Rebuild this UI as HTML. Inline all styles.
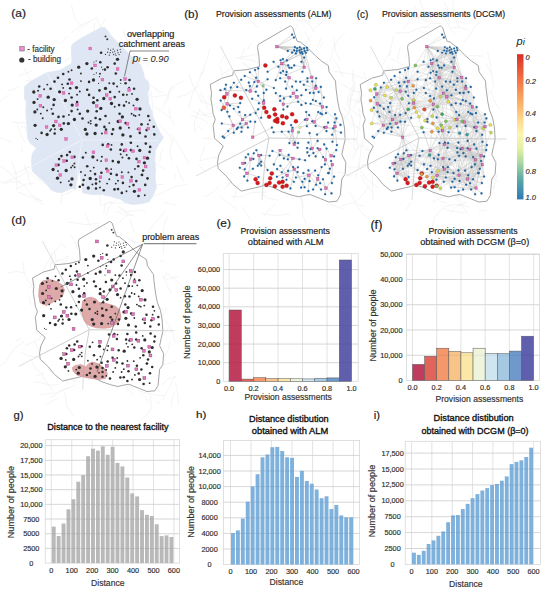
<!DOCTYPE html>
<html><head><meta charset="utf-8"><style>
html,body{margin:0;padding:0;background:#fff;}
svg{display:block;font-family:"Liberation Sans", sans-serif;}
</style></head><body>
<svg width="550" height="593" viewBox="0 0 550 593">
<rect width="550" height="593" fill="#fff"/>
<path d="M31.2,186.3 L27.3,173.5 L24.4,164.8" fill="none" stroke="#ededed" stroke-width="0.6" stroke-linejoin="round"/>
<path d="M160.2,94.8 L155.1,88.7" fill="none" stroke="#ededed" stroke-width="0.6" stroke-linejoin="round"/>
<path d="M25.7,80.3 L40.8,83.1 L48.2,83.5 L53.5,83.4" fill="none" stroke="#ededed" stroke-width="0.6" stroke-linejoin="round"/>
<path d="M47.6,60.6 L38.2,58.9 L25.6,50.5" fill="none" stroke="#ededed" stroke-width="0.6" stroke-linejoin="round"/>
<path d="M25.4,142.7 L20.9,135.3 L16.8,123.1" fill="none" stroke="#ededed" stroke-width="0.6" stroke-linejoin="round"/>
<path d="M167.5,101.2 L169.1,93.2 L175.6,85.0 L183.9,80.8" fill="none" stroke="#ededed" stroke-width="0.6" stroke-linejoin="round"/>
<path d="M153.4,112.8 L152.5,106.0 L151.6,93.3" fill="none" stroke="#ededed" stroke-width="0.6" stroke-linejoin="round"/>
<path d="M127.9,213.4 L122.8,208.9 L118.2,206.6" fill="none" stroke="#ededed" stroke-width="0.6" stroke-linejoin="round"/>
<path d="M42.3,200.8 L27.6,196.0 L18.3,192.1" fill="none" stroke="#ededed" stroke-width="0.6" stroke-linejoin="round"/>
<path d="M122.8,33.4 L130.4,36.3" fill="none" stroke="#ededed" stroke-width="0.6" stroke-linejoin="round"/>
<path d="M39.7,74.9 L43.0,80.9 L51.4,90.6" fill="none" stroke="#ededed" stroke-width="0.6" stroke-linejoin="round"/>
<path d="M88.9,21.5 L81.7,24.7 L71.4,32.7" fill="none" stroke="#ededed" stroke-width="0.6" stroke-linejoin="round"/>
<path d="M174.4,143.0 L167.4,133.1 L159.8,124.6" fill="none" stroke="#ededed" stroke-width="0.6" stroke-linejoin="round"/>
<path d="M18.3,76.5 L31.7,71.0" fill="none" stroke="#ededed" stroke-width="0.6" stroke-linejoin="round"/>
<path d="M61.1,204.7 L61.3,198.2 L62.5,183.9" fill="none" stroke="#ededed" stroke-width="0.6" stroke-linejoin="round"/>
<path d="M161.5,109.0 L164.6,104.5 L166.5,98.7 L172.1,85.0" fill="none" stroke="#ededed" stroke-width="0.6" stroke-linejoin="round"/>
<path d="M167.8,94.8 L153.4,97.0" fill="none" stroke="#ededed" stroke-width="0.6" stroke-linejoin="round"/>
<path d="M176.1,173.3 L174.2,179.1" fill="none" stroke="#ededed" stroke-width="0.6" stroke-linejoin="round"/>
<path d="M163.8,184.3 L150.8,185.0 L144.7,188.1 L137.4,188.5" fill="none" stroke="#ededed" stroke-width="0.6" stroke-linejoin="round"/>
<path d="M151.3,90.4 L146.8,105.1 L139.7,115.9" fill="none" stroke="#ededed" stroke-width="0.6" stroke-linejoin="round"/>
<path d="M108.2,202.0 L114.0,203.2 L128.8,202.8 L143.9,203.4" fill="none" stroke="#ededed" stroke-width="0.6" stroke-linejoin="round"/>
<path d="M79.9,39.9 L90.8,49.2" fill="none" stroke="#ededed" stroke-width="0.6" stroke-linejoin="round"/>
<path d="M13.0,174.2 L22.3,170.6 L27.1,167.6 L42.6,165.3" fill="none" stroke="#ededed" stroke-width="0.6" stroke-linejoin="round"/>
<path d="M174.9,125.4 L171.4,119.3 L166.1,114.5 L154.6,106.5" fill="none" stroke="#ededed" stroke-width="0.6" stroke-linejoin="round"/>
<path d="M23.6,167.5 L35.2,177.5 L42.1,182.2 L49.8,185.8" fill="none" stroke="#ededed" stroke-width="0.6" stroke-linejoin="round"/>
<path d="M20.6,127.0 L25.8,126.9" fill="none" stroke="#ededed" stroke-width="0.6" stroke-linejoin="round"/>
<path d="M25.5,172.3 L19.9,176.4 L5.1,181.9 L-3.4,182.2" fill="none" stroke="#ededed" stroke-width="0.6" stroke-linejoin="round"/>
<path d="M26.5,119.7 L31.2,114.1 L39.8,104.5" fill="none" stroke="#ededed" stroke-width="0.6" stroke-linejoin="round"/>
<path d="M102.4,205.5 L111.3,201.7" fill="none" stroke="#ededed" stroke-width="0.6" stroke-linejoin="round"/>
<path d="M65.9,68.4 L79.0,77.1 L91.6,78.4 L102.9,80.5" fill="none" stroke="#ededed" stroke-width="0.6" stroke-linejoin="round"/>
<path d="M62.3,195.4 L69.3,192.8 L80.0,186.2 L92.8,185.1" fill="none" stroke="#ededed" stroke-width="0.6" stroke-linejoin="round"/>
<path d="M165.0,169.4 L153.7,162.2 L148.9,155.3" fill="none" stroke="#ededed" stroke-width="0.6" stroke-linejoin="round"/>
<path d="M153.9,196.1 L160.2,193.7 L174.0,187.0 L187.3,184.0" fill="none" stroke="#ededed" stroke-width="0.6" stroke-linejoin="round"/>
<path d="M23.7,67.8 L31.5,81.3 L42.0,89.9 L48.3,100.4" fill="none" stroke="#ededed" stroke-width="0.6" stroke-linejoin="round"/>
<path d="M165.5,211.0 L155.5,222.2 L148.2,231.5" fill="none" stroke="#ededed" stroke-width="0.6" stroke-linejoin="round"/>
<path d="M162.9,148.9 L160.9,153.5 L159.7,163.3" fill="none" stroke="#ededed" stroke-width="0.6" stroke-linejoin="round"/>
<path d="M11.9,142.3 L4.3,139.4 L-3.0,136.2" fill="none" stroke="#ededed" stroke-width="0.6" stroke-linejoin="round"/>
<path d="M145.8,211.5 L139.6,210.2 L125.0,211.5" fill="none" stroke="#ededed" stroke-width="0.6" stroke-linejoin="round"/>
<path d="M105.1,19.4 L96.9,32.8 L94.9,43.1 L92.7,51.3" fill="none" stroke="#ededed" stroke-width="0.6" stroke-linejoin="round"/>
<path d="M98.2,17.0 L88.6,22.3 L78.4,30.5" fill="none" stroke="#ededed" stroke-width="0.6" stroke-linejoin="round"/>
<path d="M164.4,93.3 L153.0,87.2 L143.3,78.5" fill="none" stroke="#ededed" stroke-width="0.6" stroke-linejoin="round"/>
<path d="M42.2,201.5 L30.9,194.7 L26.6,187.5 L17.5,179.9" fill="none" stroke="#ededed" stroke-width="0.6" stroke-linejoin="round"/>
<path d="M8.9,94.6 L-0.6,101.6 L-13.2,103.6" fill="none" stroke="#ededed" stroke-width="0.6" stroke-linejoin="round"/>
<path d="M11.9,161.1 L16.2,174.7 L16.8,188.7" fill="none" stroke="#ededed" stroke-width="0.6" stroke-linejoin="round"/>
<path d="M34.2,183.4 L26.3,184.1 L16.1,189.5" fill="none" stroke="#ededed" stroke-width="0.6" stroke-linejoin="round"/>
<path d="M129.1,49.1 L137.4,57.3 L143.9,60.6 L149.0,66.7" fill="none" stroke="#ededed" stroke-width="0.6" stroke-linejoin="round"/>
<path d="M21.1,182.9 L10.0,181.7 L2.2,184.4" fill="none" stroke="#ededed" stroke-width="0.6" stroke-linejoin="round"/>
<path d="M133.3,216.1 L126.6,212.7 L120.6,209.2" fill="none" stroke="#ededed" stroke-width="0.6" stroke-linejoin="round"/>
<path d="M64.4,61.3 L75.3,55.6 L89.7,53.7 L104.5,50.2" fill="none" stroke="#ededed" stroke-width="0.6" stroke-linejoin="round"/>
<path d="M169.1,108.7 L170.6,118.4" fill="none" stroke="#ededed" stroke-width="0.6" stroke-linejoin="round"/>
<path d="M124.2,30.4 L125.1,36.5 L127.6,41.5" fill="none" stroke="#ededed" stroke-width="0.6" stroke-linejoin="round"/>
<path d="M172.3,139.4 L169.8,151.8 L171.7,161.0" fill="none" stroke="#ededed" stroke-width="0.6" stroke-linejoin="round"/>
<path d="M37.0,63.1 L41.4,54.9 L44.7,47.8" fill="none" stroke="#ededed" stroke-width="0.6" stroke-linejoin="round"/>
<path d="M90.0,194.6 L98.1,189.8 L111.3,187.7" fill="none" stroke="#ededed" stroke-width="0.6" stroke-linejoin="round"/>
<path d="M34.2,199.5 L44.0,204.5" fill="none" stroke="#ededed" stroke-width="0.6" stroke-linejoin="round"/>
<path d="M21.9,147.2 L22.6,152.9" fill="none" stroke="#ededed" stroke-width="0.6" stroke-linejoin="round"/>
<path d="M54.9,40.3 L60.3,43.8" fill="none" stroke="#ededed" stroke-width="0.6" stroke-linejoin="round"/>
<path d="M64.4,70.4 L65.5,75.9 L62.8,87.1 L61.7,98.7" fill="none" stroke="#ededed" stroke-width="0.6" stroke-linejoin="round"/>
<path d="M18.7,87.4 L8.4,91.1" fill="none" stroke="#ededed" stroke-width="0.6" stroke-linejoin="round"/>
<path d="M81.1,25.8 L75.0,19.1 L73.6,13.8 L71.4,4.2" fill="none" stroke="#ededed" stroke-width="0.6" stroke-linejoin="round"/>
<path d="M12.5,121.7 L17.8,122.5 L30.9,123.0" fill="none" stroke="#ededed" stroke-width="0.6" stroke-linejoin="round"/>
<path d="M61.6,42.8 L66.5,36.1" fill="none" stroke="#ededed" stroke-width="0.6" stroke-linejoin="round"/>
<path d="M170.9,133.6 L177.0,142.5 L184.3,154.8 L189.1,164.4" fill="none" stroke="#ededed" stroke-width="0.6" stroke-linejoin="round"/>
<path d="M176.8,165.4 L178.6,171.2 L183.5,181.5" fill="none" stroke="#ededed" stroke-width="0.6" stroke-linejoin="round"/>
<path d="M15.8,179.8 L10.3,173.3 L-0.4,165.4" fill="none" stroke="#ededed" stroke-width="0.6" stroke-linejoin="round"/>
<path d="M96.8,18.5 L100.0,26.5 L103.1,31.3" fill="none" stroke="#ededed" stroke-width="0.6" stroke-linejoin="round"/>
<path d="M163.5,202.3 L177.0,205.5" fill="none" stroke="#ededed" stroke-width="0.6" stroke-linejoin="round"/>
<path d="M106.2,215.3 L108.7,206.9 L118.3,197.1 L123.4,190.4" fill="none" stroke="#ededed" stroke-width="0.6" stroke-linejoin="round"/>
<path d="M94.6,22.6 L93.7,37.6" fill="none" stroke="#ededed" stroke-width="0.6" stroke-linejoin="round"/>
<path d="M25.2,125.9 L26.3,131.6" fill="none" stroke="#ededed" stroke-width="0.6" stroke-linejoin="round"/>
<path d="M45.7,56.9 L33.4,58.3" fill="none" stroke="#ededed" stroke-width="0.6" stroke-linejoin="round"/>
<path d="M100.9,205.7 L99.1,191.6 L102.4,182.7 L100.9,172.0" fill="none" stroke="#ededed" stroke-width="0.6" stroke-linejoin="round"/>
<path d="M101.5,27.6 L104.7,27.6 L108.0,30.9 L109.5,34.0 L120.0,45.1 L130.0,55.0 L136.0,60.5 L140.4,64.4 L142.9,70.8 L144.5,78.0 L148.5,82.0 L149.3,88.5 L147.7,93.3 L148.5,102.9 L151.7,110.9 L153.3,117.3 L156.5,125.3 L160.4,133.3 L163.4,137.3 L159.4,143.4 L155.3,150.5 L154.8,160.6 L155.5,169.0 L155.0,178.2 L156.4,187.3 L152.7,196.4 L149.1,201.8 L141.8,203.6 L132.7,204.5 L125.5,202.7 L120.0,199.1 L110.9,196.4 L101.8,194.5 L90.9,194.5 L82.7,192.7 L79.4,168.0 L75.5,189.5 L72.4,188.1 L62.3,192.4 L56.6,192.4 L50.9,189.6 L45.1,182.4 L38.0,176.6 L32.2,170.9 L31.5,160.9 L32.2,153.7 L36.5,148.0 L30.8,143.7 L27.9,139.3 L26.5,121.1 L25.8,110.9 L26.5,102.0 L24.5,98.2 L24.5,86.7 L30.3,81.6 L46.8,72.7 L60.0,70.2 L71.5,63.6 L72.0,59.3 L71.5,52.7 L71.5,46.2 L73.1,43.5 L81.8,38.0 L92.7,32.0 Z" fill="#dfe7f4" stroke="#dfe7f4" stroke-width="0.8" stroke-linejoin="round"/>
<path d="M46.8,72.8 L62.3,101.8 L82.3,139.8" fill="none" stroke="#eef2fa" stroke-width="1.0" stroke-linejoin="round"/>
<path d="M82.3,139.8 L158.3,140.8" fill="none" stroke="#eef2fa" stroke-width="1.0" stroke-linejoin="round"/>
<path d="M82.3,139.8 L31.2,166.3" fill="none" stroke="#eef2fa" stroke-width="1.0" stroke-linejoin="round"/>
<path d="M82.3,139.8 L78.3,161.8 L76.3,186.8" fill="none" stroke="#eef2fa" stroke-width="1.0" stroke-linejoin="round"/>
<circle cx="78.7" cy="67.2" r="1.65" fill="#2d2d2d"/>
<circle cx="68.4" cy="71.8" r="0.95" fill="#2d2d2d"/>
<circle cx="71.6" cy="70.2" r="0.95" fill="#2d2d2d"/>
<circle cx="63.2" cy="74.0" r="1.3" fill="#2d2d2d"/>
<circle cx="80.9" cy="73.5" r="0.95" fill="#2d2d2d"/>
<circle cx="58.0" cy="77.8" r="1.3" fill="#2d2d2d"/>
<circle cx="69.5" cy="79.5" r="1.3" fill="#2d2d2d"/>
<circle cx="54.5" cy="81.6" r="1.3" fill="#2d2d2d"/>
<circle cx="47.3" cy="84.6" r="0.95" fill="#2d2d2d"/>
<circle cx="62.1" cy="84.4" r="0.95" fill="#2d2d2d"/>
<circle cx="67.8" cy="83.8" r="1.3" fill="#2d2d2d"/>
<circle cx="80.9" cy="81.1" r="0.95" fill="#2d2d2d"/>
<circle cx="39.2" cy="86.5" r="1.3" fill="#2d2d2d"/>
<circle cx="63.2" cy="87.9" r="0.95" fill="#2d2d2d"/>
<circle cx="70.2" cy="88.2" r="1.3" fill="#2d2d2d"/>
<circle cx="76.5" cy="87.6" r="1.65" fill="#2d2d2d"/>
<circle cx="50.6" cy="88.7" r="1.3" fill="#2d2d2d"/>
<circle cx="44.1" cy="89.3" r="0.95" fill="#2d2d2d"/>
<circle cx="38.1" cy="90.7" r="0.95" fill="#2d2d2d"/>
<circle cx="33.8" cy="92.0" r="1.65" fill="#2d2d2d"/>
<circle cx="59.6" cy="91.8" r="1.65" fill="#2d2d2d"/>
<circle cx="79.8" cy="91.5" r="0.95" fill="#2d2d2d"/>
<circle cx="48.2" cy="97.2" r="1.65" fill="#2d2d2d"/>
<circle cx="69.1" cy="93.6" r="0.95" fill="#2d2d2d"/>
<circle cx="71.6" cy="97.5" r="1.3" fill="#2d2d2d"/>
<circle cx="77.1" cy="94.7" r="0.95" fill="#2d2d2d"/>
<circle cx="54.2" cy="99.6" r="1.65" fill="#2d2d2d"/>
<circle cx="65.4" cy="100.5" r="1.65" fill="#2d2d2d"/>
<circle cx="37.6" cy="99.1" r="0.95" fill="#2d2d2d"/>
<circle cx="34.0" cy="102.4" r="1.65" fill="#2d2d2d"/>
<circle cx="77.1" cy="102.0" r="1.3" fill="#2d2d2d"/>
<circle cx="53.6" cy="104.9" r="1.3" fill="#2d2d2d"/>
<circle cx="72.2" cy="105.1" r="1.65" fill="#2d2d2d"/>
<circle cx="43.3" cy="107.3" r="0.95" fill="#2d2d2d"/>
<circle cx="51.5" cy="108.9" r="0.95" fill="#2d2d2d"/>
<circle cx="37.3" cy="109.5" r="0.95" fill="#2d2d2d"/>
<circle cx="34.9" cy="111.9" r="1.65" fill="#2d2d2d"/>
<circle cx="47.1" cy="110.5" r="0.95" fill="#2d2d2d"/>
<circle cx="71.6" cy="111.1" r="1.3" fill="#2d2d2d"/>
<circle cx="77.6" cy="109.5" r="0.95" fill="#2d2d2d"/>
<circle cx="52.8" cy="113.8" r="1.3" fill="#2d2d2d"/>
<circle cx="40.8" cy="113.6" r="0.95" fill="#2d2d2d"/>
<circle cx="68.9" cy="114.9" r="0.95" fill="#2d2d2d"/>
<circle cx="79.8" cy="113.8" r="1.3" fill="#2d2d2d"/>
<circle cx="105.5" cy="36.4" r="0.95" fill="#2d2d2d"/>
<circle cx="107.3" cy="39.3" r="0.95" fill="#2d2d2d"/>
<circle cx="101.1" cy="52.7" r="1.3" fill="#2d2d2d"/>
<circle cx="108.2" cy="48.9" r="0.6" fill="#2d2d2d"/>
<circle cx="110.6" cy="50.2" r="0.6" fill="#2d2d2d"/>
<circle cx="113.1" cy="49.1" r="0.6" fill="#2d2d2d"/>
<circle cx="114.7" cy="51.1" r="0.6" fill="#2d2d2d"/>
<circle cx="117.5" cy="50.2" r="0.6" fill="#2d2d2d"/>
<circle cx="120.2" cy="49.5" r="0.6" fill="#2d2d2d"/>
<circle cx="107.6" cy="52.2" r="0.6" fill="#2d2d2d"/>
<circle cx="110.1" cy="52.7" r="0.6" fill="#2d2d2d"/>
<circle cx="112.8" cy="52.2" r="0.6" fill="#2d2d2d"/>
<circle cx="115.3" cy="53.8" r="0.6" fill="#2d2d2d"/>
<circle cx="118.0" cy="52.7" r="0.6" fill="#2d2d2d"/>
<circle cx="105.5" cy="54.4" r="0.6" fill="#2d2d2d"/>
<circle cx="109.3" cy="55.2" r="0.6" fill="#2d2d2d"/>
<circle cx="113.6" cy="54.6" r="0.6" fill="#2d2d2d"/>
<circle cx="116.0" cy="55.5" r="0.6" fill="#2d2d2d"/>
<circle cx="119.1" cy="54.6" r="0.6" fill="#2d2d2d"/>
<circle cx="120.7" cy="52.0" r="0.6" fill="#2d2d2d"/>
<circle cx="117.5" cy="59.3" r="1.65" fill="#2d2d2d"/>
<circle cx="114.7" cy="63.6" r="1.3" fill="#2d2d2d"/>
<circle cx="86.9" cy="63.6" r="1.65" fill="#2d2d2d"/>
<circle cx="100.3" cy="62.2" r="1.3" fill="#2d2d2d"/>
<circle cx="94.0" cy="62.0" r="0.6" fill="#2d2d2d"/>
<circle cx="96.2" cy="60.9" r="0.6" fill="#2d2d2d"/>
<circle cx="107.6" cy="67.2" r="1.3" fill="#2d2d2d"/>
<circle cx="104.9" cy="69.6" r="1.3" fill="#2d2d2d"/>
<circle cx="101.6" cy="67.2" r="0.6" fill="#2d2d2d"/>
<circle cx="102.7" cy="69.6" r="0.6" fill="#2d2d2d"/>
<circle cx="91.8" cy="68.5" r="1.3" fill="#2d2d2d"/>
<circle cx="115.8" cy="73.5" r="1.3" fill="#2d2d2d"/>
<circle cx="96.4" cy="72.9" r="0.6" fill="#2d2d2d"/>
<circle cx="100.0" cy="73.8" r="0.95" fill="#2d2d2d"/>
<circle cx="94.0" cy="74.5" r="0.6" fill="#2d2d2d"/>
<circle cx="99.5" cy="76.7" r="0.6" fill="#2d2d2d"/>
<circle cx="93.5" cy="80.0" r="1.65" fill="#2d2d2d"/>
<circle cx="89.1" cy="81.9" r="1.3" fill="#2d2d2d"/>
<circle cx="98.6" cy="83.3" r="0.6" fill="#2d2d2d"/>
<circle cx="109.3" cy="83.3" r="0.95" fill="#2d2d2d"/>
<circle cx="113.6" cy="83.6" r="1.3" fill="#2d2d2d"/>
<circle cx="120.7" cy="80.0" r="0.95" fill="#2d2d2d"/>
<circle cx="120.7" cy="83.3" r="0.6" fill="#2d2d2d"/>
<circle cx="125.6" cy="83.3" r="1.3" fill="#2d2d2d"/>
<circle cx="129.5" cy="80.0" r="1.3" fill="#2d2d2d"/>
<circle cx="87.2" cy="89.8" r="1.3" fill="#2d2d2d"/>
<circle cx="99.5" cy="90.4" r="1.3" fill="#2d2d2d"/>
<circle cx="105.5" cy="88.4" r="1.65" fill="#2d2d2d"/>
<circle cx="117.1" cy="86.5" r="0.95" fill="#2d2d2d"/>
<circle cx="110.1" cy="92.0" r="1.3" fill="#2d2d2d"/>
<circle cx="119.3" cy="91.7" r="0.95" fill="#2d2d2d"/>
<circle cx="129.1" cy="87.6" r="0.95" fill="#2d2d2d"/>
<circle cx="134.1" cy="88.7" r="1.3" fill="#2d2d2d"/>
<circle cx="89.1" cy="94.9" r="1.3" fill="#2d2d2d"/>
<circle cx="123.2" cy="94.7" r="1.3" fill="#2d2d2d"/>
<circle cx="126.9" cy="94.7" r="0.95" fill="#2d2d2d"/>
<circle cx="132.0" cy="93.9" r="0.95" fill="#2d2d2d"/>
<circle cx="93.5" cy="97.8" r="1.3" fill="#2d2d2d"/>
<circle cx="103.8" cy="98.5" r="1.65" fill="#2d2d2d"/>
<circle cx="114.7" cy="97.1" r="1.3" fill="#2d2d2d"/>
<circle cx="137.1" cy="99.3" r="1.65" fill="#2d2d2d"/>
<circle cx="97.3" cy="100.2" r="1.3" fill="#2d2d2d"/>
<circle cx="93.5" cy="102.6" r="1.65" fill="#2d2d2d"/>
<circle cx="111.5" cy="103.5" r="1.65" fill="#2d2d2d"/>
<circle cx="126.2" cy="101.8" r="0.95" fill="#2d2d2d"/>
<circle cx="129.1" cy="102.9" r="0.95" fill="#2d2d2d"/>
<circle cx="119.1" cy="105.1" r="1.3" fill="#2d2d2d"/>
<circle cx="124.0" cy="105.6" r="1.3" fill="#2d2d2d"/>
<circle cx="133.5" cy="105.4" r="0.95" fill="#2d2d2d"/>
<circle cx="100.8" cy="108.4" r="1.65" fill="#2d2d2d"/>
<circle cx="114.7" cy="106.7" r="0.95" fill="#2d2d2d"/>
<circle cx="140.0" cy="108.9" r="1.65" fill="#2d2d2d"/>
<circle cx="87.7" cy="111.1" r="1.65" fill="#2d2d2d"/>
<circle cx="96.7" cy="111.3" r="1.3" fill="#2d2d2d"/>
<circle cx="119.6" cy="113.8" r="1.3" fill="#2d2d2d"/>
<circle cx="131.6" cy="113.8" r="0.95" fill="#2d2d2d"/>
<circle cx="133.8" cy="115.2" r="0.95" fill="#2d2d2d"/>
<circle cx="135.5" cy="116.0" r="0.95" fill="#2d2d2d"/>
<circle cx="139.3" cy="114.9" r="0.95" fill="#2d2d2d"/>
<circle cx="122.4" cy="116.9" r="1.65" fill="#2d2d2d"/>
<circle cx="105.5" cy="116.0" r="1.3" fill="#2d2d2d"/>
<circle cx="95.6" cy="118.0" r="1.3" fill="#2d2d2d"/>
<circle cx="100.0" cy="119.3" r="1.3" fill="#2d2d2d"/>
<circle cx="82.5" cy="118.5" r="1.3" fill="#2d2d2d"/>
<circle cx="118.2" cy="121.5" r="1.65" fill="#2d2d2d"/>
<circle cx="125.6" cy="123.1" r="1.3" fill="#2d2d2d"/>
<circle cx="109.3" cy="123.1" r="0.95" fill="#2d2d2d"/>
<circle cx="90.7" cy="120.9" r="0.95" fill="#2d2d2d"/>
<circle cx="88.5" cy="122.5" r="0.95" fill="#2d2d2d"/>
<circle cx="90.7" cy="123.6" r="0.95" fill="#2d2d2d"/>
<circle cx="141.5" cy="124.4" r="1.3" fill="#2d2d2d"/>
<circle cx="96.2" cy="125.1" r="1.65" fill="#2d2d2d"/>
<circle cx="120.2" cy="128.0" r="1.65" fill="#2d2d2d"/>
<circle cx="128.9" cy="127.7" r="0.95" fill="#2d2d2d"/>
<circle cx="104.4" cy="126.9" r="1.3" fill="#2d2d2d"/>
<circle cx="106.0" cy="129.6" r="1.3" fill="#2d2d2d"/>
<circle cx="113.1" cy="129.4" r="1.3" fill="#2d2d2d"/>
<circle cx="137.6" cy="129.1" r="0.95" fill="#2d2d2d"/>
<circle cx="85.3" cy="129.4" r="1.65" fill="#2d2d2d"/>
<circle cx="86.9" cy="134.0" r="1.65" fill="#2d2d2d"/>
<circle cx="95.1" cy="133.5" r="1.65" fill="#2d2d2d"/>
<circle cx="101.9" cy="133.5" r="0.95" fill="#2d2d2d"/>
<circle cx="112.0" cy="134.0" r="1.3" fill="#2d2d2d"/>
<circle cx="122.9" cy="134.9" r="1.65" fill="#2d2d2d"/>
<circle cx="139.8" cy="132.9" r="1.3" fill="#2d2d2d"/>
<circle cx="130.5" cy="136.4" r="1.3" fill="#2d2d2d"/>
<circle cx="102.7" cy="144.9" r="1.3" fill="#2d2d2d"/>
<circle cx="108.2" cy="144.4" r="1.3" fill="#2d2d2d"/>
<circle cx="111.5" cy="144.9" r="0.95" fill="#2d2d2d"/>
<circle cx="121.8" cy="144.4" r="1.3" fill="#2d2d2d"/>
<circle cx="130.9" cy="142.7" r="1.3" fill="#2d2d2d"/>
<circle cx="42.7" cy="118.2" r="0.95" fill="#2d2d2d"/>
<circle cx="58.5" cy="116.9" r="1.3" fill="#2d2d2d"/>
<circle cx="63.5" cy="116.5" r="1.3" fill="#2d2d2d"/>
<circle cx="74.4" cy="119.5" r="1.65" fill="#2d2d2d"/>
<circle cx="35.1" cy="125.3" r="1.65" fill="#2d2d2d"/>
<circle cx="53.6" cy="125.6" r="1.65" fill="#2d2d2d"/>
<circle cx="63.8" cy="123.4" r="1.3" fill="#2d2d2d"/>
<circle cx="68.4" cy="123.6" r="1.65" fill="#2d2d2d"/>
<circle cx="51.2" cy="129.3" r="0.95" fill="#2d2d2d"/>
<circle cx="50.1" cy="130.7" r="0.95" fill="#2d2d2d"/>
<circle cx="54.9" cy="129.3" r="0.95" fill="#2d2d2d"/>
<circle cx="61.3" cy="129.3" r="1.65" fill="#2d2d2d"/>
<circle cx="41.6" cy="132.9" r="1.3" fill="#2d2d2d"/>
<circle cx="47.1" cy="134.5" r="1.65" fill="#2d2d2d"/>
<circle cx="54.7" cy="133.5" r="1.3" fill="#2d2d2d"/>
<circle cx="36.0" cy="138.4" r="0.6" fill="#2d2d2d"/>
<circle cx="37.5" cy="139.5" r="0.6" fill="#2d2d2d"/>
<circle cx="69.8" cy="152.0" r="1.3" fill="#2d2d2d"/>
<circle cx="67.1" cy="155.1" r="1.3" fill="#2d2d2d"/>
<circle cx="61.5" cy="156.1" r="1.3" fill="#2d2d2d"/>
<circle cx="74.4" cy="156.9" r="1.3" fill="#2d2d2d"/>
<circle cx="59.1" cy="159.1" r="1.3" fill="#2d2d2d"/>
<circle cx="66.7" cy="160.7" r="1.3" fill="#2d2d2d"/>
<circle cx="58.5" cy="164.9" r="1.3" fill="#2d2d2d"/>
<circle cx="74.4" cy="163.5" r="0.95" fill="#2d2d2d"/>
<circle cx="72.7" cy="165.6" r="0.95" fill="#2d2d2d"/>
<circle cx="71.1" cy="167.5" r="0.95" fill="#2d2d2d"/>
<circle cx="74.6" cy="167.3" r="0.95" fill="#2d2d2d"/>
<circle cx="53.1" cy="169.5" r="1.65" fill="#2d2d2d"/>
<circle cx="66.2" cy="170.5" r="1.65" fill="#2d2d2d"/>
<circle cx="58.0" cy="171.1" r="0.95" fill="#2d2d2d"/>
<circle cx="80.9" cy="171.9" r="0.95" fill="#2d2d2d"/>
<circle cx="110.9" cy="149.5" r="1.3" fill="#2d2d2d"/>
<circle cx="120.4" cy="149.8" r="1.3" fill="#2d2d2d"/>
<circle cx="124.0" cy="150.9" r="1.3" fill="#2d2d2d"/>
<circle cx="130.9" cy="150.1" r="1.3" fill="#2d2d2d"/>
<circle cx="139.8" cy="150.4" r="1.65" fill="#2d2d2d"/>
<circle cx="137.6" cy="146.2" r="0.95" fill="#2d2d2d"/>
<circle cx="85.8" cy="152.8" r="0.95" fill="#2d2d2d"/>
<circle cx="120.7" cy="154.2" r="0.95" fill="#2d2d2d"/>
<circle cx="126.7" cy="154.9" r="0.95" fill="#2d2d2d"/>
<circle cx="82.9" cy="157.5" r="1.3" fill="#2d2d2d"/>
<circle cx="92.9" cy="156.9" r="1.65" fill="#2d2d2d"/>
<circle cx="101.9" cy="156.7" r="0.95" fill="#2d2d2d"/>
<circle cx="122.4" cy="157.5" r="0.95" fill="#2d2d2d"/>
<circle cx="128.9" cy="158.2" r="1.3" fill="#2d2d2d"/>
<circle cx="136.5" cy="158.9" r="1.3" fill="#2d2d2d"/>
<circle cx="97.3" cy="160.2" r="0.95" fill="#2d2d2d"/>
<circle cx="101.1" cy="161.1" r="0.95" fill="#2d2d2d"/>
<circle cx="112.8" cy="161.1" r="1.3" fill="#2d2d2d"/>
<circle cx="118.5" cy="162.1" r="1.65" fill="#2d2d2d"/>
<circle cx="87.2" cy="166.2" r="1.3" fill="#2d2d2d"/>
<circle cx="138.2" cy="166.2" r="1.3" fill="#2d2d2d"/>
<circle cx="93.8" cy="167.6" r="0.95" fill="#2d2d2d"/>
<circle cx="106.5" cy="168.9" r="1.3" fill="#2d2d2d"/>
<circle cx="111.2" cy="169.1" r="0.95" fill="#2d2d2d"/>
<circle cx="134.9" cy="168.9" r="0.95" fill="#2d2d2d"/>
<circle cx="90.5" cy="170.9" r="0.95" fill="#2d2d2d"/>
<circle cx="121.8" cy="172.2" r="0.95" fill="#2d2d2d"/>
<circle cx="128.4" cy="172.4" r="0.95" fill="#2d2d2d"/>
<circle cx="95.1" cy="174.1" r="1.3" fill="#2d2d2d"/>
<circle cx="101.4" cy="172.7" r="1.3" fill="#2d2d2d"/>
<circle cx="110.9" cy="173.8" r="1.3" fill="#2d2d2d"/>
<circle cx="116.7" cy="174.9" r="1.3" fill="#2d2d2d"/>
<circle cx="141.5" cy="174.9" r="0.95" fill="#2d2d2d"/>
<circle cx="85.1" cy="175.2" r="0.95" fill="#2d2d2d"/>
<circle cx="131.6" cy="177.1" r="1.3" fill="#2d2d2d"/>
<circle cx="90.2" cy="178.5" r="1.65" fill="#2d2d2d"/>
<circle cx="96.0" cy="179.3" r="1.3" fill="#2d2d2d"/>
<circle cx="109.3" cy="179.3" r="0.95" fill="#2d2d2d"/>
<circle cx="83.6" cy="180.0" r="1.3" fill="#2d2d2d"/>
<circle cx="118.0" cy="180.7" r="0.95" fill="#2d2d2d"/>
<circle cx="136.3" cy="181.1" r="1.3" fill="#2d2d2d"/>
<circle cx="99.7" cy="181.5" r="0.95" fill="#2d2d2d"/>
<circle cx="122.9" cy="182.9" r="1.3" fill="#2d2d2d"/>
<circle cx="96.0" cy="183.6" r="1.3" fill="#2d2d2d"/>
<circle cx="92.4" cy="184.4" r="0.95" fill="#2d2d2d"/>
<circle cx="107.1" cy="183.6" r="0.95" fill="#2d2d2d"/>
<circle cx="115.8" cy="183.6" r="0.95" fill="#2d2d2d"/>
<circle cx="82.9" cy="184.7" r="1.3" fill="#2d2d2d"/>
<circle cx="133.5" cy="185.1" r="1.3" fill="#2d2d2d"/>
<circle cx="129.5" cy="186.6" r="0.95" fill="#2d2d2d"/>
<circle cx="100.0" cy="187.5" r="0.95" fill="#2d2d2d"/>
<circle cx="88.3" cy="188.0" r="1.65" fill="#2d2d2d"/>
<circle cx="96.0" cy="188.5" r="1.3" fill="#2d2d2d"/>
<circle cx="114.5" cy="189.4" r="1.3" fill="#2d2d2d"/>
<circle cx="118.0" cy="189.1" r="1.3" fill="#2d2d2d"/>
<circle cx="103.8" cy="190.2" r="1.3" fill="#2d2d2d"/>
<circle cx="134.4" cy="191.3" r="1.65" fill="#2d2d2d"/>
<circle cx="126.5" cy="191.3" r="0.95" fill="#2d2d2d"/>
<circle cx="121.8" cy="192.9" r="1.3" fill="#2d2d2d"/>
<circle cx="138.5" cy="196.0" r="1.3" fill="#2d2d2d"/>
<circle cx="148.3" cy="116.1" r="1.3" fill="#2d2d2d"/>
<circle cx="149.7" cy="120.2" r="0.95" fill="#2d2d2d"/>
<circle cx="147.9" cy="124.3" r="0.95" fill="#2d2d2d"/>
<circle cx="153.8" cy="126.7" r="1.3" fill="#2d2d2d"/>
<circle cx="146.6" cy="130.1" r="1.3" fill="#2d2d2d"/>
<circle cx="154.3" cy="134.4" r="1.3" fill="#2d2d2d"/>
<circle cx="145.5" cy="136.5" r="1.3" fill="#2d2d2d"/>
<circle cx="145.8" cy="143.6" r="1.3" fill="#2d2d2d"/>
<circle cx="150.2" cy="146.9" r="1.3" fill="#2d2d2d"/>
<circle cx="149.6" cy="151.9" r="1.3" fill="#2d2d2d"/>
<circle cx="147.5" cy="158.2" r="1.65" fill="#2d2d2d"/>
<circle cx="144.4" cy="162.8" r="1.65" fill="#2d2d2d"/>
<circle cx="143.1" cy="170.6" r="1.3" fill="#2d2d2d"/>
<circle cx="142.1" cy="174.9" r="1.3" fill="#2d2d2d"/>
<circle cx="147.5" cy="178.4" r="1.3" fill="#2d2d2d"/>
<circle cx="145.2" cy="184.9" r="1.3" fill="#2d2d2d"/>
<circle cx="144.8" cy="195.2" r="0.95" fill="#2d2d2d"/>
<circle cx="57.5" cy="178.2" r="1.65" fill="#2d2d2d"/>
<circle cx="60.7" cy="182.4" r="0.95" fill="#2d2d2d"/>
<circle cx="72.0" cy="178.9" r="1.65" fill="#2d2d2d"/>
<circle cx="68.9" cy="181.1" r="0.95" fill="#2d2d2d"/>
<circle cx="70.9" cy="184.8" r="1.65" fill="#2d2d2d"/>
<circle cx="79.8" cy="186.7" r="1.3" fill="#2d2d2d"/>
<rect x="88.85" y="47.10" width="2.80" height="2.80" fill="#ec74c4" stroke="#c06098" stroke-width="0.4"/>
<rect x="93.75" y="64.00" width="2.80" height="2.80" fill="#ec74c4" stroke="#c06098" stroke-width="0.4"/>
<rect x="116.15" y="67.70" width="2.80" height="2.80" fill="#ec74c4" stroke="#c06098" stroke-width="0.4"/>
<rect x="101.05" y="78.20" width="2.80" height="2.80" fill="#ec74c4" stroke="#c06098" stroke-width="0.4"/>
<rect x="123.75" y="77.70" width="2.80" height="2.80" fill="#ec74c4" stroke="#c06098" stroke-width="0.4"/>
<rect x="127.75" y="88.60" width="2.80" height="2.80" fill="#ec74c4" stroke="#c06098" stroke-width="0.4"/>
<rect x="105.25" y="93.70" width="2.80" height="2.80" fill="#ec74c4" stroke="#c06098" stroke-width="0.4"/>
<rect x="108.85" y="97.30" width="2.80" height="2.80" fill="#ec74c4" stroke="#c06098" stroke-width="0.4"/>
<rect x="95.25" y="104.60" width="2.80" height="2.80" fill="#ec74c4" stroke="#c06098" stroke-width="0.4"/>
<rect x="134.35" y="107.30" width="2.80" height="2.80" fill="#ec74c4" stroke="#c06098" stroke-width="0.4"/>
<rect x="62.15" y="91.50" width="2.80" height="2.80" fill="#ec74c4" stroke="#c06098" stroke-width="0.4"/>
<rect x="70.15" y="81.80" width="2.80" height="2.80" fill="#ec74c4" stroke="#c06098" stroke-width="0.4"/>
<rect x="75.65" y="103.40" width="2.80" height="2.80" fill="#ec74c4" stroke="#c06098" stroke-width="0.4"/>
<rect x="38.85" y="94.40" width="2.80" height="2.80" fill="#ec74c4" stroke="#c06098" stroke-width="0.4"/>
<rect x="54.45" y="120.10" width="2.80" height="2.80" fill="#ec74c4" stroke="#c06098" stroke-width="0.4"/>
<rect x="58.25" y="123.90" width="2.80" height="2.80" fill="#ec74c4" stroke="#c06098" stroke-width="0.4"/>
<rect x="45.15" y="125.70" width="2.80" height="2.80" fill="#ec74c4" stroke="#c06098" stroke-width="0.4"/>
<rect x="64.65" y="137.60" width="2.80" height="2.80" fill="#ec74c4" stroke="#c06098" stroke-width="0.4"/>
<rect x="118.85" y="119.80" width="2.80" height="2.80" fill="#ec74c4" stroke="#c06098" stroke-width="0.4"/>
<rect x="137.95" y="127.70" width="2.80" height="2.80" fill="#ec74c4" stroke="#c06098" stroke-width="0.4"/>
<rect x="146.95" y="127.10" width="2.80" height="2.80" fill="#ec74c4" stroke="#c06098" stroke-width="0.4"/>
<rect x="39.05" y="104.30" width="2.80" height="2.80" fill="#ec74c4" stroke="#c06098" stroke-width="0.4"/>
<rect x="58.95" y="173.70" width="2.80" height="2.80" fill="#ec74c4" stroke="#c06098" stroke-width="0.4"/>
<rect x="99.05" y="175.80" width="2.80" height="2.80" fill="#ec74c4" stroke="#c06098" stroke-width="0.4"/>
<rect x="104.35" y="131.20" width="2.80" height="2.80" fill="#ec74c4" stroke="#c06098" stroke-width="0.4"/>
<rect x="92.05" y="150.90" width="2.80" height="2.80" fill="#ec74c4" stroke="#c06098" stroke-width="0.4"/>
<rect x="124.15" y="148.80" width="2.80" height="2.80" fill="#ec74c4" stroke="#c06098" stroke-width="0.4"/>
<rect x="131.75" y="149.80" width="2.80" height="2.80" fill="#ec74c4" stroke="#c06098" stroke-width="0.4"/>
<rect x="143.05" y="156.20" width="2.80" height="2.80" fill="#ec74c4" stroke="#c06098" stroke-width="0.4"/>
<rect x="104.95" y="158.80" width="2.80" height="2.80" fill="#ec74c4" stroke="#c06098" stroke-width="0.4"/>
<rect x="144.25" y="165.10" width="2.80" height="2.80" fill="#ec74c4" stroke="#c06098" stroke-width="0.4"/>
<rect x="106.25" y="169.60" width="2.80" height="2.80" fill="#ec74c4" stroke="#c06098" stroke-width="0.4"/>
<rect x="120.95" y="175.60" width="2.80" height="2.80" fill="#ec74c4" stroke="#c06098" stroke-width="0.4"/>
<rect x="129.65" y="179.40" width="2.80" height="2.80" fill="#ec74c4" stroke="#c06098" stroke-width="0.4"/>
<rect x="137.95" y="188.50" width="2.80" height="2.80" fill="#ec74c4" stroke="#c06098" stroke-width="0.4"/>
<rect x="137.45" y="160.20" width="2.80" height="2.80" fill="#ec74c4" stroke="#c06098" stroke-width="0.4"/>
<rect x="70.85" y="155.90" width="2.80" height="2.80" fill="#ec74c4" stroke="#c06098" stroke-width="0.4"/>
<rect x="62.75" y="159.60" width="2.80" height="2.80" fill="#ec74c4" stroke="#c06098" stroke-width="0.4"/>
<rect x="54.95" y="163.80" width="2.80" height="2.80" fill="#ec74c4" stroke="#c06098" stroke-width="0.4"/>
<rect x="126.15" y="122.40" width="2.80" height="2.80" fill="#ec74c4" stroke="#c06098" stroke-width="0.4"/>
<rect x="106.15" y="144.80" width="2.80" height="2.80" fill="#ec74c4" stroke="#c06098" stroke-width="0.4"/>
<rect x="19.80" y="46.60" width="4.40" height="4.40" fill="#f08fcf" stroke="#555" stroke-width="0.5"/>
<circle cx="21.8" cy="60" r="2.6" fill="#333"/>
<text x="27.3" y="51.6" font-size="8.8" fill="#333" stroke="#333" stroke-width="0.18" textLength="27.2" lengthAdjust="spacingAndGlyphs">- facility</text>
<text x="28.0" y="62.0" font-size="8.8" fill="#333" stroke="#333" stroke-width="0.18" textLength="33.0" lengthAdjust="spacingAndGlyphs">- building</text>
<text x="126.9" y="37.3" font-size="8.8" fill="#222" stroke="#222" stroke-width="0.18" textLength="47.6" lengthAdjust="spacingAndGlyphs">overlapping</text>
<text x="118.7" y="46.7" font-size="8.8" fill="#222" stroke="#222" stroke-width="0.18" textLength="66.4" lengthAdjust="spacingAndGlyphs">catchment areas</text>
<path d="M169.0,51.0 L130.0,51.0 L124.5,76.4" fill="none" stroke="#555" stroke-width="0.7" stroke-linejoin="round"/>
<text x="132.4" y="62.2" font-size="10" font-style="italic" fill="#222" textLength="36.3" lengthAdjust="spacingAndGlyphs">p<tspan font-size="8">i</tspan><tspan font-size="9"> = 0.90</tspan></text>
<path d="M357.5,204.6 L364.2,206.0" fill="none" stroke="#ededed" stroke-width="0.6" stroke-linejoin="round"/>
<path d="M237.8,57.4 L247.4,56.3 L260.1,53.4 L274.9,57.6" fill="none" stroke="#ededed" stroke-width="0.6" stroke-linejoin="round"/>
<path d="M199.7,108.0 L194.6,121.8 L194.4,128.7" fill="none" stroke="#ededed" stroke-width="0.6" stroke-linejoin="round"/>
<path d="M290.2,214.0 L275.3,215.6 L261.8,213.5" fill="none" stroke="#ededed" stroke-width="0.6" stroke-linejoin="round"/>
<path d="M278.3,200.0 L268.4,198.3 L261.0,193.5" fill="none" stroke="#ededed" stroke-width="0.6" stroke-linejoin="round"/>
<path d="M354.9,177.9 L359.4,163.6 L361.1,148.2 L364.4,138.1" fill="none" stroke="#ededed" stroke-width="0.6" stroke-linejoin="round"/>
<path d="M353.8,139.7 L365.3,149.3 L377.5,154.3" fill="none" stroke="#ededed" stroke-width="0.6" stroke-linejoin="round"/>
<path d="M205.0,145.6 L200.1,159.9" fill="none" stroke="#ededed" stroke-width="0.6" stroke-linejoin="round"/>
<path d="M323.2,42.3 L320.3,47.1" fill="none" stroke="#ededed" stroke-width="0.6" stroke-linejoin="round"/>
<path d="M347.7,166.9 L360.0,167.2 L374.4,161.4" fill="none" stroke="#ededed" stroke-width="0.6" stroke-linejoin="round"/>
<path d="M199.3,160.9 L214.2,157.3 L224.9,157.2" fill="none" stroke="#ededed" stroke-width="0.6" stroke-linejoin="round"/>
<path d="M195.3,132.9 L194.9,127.5" fill="none" stroke="#ededed" stroke-width="0.6" stroke-linejoin="round"/>
<path d="M321.2,37.6 L317.4,48.0" fill="none" stroke="#ededed" stroke-width="0.6" stroke-linejoin="round"/>
<path d="M297.9,24.2 L292.3,35.6 L289.3,42.5" fill="none" stroke="#ededed" stroke-width="0.6" stroke-linejoin="round"/>
<path d="M198.1,126.6 L203.3,130.4" fill="none" stroke="#ededed" stroke-width="0.6" stroke-linejoin="round"/>
<path d="M234.4,198.3 L236.1,190.9" fill="none" stroke="#ededed" stroke-width="0.6" stroke-linejoin="round"/>
<path d="M284.5,16.0 L295.0,14.7 L300.3,11.6" fill="none" stroke="#ededed" stroke-width="0.6" stroke-linejoin="round"/>
<path d="M198.4,165.1 L206.2,171.5" fill="none" stroke="#ededed" stroke-width="0.6" stroke-linejoin="round"/>
<path d="M231.1,196.3 L240.8,197.0 L251.3,192.5 L266.6,192.2" fill="none" stroke="#ededed" stroke-width="0.6" stroke-linejoin="round"/>
<path d="M293.8,199.1 L287.1,190.8 L284.1,179.5" fill="none" stroke="#ededed" stroke-width="0.6" stroke-linejoin="round"/>
<path d="M311.5,35.2 L302.8,46.1 L300.0,57.8 L297.0,72.3" fill="none" stroke="#ededed" stroke-width="0.6" stroke-linejoin="round"/>
<path d="M299.3,16.1 L304.2,19.3 L308.9,24.6" fill="none" stroke="#ededed" stroke-width="0.6" stroke-linejoin="round"/>
<path d="M262.2,39.3 L267.7,46.0" fill="none" stroke="#ededed" stroke-width="0.6" stroke-linejoin="round"/>
<path d="M212.9,138.6 L202.4,138.2" fill="none" stroke="#ededed" stroke-width="0.6" stroke-linejoin="round"/>
<path d="M330.8,68.8 L318.7,63.9 L308.8,60.8" fill="none" stroke="#ededed" stroke-width="0.6" stroke-linejoin="round"/>
<path d="M313.9,31.9 L309.3,24.2 L309.0,17.6 L308.2,11.9" fill="none" stroke="#ededed" stroke-width="0.6" stroke-linejoin="round"/>
<path d="M363.1,144.6 L372.9,152.8 L376.9,160.5" fill="none" stroke="#ededed" stroke-width="0.6" stroke-linejoin="round"/>
<path d="M224.3,72.4 L233.3,78.2 L238.8,83.8" fill="none" stroke="#ededed" stroke-width="0.6" stroke-linejoin="round"/>
<path d="M347.1,107.2 L347.9,98.3 L352.3,86.0" fill="none" stroke="#ededed" stroke-width="0.6" stroke-linejoin="round"/>
<path d="M204.1,69.8 L198.4,81.2 L191.9,95.4 L188.5,108.1" fill="none" stroke="#ededed" stroke-width="0.6" stroke-linejoin="round"/>
<path d="M339.9,60.0 L335.5,51.9 L333.8,36.9" fill="none" stroke="#ededed" stroke-width="0.6" stroke-linejoin="round"/>
<path d="M349.1,108.3 L361.6,117.3" fill="none" stroke="#ededed" stroke-width="0.6" stroke-linejoin="round"/>
<path d="M348.9,191.9 L353.4,197.6 L358.1,208.0 L367.4,218.2" fill="none" stroke="#ededed" stroke-width="0.6" stroke-linejoin="round"/>
<path d="M251.9,68.4 L241.7,62.7" fill="none" stroke="#ededed" stroke-width="0.6" stroke-linejoin="round"/>
<path d="M204.2,114.9 L209.1,113.6 L224.5,110.6 L234.8,107.0" fill="none" stroke="#ededed" stroke-width="0.6" stroke-linejoin="round"/>
<path d="M343.0,76.7 L337.5,65.1 L332.8,58.8" fill="none" stroke="#ededed" stroke-width="0.6" stroke-linejoin="round"/>
<path d="M351.5,116.7 L354.6,130.7 L353.6,142.6 L354.5,150.1" fill="none" stroke="#ededed" stroke-width="0.6" stroke-linejoin="round"/>
<path d="M242.2,206.6 L245.8,213.0 L251.1,219.9" fill="none" stroke="#ededed" stroke-width="0.6" stroke-linejoin="round"/>
<path d="M342.8,107.2 L351.3,115.7 L354.3,123.7 L359.6,129.3" fill="none" stroke="#ededed" stroke-width="0.6" stroke-linejoin="round"/>
<path d="M330.2,61.6 L333.5,48.2 L337.4,41.0 L345.0,32.3" fill="none" stroke="#ededed" stroke-width="0.6" stroke-linejoin="round"/>
<path d="M302.5,208.9 L301.4,196.6 L299.3,187.5 L291.2,174.2" fill="none" stroke="#ededed" stroke-width="0.6" stroke-linejoin="round"/>
<path d="M199.8,85.2 L191.8,90.9 L185.4,95.0 L176.4,97.3" fill="none" stroke="#ededed" stroke-width="0.6" stroke-linejoin="round"/>
<path d="M220.6,78.3 L234.2,78.4" fill="none" stroke="#ededed" stroke-width="0.6" stroke-linejoin="round"/>
<path d="M251.3,43.3 L247.4,49.9" fill="none" stroke="#ededed" stroke-width="0.6" stroke-linejoin="round"/>
<path d="M219.5,185.2 L212.1,192.9 L204.3,196.8" fill="none" stroke="#ededed" stroke-width="0.6" stroke-linejoin="round"/>
<path d="M354.4,150.9 L362.4,144.9" fill="none" stroke="#ededed" stroke-width="0.6" stroke-linejoin="round"/>
<path d="M199.2,100.5 L210.6,104.8 L225.4,103.6" fill="none" stroke="#ededed" stroke-width="0.6" stroke-linejoin="round"/>
<path d="M280.4,27.1 L280.3,37.8" fill="none" stroke="#ededed" stroke-width="0.6" stroke-linejoin="round"/>
<path d="M341.0,195.8 L341.9,183.4 L343.2,169.3 L339.2,154.3" fill="none" stroke="#ededed" stroke-width="0.6" stroke-linejoin="round"/>
<path d="M224.5,55.4 L220.0,63.6" fill="none" stroke="#ededed" stroke-width="0.6" stroke-linejoin="round"/>
<path d="M306.9,21.1 L297.6,20.8" fill="none" stroke="#ededed" stroke-width="0.6" stroke-linejoin="round"/>
<path d="M313.0,198.4 L320.9,185.8" fill="none" stroke="#ededed" stroke-width="0.6" stroke-linejoin="round"/>
<path d="M348.4,128.8 L343.4,130.8 L331.3,138.8" fill="none" stroke="#ededed" stroke-width="0.6" stroke-linejoin="round"/>
<path d="M224.0,189.9 L231.1,180.5 L239.0,172.3" fill="none" stroke="#ededed" stroke-width="0.6" stroke-linejoin="round"/>
<path d="M339.5,82.6 L351.8,90.1 L363.2,93.3" fill="none" stroke="#ededed" stroke-width="0.6" stroke-linejoin="round"/>
<path d="M230.2,182.4 L227.2,186.8" fill="none" stroke="#ededed" stroke-width="0.6" stroke-linejoin="round"/>
<path d="M207.2,109.1 L206.2,102.8 L200.5,92.6" fill="none" stroke="#ededed" stroke-width="0.6" stroke-linejoin="round"/>
<path d="M258.9,28.0 L250.9,21.2 L242.7,8.6" fill="none" stroke="#ededed" stroke-width="0.6" stroke-linejoin="round"/>
<path d="M220.7,74.9 L231.8,68.6" fill="none" stroke="#ededed" stroke-width="0.6" stroke-linejoin="round"/>
<path d="M234.9,57.6 L250.1,59.7 L263.2,64.8 L273.3,64.7" fill="none" stroke="#ededed" stroke-width="0.6" stroke-linejoin="round"/>
<path d="M243.4,63.1 L248.1,66.8 L253.7,77.9 L263.8,85.8" fill="none" stroke="#ededed" stroke-width="0.6" stroke-linejoin="round"/>
<path d="M212.2,117.1 L199.7,114.4 L193.0,111.3" fill="none" stroke="#ededed" stroke-width="0.6" stroke-linejoin="round"/>
<path d="M199.2,110.7 L205.9,114.5" fill="none" stroke="#ededed" stroke-width="0.6" stroke-linejoin="round"/>
<path d="M310.3,42.3 L304.9,31.3" fill="none" stroke="#ededed" stroke-width="0.6" stroke-linejoin="round"/>
<path d="M275.4,203.9 L270.9,207.9 L263.3,216.8" fill="none" stroke="#ededed" stroke-width="0.6" stroke-linejoin="round"/>
<path d="M202.5,101.8 L194.0,88.3 L189.1,74.6" fill="none" stroke="#ededed" stroke-width="0.6" stroke-linejoin="round"/>
<path d="M208.0,123.1 L201.8,118.6 L190.6,115.2" fill="none" stroke="#ededed" stroke-width="0.6" stroke-linejoin="round"/>
<path d="M342.8,208.7 L328.6,204.0" fill="none" stroke="#ededed" stroke-width="0.6" stroke-linejoin="round"/>
<path d="M213.8,134.4 L219.3,137.2" fill="none" stroke="#ededed" stroke-width="0.6" stroke-linejoin="round"/>
<path d="M312.7,31.0 L316.7,27.1 L324.5,19.7 L334.4,8.4" fill="none" stroke="#ededed" stroke-width="0.6" stroke-linejoin="round"/>
<path d="M360.5,129.4 L350.6,123.3 L341.3,112.2" fill="none" stroke="#ededed" stroke-width="0.6" stroke-linejoin="round"/>
<path d="M219.8,65.3 L222.6,76.2" fill="none" stroke="#ededed" stroke-width="0.6" stroke-linejoin="round"/>
<path d="M240.8,58.9 L244.6,47.7" fill="none" stroke="#ededed" stroke-width="0.6" stroke-linejoin="round"/>
<path d="M199.7,75.4 L203.8,68.7 L206.9,59.1 L209.8,48.7" fill="none" stroke="#ededed" stroke-width="0.6" stroke-linejoin="round"/>
<path d="M300.2,196.5 L303.1,204.1 L302.4,213.1 L306.4,225.0" fill="none" stroke="#ededed" stroke-width="0.6" stroke-linejoin="round"/>
<path d="M236.8,209.0 L227.4,202.3 L220.0,195.5" fill="none" stroke="#ededed" stroke-width="0.6" stroke-linejoin="round"/>
<path d="M217.8,164.5 L196.0,176.0" fill="none" stroke="#dadada" stroke-width="0.9" stroke-linejoin="round"/>
<path d="M345.0,139.0 L357.0,139.0" fill="none" stroke="#dadada" stroke-width="0.9" stroke-linejoin="round"/>
<path d="M233.5,71.0 L220.4,46.2" fill="none" stroke="#dadada" stroke-width="0.9" stroke-linejoin="round"/>
<path d="M263.0,185.0 L262.0,200.0" fill="none" stroke="#dadada" stroke-width="0.9" stroke-linejoin="round"/>
<path d="M290.3,25.8 L292.6,27.6 L297.1,41.3 L300.2,42.0 L307.8,48.1 L315.4,55.7 L321.4,61.0 L328.3,65.6 L329.0,71.6 L332.1,76.2 L335.5,81.0 L336.0,88.0 L337.5,100.0 L339.5,110.0 L342.7,118.2 L344.5,128.0 L345.1,139.8 L343.5,146.4 L341.8,154.5 L345.9,162.7 L345.1,174.2 L341.8,179.1 L340.2,195.5 L336.9,201.2 L328.7,202.0 L320.6,198.7 L310.0,194.5 L305.1,195.2 L298.6,196.8 L292.0,195.2 L282.2,191.9 L274.0,187.8 L265.0,184.5 L261.0,186.5 L250.0,189.0 L241.3,191.1 L233.1,184.5 L226.5,176.4 L218.2,168.5 L217.5,162.0 L218.9,154.7 L223.3,146.0 L214.5,138.4 L213.8,131.1 L213.1,125.3 L215.3,119.5 L213.1,113.6 L212.4,107.8 L210.9,99.1 L211.6,93.3 L210.2,84.5 L221.8,78.2 L232.7,75.3 L233.5,70.9 L248.0,69.5 L259.6,66.5 L258.9,56.4 L257.5,47.6 L258.2,44.5 Z" fill="#fff" stroke="#9c9c9c" stroke-width="0.9" stroke-linejoin="round"/>
<path d="M233.5,71.0 L249.0,100.0 L269.0,138.0" fill="none" stroke="#cfcfcf" stroke-width="1.0" stroke-linejoin="round"/>
<path d="M269.0,138.0 L345.0,139.0" fill="none" stroke="#cfcfcf" stroke-width="1.0" stroke-linejoin="round"/>
<path d="M269.0,138.0 L217.8,164.5" fill="none" stroke="#cfcfcf" stroke-width="1.0" stroke-linejoin="round"/>
<path d="M269.0,138.0 L265.0,160.0 L263.0,185.0" fill="none" stroke="#cfcfcf" stroke-width="1.0" stroke-linejoin="round"/>
<line x1="255.05" y1="70.00" x2="258.20" y2="81.40" stroke="#b4b4b4" stroke-width="0.45"/>
<line x1="258.25" y1="68.40" x2="258.20" y2="81.40" stroke="#b4b4b4" stroke-width="0.45"/>
<line x1="249.85" y1="72.20" x2="258.20" y2="81.40" stroke="#b4b4b4" stroke-width="0.45"/>
<line x1="267.55" y1="71.70" x2="281.80" y2="63.60" stroke="#b4b4b4" stroke-width="0.45"/>
<line x1="244.65" y1="76.00" x2="258.20" y2="81.40" stroke="#b4b4b4" stroke-width="0.45"/>
<line x1="256.15" y1="77.70" x2="250.20" y2="91.10" stroke="#b4b4b4" stroke-width="0.45"/>
<line x1="241.15" y1="79.80" x2="226.90" y2="94.00" stroke="#b4b4b4" stroke-width="0.45"/>
<line x1="233.95" y1="82.80" x2="226.90" y2="94.00" stroke="#b4b4b4" stroke-width="0.45"/>
<line x1="248.75" y1="82.60" x2="250.20" y2="91.10" stroke="#b4b4b4" stroke-width="0.45"/>
<line x1="254.45" y1="82.00" x2="250.20" y2="91.10" stroke="#b4b4b4" stroke-width="0.45"/>
<line x1="267.55" y1="79.30" x2="250.20" y2="91.10" stroke="#b4b4b4" stroke-width="0.45"/>
<line x1="225.85" y1="84.70" x2="226.90" y2="94.00" stroke="#b4b4b4" stroke-width="0.45"/>
<line x1="249.85" y1="86.10" x2="250.20" y2="91.10" stroke="#b4b4b4" stroke-width="0.45"/>
<line x1="256.85" y1="86.40" x2="258.20" y2="81.40" stroke="#b4b4b4" stroke-width="0.45"/>
<line x1="263.15" y1="85.80" x2="263.70" y2="103.00" stroke="#b4b4b4" stroke-width="0.45"/>
<line x1="237.25" y1="86.90" x2="250.20" y2="91.10" stroke="#b4b4b4" stroke-width="0.45"/>
<line x1="230.75" y1="87.50" x2="227.10" y2="103.90" stroke="#b4b4b4" stroke-width="0.45"/>
<line x1="224.75" y1="88.90" x2="226.90" y2="94.00" stroke="#b4b4b4" stroke-width="0.45"/>
<line x1="220.45" y1="90.20" x2="250.20" y2="91.10" stroke="#b4b4b4" stroke-width="0.45"/>
<line x1="246.25" y1="90.00" x2="250.20" y2="91.10" stroke="#b4b4b4" stroke-width="0.45"/>
<line x1="266.45" y1="89.70" x2="258.20" y2="81.40" stroke="#b4b4b4" stroke-width="0.45"/>
<line x1="255.75" y1="91.80" x2="250.20" y2="91.10" stroke="#b4b4b4" stroke-width="0.45"/>
<line x1="258.25" y1="95.70" x2="263.70" y2="103.00" stroke="#b4b4b4" stroke-width="0.45"/>
<line x1="263.75" y1="92.90" x2="263.70" y2="103.00" stroke="#b4b4b4" stroke-width="0.45"/>
<line x1="252.05" y1="98.70" x2="263.70" y2="103.00" stroke="#b4b4b4" stroke-width="0.45"/>
<line x1="220.65" y1="100.60" x2="233.20" y2="125.30" stroke="#b4b4b4" stroke-width="0.45"/>
<line x1="263.75" y1="100.20" x2="263.70" y2="103.00" stroke="#b4b4b4" stroke-width="0.45"/>
<line x1="240.25" y1="103.10" x2="227.10" y2="103.90" stroke="#b4b4b4" stroke-width="0.45"/>
<line x1="258.85" y1="103.30" x2="263.70" y2="103.00" stroke="#b4b4b4" stroke-width="0.45"/>
<line x1="229.95" y1="105.50" x2="227.10" y2="103.90" stroke="#b4b4b4" stroke-width="0.45"/>
<line x1="238.15" y1="107.10" x2="227.10" y2="103.90" stroke="#b4b4b4" stroke-width="0.45"/>
<line x1="221.55" y1="110.10" x2="226.90" y2="94.00" stroke="#b4b4b4" stroke-width="0.45"/>
<line x1="233.75" y1="108.70" x2="242.50" y2="119.70" stroke="#b4b4b4" stroke-width="0.45"/>
<line x1="258.25" y1="109.30" x2="242.50" y2="119.70" stroke="#b4b4b4" stroke-width="0.45"/>
<line x1="239.45" y1="112.00" x2="242.50" y2="119.70" stroke="#b4b4b4" stroke-width="0.45"/>
<line x1="227.45" y1="111.80" x2="227.10" y2="103.90" stroke="#b4b4b4" stroke-width="0.45"/>
<line x1="255.55" y1="113.10" x2="263.70" y2="103.00" stroke="#b4b4b4" stroke-width="0.45"/>
<line x1="292.15" y1="34.60" x2="276.90" y2="46.70" stroke="#b4b4b4" stroke-width="0.45"/>
<line x1="293.95" y1="37.50" x2="276.90" y2="46.70" stroke="#b4b4b4" stroke-width="0.45"/>
<line x1="287.75" y1="50.90" x2="276.90" y2="46.70" stroke="#b4b4b4" stroke-width="0.45"/>
<line x1="294.85" y1="47.10" x2="276.90" y2="46.70" stroke="#b4b4b4" stroke-width="0.45"/>
<line x1="297.25" y1="48.40" x2="276.90" y2="46.70" stroke="#b4b4b4" stroke-width="0.45"/>
<line x1="299.75" y1="47.30" x2="304.20" y2="67.30" stroke="#b4b4b4" stroke-width="0.45"/>
<line x1="301.35" y1="49.30" x2="281.80" y2="63.60" stroke="#b4b4b4" stroke-width="0.45"/>
<line x1="304.15" y1="48.40" x2="281.80" y2="63.60" stroke="#b4b4b4" stroke-width="0.45"/>
<line x1="306.85" y1="47.70" x2="276.90" y2="46.70" stroke="#b4b4b4" stroke-width="0.45"/>
<line x1="294.25" y1="50.40" x2="276.90" y2="46.70" stroke="#b4b4b4" stroke-width="0.45"/>
<line x1="296.75" y1="50.90" x2="276.90" y2="46.70" stroke="#b4b4b4" stroke-width="0.45"/>
<line x1="299.45" y1="50.40" x2="304.20" y2="67.30" stroke="#b4b4b4" stroke-width="0.45"/>
<line x1="301.95" y1="52.00" x2="304.20" y2="67.30" stroke="#b4b4b4" stroke-width="0.45"/>
<line x1="304.65" y1="50.90" x2="311.80" y2="77.30" stroke="#b4b4b4" stroke-width="0.45"/>
<line x1="292.15" y1="52.60" x2="281.80" y2="63.60" stroke="#b4b4b4" stroke-width="0.45"/>
<line x1="295.95" y1="53.40" x2="276.90" y2="46.70" stroke="#b4b4b4" stroke-width="0.45"/>
<line x1="300.25" y1="52.80" x2="304.20" y2="67.30" stroke="#b4b4b4" stroke-width="0.45"/>
<line x1="302.65" y1="53.70" x2="281.80" y2="63.60" stroke="#b4b4b4" stroke-width="0.45"/>
<line x1="305.75" y1="52.80" x2="304.20" y2="67.30" stroke="#b4b4b4" stroke-width="0.45"/>
<line x1="307.35" y1="50.20" x2="281.80" y2="63.60" stroke="#b4b4b4" stroke-width="0.45"/>
<line x1="304.15" y1="57.50" x2="311.80" y2="77.30" stroke="#b4b4b4" stroke-width="0.45"/>
<line x1="301.35" y1="61.80" x2="304.20" y2="67.30" stroke="#b4b4b4" stroke-width="0.45"/>
<line x1="273.55" y1="61.80" x2="289.10" y2="77.80" stroke="#b4b4b4" stroke-width="0.45"/>
<line x1="286.95" y1="60.40" x2="281.80" y2="63.60" stroke="#b4b4b4" stroke-width="0.45"/>
<line x1="280.65" y1="60.20" x2="281.80" y2="63.60" stroke="#b4b4b4" stroke-width="0.45"/>
<line x1="282.85" y1="59.10" x2="289.10" y2="77.80" stroke="#b4b4b4" stroke-width="0.45"/>
<line x1="294.25" y1="65.40" x2="304.20" y2="67.30" stroke="#b4b4b4" stroke-width="0.45"/>
<line x1="291.55" y1="67.80" x2="281.80" y2="63.60" stroke="#b4b4b4" stroke-width="0.45"/>
<line x1="288.25" y1="65.40" x2="281.80" y2="63.60" stroke="#b4b4b4" stroke-width="0.45"/>
<line x1="289.35" y1="67.80" x2="281.80" y2="63.60" stroke="#b4b4b4" stroke-width="0.45"/>
<line x1="278.45" y1="66.70" x2="281.80" y2="63.60" stroke="#b4b4b4" stroke-width="0.45"/>
<line x1="302.45" y1="71.70" x2="304.20" y2="67.30" stroke="#b4b4b4" stroke-width="0.45"/>
<line x1="283.05" y1="71.10" x2="281.80" y2="63.60" stroke="#b4b4b4" stroke-width="0.45"/>
<line x1="286.65" y1="72.00" x2="281.80" y2="63.60" stroke="#b4b4b4" stroke-width="0.45"/>
<line x1="280.65" y1="72.70" x2="289.10" y2="77.80" stroke="#b4b4b4" stroke-width="0.45"/>
<line x1="286.15" y1="74.90" x2="304.20" y2="67.30" stroke="#b4b4b4" stroke-width="0.45"/>
<line x1="280.15" y1="78.20" x2="289.10" y2="77.80" stroke="#b4b4b4" stroke-width="0.45"/>
<line x1="275.75" y1="80.10" x2="281.80" y2="63.60" stroke="#b4b4b4" stroke-width="0.45"/>
<line x1="285.25" y1="81.50" x2="293.30" y2="93.30" stroke="#b4b4b4" stroke-width="0.45"/>
<line x1="295.95" y1="81.50" x2="289.10" y2="77.80" stroke="#b4b4b4" stroke-width="0.45"/>
<line x1="300.25" y1="81.80" x2="311.80" y2="77.30" stroke="#b4b4b4" stroke-width="0.45"/>
<line x1="307.35" y1="78.20" x2="311.80" y2="77.30" stroke="#b4b4b4" stroke-width="0.45"/>
<line x1="307.35" y1="81.50" x2="315.80" y2="88.20" stroke="#b4b4b4" stroke-width="0.45"/>
<line x1="312.25" y1="81.50" x2="315.80" y2="88.20" stroke="#b4b4b4" stroke-width="0.45"/>
<line x1="316.15" y1="78.20" x2="315.80" y2="88.20" stroke="#b4b4b4" stroke-width="0.45"/>
<line x1="273.85" y1="88.00" x2="258.20" y2="81.40" stroke="#b4b4b4" stroke-width="0.45"/>
<line x1="286.15" y1="88.60" x2="289.10" y2="77.80" stroke="#b4b4b4" stroke-width="0.45"/>
<line x1="292.15" y1="86.60" x2="296.90" y2="96.90" stroke="#b4b4b4" stroke-width="0.45"/>
<line x1="303.75" y1="84.70" x2="315.80" y2="88.20" stroke="#b4b4b4" stroke-width="0.45"/>
<line x1="296.75" y1="90.20" x2="293.30" y2="93.30" stroke="#b4b4b4" stroke-width="0.45"/>
<line x1="305.95" y1="89.90" x2="315.80" y2="88.20" stroke="#b4b4b4" stroke-width="0.45"/>
<line x1="315.75" y1="85.80" x2="315.80" y2="88.20" stroke="#b4b4b4" stroke-width="0.45"/>
<line x1="320.75" y1="86.90" x2="322.40" y2="106.90" stroke="#b4b4b4" stroke-width="0.45"/>
<line x1="275.75" y1="93.10" x2="283.30" y2="104.20" stroke="#b4b4b4" stroke-width="0.45"/>
<line x1="309.85" y1="92.90" x2="315.80" y2="88.20" stroke="#b4b4b4" stroke-width="0.45"/>
<line x1="313.55" y1="92.90" x2="311.80" y2="77.30" stroke="#b4b4b4" stroke-width="0.45"/>
<line x1="318.65" y1="92.10" x2="315.80" y2="88.20" stroke="#b4b4b4" stroke-width="0.45"/>
<line x1="280.15" y1="96.00" x2="296.90" y2="96.90" stroke="#b4b4b4" stroke-width="0.45"/>
<line x1="290.45" y1="96.70" x2="293.30" y2="93.30" stroke="#b4b4b4" stroke-width="0.45"/>
<line x1="301.35" y1="95.30" x2="296.90" y2="96.90" stroke="#b4b4b4" stroke-width="0.45"/>
<line x1="323.75" y1="97.50" x2="311.80" y2="77.30" stroke="#b4b4b4" stroke-width="0.45"/>
<line x1="283.95" y1="98.40" x2="283.30" y2="104.20" stroke="#b4b4b4" stroke-width="0.45"/>
<line x1="280.15" y1="100.80" x2="293.30" y2="93.30" stroke="#b4b4b4" stroke-width="0.45"/>
<line x1="298.15" y1="101.70" x2="283.30" y2="104.20" stroke="#b4b4b4" stroke-width="0.45"/>
<line x1="312.85" y1="100.00" x2="315.80" y2="88.20" stroke="#b4b4b4" stroke-width="0.45"/>
<line x1="315.75" y1="101.10" x2="322.40" y2="106.90" stroke="#b4b4b4" stroke-width="0.45"/>
<line x1="305.75" y1="103.30" x2="296.90" y2="96.90" stroke="#b4b4b4" stroke-width="0.45"/>
<line x1="310.65" y1="103.80" x2="322.40" y2="106.90" stroke="#b4b4b4" stroke-width="0.45"/>
<line x1="320.15" y1="103.60" x2="322.40" y2="106.90" stroke="#b4b4b4" stroke-width="0.45"/>
<line x1="287.45" y1="106.60" x2="296.90" y2="96.90" stroke="#b4b4b4" stroke-width="0.45"/>
<line x1="301.35" y1="104.90" x2="293.30" y2="93.30" stroke="#b4b4b4" stroke-width="0.45"/>
<line x1="326.65" y1="107.10" x2="322.40" y2="106.90" stroke="#b4b4b4" stroke-width="0.45"/>
<line x1="283.35" y1="109.50" x2="283.30" y2="104.20" stroke="#b4b4b4" stroke-width="0.45"/>
<line x1="306.25" y1="112.00" x2="306.90" y2="119.40" stroke="#b4b4b4" stroke-width="0.45"/>
<line x1="318.25" y1="112.00" x2="314.20" y2="122.00" stroke="#b4b4b4" stroke-width="0.45"/>
<line x1="320.45" y1="113.40" x2="322.40" y2="106.90" stroke="#b4b4b4" stroke-width="0.45"/>
<line x1="322.15" y1="114.20" x2="322.40" y2="106.90" stroke="#b4b4b4" stroke-width="0.45"/>
<line x1="325.95" y1="113.10" x2="314.20" y2="122.00" stroke="#b4b4b4" stroke-width="0.45"/>
<line x1="309.05" y1="115.10" x2="314.20" y2="122.00" stroke="#b4b4b4" stroke-width="0.45"/>
<line x1="304.85" y1="119.70" x2="292.40" y2="130.80" stroke="#b4b4b4" stroke-width="0.45"/>
<line x1="312.25" y1="121.30" x2="314.20" y2="122.00" stroke="#b4b4b4" stroke-width="0.45"/>
<line x1="328.15" y1="122.60" x2="326.00" y2="127.30" stroke="#b4b4b4" stroke-width="0.45"/>
<line x1="306.85" y1="126.20" x2="306.90" y2="119.40" stroke="#b4b4b4" stroke-width="0.45"/>
<line x1="315.55" y1="125.90" x2="326.00" y2="127.30" stroke="#b4b4b4" stroke-width="0.45"/>
<line x1="291.05" y1="125.10" x2="294.20" y2="144.40" stroke="#b4b4b4" stroke-width="0.45"/>
<line x1="292.65" y1="127.80" x2="292.40" y2="130.80" stroke="#b4b4b4" stroke-width="0.45"/>
<line x1="299.75" y1="127.60" x2="314.20" y2="122.00" stroke="#b4b4b4" stroke-width="0.45"/>
<line x1="324.25" y1="127.30" x2="326.00" y2="127.30" stroke="#b4b4b4" stroke-width="0.45"/>
<line x1="271.95" y1="127.60" x2="252.70" y2="137.20" stroke="#b4b4b4" stroke-width="0.45"/>
<line x1="273.55" y1="132.20" x2="292.40" y2="130.80" stroke="#b4b4b4" stroke-width="0.45"/>
<line x1="281.75" y1="131.70" x2="294.20" y2="144.40" stroke="#b4b4b4" stroke-width="0.45"/>
<line x1="288.55" y1="131.70" x2="294.20" y2="144.40" stroke="#b4b4b4" stroke-width="0.45"/>
<line x1="298.65" y1="132.20" x2="294.20" y2="144.40" stroke="#b4b4b4" stroke-width="0.45"/>
<line x1="309.55" y1="133.10" x2="312.20" y2="148.40" stroke="#b4b4b4" stroke-width="0.45"/>
<line x1="326.45" y1="131.10" x2="314.20" y2="122.00" stroke="#b4b4b4" stroke-width="0.45"/>
<line x1="317.15" y1="134.60" x2="326.00" y2="127.30" stroke="#b4b4b4" stroke-width="0.45"/>
<line x1="289.35" y1="143.10" x2="292.40" y2="130.80" stroke="#b4b4b4" stroke-width="0.45"/>
<line x1="294.85" y1="142.60" x2="292.40" y2="130.80" stroke="#b4b4b4" stroke-width="0.45"/>
<line x1="298.15" y1="143.10" x2="294.20" y2="144.40" stroke="#b4b4b4" stroke-width="0.45"/>
<line x1="308.45" y1="142.60" x2="312.20" y2="148.40" stroke="#b4b4b4" stroke-width="0.45"/>
<line x1="317.55" y1="140.90" x2="312.20" y2="148.40" stroke="#b4b4b4" stroke-width="0.45"/>
<line x1="229.35" y1="116.40" x2="233.20" y2="125.30" stroke="#b4b4b4" stroke-width="0.45"/>
<line x1="245.15" y1="115.10" x2="242.50" y2="119.70" stroke="#b4b4b4" stroke-width="0.45"/>
<line x1="250.15" y1="114.70" x2="242.50" y2="119.70" stroke="#b4b4b4" stroke-width="0.45"/>
<line x1="261.05" y1="117.70" x2="263.70" y2="103.00" stroke="#b4b4b4" stroke-width="0.45"/>
<line x1="221.75" y1="123.50" x2="233.20" y2="125.30" stroke="#b4b4b4" stroke-width="0.45"/>
<line x1="240.25" y1="123.80" x2="246.30" y2="123.50" stroke="#b4b4b4" stroke-width="0.45"/>
<line x1="250.45" y1="121.60" x2="242.50" y2="119.70" stroke="#b4b4b4" stroke-width="0.45"/>
<line x1="255.05" y1="121.80" x2="252.70" y2="137.20" stroke="#b4b4b4" stroke-width="0.45"/>
<line x1="237.85" y1="127.50" x2="246.30" y2="123.50" stroke="#b4b4b4" stroke-width="0.45"/>
<line x1="236.75" y1="128.90" x2="242.50" y2="119.70" stroke="#b4b4b4" stroke-width="0.45"/>
<line x1="241.55" y1="127.50" x2="246.30" y2="123.50" stroke="#b4b4b4" stroke-width="0.45"/>
<line x1="247.95" y1="127.50" x2="246.30" y2="123.50" stroke="#b4b4b4" stroke-width="0.45"/>
<line x1="228.25" y1="131.10" x2="242.50" y2="119.70" stroke="#b4b4b4" stroke-width="0.45"/>
<line x1="233.75" y1="132.70" x2="233.20" y2="125.30" stroke="#b4b4b4" stroke-width="0.45"/>
<line x1="241.35" y1="131.70" x2="246.30" y2="123.50" stroke="#b4b4b4" stroke-width="0.45"/>
<line x1="222.65" y1="136.60" x2="233.20" y2="125.30" stroke="#b4b4b4" stroke-width="0.45"/>
<line x1="224.15" y1="137.70" x2="246.30" y2="123.50" stroke="#b4b4b4" stroke-width="0.45"/>
<line x1="256.45" y1="150.20" x2="258.90" y2="155.50" stroke="#b4b4b4" stroke-width="0.45"/>
<line x1="253.75" y1="153.30" x2="250.80" y2="159.20" stroke="#b4b4b4" stroke-width="0.45"/>
<line x1="248.15" y1="154.30" x2="250.80" y2="159.20" stroke="#b4b4b4" stroke-width="0.45"/>
<line x1="261.05" y1="155.10" x2="258.90" y2="155.50" stroke="#b4b4b4" stroke-width="0.45"/>
<line x1="245.75" y1="157.30" x2="243.00" y2="163.40" stroke="#b4b4b4" stroke-width="0.45"/>
<line x1="253.35" y1="158.90" x2="250.80" y2="159.20" stroke="#b4b4b4" stroke-width="0.45"/>
<line x1="245.15" y1="163.10" x2="243.00" y2="163.40" stroke="#b4b4b4" stroke-width="0.45"/>
<line x1="261.05" y1="161.70" x2="258.90" y2="155.50" stroke="#b4b4b4" stroke-width="0.45"/>
<line x1="259.35" y1="163.80" x2="258.90" y2="155.50" stroke="#b4b4b4" stroke-width="0.45"/>
<line x1="257.75" y1="165.70" x2="258.90" y2="155.50" stroke="#b4b4b4" stroke-width="0.45"/>
<line x1="261.25" y1="165.50" x2="258.90" y2="155.50" stroke="#b4b4b4" stroke-width="0.45"/>
<line x1="239.75" y1="167.70" x2="247.00" y2="173.30" stroke="#b4b4b4" stroke-width="0.45"/>
<line x1="252.85" y1="168.70" x2="247.00" y2="173.30" stroke="#b4b4b4" stroke-width="0.45"/>
<line x1="244.65" y1="169.30" x2="250.80" y2="159.20" stroke="#b4b4b4" stroke-width="0.45"/>
<line x1="267.55" y1="170.10" x2="258.90" y2="155.50" stroke="#b4b4b4" stroke-width="0.45"/>
<line x1="297.55" y1="147.70" x2="294.20" y2="144.40" stroke="#b4b4b4" stroke-width="0.45"/>
<line x1="307.05" y1="148.00" x2="312.20" y2="148.40" stroke="#b4b4b4" stroke-width="0.45"/>
<line x1="310.65" y1="149.10" x2="312.20" y2="148.40" stroke="#b4b4b4" stroke-width="0.45"/>
<line x1="317.55" y1="148.30" x2="325.50" y2="159.80" stroke="#b4b4b4" stroke-width="0.45"/>
<line x1="326.45" y1="148.60" x2="325.50" y2="159.80" stroke="#b4b4b4" stroke-width="0.45"/>
<line x1="324.25" y1="144.40" x2="331.10" y2="155.80" stroke="#b4b4b4" stroke-width="0.45"/>
<line x1="272.45" y1="151.00" x2="293.00" y2="158.40" stroke="#b4b4b4" stroke-width="0.45"/>
<line x1="307.35" y1="152.40" x2="312.20" y2="148.40" stroke="#b4b4b4" stroke-width="0.45"/>
<line x1="313.35" y1="153.10" x2="312.20" y2="148.40" stroke="#b4b4b4" stroke-width="0.45"/>
<line x1="269.55" y1="155.70" x2="258.90" y2="155.50" stroke="#b4b4b4" stroke-width="0.45"/>
<line x1="279.55" y1="155.10" x2="293.00" y2="158.40" stroke="#b4b4b4" stroke-width="0.45"/>
<line x1="288.55" y1="154.90" x2="293.00" y2="158.40" stroke="#b4b4b4" stroke-width="0.45"/>
<line x1="309.05" y1="155.70" x2="319.80" y2="149.40" stroke="#b4b4b4" stroke-width="0.45"/>
<line x1="315.55" y1="156.40" x2="319.80" y2="149.40" stroke="#b4b4b4" stroke-width="0.45"/>
<line x1="323.15" y1="157.10" x2="325.50" y2="159.80" stroke="#b4b4b4" stroke-width="0.45"/>
<line x1="283.95" y1="158.40" x2="280.10" y2="150.50" stroke="#b4b4b4" stroke-width="0.45"/>
<line x1="287.75" y1="159.30" x2="294.30" y2="169.20" stroke="#b4b4b4" stroke-width="0.45"/>
<line x1="299.45" y1="159.30" x2="293.00" y2="158.40" stroke="#b4b4b4" stroke-width="0.45"/>
<line x1="305.15" y1="160.30" x2="293.00" y2="158.40" stroke="#b4b4b4" stroke-width="0.45"/>
<line x1="273.85" y1="164.40" x2="280.10" y2="150.50" stroke="#b4b4b4" stroke-width="0.45"/>
<line x1="324.85" y1="164.40" x2="325.50" y2="159.80" stroke="#b4b4b4" stroke-width="0.45"/>
<line x1="280.45" y1="165.80" x2="287.10" y2="175.40" stroke="#b4b4b4" stroke-width="0.45"/>
<line x1="293.15" y1="167.10" x2="294.30" y2="169.20" stroke="#b4b4b4" stroke-width="0.45"/>
<line x1="297.85" y1="167.30" x2="294.30" y2="169.20" stroke="#b4b4b4" stroke-width="0.45"/>
<line x1="321.55" y1="167.10" x2="317.70" y2="179.00" stroke="#b4b4b4" stroke-width="0.45"/>
<line x1="277.15" y1="169.10" x2="287.10" y2="175.40" stroke="#b4b4b4" stroke-width="0.45"/>
<line x1="308.45" y1="170.40" x2="317.70" y2="179.00" stroke="#b4b4b4" stroke-width="0.45"/>
<line x1="315.05" y1="170.60" x2="309.00" y2="175.20" stroke="#b4b4b4" stroke-width="0.45"/>
<line x1="281.75" y1="172.30" x2="293.00" y2="158.40" stroke="#b4b4b4" stroke-width="0.45"/>
<line x1="288.05" y1="170.90" x2="293.00" y2="158.40" stroke="#b4b4b4" stroke-width="0.45"/>
<line x1="297.55" y1="172.00" x2="294.30" y2="169.20" stroke="#b4b4b4" stroke-width="0.45"/>
<line x1="303.35" y1="173.10" x2="309.00" y2="175.20" stroke="#b4b4b4" stroke-width="0.45"/>
<line x1="328.15" y1="173.10" x2="332.30" y2="164.70" stroke="#b4b4b4" stroke-width="0.45"/>
<line x1="318.25" y1="175.30" x2="317.70" y2="179.00" stroke="#b4b4b4" stroke-width="0.45"/>
<line x1="276.85" y1="176.70" x2="294.30" y2="169.20" stroke="#b4b4b4" stroke-width="0.45"/>
<line x1="282.65" y1="177.50" x2="294.30" y2="169.20" stroke="#b4b4b4" stroke-width="0.45"/>
<line x1="295.95" y1="177.50" x2="309.00" y2="175.20" stroke="#b4b4b4" stroke-width="0.45"/>
<line x1="304.65" y1="178.90" x2="309.00" y2="175.20" stroke="#b4b4b4" stroke-width="0.45"/>
<line x1="322.95" y1="179.30" x2="326.00" y2="188.10" stroke="#b4b4b4" stroke-width="0.45"/>
<line x1="286.35" y1="179.70" x2="287.10" y2="175.40" stroke="#b4b4b4" stroke-width="0.45"/>
<line x1="309.55" y1="181.10" x2="309.00" y2="175.20" stroke="#b4b4b4" stroke-width="0.45"/>
<line x1="293.75" y1="181.80" x2="287.10" y2="175.40" stroke="#b4b4b4" stroke-width="0.45"/>
<line x1="302.45" y1="181.80" x2="294.30" y2="169.20" stroke="#b4b4b4" stroke-width="0.45"/>
<line x1="320.15" y1="183.30" x2="317.70" y2="179.00" stroke="#b4b4b4" stroke-width="0.45"/>
<line x1="316.15" y1="184.80" x2="317.70" y2="179.00" stroke="#b4b4b4" stroke-width="0.45"/>
<line x1="301.15" y1="187.60" x2="309.00" y2="175.20" stroke="#b4b4b4" stroke-width="0.45"/>
<line x1="304.65" y1="187.30" x2="294.30" y2="169.20" stroke="#b4b4b4" stroke-width="0.45"/>
<line x1="290.45" y1="188.40" x2="294.30" y2="169.20" stroke="#b4b4b4" stroke-width="0.45"/>
<line x1="321.05" y1="189.50" x2="309.00" y2="175.20" stroke="#b4b4b4" stroke-width="0.45"/>
<line x1="313.15" y1="189.50" x2="317.70" y2="179.00" stroke="#b4b4b4" stroke-width="0.45"/>
<line x1="308.45" y1="191.10" x2="309.00" y2="175.20" stroke="#b4b4b4" stroke-width="0.45"/>
<line x1="325.15" y1="194.20" x2="326.00" y2="188.10" stroke="#b4b4b4" stroke-width="0.45"/>
<line x1="334.95" y1="114.30" x2="335.00" y2="126.70" stroke="#b4b4b4" stroke-width="0.45"/>
<line x1="336.35" y1="118.40" x2="335.00" y2="126.70" stroke="#b4b4b4" stroke-width="0.45"/>
<line x1="334.55" y1="122.50" x2="335.00" y2="126.70" stroke="#b4b4b4" stroke-width="0.45"/>
<line x1="340.45" y1="124.90" x2="322.40" y2="106.90" stroke="#b4b4b4" stroke-width="0.45"/>
<line x1="333.25" y1="128.30" x2="326.00" y2="127.30" stroke="#b4b4b4" stroke-width="0.45"/>
<line x1="340.95" y1="132.60" x2="326.00" y2="127.30" stroke="#b4b4b4" stroke-width="0.45"/>
<line x1="332.15" y1="134.70" x2="335.00" y2="126.70" stroke="#b4b4b4" stroke-width="0.45"/>
<line x1="332.45" y1="141.80" x2="335.00" y2="126.70" stroke="#b4b4b4" stroke-width="0.45"/>
<line x1="336.85" y1="145.10" x2="335.00" y2="126.70" stroke="#b4b4b4" stroke-width="0.45"/>
<line x1="336.25" y1="150.10" x2="331.10" y2="155.80" stroke="#b4b4b4" stroke-width="0.45"/>
<line x1="334.15" y1="156.40" x2="331.10" y2="155.80" stroke="#b4b4b4" stroke-width="0.45"/>
<line x1="331.05" y1="161.00" x2="332.30" y2="164.70" stroke="#b4b4b4" stroke-width="0.45"/>
<line x1="329.75" y1="168.80" x2="325.50" y2="159.80" stroke="#b4b4b4" stroke-width="0.45"/>
<line x1="328.75" y1="173.10" x2="332.30" y2="164.70" stroke="#b4b4b4" stroke-width="0.45"/>
<line x1="334.15" y1="176.60" x2="326.00" y2="188.10" stroke="#b4b4b4" stroke-width="0.45"/>
<line x1="331.85" y1="183.10" x2="332.30" y2="164.70" stroke="#b4b4b4" stroke-width="0.45"/>
<line x1="331.45" y1="193.40" x2="317.70" y2="179.00" stroke="#b4b4b4" stroke-width="0.45"/>
<line x1="244.15" y1="176.40" x2="247.00" y2="173.30" stroke="#b4b4b4" stroke-width="0.45"/>
<line x1="247.35" y1="180.60" x2="250.80" y2="159.20" stroke="#b4b4b4" stroke-width="0.45"/>
<line x1="258.65" y1="177.10" x2="247.00" y2="173.30" stroke="#b4b4b4" stroke-width="0.45"/>
<circle cx="255.1" cy="70.0" r="1.05" fill="#1f68a8" stroke="#1a5080" stroke-width="0.2"/>
<circle cx="258.2" cy="68.4" r="1.05" fill="#1f68a8" stroke="#1a5080" stroke-width="0.2"/>
<circle cx="249.9" cy="72.2" r="1.05" fill="#1f68a8" stroke="#1a5080" stroke-width="0.2"/>
<circle cx="267.6" cy="71.7" r="1.05" fill="#1f68a8" stroke="#1a5080" stroke-width="0.2"/>
<circle cx="244.7" cy="76.0" r="1.05" fill="#1f68a8" stroke="#1a5080" stroke-width="0.2"/>
<circle cx="256.1" cy="77.7" r="1.05" fill="#1f68a8" stroke="#1a5080" stroke-width="0.2"/>
<circle cx="241.2" cy="79.8" r="1.05" fill="#1f68a8" stroke="#1a5080" stroke-width="0.2"/>
<circle cx="233.9" cy="82.8" r="1.05" fill="#1f68a8" stroke="#1a5080" stroke-width="0.2"/>
<circle cx="248.8" cy="82.6" r="1.05" fill="#1f68a8" stroke="#1a5080" stroke-width="0.2"/>
<circle cx="254.4" cy="82.0" r="1.05" fill="#1f68a8" stroke="#1a5080" stroke-width="0.2"/>
<circle cx="267.6" cy="79.3" r="1.05" fill="#1f68a8" stroke="#1a5080" stroke-width="0.2"/>
<circle cx="225.9" cy="84.7" r="1.05" fill="#1f68a8" stroke="#1a5080" stroke-width="0.2"/>
<circle cx="249.9" cy="86.1" r="1.05" fill="#1f68a8" stroke="#1a5080" stroke-width="0.2"/>
<circle cx="256.9" cy="86.4" r="1.05" fill="#1f68a8" stroke="#1a5080" stroke-width="0.2"/>
<circle cx="263.1" cy="85.8" r="1.4" fill="#8cc880" stroke="#666" stroke-width="0.2"/>
<circle cx="237.2" cy="86.9" r="1.05" fill="#1f68a8" stroke="#1a5080" stroke-width="0.2"/>
<circle cx="230.8" cy="87.5" r="1.05" fill="#1f68a8" stroke="#1a5080" stroke-width="0.2"/>
<circle cx="224.8" cy="88.9" r="1.05" fill="#1f68a8" stroke="#1a5080" stroke-width="0.2"/>
<circle cx="220.4" cy="90.2" r="1.05" fill="#1f68a8" stroke="#1a5080" stroke-width="0.2"/>
<circle cx="246.2" cy="90.0" r="1.05" fill="#1f68a8" stroke="#1a5080" stroke-width="0.2"/>
<circle cx="266.4" cy="89.7" r="1.05" fill="#1f68a8" stroke="#1a5080" stroke-width="0.2"/>
<circle cx="255.8" cy="91.8" r="1.05" fill="#1f68a8" stroke="#1a5080" stroke-width="0.2"/>
<circle cx="258.2" cy="95.7" r="1.05" fill="#1f68a8" stroke="#1a5080" stroke-width="0.2"/>
<circle cx="263.8" cy="92.9" r="1.05" fill="#1f68a8" stroke="#1a5080" stroke-width="0.2"/>
<circle cx="252.1" cy="98.7" r="1.05" fill="#1f68a8" stroke="#1a5080" stroke-width="0.2"/>
<circle cx="220.7" cy="100.6" r="1.05" fill="#1f68a8" stroke="#1a5080" stroke-width="0.2"/>
<circle cx="263.8" cy="100.2" r="1.05" fill="#1f68a8" stroke="#1a5080" stroke-width="0.2"/>
<circle cx="240.2" cy="103.1" r="1.05" fill="#1f68a8" stroke="#1a5080" stroke-width="0.2"/>
<circle cx="258.9" cy="103.3" r="1.05" fill="#1f68a8" stroke="#1a5080" stroke-width="0.2"/>
<circle cx="229.9" cy="105.5" r="1.05" fill="#1f68a8" stroke="#1a5080" stroke-width="0.2"/>
<circle cx="238.2" cy="107.1" r="1.05" fill="#1f68a8" stroke="#1a5080" stroke-width="0.2"/>
<circle cx="221.6" cy="110.1" r="1.05" fill="#1f68a8" stroke="#1a5080" stroke-width="0.2"/>
<circle cx="233.8" cy="108.7" r="1.05" fill="#1f68a8" stroke="#1a5080" stroke-width="0.2"/>
<circle cx="258.2" cy="109.3" r="1.05" fill="#1f68a8" stroke="#1a5080" stroke-width="0.2"/>
<circle cx="239.4" cy="112.0" r="1.05" fill="#1f68a8" stroke="#1a5080" stroke-width="0.2"/>
<circle cx="227.4" cy="111.8" r="1.05" fill="#1f68a8" stroke="#1a5080" stroke-width="0.2"/>
<circle cx="255.6" cy="113.1" r="1.05" fill="#1f68a8" stroke="#1a5080" stroke-width="0.2"/>
<circle cx="292.1" cy="34.6" r="1.05" fill="#1f68a8" stroke="#1a5080" stroke-width="0.2"/>
<circle cx="293.9" cy="37.5" r="1.05" fill="#1f68a8" stroke="#1a5080" stroke-width="0.2"/>
<circle cx="287.8" cy="50.9" r="1.05" fill="#1f68a8" stroke="#1a5080" stroke-width="0.2"/>
<circle cx="294.9" cy="47.1" r="1.05" fill="#1f68a8" stroke="#1a5080" stroke-width="0.2"/>
<circle cx="297.2" cy="48.4" r="1.05" fill="#1f68a8" stroke="#1a5080" stroke-width="0.2"/>
<circle cx="299.8" cy="47.3" r="1.05" fill="#1f68a8" stroke="#1a5080" stroke-width="0.2"/>
<circle cx="301.4" cy="49.3" r="1.05" fill="#1f68a8" stroke="#1a5080" stroke-width="0.2"/>
<circle cx="304.1" cy="48.4" r="1.05" fill="#1f68a8" stroke="#1a5080" stroke-width="0.2"/>
<circle cx="306.9" cy="47.7" r="1.05" fill="#1f68a8" stroke="#1a5080" stroke-width="0.2"/>
<circle cx="294.2" cy="50.4" r="1.05" fill="#1f68a8" stroke="#1a5080" stroke-width="0.2"/>
<circle cx="296.8" cy="50.9" r="1.05" fill="#1f68a8" stroke="#1a5080" stroke-width="0.2"/>
<circle cx="299.4" cy="50.4" r="1.05" fill="#1f68a8" stroke="#1a5080" stroke-width="0.2"/>
<circle cx="301.9" cy="52.0" r="1.05" fill="#1f68a8" stroke="#1a5080" stroke-width="0.2"/>
<circle cx="304.6" cy="50.9" r="1.05" fill="#1f68a8" stroke="#1a5080" stroke-width="0.2"/>
<circle cx="292.1" cy="52.6" r="1.05" fill="#1f68a8" stroke="#1a5080" stroke-width="0.2"/>
<circle cx="295.9" cy="53.4" r="1.05" fill="#1f68a8" stroke="#1a5080" stroke-width="0.2"/>
<circle cx="300.2" cy="52.8" r="1.05" fill="#1f68a8" stroke="#1a5080" stroke-width="0.2"/>
<circle cx="302.6" cy="53.7" r="1.05" fill="#1f68a8" stroke="#1a5080" stroke-width="0.2"/>
<circle cx="305.8" cy="52.8" r="1.05" fill="#1f68a8" stroke="#1a5080" stroke-width="0.2"/>
<circle cx="307.4" cy="50.2" r="1.05" fill="#1f68a8" stroke="#1a5080" stroke-width="0.2"/>
<circle cx="304.1" cy="57.5" r="1.05" fill="#1f68a8" stroke="#1a5080" stroke-width="0.2"/>
<circle cx="301.4" cy="61.8" r="1.05" fill="#1f68a8" stroke="#1a5080" stroke-width="0.2"/>
<circle cx="273.6" cy="61.8" r="1.05" fill="#1f68a8" stroke="#1a5080" stroke-width="0.2"/>
<circle cx="286.9" cy="60.4" r="1.05" fill="#1f68a8" stroke="#1a5080" stroke-width="0.2"/>
<circle cx="280.6" cy="60.2" r="1.05" fill="#1f68a8" stroke="#1a5080" stroke-width="0.2"/>
<circle cx="282.9" cy="59.1" r="1.05" fill="#1f68a8" stroke="#1a5080" stroke-width="0.2"/>
<circle cx="294.2" cy="65.4" r="1.05" fill="#1f68a8" stroke="#1a5080" stroke-width="0.2"/>
<circle cx="291.6" cy="67.8" r="1.05" fill="#1f68a8" stroke="#1a5080" stroke-width="0.2"/>
<circle cx="288.2" cy="65.4" r="1.05" fill="#1f68a8" stroke="#1a5080" stroke-width="0.2"/>
<circle cx="289.4" cy="67.8" r="1.05" fill="#1f68a8" stroke="#1a5080" stroke-width="0.2"/>
<circle cx="278.4" cy="66.7" r="1.05" fill="#1f68a8" stroke="#1a5080" stroke-width="0.2"/>
<circle cx="302.4" cy="71.7" r="1.05" fill="#1f68a8" stroke="#1a5080" stroke-width="0.2"/>
<circle cx="283.1" cy="71.1" r="1.05" fill="#1f68a8" stroke="#1a5080" stroke-width="0.2"/>
<circle cx="286.6" cy="72.0" r="1.05" fill="#1f68a8" stroke="#1a5080" stroke-width="0.2"/>
<circle cx="280.6" cy="72.7" r="1.05" fill="#1f68a8" stroke="#1a5080" stroke-width="0.2"/>
<circle cx="286.1" cy="74.9" r="1.05" fill="#1f68a8" stroke="#1a5080" stroke-width="0.2"/>
<circle cx="280.1" cy="78.2" r="1.05" fill="#1f68a8" stroke="#1a5080" stroke-width="0.2"/>
<circle cx="275.8" cy="80.1" r="1.05" fill="#1f68a8" stroke="#1a5080" stroke-width="0.2"/>
<circle cx="285.2" cy="81.5" r="1.05" fill="#1f68a8" stroke="#1a5080" stroke-width="0.2"/>
<circle cx="295.9" cy="81.5" r="1.05" fill="#1f68a8" stroke="#1a5080" stroke-width="0.2"/>
<circle cx="300.2" cy="81.8" r="1.05" fill="#1f68a8" stroke="#1a5080" stroke-width="0.2"/>
<circle cx="307.4" cy="78.2" r="1.05" fill="#1f68a8" stroke="#1a5080" stroke-width="0.2"/>
<circle cx="307.4" cy="81.5" r="1.05" fill="#1f68a8" stroke="#1a5080" stroke-width="0.2"/>
<circle cx="312.2" cy="81.5" r="1.05" fill="#1f68a8" stroke="#1a5080" stroke-width="0.2"/>
<circle cx="316.1" cy="78.2" r="1.05" fill="#1f68a8" stroke="#1a5080" stroke-width="0.2"/>
<circle cx="273.9" cy="88.0" r="1.05" fill="#1f68a8" stroke="#1a5080" stroke-width="0.2"/>
<circle cx="286.1" cy="88.6" r="1.05" fill="#1f68a8" stroke="#1a5080" stroke-width="0.2"/>
<circle cx="292.1" cy="86.6" r="1.05" fill="#1f68a8" stroke="#1a5080" stroke-width="0.2"/>
<circle cx="303.8" cy="84.7" r="1.05" fill="#1f68a8" stroke="#1a5080" stroke-width="0.2"/>
<circle cx="296.8" cy="90.2" r="1.05" fill="#1f68a8" stroke="#1a5080" stroke-width="0.2"/>
<circle cx="305.9" cy="89.9" r="1.05" fill="#1f68a8" stroke="#1a5080" stroke-width="0.2"/>
<circle cx="315.8" cy="85.8" r="1.05" fill="#1f68a8" stroke="#1a5080" stroke-width="0.2"/>
<circle cx="320.8" cy="86.9" r="1.05" fill="#1f68a8" stroke="#1a5080" stroke-width="0.2"/>
<circle cx="275.8" cy="93.1" r="1.05" fill="#1f68a8" stroke="#1a5080" stroke-width="0.2"/>
<circle cx="309.9" cy="92.9" r="1.05" fill="#1f68a8" stroke="#1a5080" stroke-width="0.2"/>
<circle cx="313.6" cy="92.9" r="1.05" fill="#1f68a8" stroke="#1a5080" stroke-width="0.2"/>
<circle cx="318.6" cy="92.1" r="1.05" fill="#1f68a8" stroke="#1a5080" stroke-width="0.2"/>
<circle cx="280.1" cy="96.0" r="1.05" fill="#1f68a8" stroke="#1a5080" stroke-width="0.2"/>
<circle cx="290.4" cy="96.7" r="1.05" fill="#1f68a8" stroke="#1a5080" stroke-width="0.2"/>
<circle cx="301.4" cy="95.3" r="1.05" fill="#1f68a8" stroke="#1a5080" stroke-width="0.2"/>
<circle cx="323.8" cy="97.5" r="1.05" fill="#1f68a8" stroke="#1a5080" stroke-width="0.2"/>
<circle cx="283.9" cy="98.4" r="1.05" fill="#1f68a8" stroke="#1a5080" stroke-width="0.2"/>
<circle cx="280.1" cy="100.8" r="1.05" fill="#1f68a8" stroke="#1a5080" stroke-width="0.2"/>
<circle cx="298.1" cy="101.7" r="1.05" fill="#1f68a8" stroke="#1a5080" stroke-width="0.2"/>
<circle cx="312.9" cy="100.0" r="1.05" fill="#1f68a8" stroke="#1a5080" stroke-width="0.2"/>
<circle cx="315.8" cy="101.1" r="1.05" fill="#1f68a8" stroke="#1a5080" stroke-width="0.2"/>
<circle cx="305.8" cy="103.3" r="1.05" fill="#1f68a8" stroke="#1a5080" stroke-width="0.2"/>
<circle cx="310.6" cy="103.8" r="1.05" fill="#1f68a8" stroke="#1a5080" stroke-width="0.2"/>
<circle cx="320.1" cy="103.6" r="1.05" fill="#1f68a8" stroke="#1a5080" stroke-width="0.2"/>
<circle cx="287.4" cy="106.6" r="1.05" fill="#1f68a8" stroke="#1a5080" stroke-width="0.2"/>
<circle cx="301.4" cy="104.9" r="1.05" fill="#1f68a8" stroke="#1a5080" stroke-width="0.2"/>
<circle cx="326.6" cy="107.1" r="1.05" fill="#1f68a8" stroke="#1a5080" stroke-width="0.2"/>
<circle cx="283.4" cy="109.5" r="1.05" fill="#1f68a8" stroke="#1a5080" stroke-width="0.2"/>
<circle cx="306.2" cy="112.0" r="1.05" fill="#1f68a8" stroke="#1a5080" stroke-width="0.2"/>
<circle cx="318.2" cy="112.0" r="1.05" fill="#1f68a8" stroke="#1a5080" stroke-width="0.2"/>
<circle cx="320.5" cy="113.4" r="1.05" fill="#1f68a8" stroke="#1a5080" stroke-width="0.2"/>
<circle cx="322.1" cy="114.2" r="1.05" fill="#1f68a8" stroke="#1a5080" stroke-width="0.2"/>
<circle cx="326.0" cy="113.1" r="1.05" fill="#1f68a8" stroke="#1a5080" stroke-width="0.2"/>
<circle cx="309.1" cy="115.1" r="1.05" fill="#1f68a8" stroke="#1a5080" stroke-width="0.2"/>
<circle cx="304.9" cy="119.7" r="1.05" fill="#1f68a8" stroke="#1a5080" stroke-width="0.2"/>
<circle cx="312.2" cy="121.3" r="1.05" fill="#1f68a8" stroke="#1a5080" stroke-width="0.2"/>
<circle cx="328.1" cy="122.6" r="1.05" fill="#1f68a8" stroke="#1a5080" stroke-width="0.2"/>
<circle cx="306.9" cy="126.2" r="1.05" fill="#1f68a8" stroke="#1a5080" stroke-width="0.2"/>
<circle cx="315.6" cy="125.9" r="1.05" fill="#1f68a8" stroke="#1a5080" stroke-width="0.2"/>
<circle cx="291.1" cy="125.1" r="1.05" fill="#1f68a8" stroke="#1a5080" stroke-width="0.2"/>
<circle cx="292.6" cy="127.8" r="1.05" fill="#1f68a8" stroke="#1a5080" stroke-width="0.2"/>
<circle cx="299.8" cy="127.6" r="1.4" fill="#eef0a0" stroke="#666" stroke-width="0.2"/>
<circle cx="324.2" cy="127.3" r="1.05" fill="#1f68a8" stroke="#1a5080" stroke-width="0.2"/>
<circle cx="271.9" cy="127.6" r="1.05" fill="#1f68a8" stroke="#1a5080" stroke-width="0.2"/>
<circle cx="273.6" cy="132.2" r="1.05" fill="#1f68a8" stroke="#1a5080" stroke-width="0.2"/>
<circle cx="281.8" cy="131.7" r="1.05" fill="#1f68a8" stroke="#1a5080" stroke-width="0.2"/>
<circle cx="288.6" cy="131.7" r="1.05" fill="#1f68a8" stroke="#1a5080" stroke-width="0.2"/>
<circle cx="298.6" cy="132.2" r="1.4" fill="#8cc880" stroke="#666" stroke-width="0.2"/>
<circle cx="309.6" cy="133.1" r="1.05" fill="#1f68a8" stroke="#1a5080" stroke-width="0.2"/>
<circle cx="326.5" cy="131.1" r="1.05" fill="#1f68a8" stroke="#1a5080" stroke-width="0.2"/>
<circle cx="317.1" cy="134.6" r="1.05" fill="#1f68a8" stroke="#1a5080" stroke-width="0.2"/>
<circle cx="289.4" cy="143.1" r="1.05" fill="#1f68a8" stroke="#1a5080" stroke-width="0.2"/>
<circle cx="294.9" cy="142.6" r="1.05" fill="#1f68a8" stroke="#1a5080" stroke-width="0.2"/>
<circle cx="298.1" cy="143.1" r="1.05" fill="#1f68a8" stroke="#1a5080" stroke-width="0.2"/>
<circle cx="308.4" cy="142.6" r="1.05" fill="#1f68a8" stroke="#1a5080" stroke-width="0.2"/>
<circle cx="317.6" cy="140.9" r="1.05" fill="#1f68a8" stroke="#1a5080" stroke-width="0.2"/>
<circle cx="229.4" cy="116.4" r="1.05" fill="#1f68a8" stroke="#1a5080" stroke-width="0.2"/>
<circle cx="245.2" cy="115.1" r="1.05" fill="#1f68a8" stroke="#1a5080" stroke-width="0.2"/>
<circle cx="250.2" cy="114.7" r="1.05" fill="#1f68a8" stroke="#1a5080" stroke-width="0.2"/>
<circle cx="261.1" cy="117.7" r="1.05" fill="#1f68a8" stroke="#1a5080" stroke-width="0.2"/>
<circle cx="221.8" cy="123.5" r="1.05" fill="#1f68a8" stroke="#1a5080" stroke-width="0.2"/>
<circle cx="240.2" cy="123.8" r="1.05" fill="#1f68a8" stroke="#1a5080" stroke-width="0.2"/>
<circle cx="250.4" cy="121.6" r="1.05" fill="#1f68a8" stroke="#1a5080" stroke-width="0.2"/>
<circle cx="255.1" cy="121.8" r="1.05" fill="#1f68a8" stroke="#1a5080" stroke-width="0.2"/>
<circle cx="237.9" cy="127.5" r="1.05" fill="#1f68a8" stroke="#1a5080" stroke-width="0.2"/>
<circle cx="236.8" cy="128.9" r="1.05" fill="#1f68a8" stroke="#1a5080" stroke-width="0.2"/>
<circle cx="241.6" cy="127.5" r="1.05" fill="#1f68a8" stroke="#1a5080" stroke-width="0.2"/>
<circle cx="247.9" cy="127.5" r="1.05" fill="#1f68a8" stroke="#1a5080" stroke-width="0.2"/>
<circle cx="228.2" cy="131.1" r="1.05" fill="#1f68a8" stroke="#1a5080" stroke-width="0.2"/>
<circle cx="233.8" cy="132.7" r="1.05" fill="#1f68a8" stroke="#1a5080" stroke-width="0.2"/>
<circle cx="241.4" cy="131.7" r="1.05" fill="#1f68a8" stroke="#1a5080" stroke-width="0.2"/>
<circle cx="222.7" cy="136.6" r="1.05" fill="#1f68a8" stroke="#1a5080" stroke-width="0.2"/>
<circle cx="224.2" cy="137.7" r="1.05" fill="#1f68a8" stroke="#1a5080" stroke-width="0.2"/>
<circle cx="256.4" cy="150.2" r="1.05" fill="#1f68a8" stroke="#1a5080" stroke-width="0.2"/>
<circle cx="253.8" cy="153.3" r="1.05" fill="#1f68a8" stroke="#1a5080" stroke-width="0.2"/>
<circle cx="248.2" cy="154.3" r="1.05" fill="#1f68a8" stroke="#1a5080" stroke-width="0.2"/>
<circle cx="261.1" cy="155.1" r="1.05" fill="#1f68a8" stroke="#1a5080" stroke-width="0.2"/>
<circle cx="245.8" cy="157.3" r="1.05" fill="#1f68a8" stroke="#1a5080" stroke-width="0.2"/>
<circle cx="253.4" cy="158.9" r="1.05" fill="#1f68a8" stroke="#1a5080" stroke-width="0.2"/>
<circle cx="245.2" cy="163.1" r="1.05" fill="#1f68a8" stroke="#1a5080" stroke-width="0.2"/>
<circle cx="261.1" cy="161.7" r="1.05" fill="#1f68a8" stroke="#1a5080" stroke-width="0.2"/>
<circle cx="259.4" cy="163.8" r="1.05" fill="#1f68a8" stroke="#1a5080" stroke-width="0.2"/>
<circle cx="257.8" cy="165.7" r="1.05" fill="#1f68a8" stroke="#1a5080" stroke-width="0.2"/>
<circle cx="261.2" cy="165.5" r="1.05" fill="#1f68a8" stroke="#1a5080" stroke-width="0.2"/>
<circle cx="239.8" cy="167.7" r="1.05" fill="#1f68a8" stroke="#1a5080" stroke-width="0.2"/>
<circle cx="252.9" cy="168.7" r="1.05" fill="#1f68a8" stroke="#1a5080" stroke-width="0.2"/>
<circle cx="244.7" cy="169.3" r="1.05" fill="#1f68a8" stroke="#1a5080" stroke-width="0.2"/>
<circle cx="267.6" cy="170.1" r="1.05" fill="#1f68a8" stroke="#1a5080" stroke-width="0.2"/>
<circle cx="297.6" cy="147.7" r="1.05" fill="#1f68a8" stroke="#1a5080" stroke-width="0.2"/>
<circle cx="307.1" cy="148.0" r="1.05" fill="#1f68a8" stroke="#1a5080" stroke-width="0.2"/>
<circle cx="310.6" cy="149.1" r="1.05" fill="#1f68a8" stroke="#1a5080" stroke-width="0.2"/>
<circle cx="317.6" cy="148.3" r="1.05" fill="#1f68a8" stroke="#1a5080" stroke-width="0.2"/>
<circle cx="326.5" cy="148.6" r="1.05" fill="#1f68a8" stroke="#1a5080" stroke-width="0.2"/>
<circle cx="324.2" cy="144.4" r="1.05" fill="#1f68a8" stroke="#1a5080" stroke-width="0.2"/>
<circle cx="272.4" cy="151.0" r="1.05" fill="#1f68a8" stroke="#1a5080" stroke-width="0.2"/>
<circle cx="307.4" cy="152.4" r="1.05" fill="#1f68a8" stroke="#1a5080" stroke-width="0.2"/>
<circle cx="313.4" cy="153.1" r="1.05" fill="#1f68a8" stroke="#1a5080" stroke-width="0.2"/>
<circle cx="269.6" cy="155.7" r="1.05" fill="#1f68a8" stroke="#1a5080" stroke-width="0.2"/>
<circle cx="279.6" cy="155.1" r="1.05" fill="#1f68a8" stroke="#1a5080" stroke-width="0.2"/>
<circle cx="288.6" cy="154.9" r="1.05" fill="#1f68a8" stroke="#1a5080" stroke-width="0.2"/>
<circle cx="309.1" cy="155.7" r="1.05" fill="#1f68a8" stroke="#1a5080" stroke-width="0.2"/>
<circle cx="315.6" cy="156.4" r="1.05" fill="#1f68a8" stroke="#1a5080" stroke-width="0.2"/>
<circle cx="323.1" cy="157.1" r="1.05" fill="#1f68a8" stroke="#1a5080" stroke-width="0.2"/>
<circle cx="283.9" cy="158.4" r="1.05" fill="#1f68a8" stroke="#1a5080" stroke-width="0.2"/>
<circle cx="287.8" cy="159.3" r="1.05" fill="#1f68a8" stroke="#1a5080" stroke-width="0.2"/>
<circle cx="299.4" cy="159.3" r="1.05" fill="#1f68a8" stroke="#1a5080" stroke-width="0.2"/>
<circle cx="305.1" cy="160.3" r="1.05" fill="#1f68a8" stroke="#1a5080" stroke-width="0.2"/>
<circle cx="273.9" cy="164.4" r="1.05" fill="#1f68a8" stroke="#1a5080" stroke-width="0.2"/>
<circle cx="324.9" cy="164.4" r="1.05" fill="#1f68a8" stroke="#1a5080" stroke-width="0.2"/>
<circle cx="280.4" cy="165.8" r="1.05" fill="#1f68a8" stroke="#1a5080" stroke-width="0.2"/>
<circle cx="293.1" cy="167.1" r="1.05" fill="#1f68a8" stroke="#1a5080" stroke-width="0.2"/>
<circle cx="297.9" cy="167.3" r="1.05" fill="#1f68a8" stroke="#1a5080" stroke-width="0.2"/>
<circle cx="321.6" cy="167.1" r="1.05" fill="#1f68a8" stroke="#1a5080" stroke-width="0.2"/>
<circle cx="277.1" cy="169.1" r="1.05" fill="#1f68a8" stroke="#1a5080" stroke-width="0.2"/>
<circle cx="308.4" cy="170.4" r="1.05" fill="#1f68a8" stroke="#1a5080" stroke-width="0.2"/>
<circle cx="315.1" cy="170.6" r="1.05" fill="#1f68a8" stroke="#1a5080" stroke-width="0.2"/>
<circle cx="281.8" cy="172.3" r="1.05" fill="#1f68a8" stroke="#1a5080" stroke-width="0.2"/>
<circle cx="288.1" cy="170.9" r="1.05" fill="#1f68a8" stroke="#1a5080" stroke-width="0.2"/>
<circle cx="297.6" cy="172.0" r="1.05" fill="#1f68a8" stroke="#1a5080" stroke-width="0.2"/>
<circle cx="303.4" cy="173.1" r="1.05" fill="#1f68a8" stroke="#1a5080" stroke-width="0.2"/>
<circle cx="328.1" cy="173.1" r="1.05" fill="#1f68a8" stroke="#1a5080" stroke-width="0.2"/>
<circle cx="318.2" cy="175.3" r="1.05" fill="#1f68a8" stroke="#1a5080" stroke-width="0.2"/>
<circle cx="276.9" cy="176.7" r="1.05" fill="#1f68a8" stroke="#1a5080" stroke-width="0.2"/>
<circle cx="282.6" cy="177.5" r="1.05" fill="#1f68a8" stroke="#1a5080" stroke-width="0.2"/>
<circle cx="295.9" cy="177.5" r="1.05" fill="#1f68a8" stroke="#1a5080" stroke-width="0.2"/>
<circle cx="304.6" cy="178.9" r="1.05" fill="#1f68a8" stroke="#1a5080" stroke-width="0.2"/>
<circle cx="323.0" cy="179.3" r="1.05" fill="#1f68a8" stroke="#1a5080" stroke-width="0.2"/>
<circle cx="286.4" cy="179.7" r="1.05" fill="#1f68a8" stroke="#1a5080" stroke-width="0.2"/>
<circle cx="309.6" cy="181.1" r="1.05" fill="#1f68a8" stroke="#1a5080" stroke-width="0.2"/>
<circle cx="293.8" cy="181.8" r="1.05" fill="#1f68a8" stroke="#1a5080" stroke-width="0.2"/>
<circle cx="302.4" cy="181.8" r="1.05" fill="#1f68a8" stroke="#1a5080" stroke-width="0.2"/>
<circle cx="320.1" cy="183.3" r="1.05" fill="#1f68a8" stroke="#1a5080" stroke-width="0.2"/>
<circle cx="316.1" cy="184.8" r="1.05" fill="#1f68a8" stroke="#1a5080" stroke-width="0.2"/>
<circle cx="301.1" cy="187.6" r="1.05" fill="#1f68a8" stroke="#1a5080" stroke-width="0.2"/>
<circle cx="304.6" cy="187.3" r="1.05" fill="#1f68a8" stroke="#1a5080" stroke-width="0.2"/>
<circle cx="290.4" cy="188.4" r="1.05" fill="#1f68a8" stroke="#1a5080" stroke-width="0.2"/>
<circle cx="321.1" cy="189.5" r="1.05" fill="#1f68a8" stroke="#1a5080" stroke-width="0.2"/>
<circle cx="313.1" cy="189.5" r="1.05" fill="#1f68a8" stroke="#1a5080" stroke-width="0.2"/>
<circle cx="308.4" cy="191.1" r="1.05" fill="#1f68a8" stroke="#1a5080" stroke-width="0.2"/>
<circle cx="325.1" cy="194.2" r="1.05" fill="#1f68a8" stroke="#1a5080" stroke-width="0.2"/>
<circle cx="335.0" cy="114.3" r="1.05" fill="#1f68a8" stroke="#1a5080" stroke-width="0.2"/>
<circle cx="336.4" cy="118.4" r="1.05" fill="#1f68a8" stroke="#1a5080" stroke-width="0.2"/>
<circle cx="334.6" cy="122.5" r="1.05" fill="#1f68a8" stroke="#1a5080" stroke-width="0.2"/>
<circle cx="340.5" cy="124.9" r="1.05" fill="#1f68a8" stroke="#1a5080" stroke-width="0.2"/>
<circle cx="333.2" cy="128.3" r="1.05" fill="#1f68a8" stroke="#1a5080" stroke-width="0.2"/>
<circle cx="341.0" cy="132.6" r="1.05" fill="#1f68a8" stroke="#1a5080" stroke-width="0.2"/>
<circle cx="332.1" cy="134.7" r="1.05" fill="#1f68a8" stroke="#1a5080" stroke-width="0.2"/>
<circle cx="332.5" cy="141.8" r="1.05" fill="#1f68a8" stroke="#1a5080" stroke-width="0.2"/>
<circle cx="336.9" cy="145.1" r="1.05" fill="#1f68a8" stroke="#1a5080" stroke-width="0.2"/>
<circle cx="336.2" cy="150.1" r="1.05" fill="#1f68a8" stroke="#1a5080" stroke-width="0.2"/>
<circle cx="334.1" cy="156.4" r="1.05" fill="#1f68a8" stroke="#1a5080" stroke-width="0.2"/>
<circle cx="331.1" cy="161.0" r="1.05" fill="#1f68a8" stroke="#1a5080" stroke-width="0.2"/>
<circle cx="329.8" cy="168.8" r="1.05" fill="#1f68a8" stroke="#1a5080" stroke-width="0.2"/>
<circle cx="328.8" cy="173.1" r="1.05" fill="#1f68a8" stroke="#1a5080" stroke-width="0.2"/>
<circle cx="334.1" cy="176.6" r="1.05" fill="#1f68a8" stroke="#1a5080" stroke-width="0.2"/>
<circle cx="331.9" cy="183.1" r="1.05" fill="#1f68a8" stroke="#1a5080" stroke-width="0.2"/>
<circle cx="331.5" cy="193.4" r="1.05" fill="#1f68a8" stroke="#1a5080" stroke-width="0.2"/>
<circle cx="244.2" cy="176.4" r="1.05" fill="#1f68a8" stroke="#1a5080" stroke-width="0.2"/>
<circle cx="247.4" cy="180.6" r="1.05" fill="#1f68a8" stroke="#1a5080" stroke-width="0.2"/>
<circle cx="258.6" cy="177.1" r="1.05" fill="#1f68a8" stroke="#1a5080" stroke-width="0.2"/>
<circle cx="265.4" cy="65.4" r="2.0" fill="#d7191c" stroke="#8a1010" stroke-width="0.3"/>
<circle cx="234.9" cy="95.4" r="2.0" fill="#d7191c" stroke="#8a1010" stroke-width="0.3"/>
<circle cx="240.9" cy="97.8" r="2.0" fill="#d7191c" stroke="#8a1010" stroke-width="0.3"/>
<circle cx="224.2" cy="97.3" r="2.0" fill="#d7191c" stroke="#8a1010" stroke-width="0.3"/>
<circle cx="223.9" cy="107.7" r="2.0" fill="#e8603a" stroke="#8a1010" stroke-width="0.3"/>
<circle cx="264.2" cy="107.7" r="2.0" fill="#d7191c" stroke="#8a1010" stroke-width="0.3"/>
<circle cx="266.4" cy="112.0" r="2.0" fill="#d7191c" stroke="#8a1010" stroke-width="0.3"/>
<circle cx="274.4" cy="109.3" r="2.0" fill="#d7191c" stroke="#8a1010" stroke-width="0.3"/>
<circle cx="292.1" cy="114.2" r="2.0" fill="#d7191c" stroke="#8a1010" stroke-width="0.3"/>
<circle cx="282.2" cy="116.2" r="2.0" fill="#d7191c" stroke="#8a1010" stroke-width="0.3"/>
<circle cx="286.6" cy="117.5" r="2.0" fill="#d7191c" stroke="#8a1010" stroke-width="0.3"/>
<circle cx="269.1" cy="116.7" r="2.0" fill="#d7191c" stroke="#8a1010" stroke-width="0.3"/>
<circle cx="295.9" cy="121.3" r="2.0" fill="#d7191c" stroke="#8a1010" stroke-width="0.3"/>
<circle cx="277.4" cy="119.1" r="2.0" fill="#d7191c" stroke="#8a1010" stroke-width="0.3"/>
<circle cx="275.1" cy="120.7" r="2.0" fill="#d7191c" stroke="#8a1010" stroke-width="0.3"/>
<circle cx="277.4" cy="121.8" r="2.0" fill="#d7191c" stroke="#8a1010" stroke-width="0.3"/>
<circle cx="282.9" cy="123.3" r="2.0" fill="#d7191c" stroke="#8a1010" stroke-width="0.3"/>
<circle cx="271.8" cy="173.4" r="2.0" fill="#d7191c" stroke="#8a1010" stroke-width="0.3"/>
<circle cx="270.2" cy="178.2" r="2.0" fill="#d7191c" stroke="#8a1010" stroke-width="0.3"/>
<circle cx="282.6" cy="181.8" r="2.0" fill="#d7191c" stroke="#8a1010" stroke-width="0.3"/>
<circle cx="279.1" cy="182.6" r="2.0" fill="#d7191c" stroke="#8a1010" stroke-width="0.3"/>
<circle cx="269.6" cy="182.9" r="2.0" fill="#d7191c" stroke="#8a1010" stroke-width="0.3"/>
<circle cx="286.6" cy="185.7" r="2.0" fill="#d7191c" stroke="#8a1010" stroke-width="0.3"/>
<circle cx="274.9" cy="186.2" r="2.0" fill="#d7191c" stroke="#8a1010" stroke-width="0.3"/>
<circle cx="282.6" cy="186.7" r="2.0" fill="#d7191c" stroke="#8a1010" stroke-width="0.3"/>
<circle cx="255.6" cy="179.3" r="2.0" fill="#d7191c" stroke="#8a1010" stroke-width="0.3"/>
<circle cx="257.6" cy="183.0" r="2.0" fill="#d7191c" stroke="#8a1010" stroke-width="0.3"/>
<circle cx="266.4" cy="184.9" r="2.0" fill="#d7191c" stroke="#8a1010" stroke-width="0.3"/>
<circle cx="275.1" cy="114.5" r="2.0" fill="#d7191c" stroke="#8a1010" stroke-width="0.3"/>
<rect x="275.65" y="45.45" width="2.50" height="2.50" fill="#ec74c4" stroke="#8a4070" stroke-width="0.4"/>
<rect x="280.55" y="62.35" width="2.50" height="2.50" fill="#ec74c4" stroke="#8a4070" stroke-width="0.4"/>
<rect x="302.95" y="66.05" width="2.50" height="2.50" fill="#ec74c4" stroke="#8a4070" stroke-width="0.4"/>
<rect x="287.85" y="76.55" width="2.50" height="2.50" fill="#ec74c4" stroke="#8a4070" stroke-width="0.4"/>
<rect x="310.55" y="76.05" width="2.50" height="2.50" fill="#ec74c4" stroke="#8a4070" stroke-width="0.4"/>
<rect x="314.55" y="86.95" width="2.50" height="2.50" fill="#ec74c4" stroke="#8a4070" stroke-width="0.4"/>
<rect x="292.05" y="92.05" width="2.50" height="2.50" fill="#ec74c4" stroke="#8a4070" stroke-width="0.4"/>
<rect x="295.65" y="95.65" width="2.50" height="2.50" fill="#ec74c4" stroke="#8a4070" stroke-width="0.4"/>
<rect x="282.05" y="102.95" width="2.50" height="2.50" fill="#ec74c4" stroke="#8a4070" stroke-width="0.4"/>
<rect x="321.15" y="105.65" width="2.50" height="2.50" fill="#ec74c4" stroke="#8a4070" stroke-width="0.4"/>
<rect x="248.95" y="89.85" width="2.50" height="2.50" fill="#ec74c4" stroke="#8a4070" stroke-width="0.4"/>
<rect x="256.95" y="80.15" width="2.50" height="2.50" fill="#ec74c4" stroke="#8a4070" stroke-width="0.4"/>
<rect x="262.45" y="101.75" width="2.50" height="2.50" fill="#ec74c4" stroke="#8a4070" stroke-width="0.4"/>
<rect x="225.65" y="92.75" width="2.50" height="2.50" fill="#ec74c4" stroke="#8a4070" stroke-width="0.4"/>
<rect x="241.25" y="118.45" width="2.50" height="2.50" fill="#ec74c4" stroke="#8a4070" stroke-width="0.4"/>
<rect x="245.05" y="122.25" width="2.50" height="2.50" fill="#ec74c4" stroke="#8a4070" stroke-width="0.4"/>
<rect x="231.95" y="124.05" width="2.50" height="2.50" fill="#ec74c4" stroke="#8a4070" stroke-width="0.4"/>
<rect x="251.45" y="135.95" width="2.50" height="2.50" fill="#ec74c4" stroke="#8a4070" stroke-width="0.4"/>
<rect x="305.65" y="118.15" width="2.50" height="2.50" fill="#ec74c4" stroke="#8a4070" stroke-width="0.4"/>
<rect x="324.75" y="126.05" width="2.50" height="2.50" fill="#ec74c4" stroke="#8a4070" stroke-width="0.4"/>
<rect x="333.75" y="125.45" width="2.50" height="2.50" fill="#ec74c4" stroke="#8a4070" stroke-width="0.4"/>
<rect x="225.85" y="102.65" width="2.50" height="2.50" fill="#ec74c4" stroke="#8a4070" stroke-width="0.4"/>
<rect x="245.75" y="172.05" width="2.50" height="2.50" fill="#ec74c4" stroke="#8a4070" stroke-width="0.4"/>
<rect x="285.85" y="174.15" width="2.50" height="2.50" fill="#ec74c4" stroke="#8a4070" stroke-width="0.4"/>
<rect x="291.15" y="129.55" width="2.50" height="2.50" fill="#ec74c4" stroke="#8a4070" stroke-width="0.4"/>
<rect x="278.85" y="149.25" width="2.50" height="2.50" fill="#ec74c4" stroke="#8a4070" stroke-width="0.4"/>
<rect x="310.95" y="147.15" width="2.50" height="2.50" fill="#ec74c4" stroke="#8a4070" stroke-width="0.4"/>
<rect x="318.55" y="148.15" width="2.50" height="2.50" fill="#ec74c4" stroke="#8a4070" stroke-width="0.4"/>
<rect x="329.85" y="154.55" width="2.50" height="2.50" fill="#ec74c4" stroke="#8a4070" stroke-width="0.4"/>
<rect x="291.75" y="157.15" width="2.50" height="2.50" fill="#ec74c4" stroke="#8a4070" stroke-width="0.4"/>
<rect x="331.05" y="163.45" width="2.50" height="2.50" fill="#ec74c4" stroke="#8a4070" stroke-width="0.4"/>
<rect x="293.05" y="167.95" width="2.50" height="2.50" fill="#ec74c4" stroke="#8a4070" stroke-width="0.4"/>
<rect x="307.75" y="173.95" width="2.50" height="2.50" fill="#ec74c4" stroke="#8a4070" stroke-width="0.4"/>
<rect x="316.45" y="177.75" width="2.50" height="2.50" fill="#ec74c4" stroke="#8a4070" stroke-width="0.4"/>
<rect x="324.75" y="186.85" width="2.50" height="2.50" fill="#ec74c4" stroke="#8a4070" stroke-width="0.4"/>
<rect x="324.25" y="158.55" width="2.50" height="2.50" fill="#ec74c4" stroke="#8a4070" stroke-width="0.4"/>
<rect x="257.65" y="154.25" width="2.50" height="2.50" fill="#ec74c4" stroke="#8a4070" stroke-width="0.4"/>
<rect x="249.55" y="157.95" width="2.50" height="2.50" fill="#ec74c4" stroke="#8a4070" stroke-width="0.4"/>
<rect x="241.75" y="162.15" width="2.50" height="2.50" fill="#ec74c4" stroke="#8a4070" stroke-width="0.4"/>
<rect x="312.95" y="120.75" width="2.50" height="2.50" fill="#ec74c4" stroke="#8a4070" stroke-width="0.4"/>
<rect x="292.95" y="143.15" width="2.50" height="2.50" fill="#ec74c4" stroke="#8a4070" stroke-width="0.4"/>
<path d="M451.4,28.1 L458.9,26.9 L468.5,30.3" fill="none" stroke="#ededed" stroke-width="0.6" stroke-linejoin="round"/>
<path d="M459.1,27.8 L453.8,15.3 L453.1,7.4 L453.3,-7.7" fill="none" stroke="#ededed" stroke-width="0.6" stroke-linejoin="round"/>
<path d="M443.1,207.8 L449.0,210.6 L464.4,213.0" fill="none" stroke="#ededed" stroke-width="0.6" stroke-linejoin="round"/>
<path d="M403.5,28.3 L412.3,18.2" fill="none" stroke="#ededed" stroke-width="0.6" stroke-linejoin="round"/>
<path d="M449.5,24.0 L447.2,9.0 L444.5,1.9" fill="none" stroke="#ededed" stroke-width="0.6" stroke-linejoin="round"/>
<path d="M363.4,122.1 L370.2,118.1 L385.1,112.9" fill="none" stroke="#ededed" stroke-width="0.6" stroke-linejoin="round"/>
<path d="M368.5,187.3 L359.3,198.6 L354.7,202.6 L341.1,205.8" fill="none" stroke="#ededed" stroke-width="0.6" stroke-linejoin="round"/>
<path d="M466.7,202.3 L456.4,206.3 L450.1,213.5" fill="none" stroke="#ededed" stroke-width="0.6" stroke-linejoin="round"/>
<path d="M443.6,19.0 L432.4,14.8 L423.7,13.1 L414.1,6.4" fill="none" stroke="#ededed" stroke-width="0.6" stroke-linejoin="round"/>
<path d="M445.2,206.0 L455.1,204.8 L463.7,204.6" fill="none" stroke="#ededed" stroke-width="0.6" stroke-linejoin="round"/>
<path d="M397.7,59.5 L399.8,47.2" fill="none" stroke="#ededed" stroke-width="0.6" stroke-linejoin="round"/>
<path d="M455.4,34.4 L450.3,29.0 L443.4,15.0" fill="none" stroke="#ededed" stroke-width="0.6" stroke-linejoin="round"/>
<path d="M358.6,163.4 L360.4,170.7 L366.8,179.4 L378.0,187.6" fill="none" stroke="#ededed" stroke-width="0.6" stroke-linejoin="round"/>
<path d="M487.5,51.7 L490.3,63.2 L491.7,72.7 L493.5,87.0" fill="none" stroke="#ededed" stroke-width="0.6" stroke-linejoin="round"/>
<path d="M351.0,97.7 L349.2,112.2 L343.6,120.2" fill="none" stroke="#ededed" stroke-width="0.6" stroke-linejoin="round"/>
<path d="M491.5,186.6 L496.9,187.3" fill="none" stroke="#ededed" stroke-width="0.6" stroke-linejoin="round"/>
<path d="M504.6,137.4 L495.2,142.9 L489.6,144.1" fill="none" stroke="#ededed" stroke-width="0.6" stroke-linejoin="round"/>
<path d="M385.7,69.8 L390.4,67.9" fill="none" stroke="#ededed" stroke-width="0.6" stroke-linejoin="round"/>
<path d="M353.5,69.3 L352.7,74.8 L353.3,88.8 L349.1,101.6" fill="none" stroke="#ededed" stroke-width="0.6" stroke-linejoin="round"/>
<path d="M427.1,21.6 L425.1,13.4 L421.5,5.3 L418.5,-5.8" fill="none" stroke="#ededed" stroke-width="0.6" stroke-linejoin="round"/>
<path d="M406.3,53.2 L405.7,58.2" fill="none" stroke="#ededed" stroke-width="0.6" stroke-linejoin="round"/>
<path d="M441.3,23.6 L432.2,23.3 L421.0,19.3 L412.2,16.9" fill="none" stroke="#ededed" stroke-width="0.6" stroke-linejoin="round"/>
<path d="M357.2,100.0 L348.1,100.2" fill="none" stroke="#ededed" stroke-width="0.6" stroke-linejoin="round"/>
<path d="M497.6,173.2 L493.6,188.0 L486.7,200.6" fill="none" stroke="#ededed" stroke-width="0.6" stroke-linejoin="round"/>
<path d="M363.5,78.7 L354.1,74.5 L345.0,73.1 L333.9,71.1" fill="none" stroke="#ededed" stroke-width="0.6" stroke-linejoin="round"/>
<path d="M395.9,32.8 L408.8,32.6 L420.9,27.4 L426.6,27.5" fill="none" stroke="#ededed" stroke-width="0.6" stroke-linejoin="round"/>
<path d="M485.8,63.4 L491.7,74.6" fill="none" stroke="#ededed" stroke-width="0.6" stroke-linejoin="round"/>
<path d="M446.9,202.8 L439.5,201.0" fill="none" stroke="#ededed" stroke-width="0.6" stroke-linejoin="round"/>
<path d="M361.3,164.6 L372.7,163.8 L379.0,165.6 L384.6,169.0" fill="none" stroke="#ededed" stroke-width="0.6" stroke-linejoin="round"/>
<path d="M432.7,202.0 L440.0,198.1 L449.2,195.6 L460.6,196.5" fill="none" stroke="#ededed" stroke-width="0.6" stroke-linejoin="round"/>
<path d="M390.4,58.5 L396.9,61.7 L403.5,65.4" fill="none" stroke="#ededed" stroke-width="0.6" stroke-linejoin="round"/>
<path d="M455.9,20.6 L464.9,23.4" fill="none" stroke="#ededed" stroke-width="0.6" stroke-linejoin="round"/>
<path d="M469.7,207.1 L457.8,204.8" fill="none" stroke="#ededed" stroke-width="0.6" stroke-linejoin="round"/>
<path d="M382.0,65.8 L387.8,55.5 L391.3,51.4" fill="none" stroke="#ededed" stroke-width="0.6" stroke-linejoin="round"/>
<path d="M360.5,174.8 L364.4,182.0 L371.2,191.1" fill="none" stroke="#ededed" stroke-width="0.6" stroke-linejoin="round"/>
<path d="M444.5,206.1 L434.9,217.3 L432.2,226.7 L429.9,237.2" fill="none" stroke="#ededed" stroke-width="0.6" stroke-linejoin="round"/>
<path d="M410.2,189.5 L422.8,190.0 L437.4,190.7 L446.2,195.4" fill="none" stroke="#ededed" stroke-width="0.6" stroke-linejoin="round"/>
<path d="M492.7,88.9 L483.2,101.1 L477.4,110.6" fill="none" stroke="#ededed" stroke-width="0.6" stroke-linejoin="round"/>
<path d="M435.0,22.4 L429.4,19.7 L417.5,16.9 L407.4,18.0" fill="none" stroke="#ededed" stroke-width="0.6" stroke-linejoin="round"/>
<path d="M349.3,138.7 L334.2,137.5 L319.7,139.0" fill="none" stroke="#ededed" stroke-width="0.6" stroke-linejoin="round"/>
<path d="M463.1,41.9 L467.5,38.8 L475.6,25.1 L481.8,21.4" fill="none" stroke="#ededed" stroke-width="0.6" stroke-linejoin="round"/>
<path d="M425.5,28.6 L431.4,22.7" fill="none" stroke="#ededed" stroke-width="0.6" stroke-linejoin="round"/>
<path d="M497.9,158.9 L492.2,165.9 L483.6,179.0" fill="none" stroke="#ededed" stroke-width="0.6" stroke-linejoin="round"/>
<path d="M481.7,66.7 L476.9,71.5 L473.5,82.4" fill="none" stroke="#ededed" stroke-width="0.6" stroke-linejoin="round"/>
<path d="M488.1,95.6 L484.8,100.1" fill="none" stroke="#ededed" stroke-width="0.6" stroke-linejoin="round"/>
<path d="M354.6,102.1 L360.0,102.4 L366.4,100.1 L370.3,96.1" fill="none" stroke="#ededed" stroke-width="0.6" stroke-linejoin="round"/>
<path d="M456.2,195.1 L460.9,204.2 L468.0,214.2" fill="none" stroke="#ededed" stroke-width="0.6" stroke-linejoin="round"/>
<path d="M410.6,202.5 L405.6,210.7" fill="none" stroke="#ededed" stroke-width="0.6" stroke-linejoin="round"/>
<path d="M348.9,108.4 L350.7,100.1 L355.0,86.9 L353.5,75.3" fill="none" stroke="#ededed" stroke-width="0.6" stroke-linejoin="round"/>
<path d="M353.2,108.3 L358.2,100.7 L359.6,91.4 L363.1,86.4" fill="none" stroke="#ededed" stroke-width="0.6" stroke-linejoin="round"/>
<path d="M358.8,144.8 L352.5,158.8" fill="none" stroke="#ededed" stroke-width="0.6" stroke-linejoin="round"/>
<path d="M364.1,72.5 L366.6,82.7 L365.2,91.1 L358.1,102.8" fill="none" stroke="#ededed" stroke-width="0.6" stroke-linejoin="round"/>
<path d="M352.0,176.3 L337.9,171.7" fill="none" stroke="#ededed" stroke-width="0.6" stroke-linejoin="round"/>
<path d="M359.6,108.0 L360.3,120.1 L357.3,134.4 L356.7,146.0" fill="none" stroke="#ededed" stroke-width="0.6" stroke-linejoin="round"/>
<path d="M483.5,56.2 L471.5,55.6 L464.4,56.5" fill="none" stroke="#ededed" stroke-width="0.6" stroke-linejoin="round"/>
<path d="M473.1,199.8 L467.5,189.0 L464.9,182.2" fill="none" stroke="#ededed" stroke-width="0.6" stroke-linejoin="round"/>
<path d="M373.1,201.2 L372.5,186.0 L372.5,176.3 L379.0,162.9" fill="none" stroke="#ededed" stroke-width="0.6" stroke-linejoin="round"/>
<path d="M430.6,27.3 L422.6,26.7" fill="none" stroke="#ededed" stroke-width="0.6" stroke-linejoin="round"/>
<path d="M393.8,35.7 L392.0,42.7 L388.7,56.2" fill="none" stroke="#ededed" stroke-width="0.6" stroke-linejoin="round"/>
<path d="M495.8,176.4 L488.6,184.4" fill="none" stroke="#ededed" stroke-width="0.6" stroke-linejoin="round"/>
<path d="M347.4,140.8 L352.0,144.0" fill="none" stroke="#ededed" stroke-width="0.6" stroke-linejoin="round"/>
<path d="M478.5,210.8 L486.6,210.5" fill="none" stroke="#ededed" stroke-width="0.6" stroke-linejoin="round"/>
<path d="M498.8,182.1 L492.3,177.7" fill="none" stroke="#ededed" stroke-width="0.6" stroke-linejoin="round"/>
<path d="M499.0,108.5 L494.6,100.6 L491.5,93.0 L486.8,88.5" fill="none" stroke="#ededed" stroke-width="0.6" stroke-linejoin="round"/>
<path d="M392.3,66.1 L393.5,74.5 L394.6,84.0 L391.3,97.7" fill="none" stroke="#ededed" stroke-width="0.6" stroke-linejoin="round"/>
<path d="M419.0,30.2 L431.8,39.0 L437.0,43.9" fill="none" stroke="#ededed" stroke-width="0.6" stroke-linejoin="round"/>
<path d="M367.8,164.5 L346.0,176.0" fill="none" stroke="#dadada" stroke-width="0.9" stroke-linejoin="round"/>
<path d="M495.0,139.0 L507.0,139.0" fill="none" stroke="#dadada" stroke-width="0.9" stroke-linejoin="round"/>
<path d="M383.5,71.0 L370.4,46.2" fill="none" stroke="#dadada" stroke-width="0.9" stroke-linejoin="round"/>
<path d="M413.0,185.0 L412.0,200.0" fill="none" stroke="#dadada" stroke-width="0.9" stroke-linejoin="round"/>
<path d="M440.3,25.8 L442.6,27.6 L447.1,41.3 L450.2,42.0 L457.8,48.1 L465.4,55.7 L471.4,61.0 L478.3,65.6 L479.0,71.6 L482.1,76.2 L485.5,81.0 L486.0,88.0 L487.5,100.0 L489.5,110.0 L492.7,118.2 L494.5,128.0 L495.1,139.8 L493.5,146.4 L491.8,154.5 L495.9,162.7 L495.1,174.2 L491.8,179.1 L490.2,195.5 L486.9,201.2 L478.7,202.0 L470.6,198.7 L460.0,194.5 L455.1,195.2 L448.6,196.8 L442.0,195.2 L432.2,191.9 L424.0,187.8 L415.0,184.5 L411.0,186.5 L400.0,189.0 L391.3,191.1 L383.1,184.5 L376.5,176.4 L368.2,168.5 L367.5,162.0 L368.9,154.7 L373.3,146.0 L364.5,138.4 L363.8,131.1 L363.1,125.3 L365.3,119.5 L363.1,113.6 L362.4,107.8 L360.9,99.1 L361.6,93.3 L360.2,84.5 L371.8,78.2 L382.7,75.3 L383.5,70.9 L398.0,69.5 L409.6,66.5 L408.9,56.4 L407.5,47.6 L408.2,44.5 Z" fill="#fff" stroke="#9c9c9c" stroke-width="0.9" stroke-linejoin="round"/>
<path d="M383.5,71.0 L399.0,100.0 L419.0,138.0" fill="none" stroke="#cfcfcf" stroke-width="1.0" stroke-linejoin="round"/>
<path d="M419.0,138.0 L495.0,139.0" fill="none" stroke="#cfcfcf" stroke-width="1.0" stroke-linejoin="round"/>
<path d="M419.0,138.0 L367.8,164.5" fill="none" stroke="#cfcfcf" stroke-width="1.0" stroke-linejoin="round"/>
<path d="M419.0,138.0 L415.0,160.0 L413.0,185.0" fill="none" stroke="#cfcfcf" stroke-width="1.0" stroke-linejoin="round"/>
<line x1="415.35" y1="65.40" x2="426.90" y2="46.70" stroke="#bebebe" stroke-width="0.33"/>
<line x1="415.35" y1="65.40" x2="431.80" y2="63.60" stroke="#bebebe" stroke-width="0.33"/>
<line x1="415.35" y1="65.40" x2="408.20" y2="81.40" stroke="#bebebe" stroke-width="0.33"/>
<line x1="405.05" y1="70.00" x2="400.20" y2="91.10" stroke="#bebebe" stroke-width="0.33"/>
<line x1="405.05" y1="70.00" x2="408.20" y2="81.40" stroke="#bebebe" stroke-width="0.33"/>
<line x1="408.25" y1="68.40" x2="431.80" y2="63.60" stroke="#bebebe" stroke-width="0.33"/>
<line x1="408.25" y1="68.40" x2="400.20" y2="91.10" stroke="#bebebe" stroke-width="0.33"/>
<line x1="408.25" y1="68.40" x2="408.20" y2="81.40" stroke="#bebebe" stroke-width="0.33"/>
<line x1="399.85" y1="72.20" x2="400.20" y2="91.10" stroke="#bebebe" stroke-width="0.33"/>
<line x1="399.85" y1="72.20" x2="408.20" y2="81.40" stroke="#bebebe" stroke-width="0.33"/>
<line x1="417.55" y1="71.70" x2="431.80" y2="63.60" stroke="#bebebe" stroke-width="0.33"/>
<line x1="417.55" y1="71.70" x2="439.10" y2="77.80" stroke="#bebebe" stroke-width="0.33"/>
<line x1="417.55" y1="71.70" x2="408.20" y2="81.40" stroke="#bebebe" stroke-width="0.33"/>
<line x1="394.65" y1="76.00" x2="400.20" y2="91.10" stroke="#bebebe" stroke-width="0.33"/>
<line x1="394.65" y1="76.00" x2="408.20" y2="81.40" stroke="#bebebe" stroke-width="0.33"/>
<line x1="394.65" y1="76.00" x2="376.90" y2="94.00" stroke="#bebebe" stroke-width="0.33"/>
<line x1="406.15" y1="77.70" x2="400.20" y2="91.10" stroke="#bebebe" stroke-width="0.33"/>
<line x1="406.15" y1="77.70" x2="408.20" y2="81.40" stroke="#bebebe" stroke-width="0.33"/>
<line x1="391.15" y1="79.80" x2="400.20" y2="91.10" stroke="#bebebe" stroke-width="0.33"/>
<line x1="391.15" y1="79.80" x2="408.20" y2="81.40" stroke="#bebebe" stroke-width="0.33"/>
<line x1="391.15" y1="79.80" x2="376.90" y2="94.00" stroke="#bebebe" stroke-width="0.33"/>
<line x1="383.95" y1="82.80" x2="400.20" y2="91.10" stroke="#bebebe" stroke-width="0.33"/>
<line x1="383.95" y1="82.80" x2="408.20" y2="81.40" stroke="#bebebe" stroke-width="0.33"/>
<line x1="383.95" y1="82.80" x2="376.90" y2="94.00" stroke="#bebebe" stroke-width="0.33"/>
<line x1="383.95" y1="82.80" x2="377.10" y2="103.90" stroke="#bebebe" stroke-width="0.33"/>
<line x1="398.75" y1="82.60" x2="400.20" y2="91.10" stroke="#bebebe" stroke-width="0.33"/>
<line x1="398.75" y1="82.60" x2="408.20" y2="81.40" stroke="#bebebe" stroke-width="0.33"/>
<line x1="398.75" y1="82.60" x2="413.70" y2="103.00" stroke="#bebebe" stroke-width="0.33"/>
<line x1="398.75" y1="82.60" x2="376.90" y2="94.00" stroke="#bebebe" stroke-width="0.33"/>
<line x1="404.45" y1="82.00" x2="400.20" y2="91.10" stroke="#bebebe" stroke-width="0.33"/>
<line x1="404.45" y1="82.00" x2="408.20" y2="81.40" stroke="#bebebe" stroke-width="0.33"/>
<line x1="404.45" y1="82.00" x2="413.70" y2="103.00" stroke="#bebebe" stroke-width="0.33"/>
<line x1="417.55" y1="79.30" x2="431.80" y2="63.60" stroke="#bebebe" stroke-width="0.33"/>
<line x1="417.55" y1="79.30" x2="439.10" y2="77.80" stroke="#bebebe" stroke-width="0.33"/>
<line x1="417.55" y1="79.30" x2="400.20" y2="91.10" stroke="#bebebe" stroke-width="0.33"/>
<line x1="417.55" y1="79.30" x2="408.20" y2="81.40" stroke="#bebebe" stroke-width="0.33"/>
<line x1="417.55" y1="79.30" x2="413.70" y2="103.00" stroke="#bebebe" stroke-width="0.33"/>
<line x1="375.85" y1="84.70" x2="400.20" y2="91.10" stroke="#bebebe" stroke-width="0.33"/>
<line x1="375.85" y1="84.70" x2="376.90" y2="94.00" stroke="#bebebe" stroke-width="0.33"/>
<line x1="375.85" y1="84.70" x2="377.10" y2="103.90" stroke="#bebebe" stroke-width="0.33"/>
<line x1="399.85" y1="86.10" x2="400.20" y2="91.10" stroke="#bebebe" stroke-width="0.33"/>
<line x1="399.85" y1="86.10" x2="408.20" y2="81.40" stroke="#bebebe" stroke-width="0.33"/>
<line x1="399.85" y1="86.10" x2="413.70" y2="103.00" stroke="#bebebe" stroke-width="0.33"/>
<line x1="399.85" y1="86.10" x2="376.90" y2="94.00" stroke="#bebebe" stroke-width="0.33"/>
<line x1="406.85" y1="86.40" x2="400.20" y2="91.10" stroke="#bebebe" stroke-width="0.33"/>
<line x1="406.85" y1="86.40" x2="408.20" y2="81.40" stroke="#bebebe" stroke-width="0.33"/>
<line x1="406.85" y1="86.40" x2="413.70" y2="103.00" stroke="#bebebe" stroke-width="0.33"/>
<line x1="413.15" y1="85.80" x2="400.20" y2="91.10" stroke="#bebebe" stroke-width="0.33"/>
<line x1="413.15" y1="85.80" x2="408.20" y2="81.40" stroke="#bebebe" stroke-width="0.33"/>
<line x1="413.15" y1="85.80" x2="413.70" y2="103.00" stroke="#bebebe" stroke-width="0.33"/>
<line x1="387.25" y1="86.90" x2="400.20" y2="91.10" stroke="#bebebe" stroke-width="0.33"/>
<line x1="387.25" y1="86.90" x2="408.20" y2="81.40" stroke="#bebebe" stroke-width="0.33"/>
<line x1="387.25" y1="86.90" x2="376.90" y2="94.00" stroke="#bebebe" stroke-width="0.33"/>
<line x1="387.25" y1="86.90" x2="377.10" y2="103.90" stroke="#bebebe" stroke-width="0.33"/>
<line x1="380.75" y1="87.50" x2="400.20" y2="91.10" stroke="#bebebe" stroke-width="0.33"/>
<line x1="380.75" y1="87.50" x2="376.90" y2="94.00" stroke="#bebebe" stroke-width="0.33"/>
<line x1="380.75" y1="87.50" x2="377.10" y2="103.90" stroke="#bebebe" stroke-width="0.33"/>
<line x1="374.75" y1="88.90" x2="400.20" y2="91.10" stroke="#bebebe" stroke-width="0.33"/>
<line x1="374.75" y1="88.90" x2="376.90" y2="94.00" stroke="#bebebe" stroke-width="0.33"/>
<line x1="374.75" y1="88.90" x2="377.10" y2="103.90" stroke="#bebebe" stroke-width="0.33"/>
<line x1="370.45" y1="90.20" x2="376.90" y2="94.00" stroke="#bebebe" stroke-width="0.33"/>
<line x1="370.45" y1="90.20" x2="377.10" y2="103.90" stroke="#bebebe" stroke-width="0.33"/>
<line x1="396.25" y1="90.00" x2="400.20" y2="91.10" stroke="#bebebe" stroke-width="0.33"/>
<line x1="396.25" y1="90.00" x2="408.20" y2="81.40" stroke="#bebebe" stroke-width="0.33"/>
<line x1="396.25" y1="90.00" x2="413.70" y2="103.00" stroke="#bebebe" stroke-width="0.33"/>
<line x1="396.25" y1="90.00" x2="376.90" y2="94.00" stroke="#bebebe" stroke-width="0.33"/>
<line x1="396.25" y1="90.00" x2="377.10" y2="103.90" stroke="#bebebe" stroke-width="0.33"/>
<line x1="416.45" y1="89.70" x2="439.10" y2="77.80" stroke="#bebebe" stroke-width="0.33"/>
<line x1="416.45" y1="89.70" x2="433.30" y2="104.20" stroke="#bebebe" stroke-width="0.33"/>
<line x1="416.45" y1="89.70" x2="400.20" y2="91.10" stroke="#bebebe" stroke-width="0.33"/>
<line x1="416.45" y1="89.70" x2="408.20" y2="81.40" stroke="#bebebe" stroke-width="0.33"/>
<line x1="416.45" y1="89.70" x2="413.70" y2="103.00" stroke="#bebebe" stroke-width="0.33"/>
<line x1="384.85" y1="95.40" x2="400.20" y2="91.10" stroke="#bebebe" stroke-width="0.33"/>
<line x1="384.85" y1="95.40" x2="376.90" y2="94.00" stroke="#bebebe" stroke-width="0.33"/>
<line x1="384.85" y1="95.40" x2="392.50" y2="119.70" stroke="#bebebe" stroke-width="0.33"/>
<line x1="384.85" y1="95.40" x2="377.10" y2="103.90" stroke="#bebebe" stroke-width="0.33"/>
<line x1="405.75" y1="91.80" x2="400.20" y2="91.10" stroke="#bebebe" stroke-width="0.33"/>
<line x1="405.75" y1="91.80" x2="408.20" y2="81.40" stroke="#bebebe" stroke-width="0.33"/>
<line x1="405.75" y1="91.80" x2="413.70" y2="103.00" stroke="#bebebe" stroke-width="0.33"/>
<line x1="408.25" y1="95.70" x2="400.20" y2="91.10" stroke="#bebebe" stroke-width="0.33"/>
<line x1="408.25" y1="95.70" x2="408.20" y2="81.40" stroke="#bebebe" stroke-width="0.33"/>
<line x1="408.25" y1="95.70" x2="413.70" y2="103.00" stroke="#bebebe" stroke-width="0.33"/>
<line x1="413.75" y1="92.90" x2="433.30" y2="104.20" stroke="#bebebe" stroke-width="0.33"/>
<line x1="413.75" y1="92.90" x2="400.20" y2="91.10" stroke="#bebebe" stroke-width="0.33"/>
<line x1="413.75" y1="92.90" x2="408.20" y2="81.40" stroke="#bebebe" stroke-width="0.33"/>
<line x1="413.75" y1="92.90" x2="413.70" y2="103.00" stroke="#bebebe" stroke-width="0.33"/>
<line x1="390.85" y1="97.80" x2="400.20" y2="91.10" stroke="#bebebe" stroke-width="0.33"/>
<line x1="390.85" y1="97.80" x2="408.20" y2="81.40" stroke="#bebebe" stroke-width="0.33"/>
<line x1="390.85" y1="97.80" x2="413.70" y2="103.00" stroke="#bebebe" stroke-width="0.33"/>
<line x1="390.85" y1="97.80" x2="376.90" y2="94.00" stroke="#bebebe" stroke-width="0.33"/>
<line x1="390.85" y1="97.80" x2="392.50" y2="119.70" stroke="#bebebe" stroke-width="0.33"/>
<line x1="390.85" y1="97.80" x2="377.10" y2="103.90" stroke="#bebebe" stroke-width="0.33"/>
<line x1="402.05" y1="98.70" x2="400.20" y2="91.10" stroke="#bebebe" stroke-width="0.33"/>
<line x1="402.05" y1="98.70" x2="408.20" y2="81.40" stroke="#bebebe" stroke-width="0.33"/>
<line x1="402.05" y1="98.70" x2="413.70" y2="103.00" stroke="#bebebe" stroke-width="0.33"/>
<line x1="402.05" y1="98.70" x2="376.90" y2="94.00" stroke="#bebebe" stroke-width="0.33"/>
<line x1="402.05" y1="98.70" x2="392.50" y2="119.70" stroke="#bebebe" stroke-width="0.33"/>
<line x1="402.05" y1="98.70" x2="396.30" y2="123.50" stroke="#bebebe" stroke-width="0.33"/>
<line x1="402.05" y1="98.70" x2="377.10" y2="103.90" stroke="#bebebe" stroke-width="0.33"/>
<line x1="374.25" y1="97.30" x2="376.90" y2="94.00" stroke="#bebebe" stroke-width="0.33"/>
<line x1="374.25" y1="97.30" x2="377.10" y2="103.90" stroke="#bebebe" stroke-width="0.33"/>
<line x1="370.65" y1="100.60" x2="376.90" y2="94.00" stroke="#bebebe" stroke-width="0.33"/>
<line x1="370.65" y1="100.60" x2="377.10" y2="103.90" stroke="#bebebe" stroke-width="0.33"/>
<line x1="413.75" y1="100.20" x2="433.30" y2="104.20" stroke="#bebebe" stroke-width="0.33"/>
<line x1="413.75" y1="100.20" x2="400.20" y2="91.10" stroke="#bebebe" stroke-width="0.33"/>
<line x1="413.75" y1="100.20" x2="408.20" y2="81.40" stroke="#bebebe" stroke-width="0.33"/>
<line x1="413.75" y1="100.20" x2="413.70" y2="103.00" stroke="#bebebe" stroke-width="0.33"/>
<line x1="390.25" y1="103.10" x2="400.20" y2="91.10" stroke="#bebebe" stroke-width="0.33"/>
<line x1="390.25" y1="103.10" x2="413.70" y2="103.00" stroke="#bebebe" stroke-width="0.33"/>
<line x1="390.25" y1="103.10" x2="376.90" y2="94.00" stroke="#bebebe" stroke-width="0.33"/>
<line x1="390.25" y1="103.10" x2="392.50" y2="119.70" stroke="#bebebe" stroke-width="0.33"/>
<line x1="390.25" y1="103.10" x2="396.30" y2="123.50" stroke="#bebebe" stroke-width="0.33"/>
<line x1="390.25" y1="103.10" x2="383.20" y2="125.30" stroke="#bebebe" stroke-width="0.33"/>
<line x1="390.25" y1="103.10" x2="377.10" y2="103.90" stroke="#bebebe" stroke-width="0.33"/>
<line x1="408.85" y1="103.30" x2="433.30" y2="104.20" stroke="#bebebe" stroke-width="0.33"/>
<line x1="408.85" y1="103.30" x2="400.20" y2="91.10" stroke="#bebebe" stroke-width="0.33"/>
<line x1="408.85" y1="103.30" x2="408.20" y2="81.40" stroke="#bebebe" stroke-width="0.33"/>
<line x1="408.85" y1="103.30" x2="413.70" y2="103.00" stroke="#bebebe" stroke-width="0.33"/>
<line x1="408.85" y1="103.30" x2="392.50" y2="119.70" stroke="#bebebe" stroke-width="0.33"/>
<line x1="408.85" y1="103.30" x2="396.30" y2="123.50" stroke="#bebebe" stroke-width="0.33"/>
<line x1="379.95" y1="105.50" x2="400.20" y2="91.10" stroke="#bebebe" stroke-width="0.33"/>
<line x1="379.95" y1="105.50" x2="376.90" y2="94.00" stroke="#bebebe" stroke-width="0.33"/>
<line x1="379.95" y1="105.50" x2="392.50" y2="119.70" stroke="#bebebe" stroke-width="0.33"/>
<line x1="379.95" y1="105.50" x2="396.30" y2="123.50" stroke="#bebebe" stroke-width="0.33"/>
<line x1="379.95" y1="105.50" x2="383.20" y2="125.30" stroke="#bebebe" stroke-width="0.33"/>
<line x1="379.95" y1="105.50" x2="377.10" y2="103.90" stroke="#bebebe" stroke-width="0.33"/>
<line x1="388.15" y1="107.10" x2="400.20" y2="91.10" stroke="#bebebe" stroke-width="0.33"/>
<line x1="388.15" y1="107.10" x2="413.70" y2="103.00" stroke="#bebebe" stroke-width="0.33"/>
<line x1="388.15" y1="107.10" x2="376.90" y2="94.00" stroke="#bebebe" stroke-width="0.33"/>
<line x1="388.15" y1="107.10" x2="392.50" y2="119.70" stroke="#bebebe" stroke-width="0.33"/>
<line x1="388.15" y1="107.10" x2="396.30" y2="123.50" stroke="#bebebe" stroke-width="0.33"/>
<line x1="388.15" y1="107.10" x2="383.20" y2="125.30" stroke="#bebebe" stroke-width="0.33"/>
<line x1="388.15" y1="107.10" x2="377.10" y2="103.90" stroke="#bebebe" stroke-width="0.33"/>
<line x1="373.95" y1="107.70" x2="376.90" y2="94.00" stroke="#bebebe" stroke-width="0.33"/>
<line x1="373.95" y1="107.70" x2="392.50" y2="119.70" stroke="#bebebe" stroke-width="0.33"/>
<line x1="373.95" y1="107.70" x2="383.20" y2="125.30" stroke="#bebebe" stroke-width="0.33"/>
<line x1="373.95" y1="107.70" x2="377.10" y2="103.90" stroke="#bebebe" stroke-width="0.33"/>
<line x1="371.55" y1="110.10" x2="376.90" y2="94.00" stroke="#bebebe" stroke-width="0.33"/>
<line x1="371.55" y1="110.10" x2="392.50" y2="119.70" stroke="#bebebe" stroke-width="0.33"/>
<line x1="371.55" y1="110.10" x2="383.20" y2="125.30" stroke="#bebebe" stroke-width="0.33"/>
<line x1="371.55" y1="110.10" x2="377.10" y2="103.90" stroke="#bebebe" stroke-width="0.33"/>
<line x1="383.75" y1="108.70" x2="400.20" y2="91.10" stroke="#bebebe" stroke-width="0.33"/>
<line x1="383.75" y1="108.70" x2="376.90" y2="94.00" stroke="#bebebe" stroke-width="0.33"/>
<line x1="383.75" y1="108.70" x2="392.50" y2="119.70" stroke="#bebebe" stroke-width="0.33"/>
<line x1="383.75" y1="108.70" x2="396.30" y2="123.50" stroke="#bebebe" stroke-width="0.33"/>
<line x1="383.75" y1="108.70" x2="383.20" y2="125.30" stroke="#bebebe" stroke-width="0.33"/>
<line x1="383.75" y1="108.70" x2="377.10" y2="103.90" stroke="#bebebe" stroke-width="0.33"/>
<line x1="408.25" y1="109.30" x2="433.30" y2="104.20" stroke="#bebebe" stroke-width="0.33"/>
<line x1="408.25" y1="109.30" x2="400.20" y2="91.10" stroke="#bebebe" stroke-width="0.33"/>
<line x1="408.25" y1="109.30" x2="413.70" y2="103.00" stroke="#bebebe" stroke-width="0.33"/>
<line x1="408.25" y1="109.30" x2="392.50" y2="119.70" stroke="#bebebe" stroke-width="0.33"/>
<line x1="408.25" y1="109.30" x2="396.30" y2="123.50" stroke="#bebebe" stroke-width="0.33"/>
<line x1="414.25" y1="107.70" x2="433.30" y2="104.20" stroke="#bebebe" stroke-width="0.33"/>
<line x1="414.25" y1="107.70" x2="400.20" y2="91.10" stroke="#bebebe" stroke-width="0.33"/>
<line x1="414.25" y1="107.70" x2="413.70" y2="103.00" stroke="#bebebe" stroke-width="0.33"/>
<line x1="414.25" y1="107.70" x2="392.50" y2="119.70" stroke="#bebebe" stroke-width="0.33"/>
<line x1="414.25" y1="107.70" x2="396.30" y2="123.50" stroke="#bebebe" stroke-width="0.33"/>
<line x1="389.45" y1="112.00" x2="400.20" y2="91.10" stroke="#bebebe" stroke-width="0.33"/>
<line x1="389.45" y1="112.00" x2="413.70" y2="103.00" stroke="#bebebe" stroke-width="0.33"/>
<line x1="389.45" y1="112.00" x2="376.90" y2="94.00" stroke="#bebebe" stroke-width="0.33"/>
<line x1="389.45" y1="112.00" x2="392.50" y2="119.70" stroke="#bebebe" stroke-width="0.33"/>
<line x1="389.45" y1="112.00" x2="396.30" y2="123.50" stroke="#bebebe" stroke-width="0.33"/>
<line x1="389.45" y1="112.00" x2="383.20" y2="125.30" stroke="#bebebe" stroke-width="0.33"/>
<line x1="389.45" y1="112.00" x2="377.10" y2="103.90" stroke="#bebebe" stroke-width="0.33"/>
<line x1="377.45" y1="111.80" x2="376.90" y2="94.00" stroke="#bebebe" stroke-width="0.33"/>
<line x1="377.45" y1="111.80" x2="392.50" y2="119.70" stroke="#bebebe" stroke-width="0.33"/>
<line x1="377.45" y1="111.80" x2="396.30" y2="123.50" stroke="#bebebe" stroke-width="0.33"/>
<line x1="377.45" y1="111.80" x2="383.20" y2="125.30" stroke="#bebebe" stroke-width="0.33"/>
<line x1="377.45" y1="111.80" x2="377.10" y2="103.90" stroke="#bebebe" stroke-width="0.33"/>
<line x1="405.55" y1="113.10" x2="400.20" y2="91.10" stroke="#bebebe" stroke-width="0.33"/>
<line x1="405.55" y1="113.10" x2="413.70" y2="103.00" stroke="#bebebe" stroke-width="0.33"/>
<line x1="405.55" y1="113.10" x2="392.50" y2="119.70" stroke="#bebebe" stroke-width="0.33"/>
<line x1="405.55" y1="113.10" x2="396.30" y2="123.50" stroke="#bebebe" stroke-width="0.33"/>
<line x1="405.55" y1="113.10" x2="383.20" y2="125.30" stroke="#bebebe" stroke-width="0.33"/>
<line x1="405.55" y1="113.10" x2="402.70" y2="137.20" stroke="#bebebe" stroke-width="0.33"/>
<line x1="416.45" y1="112.00" x2="433.30" y2="104.20" stroke="#bebebe" stroke-width="0.33"/>
<line x1="416.45" y1="112.00" x2="413.70" y2="103.00" stroke="#bebebe" stroke-width="0.33"/>
<line x1="416.45" y1="112.00" x2="392.50" y2="119.70" stroke="#bebebe" stroke-width="0.33"/>
<line x1="416.45" y1="112.00" x2="396.30" y2="123.50" stroke="#bebebe" stroke-width="0.33"/>
<line x1="442.15" y1="34.60" x2="426.90" y2="46.70" stroke="#bebebe" stroke-width="0.33"/>
<line x1="443.95" y1="37.50" x2="426.90" y2="46.70" stroke="#bebebe" stroke-width="0.33"/>
<line x1="437.75" y1="50.90" x2="426.90" y2="46.70" stroke="#bebebe" stroke-width="0.33"/>
<line x1="437.75" y1="50.90" x2="431.80" y2="63.60" stroke="#bebebe" stroke-width="0.33"/>
<line x1="437.75" y1="50.90" x2="454.20" y2="67.30" stroke="#bebebe" stroke-width="0.33"/>
<line x1="444.85" y1="47.10" x2="426.90" y2="46.70" stroke="#bebebe" stroke-width="0.33"/>
<line x1="444.85" y1="47.10" x2="431.80" y2="63.60" stroke="#bebebe" stroke-width="0.33"/>
<line x1="444.85" y1="47.10" x2="454.20" y2="67.30" stroke="#bebebe" stroke-width="0.33"/>
<line x1="447.25" y1="48.40" x2="426.90" y2="46.70" stroke="#bebebe" stroke-width="0.33"/>
<line x1="447.25" y1="48.40" x2="431.80" y2="63.60" stroke="#bebebe" stroke-width="0.33"/>
<line x1="447.25" y1="48.40" x2="454.20" y2="67.30" stroke="#bebebe" stroke-width="0.33"/>
<line x1="449.75" y1="47.30" x2="426.90" y2="46.70" stroke="#bebebe" stroke-width="0.33"/>
<line x1="449.75" y1="47.30" x2="431.80" y2="63.60" stroke="#bebebe" stroke-width="0.33"/>
<line x1="449.75" y1="47.30" x2="454.20" y2="67.30" stroke="#bebebe" stroke-width="0.33"/>
<line x1="451.35" y1="49.30" x2="426.90" y2="46.70" stroke="#bebebe" stroke-width="0.33"/>
<line x1="451.35" y1="49.30" x2="431.80" y2="63.60" stroke="#bebebe" stroke-width="0.33"/>
<line x1="451.35" y1="49.30" x2="454.20" y2="67.30" stroke="#bebebe" stroke-width="0.33"/>
<line x1="454.15" y1="48.40" x2="454.20" y2="67.30" stroke="#bebebe" stroke-width="0.33"/>
<line x1="456.85" y1="47.70" x2="454.20" y2="67.30" stroke="#bebebe" stroke-width="0.33"/>
<line x1="444.25" y1="50.40" x2="426.90" y2="46.70" stroke="#bebebe" stroke-width="0.33"/>
<line x1="444.25" y1="50.40" x2="431.80" y2="63.60" stroke="#bebebe" stroke-width="0.33"/>
<line x1="444.25" y1="50.40" x2="454.20" y2="67.30" stroke="#bebebe" stroke-width="0.33"/>
<line x1="446.75" y1="50.90" x2="426.90" y2="46.70" stroke="#bebebe" stroke-width="0.33"/>
<line x1="446.75" y1="50.90" x2="431.80" y2="63.60" stroke="#bebebe" stroke-width="0.33"/>
<line x1="446.75" y1="50.90" x2="454.20" y2="67.30" stroke="#bebebe" stroke-width="0.33"/>
<line x1="449.45" y1="50.40" x2="426.90" y2="46.70" stroke="#bebebe" stroke-width="0.33"/>
<line x1="449.45" y1="50.40" x2="431.80" y2="63.60" stroke="#bebebe" stroke-width="0.33"/>
<line x1="449.45" y1="50.40" x2="454.20" y2="67.30" stroke="#bebebe" stroke-width="0.33"/>
<line x1="451.95" y1="52.00" x2="426.90" y2="46.70" stroke="#bebebe" stroke-width="0.33"/>
<line x1="451.95" y1="52.00" x2="431.80" y2="63.60" stroke="#bebebe" stroke-width="0.33"/>
<line x1="451.95" y1="52.00" x2="454.20" y2="67.30" stroke="#bebebe" stroke-width="0.33"/>
<line x1="454.65" y1="50.90" x2="454.20" y2="67.30" stroke="#bebebe" stroke-width="0.33"/>
<line x1="442.15" y1="52.60" x2="426.90" y2="46.70" stroke="#bebebe" stroke-width="0.33"/>
<line x1="442.15" y1="52.60" x2="431.80" y2="63.60" stroke="#bebebe" stroke-width="0.33"/>
<line x1="442.15" y1="52.60" x2="454.20" y2="67.30" stroke="#bebebe" stroke-width="0.33"/>
<line x1="442.15" y1="52.60" x2="439.10" y2="77.80" stroke="#bebebe" stroke-width="0.33"/>
<line x1="445.95" y1="53.40" x2="426.90" y2="46.70" stroke="#bebebe" stroke-width="0.33"/>
<line x1="445.95" y1="53.40" x2="431.80" y2="63.60" stroke="#bebebe" stroke-width="0.33"/>
<line x1="445.95" y1="53.40" x2="454.20" y2="67.30" stroke="#bebebe" stroke-width="0.33"/>
<line x1="445.95" y1="53.40" x2="439.10" y2="77.80" stroke="#bebebe" stroke-width="0.33"/>
<line x1="450.25" y1="52.80" x2="426.90" y2="46.70" stroke="#bebebe" stroke-width="0.33"/>
<line x1="450.25" y1="52.80" x2="431.80" y2="63.60" stroke="#bebebe" stroke-width="0.33"/>
<line x1="450.25" y1="52.80" x2="454.20" y2="67.30" stroke="#bebebe" stroke-width="0.33"/>
<line x1="452.65" y1="53.70" x2="431.80" y2="63.60" stroke="#bebebe" stroke-width="0.33"/>
<line x1="452.65" y1="53.70" x2="454.20" y2="67.30" stroke="#bebebe" stroke-width="0.33"/>
<line x1="452.65" y1="53.70" x2="461.80" y2="77.30" stroke="#bebebe" stroke-width="0.33"/>
<line x1="455.75" y1="52.80" x2="454.20" y2="67.30" stroke="#bebebe" stroke-width="0.33"/>
<line x1="455.75" y1="52.80" x2="461.80" y2="77.30" stroke="#bebebe" stroke-width="0.33"/>
<line x1="457.35" y1="50.20" x2="454.20" y2="67.30" stroke="#bebebe" stroke-width="0.33"/>
<line x1="454.15" y1="57.50" x2="431.80" y2="63.60" stroke="#bebebe" stroke-width="0.33"/>
<line x1="454.15" y1="57.50" x2="454.20" y2="67.30" stroke="#bebebe" stroke-width="0.33"/>
<line x1="454.15" y1="57.50" x2="439.10" y2="77.80" stroke="#bebebe" stroke-width="0.33"/>
<line x1="454.15" y1="57.50" x2="461.80" y2="77.30" stroke="#bebebe" stroke-width="0.33"/>
<line x1="451.35" y1="61.80" x2="431.80" y2="63.60" stroke="#bebebe" stroke-width="0.33"/>
<line x1="451.35" y1="61.80" x2="454.20" y2="67.30" stroke="#bebebe" stroke-width="0.33"/>
<line x1="451.35" y1="61.80" x2="439.10" y2="77.80" stroke="#bebebe" stroke-width="0.33"/>
<line x1="451.35" y1="61.80" x2="461.80" y2="77.30" stroke="#bebebe" stroke-width="0.33"/>
<line x1="423.55" y1="61.80" x2="426.90" y2="46.70" stroke="#bebebe" stroke-width="0.33"/>
<line x1="423.55" y1="61.80" x2="431.80" y2="63.60" stroke="#bebebe" stroke-width="0.33"/>
<line x1="423.55" y1="61.80" x2="439.10" y2="77.80" stroke="#bebebe" stroke-width="0.33"/>
<line x1="423.55" y1="61.80" x2="408.20" y2="81.40" stroke="#bebebe" stroke-width="0.33"/>
<line x1="436.95" y1="60.40" x2="426.90" y2="46.70" stroke="#bebebe" stroke-width="0.33"/>
<line x1="436.95" y1="60.40" x2="431.80" y2="63.60" stroke="#bebebe" stroke-width="0.33"/>
<line x1="436.95" y1="60.40" x2="454.20" y2="67.30" stroke="#bebebe" stroke-width="0.33"/>
<line x1="436.95" y1="60.40" x2="439.10" y2="77.80" stroke="#bebebe" stroke-width="0.33"/>
<line x1="430.65" y1="60.20" x2="426.90" y2="46.70" stroke="#bebebe" stroke-width="0.33"/>
<line x1="430.65" y1="60.20" x2="431.80" y2="63.60" stroke="#bebebe" stroke-width="0.33"/>
<line x1="430.65" y1="60.20" x2="454.20" y2="67.30" stroke="#bebebe" stroke-width="0.33"/>
<line x1="430.65" y1="60.20" x2="439.10" y2="77.80" stroke="#bebebe" stroke-width="0.33"/>
<line x1="432.85" y1="59.10" x2="426.90" y2="46.70" stroke="#bebebe" stroke-width="0.33"/>
<line x1="432.85" y1="59.10" x2="431.80" y2="63.60" stroke="#bebebe" stroke-width="0.33"/>
<line x1="432.85" y1="59.10" x2="454.20" y2="67.30" stroke="#bebebe" stroke-width="0.33"/>
<line x1="432.85" y1="59.10" x2="439.10" y2="77.80" stroke="#bebebe" stroke-width="0.33"/>
<line x1="444.25" y1="65.40" x2="426.90" y2="46.70" stroke="#bebebe" stroke-width="0.33"/>
<line x1="444.25" y1="65.40" x2="431.80" y2="63.60" stroke="#bebebe" stroke-width="0.33"/>
<line x1="444.25" y1="65.40" x2="454.20" y2="67.30" stroke="#bebebe" stroke-width="0.33"/>
<line x1="444.25" y1="65.40" x2="439.10" y2="77.80" stroke="#bebebe" stroke-width="0.33"/>
<line x1="444.25" y1="65.40" x2="461.80" y2="77.30" stroke="#bebebe" stroke-width="0.33"/>
<line x1="441.55" y1="67.80" x2="426.90" y2="46.70" stroke="#bebebe" stroke-width="0.33"/>
<line x1="441.55" y1="67.80" x2="431.80" y2="63.60" stroke="#bebebe" stroke-width="0.33"/>
<line x1="441.55" y1="67.80" x2="454.20" y2="67.30" stroke="#bebebe" stroke-width="0.33"/>
<line x1="441.55" y1="67.80" x2="439.10" y2="77.80" stroke="#bebebe" stroke-width="0.33"/>
<line x1="441.55" y1="67.80" x2="461.80" y2="77.30" stroke="#bebebe" stroke-width="0.33"/>
<line x1="441.55" y1="67.80" x2="443.30" y2="93.30" stroke="#bebebe" stroke-width="0.33"/>
<line x1="438.25" y1="65.40" x2="426.90" y2="46.70" stroke="#bebebe" stroke-width="0.33"/>
<line x1="438.25" y1="65.40" x2="431.80" y2="63.60" stroke="#bebebe" stroke-width="0.33"/>
<line x1="438.25" y1="65.40" x2="454.20" y2="67.30" stroke="#bebebe" stroke-width="0.33"/>
<line x1="438.25" y1="65.40" x2="439.10" y2="77.80" stroke="#bebebe" stroke-width="0.33"/>
<line x1="439.35" y1="67.80" x2="426.90" y2="46.70" stroke="#bebebe" stroke-width="0.33"/>
<line x1="439.35" y1="67.80" x2="431.80" y2="63.60" stroke="#bebebe" stroke-width="0.33"/>
<line x1="439.35" y1="67.80" x2="454.20" y2="67.30" stroke="#bebebe" stroke-width="0.33"/>
<line x1="439.35" y1="67.80" x2="439.10" y2="77.80" stroke="#bebebe" stroke-width="0.33"/>
<line x1="439.35" y1="67.80" x2="461.80" y2="77.30" stroke="#bebebe" stroke-width="0.33"/>
<line x1="439.35" y1="67.80" x2="443.30" y2="93.30" stroke="#bebebe" stroke-width="0.33"/>
<line x1="428.45" y1="66.70" x2="426.90" y2="46.70" stroke="#bebebe" stroke-width="0.33"/>
<line x1="428.45" y1="66.70" x2="431.80" y2="63.60" stroke="#bebebe" stroke-width="0.33"/>
<line x1="428.45" y1="66.70" x2="454.20" y2="67.30" stroke="#bebebe" stroke-width="0.33"/>
<line x1="428.45" y1="66.70" x2="439.10" y2="77.80" stroke="#bebebe" stroke-width="0.33"/>
<line x1="428.45" y1="66.70" x2="408.20" y2="81.40" stroke="#bebebe" stroke-width="0.33"/>
<line x1="452.45" y1="71.70" x2="431.80" y2="63.60" stroke="#bebebe" stroke-width="0.33"/>
<line x1="452.45" y1="71.70" x2="454.20" y2="67.30" stroke="#bebebe" stroke-width="0.33"/>
<line x1="452.45" y1="71.70" x2="439.10" y2="77.80" stroke="#bebebe" stroke-width="0.33"/>
<line x1="452.45" y1="71.70" x2="461.80" y2="77.30" stroke="#bebebe" stroke-width="0.33"/>
<line x1="452.45" y1="71.70" x2="465.80" y2="88.20" stroke="#bebebe" stroke-width="0.33"/>
<line x1="452.45" y1="71.70" x2="443.30" y2="93.30" stroke="#bebebe" stroke-width="0.33"/>
<line x1="452.45" y1="71.70" x2="446.90" y2="96.90" stroke="#bebebe" stroke-width="0.33"/>
<line x1="433.05" y1="71.10" x2="426.90" y2="46.70" stroke="#bebebe" stroke-width="0.33"/>
<line x1="433.05" y1="71.10" x2="431.80" y2="63.60" stroke="#bebebe" stroke-width="0.33"/>
<line x1="433.05" y1="71.10" x2="454.20" y2="67.30" stroke="#bebebe" stroke-width="0.33"/>
<line x1="433.05" y1="71.10" x2="439.10" y2="77.80" stroke="#bebebe" stroke-width="0.33"/>
<line x1="433.05" y1="71.10" x2="443.30" y2="93.30" stroke="#bebebe" stroke-width="0.33"/>
<line x1="436.65" y1="72.00" x2="431.80" y2="63.60" stroke="#bebebe" stroke-width="0.33"/>
<line x1="436.65" y1="72.00" x2="454.20" y2="67.30" stroke="#bebebe" stroke-width="0.33"/>
<line x1="436.65" y1="72.00" x2="439.10" y2="77.80" stroke="#bebebe" stroke-width="0.33"/>
<line x1="436.65" y1="72.00" x2="461.80" y2="77.30" stroke="#bebebe" stroke-width="0.33"/>
<line x1="436.65" y1="72.00" x2="443.30" y2="93.30" stroke="#bebebe" stroke-width="0.33"/>
<line x1="430.65" y1="72.70" x2="431.80" y2="63.60" stroke="#bebebe" stroke-width="0.33"/>
<line x1="430.65" y1="72.70" x2="454.20" y2="67.30" stroke="#bebebe" stroke-width="0.33"/>
<line x1="430.65" y1="72.70" x2="439.10" y2="77.80" stroke="#bebebe" stroke-width="0.33"/>
<line x1="430.65" y1="72.70" x2="443.30" y2="93.30" stroke="#bebebe" stroke-width="0.33"/>
<line x1="430.65" y1="72.70" x2="408.20" y2="81.40" stroke="#bebebe" stroke-width="0.33"/>
<line x1="436.15" y1="74.90" x2="431.80" y2="63.60" stroke="#bebebe" stroke-width="0.33"/>
<line x1="436.15" y1="74.90" x2="454.20" y2="67.30" stroke="#bebebe" stroke-width="0.33"/>
<line x1="436.15" y1="74.90" x2="439.10" y2="77.80" stroke="#bebebe" stroke-width="0.33"/>
<line x1="436.15" y1="74.90" x2="461.80" y2="77.30" stroke="#bebebe" stroke-width="0.33"/>
<line x1="436.15" y1="74.90" x2="443.30" y2="93.30" stroke="#bebebe" stroke-width="0.33"/>
<line x1="436.15" y1="74.90" x2="446.90" y2="96.90" stroke="#bebebe" stroke-width="0.33"/>
<line x1="430.15" y1="78.20" x2="431.80" y2="63.60" stroke="#bebebe" stroke-width="0.33"/>
<line x1="430.15" y1="78.20" x2="439.10" y2="77.80" stroke="#bebebe" stroke-width="0.33"/>
<line x1="430.15" y1="78.20" x2="443.30" y2="93.30" stroke="#bebebe" stroke-width="0.33"/>
<line x1="430.15" y1="78.20" x2="446.90" y2="96.90" stroke="#bebebe" stroke-width="0.33"/>
<line x1="430.15" y1="78.20" x2="408.20" y2="81.40" stroke="#bebebe" stroke-width="0.33"/>
<line x1="425.75" y1="80.10" x2="431.80" y2="63.60" stroke="#bebebe" stroke-width="0.33"/>
<line x1="425.75" y1="80.10" x2="439.10" y2="77.80" stroke="#bebebe" stroke-width="0.33"/>
<line x1="425.75" y1="80.10" x2="443.30" y2="93.30" stroke="#bebebe" stroke-width="0.33"/>
<line x1="425.75" y1="80.10" x2="433.30" y2="104.20" stroke="#bebebe" stroke-width="0.33"/>
<line x1="425.75" y1="80.10" x2="408.20" y2="81.40" stroke="#bebebe" stroke-width="0.33"/>
<line x1="425.75" y1="80.10" x2="413.70" y2="103.00" stroke="#bebebe" stroke-width="0.33"/>
<line x1="435.25" y1="81.50" x2="431.80" y2="63.60" stroke="#bebebe" stroke-width="0.33"/>
<line x1="435.25" y1="81.50" x2="454.20" y2="67.30" stroke="#bebebe" stroke-width="0.33"/>
<line x1="435.25" y1="81.50" x2="439.10" y2="77.80" stroke="#bebebe" stroke-width="0.33"/>
<line x1="435.25" y1="81.50" x2="443.30" y2="93.30" stroke="#bebebe" stroke-width="0.33"/>
<line x1="435.25" y1="81.50" x2="446.90" y2="96.90" stroke="#bebebe" stroke-width="0.33"/>
<line x1="435.25" y1="81.50" x2="433.30" y2="104.20" stroke="#bebebe" stroke-width="0.33"/>
<line x1="445.95" y1="81.50" x2="431.80" y2="63.60" stroke="#bebebe" stroke-width="0.33"/>
<line x1="445.95" y1="81.50" x2="454.20" y2="67.30" stroke="#bebebe" stroke-width="0.33"/>
<line x1="445.95" y1="81.50" x2="439.10" y2="77.80" stroke="#bebebe" stroke-width="0.33"/>
<line x1="445.95" y1="81.50" x2="461.80" y2="77.30" stroke="#bebebe" stroke-width="0.33"/>
<line x1="445.95" y1="81.50" x2="465.80" y2="88.20" stroke="#bebebe" stroke-width="0.33"/>
<line x1="445.95" y1="81.50" x2="443.30" y2="93.30" stroke="#bebebe" stroke-width="0.33"/>
<line x1="445.95" y1="81.50" x2="446.90" y2="96.90" stroke="#bebebe" stroke-width="0.33"/>
<line x1="445.95" y1="81.50" x2="433.30" y2="104.20" stroke="#bebebe" stroke-width="0.33"/>
<line x1="450.25" y1="81.80" x2="431.80" y2="63.60" stroke="#bebebe" stroke-width="0.33"/>
<line x1="450.25" y1="81.80" x2="454.20" y2="67.30" stroke="#bebebe" stroke-width="0.33"/>
<line x1="450.25" y1="81.80" x2="439.10" y2="77.80" stroke="#bebebe" stroke-width="0.33"/>
<line x1="450.25" y1="81.80" x2="461.80" y2="77.30" stroke="#bebebe" stroke-width="0.33"/>
<line x1="450.25" y1="81.80" x2="465.80" y2="88.20" stroke="#bebebe" stroke-width="0.33"/>
<line x1="450.25" y1="81.80" x2="443.30" y2="93.30" stroke="#bebebe" stroke-width="0.33"/>
<line x1="450.25" y1="81.80" x2="446.90" y2="96.90" stroke="#bebebe" stroke-width="0.33"/>
<line x1="457.35" y1="78.20" x2="454.20" y2="67.30" stroke="#bebebe" stroke-width="0.33"/>
<line x1="457.35" y1="78.20" x2="439.10" y2="77.80" stroke="#bebebe" stroke-width="0.33"/>
<line x1="457.35" y1="78.20" x2="461.80" y2="77.30" stroke="#bebebe" stroke-width="0.33"/>
<line x1="457.35" y1="78.20" x2="465.80" y2="88.20" stroke="#bebebe" stroke-width="0.33"/>
<line x1="457.35" y1="78.20" x2="443.30" y2="93.30" stroke="#bebebe" stroke-width="0.33"/>
<line x1="457.35" y1="78.20" x2="446.90" y2="96.90" stroke="#bebebe" stroke-width="0.33"/>
<line x1="457.35" y1="81.50" x2="454.20" y2="67.30" stroke="#bebebe" stroke-width="0.33"/>
<line x1="457.35" y1="81.50" x2="439.10" y2="77.80" stroke="#bebebe" stroke-width="0.33"/>
<line x1="457.35" y1="81.50" x2="461.80" y2="77.30" stroke="#bebebe" stroke-width="0.33"/>
<line x1="457.35" y1="81.50" x2="465.80" y2="88.20" stroke="#bebebe" stroke-width="0.33"/>
<line x1="457.35" y1="81.50" x2="443.30" y2="93.30" stroke="#bebebe" stroke-width="0.33"/>
<line x1="457.35" y1="81.50" x2="446.90" y2="96.90" stroke="#bebebe" stroke-width="0.33"/>
<line x1="462.25" y1="81.50" x2="454.20" y2="67.30" stroke="#bebebe" stroke-width="0.33"/>
<line x1="462.25" y1="81.50" x2="439.10" y2="77.80" stroke="#bebebe" stroke-width="0.33"/>
<line x1="462.25" y1="81.50" x2="461.80" y2="77.30" stroke="#bebebe" stroke-width="0.33"/>
<line x1="462.25" y1="81.50" x2="465.80" y2="88.20" stroke="#bebebe" stroke-width="0.33"/>
<line x1="462.25" y1="81.50" x2="443.30" y2="93.30" stroke="#bebebe" stroke-width="0.33"/>
<line x1="462.25" y1="81.50" x2="446.90" y2="96.90" stroke="#bebebe" stroke-width="0.33"/>
<line x1="466.15" y1="78.20" x2="454.20" y2="67.30" stroke="#bebebe" stroke-width="0.33"/>
<line x1="466.15" y1="78.20" x2="461.80" y2="77.30" stroke="#bebebe" stroke-width="0.33"/>
<line x1="466.15" y1="78.20" x2="465.80" y2="88.20" stroke="#bebebe" stroke-width="0.33"/>
<line x1="423.85" y1="88.00" x2="431.80" y2="63.60" stroke="#bebebe" stroke-width="0.33"/>
<line x1="423.85" y1="88.00" x2="439.10" y2="77.80" stroke="#bebebe" stroke-width="0.33"/>
<line x1="423.85" y1="88.00" x2="443.30" y2="93.30" stroke="#bebebe" stroke-width="0.33"/>
<line x1="423.85" y1="88.00" x2="446.90" y2="96.90" stroke="#bebebe" stroke-width="0.33"/>
<line x1="423.85" y1="88.00" x2="433.30" y2="104.20" stroke="#bebebe" stroke-width="0.33"/>
<line x1="423.85" y1="88.00" x2="400.20" y2="91.10" stroke="#bebebe" stroke-width="0.33"/>
<line x1="423.85" y1="88.00" x2="408.20" y2="81.40" stroke="#bebebe" stroke-width="0.33"/>
<line x1="423.85" y1="88.00" x2="413.70" y2="103.00" stroke="#bebebe" stroke-width="0.33"/>
<line x1="436.15" y1="88.60" x2="431.80" y2="63.60" stroke="#bebebe" stroke-width="0.33"/>
<line x1="436.15" y1="88.60" x2="439.10" y2="77.80" stroke="#bebebe" stroke-width="0.33"/>
<line x1="436.15" y1="88.60" x2="443.30" y2="93.30" stroke="#bebebe" stroke-width="0.33"/>
<line x1="436.15" y1="88.60" x2="446.90" y2="96.90" stroke="#bebebe" stroke-width="0.33"/>
<line x1="436.15" y1="88.60" x2="433.30" y2="104.20" stroke="#bebebe" stroke-width="0.33"/>
<line x1="442.15" y1="86.60" x2="431.80" y2="63.60" stroke="#bebebe" stroke-width="0.33"/>
<line x1="442.15" y1="86.60" x2="454.20" y2="67.30" stroke="#bebebe" stroke-width="0.33"/>
<line x1="442.15" y1="86.60" x2="439.10" y2="77.80" stroke="#bebebe" stroke-width="0.33"/>
<line x1="442.15" y1="86.60" x2="461.80" y2="77.30" stroke="#bebebe" stroke-width="0.33"/>
<line x1="442.15" y1="86.60" x2="465.80" y2="88.20" stroke="#bebebe" stroke-width="0.33"/>
<line x1="442.15" y1="86.60" x2="443.30" y2="93.30" stroke="#bebebe" stroke-width="0.33"/>
<line x1="442.15" y1="86.60" x2="446.90" y2="96.90" stroke="#bebebe" stroke-width="0.33"/>
<line x1="442.15" y1="86.60" x2="433.30" y2="104.20" stroke="#bebebe" stroke-width="0.33"/>
<line x1="453.75" y1="84.70" x2="454.20" y2="67.30" stroke="#bebebe" stroke-width="0.33"/>
<line x1="453.75" y1="84.70" x2="439.10" y2="77.80" stroke="#bebebe" stroke-width="0.33"/>
<line x1="453.75" y1="84.70" x2="461.80" y2="77.30" stroke="#bebebe" stroke-width="0.33"/>
<line x1="453.75" y1="84.70" x2="465.80" y2="88.20" stroke="#bebebe" stroke-width="0.33"/>
<line x1="453.75" y1="84.70" x2="443.30" y2="93.30" stroke="#bebebe" stroke-width="0.33"/>
<line x1="453.75" y1="84.70" x2="446.90" y2="96.90" stroke="#bebebe" stroke-width="0.33"/>
<line x1="446.75" y1="90.20" x2="454.20" y2="67.30" stroke="#bebebe" stroke-width="0.33"/>
<line x1="446.75" y1="90.20" x2="439.10" y2="77.80" stroke="#bebebe" stroke-width="0.33"/>
<line x1="446.75" y1="90.20" x2="461.80" y2="77.30" stroke="#bebebe" stroke-width="0.33"/>
<line x1="446.75" y1="90.20" x2="465.80" y2="88.20" stroke="#bebebe" stroke-width="0.33"/>
<line x1="446.75" y1="90.20" x2="443.30" y2="93.30" stroke="#bebebe" stroke-width="0.33"/>
<line x1="446.75" y1="90.20" x2="446.90" y2="96.90" stroke="#bebebe" stroke-width="0.33"/>
<line x1="446.75" y1="90.20" x2="433.30" y2="104.20" stroke="#bebebe" stroke-width="0.33"/>
<line x1="455.95" y1="89.90" x2="454.20" y2="67.30" stroke="#bebebe" stroke-width="0.33"/>
<line x1="455.95" y1="89.90" x2="439.10" y2="77.80" stroke="#bebebe" stroke-width="0.33"/>
<line x1="455.95" y1="89.90" x2="461.80" y2="77.30" stroke="#bebebe" stroke-width="0.33"/>
<line x1="455.95" y1="89.90" x2="465.80" y2="88.20" stroke="#bebebe" stroke-width="0.33"/>
<line x1="455.95" y1="89.90" x2="443.30" y2="93.30" stroke="#bebebe" stroke-width="0.33"/>
<line x1="455.95" y1="89.90" x2="446.90" y2="96.90" stroke="#bebebe" stroke-width="0.33"/>
<line x1="455.95" y1="89.90" x2="472.40" y2="106.90" stroke="#bebebe" stroke-width="0.33"/>
<line x1="465.75" y1="85.80" x2="454.20" y2="67.30" stroke="#bebebe" stroke-width="0.33"/>
<line x1="465.75" y1="85.80" x2="461.80" y2="77.30" stroke="#bebebe" stroke-width="0.33"/>
<line x1="465.75" y1="85.80" x2="465.80" y2="88.20" stroke="#bebebe" stroke-width="0.33"/>
<line x1="465.75" y1="85.80" x2="443.30" y2="93.30" stroke="#bebebe" stroke-width="0.33"/>
<line x1="465.75" y1="85.80" x2="446.90" y2="96.90" stroke="#bebebe" stroke-width="0.33"/>
<line x1="465.75" y1="85.80" x2="472.40" y2="106.90" stroke="#bebebe" stroke-width="0.33"/>
<line x1="470.75" y1="86.90" x2="454.20" y2="67.30" stroke="#bebebe" stroke-width="0.33"/>
<line x1="470.75" y1="86.90" x2="461.80" y2="77.30" stroke="#bebebe" stroke-width="0.33"/>
<line x1="470.75" y1="86.90" x2="465.80" y2="88.20" stroke="#bebebe" stroke-width="0.33"/>
<line x1="470.75" y1="86.90" x2="446.90" y2="96.90" stroke="#bebebe" stroke-width="0.33"/>
<line x1="470.75" y1="86.90" x2="472.40" y2="106.90" stroke="#bebebe" stroke-width="0.33"/>
<line x1="425.75" y1="93.10" x2="439.10" y2="77.80" stroke="#bebebe" stroke-width="0.33"/>
<line x1="425.75" y1="93.10" x2="443.30" y2="93.30" stroke="#bebebe" stroke-width="0.33"/>
<line x1="425.75" y1="93.10" x2="446.90" y2="96.90" stroke="#bebebe" stroke-width="0.33"/>
<line x1="425.75" y1="93.10" x2="433.30" y2="104.20" stroke="#bebebe" stroke-width="0.33"/>
<line x1="425.75" y1="93.10" x2="400.20" y2="91.10" stroke="#bebebe" stroke-width="0.33"/>
<line x1="425.75" y1="93.10" x2="408.20" y2="81.40" stroke="#bebebe" stroke-width="0.33"/>
<line x1="425.75" y1="93.10" x2="413.70" y2="103.00" stroke="#bebebe" stroke-width="0.33"/>
<line x1="459.85" y1="92.90" x2="439.10" y2="77.80" stroke="#bebebe" stroke-width="0.33"/>
<line x1="459.85" y1="92.90" x2="461.80" y2="77.30" stroke="#bebebe" stroke-width="0.33"/>
<line x1="459.85" y1="92.90" x2="465.80" y2="88.20" stroke="#bebebe" stroke-width="0.33"/>
<line x1="459.85" y1="92.90" x2="443.30" y2="93.30" stroke="#bebebe" stroke-width="0.33"/>
<line x1="459.85" y1="92.90" x2="446.90" y2="96.90" stroke="#bebebe" stroke-width="0.33"/>
<line x1="459.85" y1="92.90" x2="472.40" y2="106.90" stroke="#bebebe" stroke-width="0.33"/>
<line x1="463.55" y1="92.90" x2="461.80" y2="77.30" stroke="#bebebe" stroke-width="0.33"/>
<line x1="463.55" y1="92.90" x2="465.80" y2="88.20" stroke="#bebebe" stroke-width="0.33"/>
<line x1="463.55" y1="92.90" x2="443.30" y2="93.30" stroke="#bebebe" stroke-width="0.33"/>
<line x1="463.55" y1="92.90" x2="446.90" y2="96.90" stroke="#bebebe" stroke-width="0.33"/>
<line x1="463.55" y1="92.90" x2="472.40" y2="106.90" stroke="#bebebe" stroke-width="0.33"/>
<line x1="468.65" y1="92.10" x2="461.80" y2="77.30" stroke="#bebebe" stroke-width="0.33"/>
<line x1="468.65" y1="92.10" x2="465.80" y2="88.20" stroke="#bebebe" stroke-width="0.33"/>
<line x1="468.65" y1="92.10" x2="443.30" y2="93.30" stroke="#bebebe" stroke-width="0.33"/>
<line x1="468.65" y1="92.10" x2="446.90" y2="96.90" stroke="#bebebe" stroke-width="0.33"/>
<line x1="468.65" y1="92.10" x2="472.40" y2="106.90" stroke="#bebebe" stroke-width="0.33"/>
<line x1="430.15" y1="96.00" x2="439.10" y2="77.80" stroke="#bebebe" stroke-width="0.33"/>
<line x1="430.15" y1="96.00" x2="443.30" y2="93.30" stroke="#bebebe" stroke-width="0.33"/>
<line x1="430.15" y1="96.00" x2="446.90" y2="96.90" stroke="#bebebe" stroke-width="0.33"/>
<line x1="430.15" y1="96.00" x2="433.30" y2="104.20" stroke="#bebebe" stroke-width="0.33"/>
<line x1="430.15" y1="96.00" x2="413.70" y2="103.00" stroke="#bebebe" stroke-width="0.33"/>
<line x1="440.45" y1="96.70" x2="439.10" y2="77.80" stroke="#bebebe" stroke-width="0.33"/>
<line x1="440.45" y1="96.70" x2="443.30" y2="93.30" stroke="#bebebe" stroke-width="0.33"/>
<line x1="440.45" y1="96.70" x2="446.90" y2="96.90" stroke="#bebebe" stroke-width="0.33"/>
<line x1="440.45" y1="96.70" x2="433.30" y2="104.20" stroke="#bebebe" stroke-width="0.33"/>
<line x1="451.35" y1="95.30" x2="439.10" y2="77.80" stroke="#bebebe" stroke-width="0.33"/>
<line x1="451.35" y1="95.30" x2="461.80" y2="77.30" stroke="#bebebe" stroke-width="0.33"/>
<line x1="451.35" y1="95.30" x2="465.80" y2="88.20" stroke="#bebebe" stroke-width="0.33"/>
<line x1="451.35" y1="95.30" x2="443.30" y2="93.30" stroke="#bebebe" stroke-width="0.33"/>
<line x1="451.35" y1="95.30" x2="446.90" y2="96.90" stroke="#bebebe" stroke-width="0.33"/>
<line x1="451.35" y1="95.30" x2="433.30" y2="104.20" stroke="#bebebe" stroke-width="0.33"/>
<line x1="451.35" y1="95.30" x2="472.40" y2="106.90" stroke="#bebebe" stroke-width="0.33"/>
<line x1="451.35" y1="95.30" x2="456.90" y2="119.40" stroke="#bebebe" stroke-width="0.33"/>
<line x1="473.75" y1="97.50" x2="461.80" y2="77.30" stroke="#bebebe" stroke-width="0.33"/>
<line x1="473.75" y1="97.50" x2="465.80" y2="88.20" stroke="#bebebe" stroke-width="0.33"/>
<line x1="473.75" y1="97.50" x2="472.40" y2="106.90" stroke="#bebebe" stroke-width="0.33"/>
<line x1="433.95" y1="98.40" x2="439.10" y2="77.80" stroke="#bebebe" stroke-width="0.33"/>
<line x1="433.95" y1="98.40" x2="443.30" y2="93.30" stroke="#bebebe" stroke-width="0.33"/>
<line x1="433.95" y1="98.40" x2="446.90" y2="96.90" stroke="#bebebe" stroke-width="0.33"/>
<line x1="433.95" y1="98.40" x2="433.30" y2="104.20" stroke="#bebebe" stroke-width="0.33"/>
<line x1="433.95" y1="98.40" x2="413.70" y2="103.00" stroke="#bebebe" stroke-width="0.33"/>
<line x1="430.15" y1="100.80" x2="439.10" y2="77.80" stroke="#bebebe" stroke-width="0.33"/>
<line x1="430.15" y1="100.80" x2="443.30" y2="93.30" stroke="#bebebe" stroke-width="0.33"/>
<line x1="430.15" y1="100.80" x2="446.90" y2="96.90" stroke="#bebebe" stroke-width="0.33"/>
<line x1="430.15" y1="100.80" x2="433.30" y2="104.20" stroke="#bebebe" stroke-width="0.33"/>
<line x1="430.15" y1="100.80" x2="413.70" y2="103.00" stroke="#bebebe" stroke-width="0.33"/>
<line x1="448.15" y1="101.70" x2="439.10" y2="77.80" stroke="#bebebe" stroke-width="0.33"/>
<line x1="448.15" y1="101.70" x2="465.80" y2="88.20" stroke="#bebebe" stroke-width="0.33"/>
<line x1="448.15" y1="101.70" x2="443.30" y2="93.30" stroke="#bebebe" stroke-width="0.33"/>
<line x1="448.15" y1="101.70" x2="446.90" y2="96.90" stroke="#bebebe" stroke-width="0.33"/>
<line x1="448.15" y1="101.70" x2="433.30" y2="104.20" stroke="#bebebe" stroke-width="0.33"/>
<line x1="448.15" y1="101.70" x2="472.40" y2="106.90" stroke="#bebebe" stroke-width="0.33"/>
<line x1="448.15" y1="101.70" x2="456.90" y2="119.40" stroke="#bebebe" stroke-width="0.33"/>
<line x1="448.15" y1="101.70" x2="464.20" y2="122.00" stroke="#bebebe" stroke-width="0.33"/>
<line x1="462.85" y1="100.00" x2="461.80" y2="77.30" stroke="#bebebe" stroke-width="0.33"/>
<line x1="462.85" y1="100.00" x2="465.80" y2="88.20" stroke="#bebebe" stroke-width="0.33"/>
<line x1="462.85" y1="100.00" x2="443.30" y2="93.30" stroke="#bebebe" stroke-width="0.33"/>
<line x1="462.85" y1="100.00" x2="446.90" y2="96.90" stroke="#bebebe" stroke-width="0.33"/>
<line x1="462.85" y1="100.00" x2="472.40" y2="106.90" stroke="#bebebe" stroke-width="0.33"/>
<line x1="462.85" y1="100.00" x2="456.90" y2="119.40" stroke="#bebebe" stroke-width="0.33"/>
<line x1="462.85" y1="100.00" x2="464.20" y2="122.00" stroke="#bebebe" stroke-width="0.33"/>
<line x1="465.75" y1="101.10" x2="461.80" y2="77.30" stroke="#bebebe" stroke-width="0.33"/>
<line x1="465.75" y1="101.10" x2="465.80" y2="88.20" stroke="#bebebe" stroke-width="0.33"/>
<line x1="465.75" y1="101.10" x2="443.30" y2="93.30" stroke="#bebebe" stroke-width="0.33"/>
<line x1="465.75" y1="101.10" x2="446.90" y2="96.90" stroke="#bebebe" stroke-width="0.33"/>
<line x1="465.75" y1="101.10" x2="472.40" y2="106.90" stroke="#bebebe" stroke-width="0.33"/>
<line x1="465.75" y1="101.10" x2="456.90" y2="119.40" stroke="#bebebe" stroke-width="0.33"/>
<line x1="465.75" y1="101.10" x2="464.20" y2="122.00" stroke="#bebebe" stroke-width="0.33"/>
<line x1="455.75" y1="103.30" x2="465.80" y2="88.20" stroke="#bebebe" stroke-width="0.33"/>
<line x1="455.75" y1="103.30" x2="443.30" y2="93.30" stroke="#bebebe" stroke-width="0.33"/>
<line x1="455.75" y1="103.30" x2="446.90" y2="96.90" stroke="#bebebe" stroke-width="0.33"/>
<line x1="455.75" y1="103.30" x2="433.30" y2="104.20" stroke="#bebebe" stroke-width="0.33"/>
<line x1="455.75" y1="103.30" x2="472.40" y2="106.90" stroke="#bebebe" stroke-width="0.33"/>
<line x1="455.75" y1="103.30" x2="456.90" y2="119.40" stroke="#bebebe" stroke-width="0.33"/>
<line x1="455.75" y1="103.30" x2="464.20" y2="122.00" stroke="#bebebe" stroke-width="0.33"/>
<line x1="460.65" y1="103.80" x2="465.80" y2="88.20" stroke="#bebebe" stroke-width="0.33"/>
<line x1="460.65" y1="103.80" x2="443.30" y2="93.30" stroke="#bebebe" stroke-width="0.33"/>
<line x1="460.65" y1="103.80" x2="446.90" y2="96.90" stroke="#bebebe" stroke-width="0.33"/>
<line x1="460.65" y1="103.80" x2="472.40" y2="106.90" stroke="#bebebe" stroke-width="0.33"/>
<line x1="460.65" y1="103.80" x2="456.90" y2="119.40" stroke="#bebebe" stroke-width="0.33"/>
<line x1="460.65" y1="103.80" x2="464.20" y2="122.00" stroke="#bebebe" stroke-width="0.33"/>
<line x1="470.15" y1="103.60" x2="465.80" y2="88.20" stroke="#bebebe" stroke-width="0.33"/>
<line x1="470.15" y1="103.60" x2="446.90" y2="96.90" stroke="#bebebe" stroke-width="0.33"/>
<line x1="470.15" y1="103.60" x2="472.40" y2="106.90" stroke="#bebebe" stroke-width="0.33"/>
<line x1="470.15" y1="103.60" x2="456.90" y2="119.40" stroke="#bebebe" stroke-width="0.33"/>
<line x1="470.15" y1="103.60" x2="476.00" y2="127.30" stroke="#bebebe" stroke-width="0.33"/>
<line x1="470.15" y1="103.60" x2="464.20" y2="122.00" stroke="#bebebe" stroke-width="0.33"/>
<line x1="437.45" y1="106.60" x2="443.30" y2="93.30" stroke="#bebebe" stroke-width="0.33"/>
<line x1="437.45" y1="106.60" x2="446.90" y2="96.90" stroke="#bebebe" stroke-width="0.33"/>
<line x1="437.45" y1="106.60" x2="433.30" y2="104.20" stroke="#bebebe" stroke-width="0.33"/>
<line x1="437.45" y1="106.60" x2="413.70" y2="103.00" stroke="#bebebe" stroke-width="0.33"/>
<line x1="437.45" y1="106.60" x2="456.90" y2="119.40" stroke="#bebebe" stroke-width="0.33"/>
<line x1="437.45" y1="106.60" x2="442.40" y2="130.80" stroke="#bebebe" stroke-width="0.33"/>
<line x1="451.35" y1="104.90" x2="465.80" y2="88.20" stroke="#bebebe" stroke-width="0.33"/>
<line x1="451.35" y1="104.90" x2="443.30" y2="93.30" stroke="#bebebe" stroke-width="0.33"/>
<line x1="451.35" y1="104.90" x2="446.90" y2="96.90" stroke="#bebebe" stroke-width="0.33"/>
<line x1="451.35" y1="104.90" x2="433.30" y2="104.20" stroke="#bebebe" stroke-width="0.33"/>
<line x1="451.35" y1="104.90" x2="472.40" y2="106.90" stroke="#bebebe" stroke-width="0.33"/>
<line x1="451.35" y1="104.90" x2="456.90" y2="119.40" stroke="#bebebe" stroke-width="0.33"/>
<line x1="451.35" y1="104.90" x2="464.20" y2="122.00" stroke="#bebebe" stroke-width="0.33"/>
<line x1="476.65" y1="107.10" x2="465.80" y2="88.20" stroke="#bebebe" stroke-width="0.33"/>
<line x1="476.65" y1="107.10" x2="472.40" y2="106.90" stroke="#bebebe" stroke-width="0.33"/>
<line x1="476.65" y1="107.10" x2="456.90" y2="119.40" stroke="#bebebe" stroke-width="0.33"/>
<line x1="476.65" y1="107.10" x2="476.00" y2="127.30" stroke="#bebebe" stroke-width="0.33"/>
<line x1="476.65" y1="107.10" x2="485.00" y2="126.70" stroke="#bebebe" stroke-width="0.33"/>
<line x1="476.65" y1="107.10" x2="464.20" y2="122.00" stroke="#bebebe" stroke-width="0.33"/>
<line x1="424.35" y1="109.30" x2="443.30" y2="93.30" stroke="#bebebe" stroke-width="0.33"/>
<line x1="424.35" y1="109.30" x2="446.90" y2="96.90" stroke="#bebebe" stroke-width="0.33"/>
<line x1="424.35" y1="109.30" x2="433.30" y2="104.20" stroke="#bebebe" stroke-width="0.33"/>
<line x1="424.35" y1="109.30" x2="413.70" y2="103.00" stroke="#bebebe" stroke-width="0.33"/>
<line x1="433.35" y1="109.50" x2="443.30" y2="93.30" stroke="#bebebe" stroke-width="0.33"/>
<line x1="433.35" y1="109.50" x2="446.90" y2="96.90" stroke="#bebebe" stroke-width="0.33"/>
<line x1="433.35" y1="109.50" x2="433.30" y2="104.20" stroke="#bebebe" stroke-width="0.33"/>
<line x1="433.35" y1="109.50" x2="413.70" y2="103.00" stroke="#bebebe" stroke-width="0.33"/>
<line x1="433.35" y1="109.50" x2="456.90" y2="119.40" stroke="#bebebe" stroke-width="0.33"/>
<line x1="433.35" y1="109.50" x2="442.40" y2="130.80" stroke="#bebebe" stroke-width="0.33"/>
<line x1="456.25" y1="112.00" x2="465.80" y2="88.20" stroke="#bebebe" stroke-width="0.33"/>
<line x1="456.25" y1="112.00" x2="443.30" y2="93.30" stroke="#bebebe" stroke-width="0.33"/>
<line x1="456.25" y1="112.00" x2="446.90" y2="96.90" stroke="#bebebe" stroke-width="0.33"/>
<line x1="456.25" y1="112.00" x2="433.30" y2="104.20" stroke="#bebebe" stroke-width="0.33"/>
<line x1="456.25" y1="112.00" x2="472.40" y2="106.90" stroke="#bebebe" stroke-width="0.33"/>
<line x1="456.25" y1="112.00" x2="456.90" y2="119.40" stroke="#bebebe" stroke-width="0.33"/>
<line x1="456.25" y1="112.00" x2="476.00" y2="127.30" stroke="#bebebe" stroke-width="0.33"/>
<line x1="456.25" y1="112.00" x2="442.40" y2="130.80" stroke="#bebebe" stroke-width="0.33"/>
<line x1="456.25" y1="112.00" x2="464.20" y2="122.00" stroke="#bebebe" stroke-width="0.33"/>
<line x1="468.25" y1="112.00" x2="465.80" y2="88.20" stroke="#bebebe" stroke-width="0.33"/>
<line x1="468.25" y1="112.00" x2="472.40" y2="106.90" stroke="#bebebe" stroke-width="0.33"/>
<line x1="468.25" y1="112.00" x2="456.90" y2="119.40" stroke="#bebebe" stroke-width="0.33"/>
<line x1="468.25" y1="112.00" x2="476.00" y2="127.30" stroke="#bebebe" stroke-width="0.33"/>
<line x1="468.25" y1="112.00" x2="485.00" y2="126.70" stroke="#bebebe" stroke-width="0.33"/>
<line x1="468.25" y1="112.00" x2="464.20" y2="122.00" stroke="#bebebe" stroke-width="0.33"/>
<line x1="470.45" y1="113.40" x2="465.80" y2="88.20" stroke="#bebebe" stroke-width="0.33"/>
<line x1="470.45" y1="113.40" x2="472.40" y2="106.90" stroke="#bebebe" stroke-width="0.33"/>
<line x1="470.45" y1="113.40" x2="456.90" y2="119.40" stroke="#bebebe" stroke-width="0.33"/>
<line x1="470.45" y1="113.40" x2="476.00" y2="127.30" stroke="#bebebe" stroke-width="0.33"/>
<line x1="470.45" y1="113.40" x2="485.00" y2="126.70" stroke="#bebebe" stroke-width="0.33"/>
<line x1="470.45" y1="113.40" x2="464.20" y2="122.00" stroke="#bebebe" stroke-width="0.33"/>
<line x1="472.15" y1="114.20" x2="472.40" y2="106.90" stroke="#bebebe" stroke-width="0.33"/>
<line x1="472.15" y1="114.20" x2="456.90" y2="119.40" stroke="#bebebe" stroke-width="0.33"/>
<line x1="472.15" y1="114.20" x2="476.00" y2="127.30" stroke="#bebebe" stroke-width="0.33"/>
<line x1="472.15" y1="114.20" x2="485.00" y2="126.70" stroke="#bebebe" stroke-width="0.33"/>
<line x1="472.15" y1="114.20" x2="464.20" y2="122.00" stroke="#bebebe" stroke-width="0.33"/>
<line x1="475.95" y1="113.10" x2="472.40" y2="106.90" stroke="#bebebe" stroke-width="0.33"/>
<line x1="475.95" y1="113.10" x2="456.90" y2="119.40" stroke="#bebebe" stroke-width="0.33"/>
<line x1="475.95" y1="113.10" x2="476.00" y2="127.30" stroke="#bebebe" stroke-width="0.33"/>
<line x1="475.95" y1="113.10" x2="485.00" y2="126.70" stroke="#bebebe" stroke-width="0.33"/>
<line x1="475.95" y1="113.10" x2="464.20" y2="122.00" stroke="#bebebe" stroke-width="0.33"/>
<line x1="459.05" y1="115.10" x2="446.90" y2="96.90" stroke="#bebebe" stroke-width="0.33"/>
<line x1="459.05" y1="115.10" x2="472.40" y2="106.90" stroke="#bebebe" stroke-width="0.33"/>
<line x1="459.05" y1="115.10" x2="456.90" y2="119.40" stroke="#bebebe" stroke-width="0.33"/>
<line x1="459.05" y1="115.10" x2="476.00" y2="127.30" stroke="#bebebe" stroke-width="0.33"/>
<line x1="459.05" y1="115.10" x2="442.40" y2="130.80" stroke="#bebebe" stroke-width="0.33"/>
<line x1="459.05" y1="115.10" x2="464.20" y2="122.00" stroke="#bebebe" stroke-width="0.33"/>
<line x1="442.15" y1="114.20" x2="443.30" y2="93.30" stroke="#bebebe" stroke-width="0.33"/>
<line x1="442.15" y1="114.20" x2="446.90" y2="96.90" stroke="#bebebe" stroke-width="0.33"/>
<line x1="442.15" y1="114.20" x2="433.30" y2="104.20" stroke="#bebebe" stroke-width="0.33"/>
<line x1="442.15" y1="114.20" x2="456.90" y2="119.40" stroke="#bebebe" stroke-width="0.33"/>
<line x1="442.15" y1="114.20" x2="442.40" y2="130.80" stroke="#bebebe" stroke-width="0.33"/>
<line x1="442.15" y1="114.20" x2="464.20" y2="122.00" stroke="#bebebe" stroke-width="0.33"/>
<line x1="432.25" y1="116.20" x2="443.30" y2="93.30" stroke="#bebebe" stroke-width="0.33"/>
<line x1="432.25" y1="116.20" x2="446.90" y2="96.90" stroke="#bebebe" stroke-width="0.33"/>
<line x1="432.25" y1="116.20" x2="433.30" y2="104.20" stroke="#bebebe" stroke-width="0.33"/>
<line x1="432.25" y1="116.20" x2="413.70" y2="103.00" stroke="#bebebe" stroke-width="0.33"/>
<line x1="432.25" y1="116.20" x2="456.90" y2="119.40" stroke="#bebebe" stroke-width="0.33"/>
<line x1="432.25" y1="116.20" x2="442.40" y2="130.80" stroke="#bebebe" stroke-width="0.33"/>
<line x1="436.65" y1="117.50" x2="443.30" y2="93.30" stroke="#bebebe" stroke-width="0.33"/>
<line x1="436.65" y1="117.50" x2="446.90" y2="96.90" stroke="#bebebe" stroke-width="0.33"/>
<line x1="436.65" y1="117.50" x2="433.30" y2="104.20" stroke="#bebebe" stroke-width="0.33"/>
<line x1="436.65" y1="117.50" x2="456.90" y2="119.40" stroke="#bebebe" stroke-width="0.33"/>
<line x1="436.65" y1="117.50" x2="442.40" y2="130.80" stroke="#bebebe" stroke-width="0.33"/>
<line x1="419.15" y1="116.70" x2="433.30" y2="104.20" stroke="#bebebe" stroke-width="0.33"/>
<line x1="419.15" y1="116.70" x2="413.70" y2="103.00" stroke="#bebebe" stroke-width="0.33"/>
<line x1="419.15" y1="116.70" x2="396.30" y2="123.50" stroke="#bebebe" stroke-width="0.33"/>
<line x1="454.85" y1="119.70" x2="446.90" y2="96.90" stroke="#bebebe" stroke-width="0.33"/>
<line x1="454.85" y1="119.70" x2="472.40" y2="106.90" stroke="#bebebe" stroke-width="0.33"/>
<line x1="454.85" y1="119.70" x2="456.90" y2="119.40" stroke="#bebebe" stroke-width="0.33"/>
<line x1="454.85" y1="119.70" x2="476.00" y2="127.30" stroke="#bebebe" stroke-width="0.33"/>
<line x1="454.85" y1="119.70" x2="442.40" y2="130.80" stroke="#bebebe" stroke-width="0.33"/>
<line x1="454.85" y1="119.70" x2="464.20" y2="122.00" stroke="#bebebe" stroke-width="0.33"/>
<line x1="462.25" y1="121.30" x2="472.40" y2="106.90" stroke="#bebebe" stroke-width="0.33"/>
<line x1="462.25" y1="121.30" x2="456.90" y2="119.40" stroke="#bebebe" stroke-width="0.33"/>
<line x1="462.25" y1="121.30" x2="476.00" y2="127.30" stroke="#bebebe" stroke-width="0.33"/>
<line x1="462.25" y1="121.30" x2="485.00" y2="126.70" stroke="#bebebe" stroke-width="0.33"/>
<line x1="462.25" y1="121.30" x2="442.40" y2="130.80" stroke="#bebebe" stroke-width="0.33"/>
<line x1="462.25" y1="121.30" x2="464.20" y2="122.00" stroke="#bebebe" stroke-width="0.33"/>
<line x1="445.95" y1="121.30" x2="446.90" y2="96.90" stroke="#bebebe" stroke-width="0.33"/>
<line x1="445.95" y1="121.30" x2="433.30" y2="104.20" stroke="#bebebe" stroke-width="0.33"/>
<line x1="445.95" y1="121.30" x2="456.90" y2="119.40" stroke="#bebebe" stroke-width="0.33"/>
<line x1="445.95" y1="121.30" x2="442.40" y2="130.80" stroke="#bebebe" stroke-width="0.33"/>
<line x1="445.95" y1="121.30" x2="464.20" y2="122.00" stroke="#bebebe" stroke-width="0.33"/>
<line x1="445.95" y1="121.30" x2="444.20" y2="144.40" stroke="#bebebe" stroke-width="0.33"/>
<line x1="427.35" y1="119.10" x2="433.30" y2="104.20" stroke="#bebebe" stroke-width="0.33"/>
<line x1="427.35" y1="119.10" x2="413.70" y2="103.00" stroke="#bebebe" stroke-width="0.33"/>
<line x1="427.35" y1="119.10" x2="442.40" y2="130.80" stroke="#bebebe" stroke-width="0.33"/>
<line x1="425.15" y1="120.70" x2="433.30" y2="104.20" stroke="#bebebe" stroke-width="0.33"/>
<line x1="425.15" y1="120.70" x2="413.70" y2="103.00" stroke="#bebebe" stroke-width="0.33"/>
<line x1="425.15" y1="120.70" x2="442.40" y2="130.80" stroke="#bebebe" stroke-width="0.33"/>
<line x1="427.35" y1="121.80" x2="433.30" y2="104.20" stroke="#bebebe" stroke-width="0.33"/>
<line x1="427.35" y1="121.80" x2="413.70" y2="103.00" stroke="#bebebe" stroke-width="0.33"/>
<line x1="427.35" y1="121.80" x2="442.40" y2="130.80" stroke="#bebebe" stroke-width="0.33"/>
<line x1="478.15" y1="122.60" x2="472.40" y2="106.90" stroke="#bebebe" stroke-width="0.33"/>
<line x1="478.15" y1="122.60" x2="456.90" y2="119.40" stroke="#bebebe" stroke-width="0.33"/>
<line x1="478.15" y1="122.60" x2="476.00" y2="127.30" stroke="#bebebe" stroke-width="0.33"/>
<line x1="478.15" y1="122.60" x2="485.00" y2="126.70" stroke="#bebebe" stroke-width="0.33"/>
<line x1="478.15" y1="122.60" x2="464.20" y2="122.00" stroke="#bebebe" stroke-width="0.33"/>
<line x1="432.85" y1="123.30" x2="433.30" y2="104.20" stroke="#bebebe" stroke-width="0.33"/>
<line x1="432.85" y1="123.30" x2="456.90" y2="119.40" stroke="#bebebe" stroke-width="0.33"/>
<line x1="432.85" y1="123.30" x2="442.40" y2="130.80" stroke="#bebebe" stroke-width="0.33"/>
<line x1="432.85" y1="123.30" x2="444.20" y2="144.40" stroke="#bebebe" stroke-width="0.33"/>
<line x1="456.85" y1="126.20" x2="472.40" y2="106.90" stroke="#bebebe" stroke-width="0.33"/>
<line x1="456.85" y1="126.20" x2="456.90" y2="119.40" stroke="#bebebe" stroke-width="0.33"/>
<line x1="456.85" y1="126.20" x2="476.00" y2="127.30" stroke="#bebebe" stroke-width="0.33"/>
<line x1="456.85" y1="126.20" x2="442.40" y2="130.80" stroke="#bebebe" stroke-width="0.33"/>
<line x1="456.85" y1="126.20" x2="462.20" y2="148.40" stroke="#bebebe" stroke-width="0.33"/>
<line x1="456.85" y1="126.20" x2="464.20" y2="122.00" stroke="#bebebe" stroke-width="0.33"/>
<line x1="456.85" y1="126.20" x2="444.20" y2="144.40" stroke="#bebebe" stroke-width="0.33"/>
<line x1="465.55" y1="125.90" x2="472.40" y2="106.90" stroke="#bebebe" stroke-width="0.33"/>
<line x1="465.55" y1="125.90" x2="456.90" y2="119.40" stroke="#bebebe" stroke-width="0.33"/>
<line x1="465.55" y1="125.90" x2="476.00" y2="127.30" stroke="#bebebe" stroke-width="0.33"/>
<line x1="465.55" y1="125.90" x2="485.00" y2="126.70" stroke="#bebebe" stroke-width="0.33"/>
<line x1="465.55" y1="125.90" x2="442.40" y2="130.80" stroke="#bebebe" stroke-width="0.33"/>
<line x1="465.55" y1="125.90" x2="462.20" y2="148.40" stroke="#bebebe" stroke-width="0.33"/>
<line x1="465.55" y1="125.90" x2="469.80" y2="149.40" stroke="#bebebe" stroke-width="0.33"/>
<line x1="465.55" y1="125.90" x2="464.20" y2="122.00" stroke="#bebebe" stroke-width="0.33"/>
<line x1="441.05" y1="125.10" x2="433.30" y2="104.20" stroke="#bebebe" stroke-width="0.33"/>
<line x1="441.05" y1="125.10" x2="456.90" y2="119.40" stroke="#bebebe" stroke-width="0.33"/>
<line x1="441.05" y1="125.10" x2="442.40" y2="130.80" stroke="#bebebe" stroke-width="0.33"/>
<line x1="441.05" y1="125.10" x2="464.20" y2="122.00" stroke="#bebebe" stroke-width="0.33"/>
<line x1="441.05" y1="125.10" x2="444.20" y2="144.40" stroke="#bebebe" stroke-width="0.33"/>
<line x1="442.65" y1="127.80" x2="433.30" y2="104.20" stroke="#bebebe" stroke-width="0.33"/>
<line x1="442.65" y1="127.80" x2="456.90" y2="119.40" stroke="#bebebe" stroke-width="0.33"/>
<line x1="442.65" y1="127.80" x2="442.40" y2="130.80" stroke="#bebebe" stroke-width="0.33"/>
<line x1="442.65" y1="127.80" x2="430.10" y2="150.50" stroke="#bebebe" stroke-width="0.33"/>
<line x1="442.65" y1="127.80" x2="464.20" y2="122.00" stroke="#bebebe" stroke-width="0.33"/>
<line x1="442.65" y1="127.80" x2="444.20" y2="144.40" stroke="#bebebe" stroke-width="0.33"/>
<line x1="449.75" y1="127.60" x2="456.90" y2="119.40" stroke="#bebebe" stroke-width="0.33"/>
<line x1="449.75" y1="127.60" x2="442.40" y2="130.80" stroke="#bebebe" stroke-width="0.33"/>
<line x1="449.75" y1="127.60" x2="462.20" y2="148.40" stroke="#bebebe" stroke-width="0.33"/>
<line x1="449.75" y1="127.60" x2="464.20" y2="122.00" stroke="#bebebe" stroke-width="0.33"/>
<line x1="449.75" y1="127.60" x2="444.20" y2="144.40" stroke="#bebebe" stroke-width="0.33"/>
<line x1="474.25" y1="127.30" x2="472.40" y2="106.90" stroke="#bebebe" stroke-width="0.33"/>
<line x1="474.25" y1="127.30" x2="456.90" y2="119.40" stroke="#bebebe" stroke-width="0.33"/>
<line x1="474.25" y1="127.30" x2="476.00" y2="127.30" stroke="#bebebe" stroke-width="0.33"/>
<line x1="474.25" y1="127.30" x2="485.00" y2="126.70" stroke="#bebebe" stroke-width="0.33"/>
<line x1="474.25" y1="127.30" x2="462.20" y2="148.40" stroke="#bebebe" stroke-width="0.33"/>
<line x1="474.25" y1="127.30" x2="469.80" y2="149.40" stroke="#bebebe" stroke-width="0.33"/>
<line x1="474.25" y1="127.30" x2="464.20" y2="122.00" stroke="#bebebe" stroke-width="0.33"/>
<line x1="421.95" y1="127.60" x2="413.70" y2="103.00" stroke="#bebebe" stroke-width="0.33"/>
<line x1="421.95" y1="127.60" x2="396.30" y2="123.50" stroke="#bebebe" stroke-width="0.33"/>
<line x1="421.95" y1="127.60" x2="402.70" y2="137.20" stroke="#bebebe" stroke-width="0.33"/>
<line x1="421.95" y1="127.60" x2="442.40" y2="130.80" stroke="#bebebe" stroke-width="0.33"/>
<line x1="421.95" y1="127.60" x2="430.10" y2="150.50" stroke="#bebebe" stroke-width="0.33"/>
<line x1="423.55" y1="132.20" x2="402.70" y2="137.20" stroke="#bebebe" stroke-width="0.33"/>
<line x1="423.55" y1="132.20" x2="442.40" y2="130.80" stroke="#bebebe" stroke-width="0.33"/>
<line x1="423.55" y1="132.20" x2="430.10" y2="150.50" stroke="#bebebe" stroke-width="0.33"/>
<line x1="423.55" y1="132.20" x2="444.20" y2="144.40" stroke="#bebebe" stroke-width="0.33"/>
<line x1="431.75" y1="131.70" x2="442.40" y2="130.80" stroke="#bebebe" stroke-width="0.33"/>
<line x1="431.75" y1="131.70" x2="430.10" y2="150.50" stroke="#bebebe" stroke-width="0.33"/>
<line x1="431.75" y1="131.70" x2="444.20" y2="144.40" stroke="#bebebe" stroke-width="0.33"/>
<line x1="438.55" y1="131.70" x2="456.90" y2="119.40" stroke="#bebebe" stroke-width="0.33"/>
<line x1="438.55" y1="131.70" x2="442.40" y2="130.80" stroke="#bebebe" stroke-width="0.33"/>
<line x1="438.55" y1="131.70" x2="430.10" y2="150.50" stroke="#bebebe" stroke-width="0.33"/>
<line x1="438.55" y1="131.70" x2="444.20" y2="144.40" stroke="#bebebe" stroke-width="0.33"/>
<line x1="448.65" y1="132.20" x2="456.90" y2="119.40" stroke="#bebebe" stroke-width="0.33"/>
<line x1="448.65" y1="132.20" x2="442.40" y2="130.80" stroke="#bebebe" stroke-width="0.33"/>
<line x1="448.65" y1="132.20" x2="462.20" y2="148.40" stroke="#bebebe" stroke-width="0.33"/>
<line x1="448.65" y1="132.20" x2="464.20" y2="122.00" stroke="#bebebe" stroke-width="0.33"/>
<line x1="448.65" y1="132.20" x2="444.20" y2="144.40" stroke="#bebebe" stroke-width="0.33"/>
<line x1="459.55" y1="133.10" x2="456.90" y2="119.40" stroke="#bebebe" stroke-width="0.33"/>
<line x1="459.55" y1="133.10" x2="476.00" y2="127.30" stroke="#bebebe" stroke-width="0.33"/>
<line x1="459.55" y1="133.10" x2="442.40" y2="130.80" stroke="#bebebe" stroke-width="0.33"/>
<line x1="459.55" y1="133.10" x2="462.20" y2="148.40" stroke="#bebebe" stroke-width="0.33"/>
<line x1="459.55" y1="133.10" x2="469.80" y2="149.40" stroke="#bebebe" stroke-width="0.33"/>
<line x1="459.55" y1="133.10" x2="464.20" y2="122.00" stroke="#bebebe" stroke-width="0.33"/>
<line x1="459.55" y1="133.10" x2="444.20" y2="144.40" stroke="#bebebe" stroke-width="0.33"/>
<line x1="476.45" y1="131.10" x2="472.40" y2="106.90" stroke="#bebebe" stroke-width="0.33"/>
<line x1="476.45" y1="131.10" x2="456.90" y2="119.40" stroke="#bebebe" stroke-width="0.33"/>
<line x1="476.45" y1="131.10" x2="476.00" y2="127.30" stroke="#bebebe" stroke-width="0.33"/>
<line x1="476.45" y1="131.10" x2="485.00" y2="126.70" stroke="#bebebe" stroke-width="0.33"/>
<line x1="476.45" y1="131.10" x2="462.20" y2="148.40" stroke="#bebebe" stroke-width="0.33"/>
<line x1="476.45" y1="131.10" x2="469.80" y2="149.40" stroke="#bebebe" stroke-width="0.33"/>
<line x1="476.45" y1="131.10" x2="481.10" y2="155.80" stroke="#bebebe" stroke-width="0.33"/>
<line x1="476.45" y1="131.10" x2="464.20" y2="122.00" stroke="#bebebe" stroke-width="0.33"/>
<line x1="467.15" y1="134.60" x2="456.90" y2="119.40" stroke="#bebebe" stroke-width="0.33"/>
<line x1="467.15" y1="134.60" x2="476.00" y2="127.30" stroke="#bebebe" stroke-width="0.33"/>
<line x1="467.15" y1="134.60" x2="485.00" y2="126.70" stroke="#bebebe" stroke-width="0.33"/>
<line x1="467.15" y1="134.60" x2="442.40" y2="130.80" stroke="#bebebe" stroke-width="0.33"/>
<line x1="467.15" y1="134.60" x2="462.20" y2="148.40" stroke="#bebebe" stroke-width="0.33"/>
<line x1="467.15" y1="134.60" x2="469.80" y2="149.40" stroke="#bebebe" stroke-width="0.33"/>
<line x1="467.15" y1="134.60" x2="481.10" y2="155.80" stroke="#bebebe" stroke-width="0.33"/>
<line x1="467.15" y1="134.60" x2="464.20" y2="122.00" stroke="#bebebe" stroke-width="0.33"/>
<line x1="467.15" y1="134.60" x2="444.20" y2="144.40" stroke="#bebebe" stroke-width="0.33"/>
<line x1="439.35" y1="143.10" x2="442.40" y2="130.80" stroke="#bebebe" stroke-width="0.33"/>
<line x1="439.35" y1="143.10" x2="430.10" y2="150.50" stroke="#bebebe" stroke-width="0.33"/>
<line x1="439.35" y1="143.10" x2="462.20" y2="148.40" stroke="#bebebe" stroke-width="0.33"/>
<line x1="439.35" y1="143.10" x2="443.00" y2="158.40" stroke="#bebebe" stroke-width="0.33"/>
<line x1="439.35" y1="143.10" x2="444.20" y2="144.40" stroke="#bebebe" stroke-width="0.33"/>
<line x1="444.85" y1="142.60" x2="442.40" y2="130.80" stroke="#bebebe" stroke-width="0.33"/>
<line x1="444.85" y1="142.60" x2="430.10" y2="150.50" stroke="#bebebe" stroke-width="0.33"/>
<line x1="444.85" y1="142.60" x2="462.20" y2="148.40" stroke="#bebebe" stroke-width="0.33"/>
<line x1="444.85" y1="142.60" x2="469.80" y2="149.40" stroke="#bebebe" stroke-width="0.33"/>
<line x1="444.85" y1="142.60" x2="443.00" y2="158.40" stroke="#bebebe" stroke-width="0.33"/>
<line x1="444.85" y1="142.60" x2="444.20" y2="144.40" stroke="#bebebe" stroke-width="0.33"/>
<line x1="448.15" y1="143.10" x2="456.90" y2="119.40" stroke="#bebebe" stroke-width="0.33"/>
<line x1="448.15" y1="143.10" x2="442.40" y2="130.80" stroke="#bebebe" stroke-width="0.33"/>
<line x1="448.15" y1="143.10" x2="430.10" y2="150.50" stroke="#bebebe" stroke-width="0.33"/>
<line x1="448.15" y1="143.10" x2="462.20" y2="148.40" stroke="#bebebe" stroke-width="0.33"/>
<line x1="448.15" y1="143.10" x2="469.80" y2="149.40" stroke="#bebebe" stroke-width="0.33"/>
<line x1="448.15" y1="143.10" x2="443.00" y2="158.40" stroke="#bebebe" stroke-width="0.33"/>
<line x1="448.15" y1="143.10" x2="444.20" y2="144.40" stroke="#bebebe" stroke-width="0.33"/>
<line x1="458.45" y1="142.60" x2="456.90" y2="119.40" stroke="#bebebe" stroke-width="0.33"/>
<line x1="458.45" y1="142.60" x2="476.00" y2="127.30" stroke="#bebebe" stroke-width="0.33"/>
<line x1="458.45" y1="142.60" x2="442.40" y2="130.80" stroke="#bebebe" stroke-width="0.33"/>
<line x1="458.45" y1="142.60" x2="462.20" y2="148.40" stroke="#bebebe" stroke-width="0.33"/>
<line x1="458.45" y1="142.60" x2="469.80" y2="149.40" stroke="#bebebe" stroke-width="0.33"/>
<line x1="458.45" y1="142.60" x2="443.00" y2="158.40" stroke="#bebebe" stroke-width="0.33"/>
<line x1="458.45" y1="142.60" x2="475.50" y2="159.80" stroke="#bebebe" stroke-width="0.33"/>
<line x1="458.45" y1="142.60" x2="464.20" y2="122.00" stroke="#bebebe" stroke-width="0.33"/>
<line x1="458.45" y1="142.60" x2="444.20" y2="144.40" stroke="#bebebe" stroke-width="0.33"/>
<line x1="467.55" y1="140.90" x2="456.90" y2="119.40" stroke="#bebebe" stroke-width="0.33"/>
<line x1="467.55" y1="140.90" x2="476.00" y2="127.30" stroke="#bebebe" stroke-width="0.33"/>
<line x1="467.55" y1="140.90" x2="485.00" y2="126.70" stroke="#bebebe" stroke-width="0.33"/>
<line x1="467.55" y1="140.90" x2="462.20" y2="148.40" stroke="#bebebe" stroke-width="0.33"/>
<line x1="467.55" y1="140.90" x2="469.80" y2="149.40" stroke="#bebebe" stroke-width="0.33"/>
<line x1="467.55" y1="140.90" x2="481.10" y2="155.80" stroke="#bebebe" stroke-width="0.33"/>
<line x1="467.55" y1="140.90" x2="475.50" y2="159.80" stroke="#bebebe" stroke-width="0.33"/>
<line x1="467.55" y1="140.90" x2="464.20" y2="122.00" stroke="#bebebe" stroke-width="0.33"/>
<line x1="467.55" y1="140.90" x2="444.20" y2="144.40" stroke="#bebebe" stroke-width="0.33"/>
<line x1="379.35" y1="116.40" x2="376.90" y2="94.00" stroke="#bebebe" stroke-width="0.33"/>
<line x1="379.35" y1="116.40" x2="392.50" y2="119.70" stroke="#bebebe" stroke-width="0.33"/>
<line x1="379.35" y1="116.40" x2="396.30" y2="123.50" stroke="#bebebe" stroke-width="0.33"/>
<line x1="379.35" y1="116.40" x2="383.20" y2="125.30" stroke="#bebebe" stroke-width="0.33"/>
<line x1="379.35" y1="116.40" x2="377.10" y2="103.90" stroke="#bebebe" stroke-width="0.33"/>
<line x1="395.15" y1="115.10" x2="400.20" y2="91.10" stroke="#bebebe" stroke-width="0.33"/>
<line x1="395.15" y1="115.10" x2="413.70" y2="103.00" stroke="#bebebe" stroke-width="0.33"/>
<line x1="395.15" y1="115.10" x2="392.50" y2="119.70" stroke="#bebebe" stroke-width="0.33"/>
<line x1="395.15" y1="115.10" x2="396.30" y2="123.50" stroke="#bebebe" stroke-width="0.33"/>
<line x1="395.15" y1="115.10" x2="383.20" y2="125.30" stroke="#bebebe" stroke-width="0.33"/>
<line x1="395.15" y1="115.10" x2="402.70" y2="137.20" stroke="#bebebe" stroke-width="0.33"/>
<line x1="395.15" y1="115.10" x2="377.10" y2="103.90" stroke="#bebebe" stroke-width="0.33"/>
<line x1="400.15" y1="114.70" x2="400.20" y2="91.10" stroke="#bebebe" stroke-width="0.33"/>
<line x1="400.15" y1="114.70" x2="413.70" y2="103.00" stroke="#bebebe" stroke-width="0.33"/>
<line x1="400.15" y1="114.70" x2="392.50" y2="119.70" stroke="#bebebe" stroke-width="0.33"/>
<line x1="400.15" y1="114.70" x2="396.30" y2="123.50" stroke="#bebebe" stroke-width="0.33"/>
<line x1="400.15" y1="114.70" x2="383.20" y2="125.30" stroke="#bebebe" stroke-width="0.33"/>
<line x1="400.15" y1="114.70" x2="402.70" y2="137.20" stroke="#bebebe" stroke-width="0.33"/>
<line x1="400.15" y1="114.70" x2="377.10" y2="103.90" stroke="#bebebe" stroke-width="0.33"/>
<line x1="411.05" y1="117.70" x2="413.70" y2="103.00" stroke="#bebebe" stroke-width="0.33"/>
<line x1="411.05" y1="117.70" x2="392.50" y2="119.70" stroke="#bebebe" stroke-width="0.33"/>
<line x1="411.05" y1="117.70" x2="396.30" y2="123.50" stroke="#bebebe" stroke-width="0.33"/>
<line x1="411.05" y1="117.70" x2="402.70" y2="137.20" stroke="#bebebe" stroke-width="0.33"/>
<line x1="371.75" y1="123.50" x2="392.50" y2="119.70" stroke="#bebebe" stroke-width="0.33"/>
<line x1="371.75" y1="123.50" x2="396.30" y2="123.50" stroke="#bebebe" stroke-width="0.33"/>
<line x1="371.75" y1="123.50" x2="383.20" y2="125.30" stroke="#bebebe" stroke-width="0.33"/>
<line x1="371.75" y1="123.50" x2="377.10" y2="103.90" stroke="#bebebe" stroke-width="0.33"/>
<line x1="390.25" y1="123.80" x2="392.50" y2="119.70" stroke="#bebebe" stroke-width="0.33"/>
<line x1="390.25" y1="123.80" x2="396.30" y2="123.50" stroke="#bebebe" stroke-width="0.33"/>
<line x1="390.25" y1="123.80" x2="383.20" y2="125.30" stroke="#bebebe" stroke-width="0.33"/>
<line x1="390.25" y1="123.80" x2="402.70" y2="137.20" stroke="#bebebe" stroke-width="0.33"/>
<line x1="390.25" y1="123.80" x2="377.10" y2="103.90" stroke="#bebebe" stroke-width="0.33"/>
<line x1="400.45" y1="121.60" x2="413.70" y2="103.00" stroke="#bebebe" stroke-width="0.33"/>
<line x1="400.45" y1="121.60" x2="392.50" y2="119.70" stroke="#bebebe" stroke-width="0.33"/>
<line x1="400.45" y1="121.60" x2="396.30" y2="123.50" stroke="#bebebe" stroke-width="0.33"/>
<line x1="400.45" y1="121.60" x2="383.20" y2="125.30" stroke="#bebebe" stroke-width="0.33"/>
<line x1="400.45" y1="121.60" x2="402.70" y2="137.20" stroke="#bebebe" stroke-width="0.33"/>
<line x1="405.05" y1="121.80" x2="413.70" y2="103.00" stroke="#bebebe" stroke-width="0.33"/>
<line x1="405.05" y1="121.80" x2="392.50" y2="119.70" stroke="#bebebe" stroke-width="0.33"/>
<line x1="405.05" y1="121.80" x2="396.30" y2="123.50" stroke="#bebebe" stroke-width="0.33"/>
<line x1="405.05" y1="121.80" x2="383.20" y2="125.30" stroke="#bebebe" stroke-width="0.33"/>
<line x1="405.05" y1="121.80" x2="402.70" y2="137.20" stroke="#bebebe" stroke-width="0.33"/>
<line x1="387.85" y1="127.50" x2="392.50" y2="119.70" stroke="#bebebe" stroke-width="0.33"/>
<line x1="387.85" y1="127.50" x2="396.30" y2="123.50" stroke="#bebebe" stroke-width="0.33"/>
<line x1="387.85" y1="127.50" x2="383.20" y2="125.30" stroke="#bebebe" stroke-width="0.33"/>
<line x1="387.85" y1="127.50" x2="402.70" y2="137.20" stroke="#bebebe" stroke-width="0.33"/>
<line x1="387.85" y1="127.50" x2="377.10" y2="103.90" stroke="#bebebe" stroke-width="0.33"/>
<line x1="386.75" y1="128.90" x2="392.50" y2="119.70" stroke="#bebebe" stroke-width="0.33"/>
<line x1="386.75" y1="128.90" x2="396.30" y2="123.50" stroke="#bebebe" stroke-width="0.33"/>
<line x1="386.75" y1="128.90" x2="383.20" y2="125.30" stroke="#bebebe" stroke-width="0.33"/>
<line x1="386.75" y1="128.90" x2="402.70" y2="137.20" stroke="#bebebe" stroke-width="0.33"/>
<line x1="391.55" y1="127.50" x2="392.50" y2="119.70" stroke="#bebebe" stroke-width="0.33"/>
<line x1="391.55" y1="127.50" x2="396.30" y2="123.50" stroke="#bebebe" stroke-width="0.33"/>
<line x1="391.55" y1="127.50" x2="383.20" y2="125.30" stroke="#bebebe" stroke-width="0.33"/>
<line x1="391.55" y1="127.50" x2="402.70" y2="137.20" stroke="#bebebe" stroke-width="0.33"/>
<line x1="397.95" y1="127.50" x2="392.50" y2="119.70" stroke="#bebebe" stroke-width="0.33"/>
<line x1="397.95" y1="127.50" x2="396.30" y2="123.50" stroke="#bebebe" stroke-width="0.33"/>
<line x1="397.95" y1="127.50" x2="383.20" y2="125.30" stroke="#bebebe" stroke-width="0.33"/>
<line x1="397.95" y1="127.50" x2="402.70" y2="137.20" stroke="#bebebe" stroke-width="0.33"/>
<line x1="378.25" y1="131.10" x2="392.50" y2="119.70" stroke="#bebebe" stroke-width="0.33"/>
<line x1="378.25" y1="131.10" x2="396.30" y2="123.50" stroke="#bebebe" stroke-width="0.33"/>
<line x1="378.25" y1="131.10" x2="383.20" y2="125.30" stroke="#bebebe" stroke-width="0.33"/>
<line x1="378.25" y1="131.10" x2="402.70" y2="137.20" stroke="#bebebe" stroke-width="0.33"/>
<line x1="383.75" y1="132.70" x2="392.50" y2="119.70" stroke="#bebebe" stroke-width="0.33"/>
<line x1="383.75" y1="132.70" x2="396.30" y2="123.50" stroke="#bebebe" stroke-width="0.33"/>
<line x1="383.75" y1="132.70" x2="383.20" y2="125.30" stroke="#bebebe" stroke-width="0.33"/>
<line x1="383.75" y1="132.70" x2="402.70" y2="137.20" stroke="#bebebe" stroke-width="0.33"/>
<line x1="391.35" y1="131.70" x2="392.50" y2="119.70" stroke="#bebebe" stroke-width="0.33"/>
<line x1="391.35" y1="131.70" x2="396.30" y2="123.50" stroke="#bebebe" stroke-width="0.33"/>
<line x1="391.35" y1="131.70" x2="383.20" y2="125.30" stroke="#bebebe" stroke-width="0.33"/>
<line x1="391.35" y1="131.70" x2="402.70" y2="137.20" stroke="#bebebe" stroke-width="0.33"/>
<line x1="372.65" y1="136.60" x2="383.20" y2="125.30" stroke="#bebebe" stroke-width="0.33"/>
<line x1="374.15" y1="137.70" x2="392.50" y2="119.70" stroke="#bebebe" stroke-width="0.33"/>
<line x1="374.15" y1="137.70" x2="383.20" y2="125.30" stroke="#bebebe" stroke-width="0.33"/>
<line x1="406.45" y1="150.20" x2="402.70" y2="137.20" stroke="#bebebe" stroke-width="0.33"/>
<line x1="406.45" y1="150.20" x2="397.00" y2="173.30" stroke="#bebebe" stroke-width="0.33"/>
<line x1="406.45" y1="150.20" x2="430.10" y2="150.50" stroke="#bebebe" stroke-width="0.33"/>
<line x1="406.45" y1="150.20" x2="408.90" y2="155.50" stroke="#bebebe" stroke-width="0.33"/>
<line x1="406.45" y1="150.20" x2="400.80" y2="159.20" stroke="#bebebe" stroke-width="0.33"/>
<line x1="406.45" y1="150.20" x2="393.00" y2="163.40" stroke="#bebebe" stroke-width="0.33"/>
<line x1="403.75" y1="153.30" x2="402.70" y2="137.20" stroke="#bebebe" stroke-width="0.33"/>
<line x1="403.75" y1="153.30" x2="397.00" y2="173.30" stroke="#bebebe" stroke-width="0.33"/>
<line x1="403.75" y1="153.30" x2="408.90" y2="155.50" stroke="#bebebe" stroke-width="0.33"/>
<line x1="403.75" y1="153.30" x2="400.80" y2="159.20" stroke="#bebebe" stroke-width="0.33"/>
<line x1="403.75" y1="153.30" x2="393.00" y2="163.40" stroke="#bebebe" stroke-width="0.33"/>
<line x1="398.15" y1="154.30" x2="402.70" y2="137.20" stroke="#bebebe" stroke-width="0.33"/>
<line x1="398.15" y1="154.30" x2="397.00" y2="173.30" stroke="#bebebe" stroke-width="0.33"/>
<line x1="398.15" y1="154.30" x2="408.90" y2="155.50" stroke="#bebebe" stroke-width="0.33"/>
<line x1="398.15" y1="154.30" x2="400.80" y2="159.20" stroke="#bebebe" stroke-width="0.33"/>
<line x1="398.15" y1="154.30" x2="393.00" y2="163.40" stroke="#bebebe" stroke-width="0.33"/>
<line x1="411.05" y1="155.10" x2="402.70" y2="137.20" stroke="#bebebe" stroke-width="0.33"/>
<line x1="411.05" y1="155.10" x2="397.00" y2="173.30" stroke="#bebebe" stroke-width="0.33"/>
<line x1="411.05" y1="155.10" x2="430.10" y2="150.50" stroke="#bebebe" stroke-width="0.33"/>
<line x1="411.05" y1="155.10" x2="408.90" y2="155.50" stroke="#bebebe" stroke-width="0.33"/>
<line x1="411.05" y1="155.10" x2="400.80" y2="159.20" stroke="#bebebe" stroke-width="0.33"/>
<line x1="411.05" y1="155.10" x2="393.00" y2="163.40" stroke="#bebebe" stroke-width="0.33"/>
<line x1="395.75" y1="157.30" x2="402.70" y2="137.20" stroke="#bebebe" stroke-width="0.33"/>
<line x1="395.75" y1="157.30" x2="397.00" y2="173.30" stroke="#bebebe" stroke-width="0.33"/>
<line x1="395.75" y1="157.30" x2="408.90" y2="155.50" stroke="#bebebe" stroke-width="0.33"/>
<line x1="395.75" y1="157.30" x2="400.80" y2="159.20" stroke="#bebebe" stroke-width="0.33"/>
<line x1="395.75" y1="157.30" x2="393.00" y2="163.40" stroke="#bebebe" stroke-width="0.33"/>
<line x1="403.35" y1="158.90" x2="402.70" y2="137.20" stroke="#bebebe" stroke-width="0.33"/>
<line x1="403.35" y1="158.90" x2="397.00" y2="173.30" stroke="#bebebe" stroke-width="0.33"/>
<line x1="403.35" y1="158.90" x2="408.90" y2="155.50" stroke="#bebebe" stroke-width="0.33"/>
<line x1="403.35" y1="158.90" x2="400.80" y2="159.20" stroke="#bebebe" stroke-width="0.33"/>
<line x1="403.35" y1="158.90" x2="393.00" y2="163.40" stroke="#bebebe" stroke-width="0.33"/>
<line x1="395.15" y1="163.10" x2="397.00" y2="173.30" stroke="#bebebe" stroke-width="0.33"/>
<line x1="395.15" y1="163.10" x2="408.90" y2="155.50" stroke="#bebebe" stroke-width="0.33"/>
<line x1="395.15" y1="163.10" x2="400.80" y2="159.20" stroke="#bebebe" stroke-width="0.33"/>
<line x1="395.15" y1="163.10" x2="393.00" y2="163.40" stroke="#bebebe" stroke-width="0.33"/>
<line x1="411.05" y1="161.70" x2="402.70" y2="137.20" stroke="#bebebe" stroke-width="0.33"/>
<line x1="411.05" y1="161.70" x2="397.00" y2="173.30" stroke="#bebebe" stroke-width="0.33"/>
<line x1="411.05" y1="161.70" x2="430.10" y2="150.50" stroke="#bebebe" stroke-width="0.33"/>
<line x1="411.05" y1="161.70" x2="408.90" y2="155.50" stroke="#bebebe" stroke-width="0.33"/>
<line x1="411.05" y1="161.70" x2="400.80" y2="159.20" stroke="#bebebe" stroke-width="0.33"/>
<line x1="411.05" y1="161.70" x2="393.00" y2="163.40" stroke="#bebebe" stroke-width="0.33"/>
<line x1="409.35" y1="163.80" x2="397.00" y2="173.30" stroke="#bebebe" stroke-width="0.33"/>
<line x1="409.35" y1="163.80" x2="430.10" y2="150.50" stroke="#bebebe" stroke-width="0.33"/>
<line x1="409.35" y1="163.80" x2="408.90" y2="155.50" stroke="#bebebe" stroke-width="0.33"/>
<line x1="409.35" y1="163.80" x2="400.80" y2="159.20" stroke="#bebebe" stroke-width="0.33"/>
<line x1="409.35" y1="163.80" x2="393.00" y2="163.40" stroke="#bebebe" stroke-width="0.33"/>
<line x1="407.75" y1="165.70" x2="397.00" y2="173.30" stroke="#bebebe" stroke-width="0.33"/>
<line x1="407.75" y1="165.70" x2="408.90" y2="155.50" stroke="#bebebe" stroke-width="0.33"/>
<line x1="407.75" y1="165.70" x2="400.80" y2="159.20" stroke="#bebebe" stroke-width="0.33"/>
<line x1="407.75" y1="165.70" x2="393.00" y2="163.40" stroke="#bebebe" stroke-width="0.33"/>
<line x1="411.25" y1="165.50" x2="397.00" y2="173.30" stroke="#bebebe" stroke-width="0.33"/>
<line x1="411.25" y1="165.50" x2="430.10" y2="150.50" stroke="#bebebe" stroke-width="0.33"/>
<line x1="411.25" y1="165.50" x2="408.90" y2="155.50" stroke="#bebebe" stroke-width="0.33"/>
<line x1="411.25" y1="165.50" x2="400.80" y2="159.20" stroke="#bebebe" stroke-width="0.33"/>
<line x1="411.25" y1="165.50" x2="393.00" y2="163.40" stroke="#bebebe" stroke-width="0.33"/>
<line x1="389.75" y1="167.70" x2="397.00" y2="173.30" stroke="#bebebe" stroke-width="0.33"/>
<line x1="389.75" y1="167.70" x2="408.90" y2="155.50" stroke="#bebebe" stroke-width="0.33"/>
<line x1="389.75" y1="167.70" x2="400.80" y2="159.20" stroke="#bebebe" stroke-width="0.33"/>
<line x1="389.75" y1="167.70" x2="393.00" y2="163.40" stroke="#bebebe" stroke-width="0.33"/>
<line x1="402.85" y1="168.70" x2="397.00" y2="173.30" stroke="#bebebe" stroke-width="0.33"/>
<line x1="402.85" y1="168.70" x2="408.90" y2="155.50" stroke="#bebebe" stroke-width="0.33"/>
<line x1="402.85" y1="168.70" x2="400.80" y2="159.20" stroke="#bebebe" stroke-width="0.33"/>
<line x1="402.85" y1="168.70" x2="393.00" y2="163.40" stroke="#bebebe" stroke-width="0.33"/>
<line x1="394.65" y1="169.30" x2="397.00" y2="173.30" stroke="#bebebe" stroke-width="0.33"/>
<line x1="394.65" y1="169.30" x2="408.90" y2="155.50" stroke="#bebebe" stroke-width="0.33"/>
<line x1="394.65" y1="169.30" x2="400.80" y2="159.20" stroke="#bebebe" stroke-width="0.33"/>
<line x1="394.65" y1="169.30" x2="393.00" y2="163.40" stroke="#bebebe" stroke-width="0.33"/>
<line x1="417.55" y1="170.10" x2="397.00" y2="173.30" stroke="#bebebe" stroke-width="0.33"/>
<line x1="417.55" y1="170.10" x2="437.10" y2="175.40" stroke="#bebebe" stroke-width="0.33"/>
<line x1="417.55" y1="170.10" x2="430.10" y2="150.50" stroke="#bebebe" stroke-width="0.33"/>
<line x1="417.55" y1="170.10" x2="408.90" y2="155.50" stroke="#bebebe" stroke-width="0.33"/>
<line x1="417.55" y1="170.10" x2="400.80" y2="159.20" stroke="#bebebe" stroke-width="0.33"/>
<line x1="417.55" y1="170.10" x2="393.00" y2="163.40" stroke="#bebebe" stroke-width="0.33"/>
<line x1="447.55" y1="147.70" x2="442.40" y2="130.80" stroke="#bebebe" stroke-width="0.33"/>
<line x1="447.55" y1="147.70" x2="430.10" y2="150.50" stroke="#bebebe" stroke-width="0.33"/>
<line x1="447.55" y1="147.70" x2="462.20" y2="148.40" stroke="#bebebe" stroke-width="0.33"/>
<line x1="447.55" y1="147.70" x2="469.80" y2="149.40" stroke="#bebebe" stroke-width="0.33"/>
<line x1="447.55" y1="147.70" x2="443.00" y2="158.40" stroke="#bebebe" stroke-width="0.33"/>
<line x1="447.55" y1="147.70" x2="444.30" y2="169.20" stroke="#bebebe" stroke-width="0.33"/>
<line x1="447.55" y1="147.70" x2="444.20" y2="144.40" stroke="#bebebe" stroke-width="0.33"/>
<line x1="457.05" y1="148.00" x2="442.40" y2="130.80" stroke="#bebebe" stroke-width="0.33"/>
<line x1="457.05" y1="148.00" x2="462.20" y2="148.40" stroke="#bebebe" stroke-width="0.33"/>
<line x1="457.05" y1="148.00" x2="469.80" y2="149.40" stroke="#bebebe" stroke-width="0.33"/>
<line x1="457.05" y1="148.00" x2="481.10" y2="155.80" stroke="#bebebe" stroke-width="0.33"/>
<line x1="457.05" y1="148.00" x2="443.00" y2="158.40" stroke="#bebebe" stroke-width="0.33"/>
<line x1="457.05" y1="148.00" x2="444.30" y2="169.20" stroke="#bebebe" stroke-width="0.33"/>
<line x1="457.05" y1="148.00" x2="475.50" y2="159.80" stroke="#bebebe" stroke-width="0.33"/>
<line x1="457.05" y1="148.00" x2="444.20" y2="144.40" stroke="#bebebe" stroke-width="0.33"/>
<line x1="460.65" y1="149.10" x2="442.40" y2="130.80" stroke="#bebebe" stroke-width="0.33"/>
<line x1="460.65" y1="149.10" x2="462.20" y2="148.40" stroke="#bebebe" stroke-width="0.33"/>
<line x1="460.65" y1="149.10" x2="469.80" y2="149.40" stroke="#bebebe" stroke-width="0.33"/>
<line x1="460.65" y1="149.10" x2="481.10" y2="155.80" stroke="#bebebe" stroke-width="0.33"/>
<line x1="460.65" y1="149.10" x2="443.00" y2="158.40" stroke="#bebebe" stroke-width="0.33"/>
<line x1="460.65" y1="149.10" x2="444.30" y2="169.20" stroke="#bebebe" stroke-width="0.33"/>
<line x1="460.65" y1="149.10" x2="475.50" y2="159.80" stroke="#bebebe" stroke-width="0.33"/>
<line x1="460.65" y1="149.10" x2="444.20" y2="144.40" stroke="#bebebe" stroke-width="0.33"/>
<line x1="467.55" y1="148.30" x2="476.00" y2="127.30" stroke="#bebebe" stroke-width="0.33"/>
<line x1="467.55" y1="148.30" x2="462.20" y2="148.40" stroke="#bebebe" stroke-width="0.33"/>
<line x1="467.55" y1="148.30" x2="469.80" y2="149.40" stroke="#bebebe" stroke-width="0.33"/>
<line x1="467.55" y1="148.30" x2="481.10" y2="155.80" stroke="#bebebe" stroke-width="0.33"/>
<line x1="467.55" y1="148.30" x2="482.30" y2="164.70" stroke="#bebebe" stroke-width="0.33"/>
<line x1="467.55" y1="148.30" x2="475.50" y2="159.80" stroke="#bebebe" stroke-width="0.33"/>
<line x1="467.55" y1="148.30" x2="444.20" y2="144.40" stroke="#bebebe" stroke-width="0.33"/>
<line x1="476.45" y1="148.60" x2="476.00" y2="127.30" stroke="#bebebe" stroke-width="0.33"/>
<line x1="476.45" y1="148.60" x2="485.00" y2="126.70" stroke="#bebebe" stroke-width="0.33"/>
<line x1="476.45" y1="148.60" x2="462.20" y2="148.40" stroke="#bebebe" stroke-width="0.33"/>
<line x1="476.45" y1="148.60" x2="469.80" y2="149.40" stroke="#bebebe" stroke-width="0.33"/>
<line x1="476.45" y1="148.60" x2="481.10" y2="155.80" stroke="#bebebe" stroke-width="0.33"/>
<line x1="476.45" y1="148.60" x2="482.30" y2="164.70" stroke="#bebebe" stroke-width="0.33"/>
<line x1="476.45" y1="148.60" x2="475.50" y2="159.80" stroke="#bebebe" stroke-width="0.33"/>
<line x1="474.25" y1="144.40" x2="476.00" y2="127.30" stroke="#bebebe" stroke-width="0.33"/>
<line x1="474.25" y1="144.40" x2="485.00" y2="126.70" stroke="#bebebe" stroke-width="0.33"/>
<line x1="474.25" y1="144.40" x2="462.20" y2="148.40" stroke="#bebebe" stroke-width="0.33"/>
<line x1="474.25" y1="144.40" x2="469.80" y2="149.40" stroke="#bebebe" stroke-width="0.33"/>
<line x1="474.25" y1="144.40" x2="481.10" y2="155.80" stroke="#bebebe" stroke-width="0.33"/>
<line x1="474.25" y1="144.40" x2="482.30" y2="164.70" stroke="#bebebe" stroke-width="0.33"/>
<line x1="474.25" y1="144.40" x2="475.50" y2="159.80" stroke="#bebebe" stroke-width="0.33"/>
<line x1="474.25" y1="144.40" x2="464.20" y2="122.00" stroke="#bebebe" stroke-width="0.33"/>
<line x1="422.45" y1="151.00" x2="402.70" y2="137.20" stroke="#bebebe" stroke-width="0.33"/>
<line x1="422.45" y1="151.00" x2="430.10" y2="150.50" stroke="#bebebe" stroke-width="0.33"/>
<line x1="422.45" y1="151.00" x2="443.00" y2="158.40" stroke="#bebebe" stroke-width="0.33"/>
<line x1="422.45" y1="151.00" x2="408.90" y2="155.50" stroke="#bebebe" stroke-width="0.33"/>
<line x1="422.45" y1="151.00" x2="400.80" y2="159.20" stroke="#bebebe" stroke-width="0.33"/>
<line x1="422.45" y1="151.00" x2="444.20" y2="144.40" stroke="#bebebe" stroke-width="0.33"/>
<line x1="457.35" y1="152.40" x2="462.20" y2="148.40" stroke="#bebebe" stroke-width="0.33"/>
<line x1="457.35" y1="152.40" x2="469.80" y2="149.40" stroke="#bebebe" stroke-width="0.33"/>
<line x1="457.35" y1="152.40" x2="481.10" y2="155.80" stroke="#bebebe" stroke-width="0.33"/>
<line x1="457.35" y1="152.40" x2="443.00" y2="158.40" stroke="#bebebe" stroke-width="0.33"/>
<line x1="457.35" y1="152.40" x2="444.30" y2="169.20" stroke="#bebebe" stroke-width="0.33"/>
<line x1="457.35" y1="152.40" x2="459.00" y2="175.20" stroke="#bebebe" stroke-width="0.33"/>
<line x1="457.35" y1="152.40" x2="475.50" y2="159.80" stroke="#bebebe" stroke-width="0.33"/>
<line x1="457.35" y1="152.40" x2="444.20" y2="144.40" stroke="#bebebe" stroke-width="0.33"/>
<line x1="463.35" y1="153.10" x2="462.20" y2="148.40" stroke="#bebebe" stroke-width="0.33"/>
<line x1="463.35" y1="153.10" x2="469.80" y2="149.40" stroke="#bebebe" stroke-width="0.33"/>
<line x1="463.35" y1="153.10" x2="481.10" y2="155.80" stroke="#bebebe" stroke-width="0.33"/>
<line x1="463.35" y1="153.10" x2="443.00" y2="158.40" stroke="#bebebe" stroke-width="0.33"/>
<line x1="463.35" y1="153.10" x2="482.30" y2="164.70" stroke="#bebebe" stroke-width="0.33"/>
<line x1="463.35" y1="153.10" x2="444.30" y2="169.20" stroke="#bebebe" stroke-width="0.33"/>
<line x1="463.35" y1="153.10" x2="459.00" y2="175.20" stroke="#bebebe" stroke-width="0.33"/>
<line x1="463.35" y1="153.10" x2="475.50" y2="159.80" stroke="#bebebe" stroke-width="0.33"/>
<line x1="463.35" y1="153.10" x2="444.20" y2="144.40" stroke="#bebebe" stroke-width="0.33"/>
<line x1="419.55" y1="155.70" x2="402.70" y2="137.20" stroke="#bebebe" stroke-width="0.33"/>
<line x1="419.55" y1="155.70" x2="430.10" y2="150.50" stroke="#bebebe" stroke-width="0.33"/>
<line x1="419.55" y1="155.70" x2="443.00" y2="158.40" stroke="#bebebe" stroke-width="0.33"/>
<line x1="419.55" y1="155.70" x2="408.90" y2="155.50" stroke="#bebebe" stroke-width="0.33"/>
<line x1="419.55" y1="155.70" x2="400.80" y2="159.20" stroke="#bebebe" stroke-width="0.33"/>
<line x1="429.55" y1="155.10" x2="437.10" y2="175.40" stroke="#bebebe" stroke-width="0.33"/>
<line x1="429.55" y1="155.10" x2="430.10" y2="150.50" stroke="#bebebe" stroke-width="0.33"/>
<line x1="429.55" y1="155.10" x2="443.00" y2="158.40" stroke="#bebebe" stroke-width="0.33"/>
<line x1="429.55" y1="155.10" x2="444.30" y2="169.20" stroke="#bebebe" stroke-width="0.33"/>
<line x1="429.55" y1="155.10" x2="408.90" y2="155.50" stroke="#bebebe" stroke-width="0.33"/>
<line x1="429.55" y1="155.10" x2="444.20" y2="144.40" stroke="#bebebe" stroke-width="0.33"/>
<line x1="438.55" y1="154.90" x2="437.10" y2="175.40" stroke="#bebebe" stroke-width="0.33"/>
<line x1="438.55" y1="154.90" x2="442.40" y2="130.80" stroke="#bebebe" stroke-width="0.33"/>
<line x1="438.55" y1="154.90" x2="430.10" y2="150.50" stroke="#bebebe" stroke-width="0.33"/>
<line x1="438.55" y1="154.90" x2="462.20" y2="148.40" stroke="#bebebe" stroke-width="0.33"/>
<line x1="438.55" y1="154.90" x2="443.00" y2="158.40" stroke="#bebebe" stroke-width="0.33"/>
<line x1="438.55" y1="154.90" x2="444.30" y2="169.20" stroke="#bebebe" stroke-width="0.33"/>
<line x1="438.55" y1="154.90" x2="444.20" y2="144.40" stroke="#bebebe" stroke-width="0.33"/>
<line x1="459.05" y1="155.70" x2="462.20" y2="148.40" stroke="#bebebe" stroke-width="0.33"/>
<line x1="459.05" y1="155.70" x2="469.80" y2="149.40" stroke="#bebebe" stroke-width="0.33"/>
<line x1="459.05" y1="155.70" x2="481.10" y2="155.80" stroke="#bebebe" stroke-width="0.33"/>
<line x1="459.05" y1="155.70" x2="443.00" y2="158.40" stroke="#bebebe" stroke-width="0.33"/>
<line x1="459.05" y1="155.70" x2="482.30" y2="164.70" stroke="#bebebe" stroke-width="0.33"/>
<line x1="459.05" y1="155.70" x2="444.30" y2="169.20" stroke="#bebebe" stroke-width="0.33"/>
<line x1="459.05" y1="155.70" x2="459.00" y2="175.20" stroke="#bebebe" stroke-width="0.33"/>
<line x1="459.05" y1="155.70" x2="467.70" y2="179.00" stroke="#bebebe" stroke-width="0.33"/>
<line x1="459.05" y1="155.70" x2="475.50" y2="159.80" stroke="#bebebe" stroke-width="0.33"/>
<line x1="459.05" y1="155.70" x2="444.20" y2="144.40" stroke="#bebebe" stroke-width="0.33"/>
<line x1="465.55" y1="156.40" x2="462.20" y2="148.40" stroke="#bebebe" stroke-width="0.33"/>
<line x1="465.55" y1="156.40" x2="469.80" y2="149.40" stroke="#bebebe" stroke-width="0.33"/>
<line x1="465.55" y1="156.40" x2="481.10" y2="155.80" stroke="#bebebe" stroke-width="0.33"/>
<line x1="465.55" y1="156.40" x2="443.00" y2="158.40" stroke="#bebebe" stroke-width="0.33"/>
<line x1="465.55" y1="156.40" x2="482.30" y2="164.70" stroke="#bebebe" stroke-width="0.33"/>
<line x1="465.55" y1="156.40" x2="444.30" y2="169.20" stroke="#bebebe" stroke-width="0.33"/>
<line x1="465.55" y1="156.40" x2="459.00" y2="175.20" stroke="#bebebe" stroke-width="0.33"/>
<line x1="465.55" y1="156.40" x2="467.70" y2="179.00" stroke="#bebebe" stroke-width="0.33"/>
<line x1="465.55" y1="156.40" x2="475.50" y2="159.80" stroke="#bebebe" stroke-width="0.33"/>
<line x1="465.55" y1="156.40" x2="444.20" y2="144.40" stroke="#bebebe" stroke-width="0.33"/>
<line x1="473.15" y1="157.10" x2="462.20" y2="148.40" stroke="#bebebe" stroke-width="0.33"/>
<line x1="473.15" y1="157.10" x2="469.80" y2="149.40" stroke="#bebebe" stroke-width="0.33"/>
<line x1="473.15" y1="157.10" x2="481.10" y2="155.80" stroke="#bebebe" stroke-width="0.33"/>
<line x1="473.15" y1="157.10" x2="482.30" y2="164.70" stroke="#bebebe" stroke-width="0.33"/>
<line x1="473.15" y1="157.10" x2="459.00" y2="175.20" stroke="#bebebe" stroke-width="0.33"/>
<line x1="473.15" y1="157.10" x2="467.70" y2="179.00" stroke="#bebebe" stroke-width="0.33"/>
<line x1="473.15" y1="157.10" x2="475.50" y2="159.80" stroke="#bebebe" stroke-width="0.33"/>
<line x1="433.95" y1="158.40" x2="437.10" y2="175.40" stroke="#bebebe" stroke-width="0.33"/>
<line x1="433.95" y1="158.40" x2="430.10" y2="150.50" stroke="#bebebe" stroke-width="0.33"/>
<line x1="433.95" y1="158.40" x2="443.00" y2="158.40" stroke="#bebebe" stroke-width="0.33"/>
<line x1="433.95" y1="158.40" x2="444.30" y2="169.20" stroke="#bebebe" stroke-width="0.33"/>
<line x1="433.95" y1="158.40" x2="408.90" y2="155.50" stroke="#bebebe" stroke-width="0.33"/>
<line x1="433.95" y1="158.40" x2="444.20" y2="144.40" stroke="#bebebe" stroke-width="0.33"/>
<line x1="437.75" y1="159.30" x2="437.10" y2="175.40" stroke="#bebebe" stroke-width="0.33"/>
<line x1="437.75" y1="159.30" x2="430.10" y2="150.50" stroke="#bebebe" stroke-width="0.33"/>
<line x1="437.75" y1="159.30" x2="443.00" y2="158.40" stroke="#bebebe" stroke-width="0.33"/>
<line x1="437.75" y1="159.30" x2="444.30" y2="169.20" stroke="#bebebe" stroke-width="0.33"/>
<line x1="437.75" y1="159.30" x2="444.20" y2="144.40" stroke="#bebebe" stroke-width="0.33"/>
<line x1="449.45" y1="159.30" x2="437.10" y2="175.40" stroke="#bebebe" stroke-width="0.33"/>
<line x1="449.45" y1="159.30" x2="430.10" y2="150.50" stroke="#bebebe" stroke-width="0.33"/>
<line x1="449.45" y1="159.30" x2="462.20" y2="148.40" stroke="#bebebe" stroke-width="0.33"/>
<line x1="449.45" y1="159.30" x2="469.80" y2="149.40" stroke="#bebebe" stroke-width="0.33"/>
<line x1="449.45" y1="159.30" x2="443.00" y2="158.40" stroke="#bebebe" stroke-width="0.33"/>
<line x1="449.45" y1="159.30" x2="444.30" y2="169.20" stroke="#bebebe" stroke-width="0.33"/>
<line x1="449.45" y1="159.30" x2="459.00" y2="175.20" stroke="#bebebe" stroke-width="0.33"/>
<line x1="449.45" y1="159.30" x2="444.20" y2="144.40" stroke="#bebebe" stroke-width="0.33"/>
<line x1="455.15" y1="160.30" x2="437.10" y2="175.40" stroke="#bebebe" stroke-width="0.33"/>
<line x1="455.15" y1="160.30" x2="462.20" y2="148.40" stroke="#bebebe" stroke-width="0.33"/>
<line x1="455.15" y1="160.30" x2="469.80" y2="149.40" stroke="#bebebe" stroke-width="0.33"/>
<line x1="455.15" y1="160.30" x2="443.00" y2="158.40" stroke="#bebebe" stroke-width="0.33"/>
<line x1="455.15" y1="160.30" x2="444.30" y2="169.20" stroke="#bebebe" stroke-width="0.33"/>
<line x1="455.15" y1="160.30" x2="459.00" y2="175.20" stroke="#bebebe" stroke-width="0.33"/>
<line x1="455.15" y1="160.30" x2="467.70" y2="179.00" stroke="#bebebe" stroke-width="0.33"/>
<line x1="455.15" y1="160.30" x2="475.50" y2="159.80" stroke="#bebebe" stroke-width="0.33"/>
<line x1="455.15" y1="160.30" x2="444.20" y2="144.40" stroke="#bebebe" stroke-width="0.33"/>
<line x1="423.85" y1="164.40" x2="437.10" y2="175.40" stroke="#bebebe" stroke-width="0.33"/>
<line x1="423.85" y1="164.40" x2="430.10" y2="150.50" stroke="#bebebe" stroke-width="0.33"/>
<line x1="423.85" y1="164.40" x2="443.00" y2="158.40" stroke="#bebebe" stroke-width="0.33"/>
<line x1="423.85" y1="164.40" x2="444.30" y2="169.20" stroke="#bebebe" stroke-width="0.33"/>
<line x1="423.85" y1="164.40" x2="408.90" y2="155.50" stroke="#bebebe" stroke-width="0.33"/>
<line x1="423.85" y1="164.40" x2="400.80" y2="159.20" stroke="#bebebe" stroke-width="0.33"/>
<line x1="474.85" y1="164.40" x2="462.20" y2="148.40" stroke="#bebebe" stroke-width="0.33"/>
<line x1="474.85" y1="164.40" x2="469.80" y2="149.40" stroke="#bebebe" stroke-width="0.33"/>
<line x1="474.85" y1="164.40" x2="481.10" y2="155.80" stroke="#bebebe" stroke-width="0.33"/>
<line x1="474.85" y1="164.40" x2="482.30" y2="164.70" stroke="#bebebe" stroke-width="0.33"/>
<line x1="474.85" y1="164.40" x2="459.00" y2="175.20" stroke="#bebebe" stroke-width="0.33"/>
<line x1="474.85" y1="164.40" x2="467.70" y2="179.00" stroke="#bebebe" stroke-width="0.33"/>
<line x1="474.85" y1="164.40" x2="476.00" y2="188.10" stroke="#bebebe" stroke-width="0.33"/>
<line x1="474.85" y1="164.40" x2="475.50" y2="159.80" stroke="#bebebe" stroke-width="0.33"/>
<line x1="430.45" y1="165.80" x2="437.10" y2="175.40" stroke="#bebebe" stroke-width="0.33"/>
<line x1="430.45" y1="165.80" x2="430.10" y2="150.50" stroke="#bebebe" stroke-width="0.33"/>
<line x1="430.45" y1="165.80" x2="443.00" y2="158.40" stroke="#bebebe" stroke-width="0.33"/>
<line x1="430.45" y1="165.80" x2="444.30" y2="169.20" stroke="#bebebe" stroke-width="0.33"/>
<line x1="430.45" y1="165.80" x2="408.90" y2="155.50" stroke="#bebebe" stroke-width="0.33"/>
<line x1="430.45" y1="165.80" x2="444.20" y2="144.40" stroke="#bebebe" stroke-width="0.33"/>
<line x1="443.15" y1="167.10" x2="437.10" y2="175.40" stroke="#bebebe" stroke-width="0.33"/>
<line x1="443.15" y1="167.10" x2="430.10" y2="150.50" stroke="#bebebe" stroke-width="0.33"/>
<line x1="443.15" y1="167.10" x2="443.00" y2="158.40" stroke="#bebebe" stroke-width="0.33"/>
<line x1="443.15" y1="167.10" x2="444.30" y2="169.20" stroke="#bebebe" stroke-width="0.33"/>
<line x1="443.15" y1="167.10" x2="459.00" y2="175.20" stroke="#bebebe" stroke-width="0.33"/>
<line x1="443.15" y1="167.10" x2="444.20" y2="144.40" stroke="#bebebe" stroke-width="0.33"/>
<line x1="447.85" y1="167.30" x2="437.10" y2="175.40" stroke="#bebebe" stroke-width="0.33"/>
<line x1="447.85" y1="167.30" x2="430.10" y2="150.50" stroke="#bebebe" stroke-width="0.33"/>
<line x1="447.85" y1="167.30" x2="462.20" y2="148.40" stroke="#bebebe" stroke-width="0.33"/>
<line x1="447.85" y1="167.30" x2="443.00" y2="158.40" stroke="#bebebe" stroke-width="0.33"/>
<line x1="447.85" y1="167.30" x2="444.30" y2="169.20" stroke="#bebebe" stroke-width="0.33"/>
<line x1="447.85" y1="167.30" x2="459.00" y2="175.20" stroke="#bebebe" stroke-width="0.33"/>
<line x1="447.85" y1="167.30" x2="467.70" y2="179.00" stroke="#bebebe" stroke-width="0.33"/>
<line x1="447.85" y1="167.30" x2="444.20" y2="144.40" stroke="#bebebe" stroke-width="0.33"/>
<line x1="471.55" y1="167.10" x2="462.20" y2="148.40" stroke="#bebebe" stroke-width="0.33"/>
<line x1="471.55" y1="167.10" x2="469.80" y2="149.40" stroke="#bebebe" stroke-width="0.33"/>
<line x1="471.55" y1="167.10" x2="481.10" y2="155.80" stroke="#bebebe" stroke-width="0.33"/>
<line x1="471.55" y1="167.10" x2="482.30" y2="164.70" stroke="#bebebe" stroke-width="0.33"/>
<line x1="471.55" y1="167.10" x2="459.00" y2="175.20" stroke="#bebebe" stroke-width="0.33"/>
<line x1="471.55" y1="167.10" x2="467.70" y2="179.00" stroke="#bebebe" stroke-width="0.33"/>
<line x1="471.55" y1="167.10" x2="476.00" y2="188.10" stroke="#bebebe" stroke-width="0.33"/>
<line x1="471.55" y1="167.10" x2="475.50" y2="159.80" stroke="#bebebe" stroke-width="0.33"/>
<line x1="427.15" y1="169.10" x2="437.10" y2="175.40" stroke="#bebebe" stroke-width="0.33"/>
<line x1="427.15" y1="169.10" x2="430.10" y2="150.50" stroke="#bebebe" stroke-width="0.33"/>
<line x1="427.15" y1="169.10" x2="443.00" y2="158.40" stroke="#bebebe" stroke-width="0.33"/>
<line x1="427.15" y1="169.10" x2="444.30" y2="169.20" stroke="#bebebe" stroke-width="0.33"/>
<line x1="427.15" y1="169.10" x2="408.90" y2="155.50" stroke="#bebebe" stroke-width="0.33"/>
<line x1="458.45" y1="170.40" x2="437.10" y2="175.40" stroke="#bebebe" stroke-width="0.33"/>
<line x1="458.45" y1="170.40" x2="462.20" y2="148.40" stroke="#bebebe" stroke-width="0.33"/>
<line x1="458.45" y1="170.40" x2="469.80" y2="149.40" stroke="#bebebe" stroke-width="0.33"/>
<line x1="458.45" y1="170.40" x2="443.00" y2="158.40" stroke="#bebebe" stroke-width="0.33"/>
<line x1="458.45" y1="170.40" x2="482.30" y2="164.70" stroke="#bebebe" stroke-width="0.33"/>
<line x1="458.45" y1="170.40" x2="444.30" y2="169.20" stroke="#bebebe" stroke-width="0.33"/>
<line x1="458.45" y1="170.40" x2="459.00" y2="175.20" stroke="#bebebe" stroke-width="0.33"/>
<line x1="458.45" y1="170.40" x2="467.70" y2="179.00" stroke="#bebebe" stroke-width="0.33"/>
<line x1="458.45" y1="170.40" x2="476.00" y2="188.10" stroke="#bebebe" stroke-width="0.33"/>
<line x1="458.45" y1="170.40" x2="475.50" y2="159.80" stroke="#bebebe" stroke-width="0.33"/>
<line x1="465.05" y1="170.60" x2="462.20" y2="148.40" stroke="#bebebe" stroke-width="0.33"/>
<line x1="465.05" y1="170.60" x2="469.80" y2="149.40" stroke="#bebebe" stroke-width="0.33"/>
<line x1="465.05" y1="170.60" x2="481.10" y2="155.80" stroke="#bebebe" stroke-width="0.33"/>
<line x1="465.05" y1="170.60" x2="443.00" y2="158.40" stroke="#bebebe" stroke-width="0.33"/>
<line x1="465.05" y1="170.60" x2="482.30" y2="164.70" stroke="#bebebe" stroke-width="0.33"/>
<line x1="465.05" y1="170.60" x2="444.30" y2="169.20" stroke="#bebebe" stroke-width="0.33"/>
<line x1="465.05" y1="170.60" x2="459.00" y2="175.20" stroke="#bebebe" stroke-width="0.33"/>
<line x1="465.05" y1="170.60" x2="467.70" y2="179.00" stroke="#bebebe" stroke-width="0.33"/>
<line x1="465.05" y1="170.60" x2="476.00" y2="188.10" stroke="#bebebe" stroke-width="0.33"/>
<line x1="465.05" y1="170.60" x2="475.50" y2="159.80" stroke="#bebebe" stroke-width="0.33"/>
<line x1="431.75" y1="172.30" x2="437.10" y2="175.40" stroke="#bebebe" stroke-width="0.33"/>
<line x1="431.75" y1="172.30" x2="430.10" y2="150.50" stroke="#bebebe" stroke-width="0.33"/>
<line x1="431.75" y1="172.30" x2="443.00" y2="158.40" stroke="#bebebe" stroke-width="0.33"/>
<line x1="431.75" y1="172.30" x2="444.30" y2="169.20" stroke="#bebebe" stroke-width="0.33"/>
<line x1="438.05" y1="170.90" x2="437.10" y2="175.40" stroke="#bebebe" stroke-width="0.33"/>
<line x1="438.05" y1="170.90" x2="430.10" y2="150.50" stroke="#bebebe" stroke-width="0.33"/>
<line x1="438.05" y1="170.90" x2="443.00" y2="158.40" stroke="#bebebe" stroke-width="0.33"/>
<line x1="438.05" y1="170.90" x2="444.30" y2="169.20" stroke="#bebebe" stroke-width="0.33"/>
<line x1="438.05" y1="170.90" x2="459.00" y2="175.20" stroke="#bebebe" stroke-width="0.33"/>
<line x1="447.55" y1="172.00" x2="437.10" y2="175.40" stroke="#bebebe" stroke-width="0.33"/>
<line x1="447.55" y1="172.00" x2="443.00" y2="158.40" stroke="#bebebe" stroke-width="0.33"/>
<line x1="447.55" y1="172.00" x2="444.30" y2="169.20" stroke="#bebebe" stroke-width="0.33"/>
<line x1="447.55" y1="172.00" x2="459.00" y2="175.20" stroke="#bebebe" stroke-width="0.33"/>
<line x1="447.55" y1="172.00" x2="467.70" y2="179.00" stroke="#bebebe" stroke-width="0.33"/>
<line x1="453.35" y1="173.10" x2="437.10" y2="175.40" stroke="#bebebe" stroke-width="0.33"/>
<line x1="453.35" y1="173.10" x2="443.00" y2="158.40" stroke="#bebebe" stroke-width="0.33"/>
<line x1="453.35" y1="173.10" x2="444.30" y2="169.20" stroke="#bebebe" stroke-width="0.33"/>
<line x1="453.35" y1="173.10" x2="459.00" y2="175.20" stroke="#bebebe" stroke-width="0.33"/>
<line x1="453.35" y1="173.10" x2="467.70" y2="179.00" stroke="#bebebe" stroke-width="0.33"/>
<line x1="453.35" y1="173.10" x2="475.50" y2="159.80" stroke="#bebebe" stroke-width="0.33"/>
<line x1="478.15" y1="173.10" x2="469.80" y2="149.40" stroke="#bebebe" stroke-width="0.33"/>
<line x1="478.15" y1="173.10" x2="481.10" y2="155.80" stroke="#bebebe" stroke-width="0.33"/>
<line x1="478.15" y1="173.10" x2="482.30" y2="164.70" stroke="#bebebe" stroke-width="0.33"/>
<line x1="478.15" y1="173.10" x2="459.00" y2="175.20" stroke="#bebebe" stroke-width="0.33"/>
<line x1="478.15" y1="173.10" x2="467.70" y2="179.00" stroke="#bebebe" stroke-width="0.33"/>
<line x1="478.15" y1="173.10" x2="476.00" y2="188.10" stroke="#bebebe" stroke-width="0.33"/>
<line x1="478.15" y1="173.10" x2="475.50" y2="159.80" stroke="#bebebe" stroke-width="0.33"/>
<line x1="421.75" y1="173.40" x2="397.00" y2="173.30" stroke="#bebebe" stroke-width="0.33"/>
<line x1="421.75" y1="173.40" x2="437.10" y2="175.40" stroke="#bebebe" stroke-width="0.33"/>
<line x1="421.75" y1="173.40" x2="430.10" y2="150.50" stroke="#bebebe" stroke-width="0.33"/>
<line x1="421.75" y1="173.40" x2="444.30" y2="169.20" stroke="#bebebe" stroke-width="0.33"/>
<line x1="421.75" y1="173.40" x2="408.90" y2="155.50" stroke="#bebebe" stroke-width="0.33"/>
<line x1="421.75" y1="173.40" x2="400.80" y2="159.20" stroke="#bebebe" stroke-width="0.33"/>
<line x1="468.25" y1="175.30" x2="469.80" y2="149.40" stroke="#bebebe" stroke-width="0.33"/>
<line x1="468.25" y1="175.30" x2="481.10" y2="155.80" stroke="#bebebe" stroke-width="0.33"/>
<line x1="468.25" y1="175.30" x2="482.30" y2="164.70" stroke="#bebebe" stroke-width="0.33"/>
<line x1="468.25" y1="175.30" x2="444.30" y2="169.20" stroke="#bebebe" stroke-width="0.33"/>
<line x1="468.25" y1="175.30" x2="459.00" y2="175.20" stroke="#bebebe" stroke-width="0.33"/>
<line x1="468.25" y1="175.30" x2="467.70" y2="179.00" stroke="#bebebe" stroke-width="0.33"/>
<line x1="468.25" y1="175.30" x2="476.00" y2="188.10" stroke="#bebebe" stroke-width="0.33"/>
<line x1="468.25" y1="175.30" x2="475.50" y2="159.80" stroke="#bebebe" stroke-width="0.33"/>
<line x1="426.85" y1="176.70" x2="437.10" y2="175.40" stroke="#bebebe" stroke-width="0.33"/>
<line x1="426.85" y1="176.70" x2="443.00" y2="158.40" stroke="#bebebe" stroke-width="0.33"/>
<line x1="426.85" y1="176.70" x2="444.30" y2="169.20" stroke="#bebebe" stroke-width="0.33"/>
<line x1="432.65" y1="177.50" x2="437.10" y2="175.40" stroke="#bebebe" stroke-width="0.33"/>
<line x1="432.65" y1="177.50" x2="443.00" y2="158.40" stroke="#bebebe" stroke-width="0.33"/>
<line x1="432.65" y1="177.50" x2="444.30" y2="169.20" stroke="#bebebe" stroke-width="0.33"/>
<line x1="445.95" y1="177.50" x2="437.10" y2="175.40" stroke="#bebebe" stroke-width="0.33"/>
<line x1="445.95" y1="177.50" x2="443.00" y2="158.40" stroke="#bebebe" stroke-width="0.33"/>
<line x1="445.95" y1="177.50" x2="444.30" y2="169.20" stroke="#bebebe" stroke-width="0.33"/>
<line x1="445.95" y1="177.50" x2="459.00" y2="175.20" stroke="#bebebe" stroke-width="0.33"/>
<line x1="445.95" y1="177.50" x2="467.70" y2="179.00" stroke="#bebebe" stroke-width="0.33"/>
<line x1="420.25" y1="178.20" x2="397.00" y2="173.30" stroke="#bebebe" stroke-width="0.33"/>
<line x1="420.25" y1="178.20" x2="437.10" y2="175.40" stroke="#bebebe" stroke-width="0.33"/>
<line x1="420.25" y1="178.20" x2="444.30" y2="169.20" stroke="#bebebe" stroke-width="0.33"/>
<line x1="420.25" y1="178.20" x2="408.90" y2="155.50" stroke="#bebebe" stroke-width="0.33"/>
<line x1="454.65" y1="178.90" x2="437.10" y2="175.40" stroke="#bebebe" stroke-width="0.33"/>
<line x1="454.65" y1="178.90" x2="443.00" y2="158.40" stroke="#bebebe" stroke-width="0.33"/>
<line x1="454.65" y1="178.90" x2="444.30" y2="169.20" stroke="#bebebe" stroke-width="0.33"/>
<line x1="454.65" y1="178.90" x2="459.00" y2="175.20" stroke="#bebebe" stroke-width="0.33"/>
<line x1="454.65" y1="178.90" x2="467.70" y2="179.00" stroke="#bebebe" stroke-width="0.33"/>
<line x1="454.65" y1="178.90" x2="476.00" y2="188.10" stroke="#bebebe" stroke-width="0.33"/>
<line x1="472.95" y1="179.30" x2="481.10" y2="155.80" stroke="#bebebe" stroke-width="0.33"/>
<line x1="472.95" y1="179.30" x2="482.30" y2="164.70" stroke="#bebebe" stroke-width="0.33"/>
<line x1="472.95" y1="179.30" x2="459.00" y2="175.20" stroke="#bebebe" stroke-width="0.33"/>
<line x1="472.95" y1="179.30" x2="467.70" y2="179.00" stroke="#bebebe" stroke-width="0.33"/>
<line x1="472.95" y1="179.30" x2="476.00" y2="188.10" stroke="#bebebe" stroke-width="0.33"/>
<line x1="472.95" y1="179.30" x2="475.50" y2="159.80" stroke="#bebebe" stroke-width="0.33"/>
<line x1="436.35" y1="179.70" x2="437.10" y2="175.40" stroke="#bebebe" stroke-width="0.33"/>
<line x1="436.35" y1="179.70" x2="443.00" y2="158.40" stroke="#bebebe" stroke-width="0.33"/>
<line x1="436.35" y1="179.70" x2="444.30" y2="169.20" stroke="#bebebe" stroke-width="0.33"/>
<line x1="436.35" y1="179.70" x2="459.00" y2="175.20" stroke="#bebebe" stroke-width="0.33"/>
<line x1="459.55" y1="181.10" x2="437.10" y2="175.40" stroke="#bebebe" stroke-width="0.33"/>
<line x1="459.55" y1="181.10" x2="444.30" y2="169.20" stroke="#bebebe" stroke-width="0.33"/>
<line x1="459.55" y1="181.10" x2="459.00" y2="175.20" stroke="#bebebe" stroke-width="0.33"/>
<line x1="459.55" y1="181.10" x2="467.70" y2="179.00" stroke="#bebebe" stroke-width="0.33"/>
<line x1="459.55" y1="181.10" x2="476.00" y2="188.10" stroke="#bebebe" stroke-width="0.33"/>
<line x1="432.65" y1="181.80" x2="437.10" y2="175.40" stroke="#bebebe" stroke-width="0.33"/>
<line x1="432.65" y1="181.80" x2="443.00" y2="158.40" stroke="#bebebe" stroke-width="0.33"/>
<line x1="432.65" y1="181.80" x2="444.30" y2="169.20" stroke="#bebebe" stroke-width="0.33"/>
<line x1="429.05" y1="182.60" x2="437.10" y2="175.40" stroke="#bebebe" stroke-width="0.33"/>
<line x1="429.05" y1="182.60" x2="444.30" y2="169.20" stroke="#bebebe" stroke-width="0.33"/>
<line x1="443.75" y1="181.80" x2="437.10" y2="175.40" stroke="#bebebe" stroke-width="0.33"/>
<line x1="443.75" y1="181.80" x2="443.00" y2="158.40" stroke="#bebebe" stroke-width="0.33"/>
<line x1="443.75" y1="181.80" x2="444.30" y2="169.20" stroke="#bebebe" stroke-width="0.33"/>
<line x1="443.75" y1="181.80" x2="459.00" y2="175.20" stroke="#bebebe" stroke-width="0.33"/>
<line x1="443.75" y1="181.80" x2="467.70" y2="179.00" stroke="#bebebe" stroke-width="0.33"/>
<line x1="452.45" y1="181.80" x2="437.10" y2="175.40" stroke="#bebebe" stroke-width="0.33"/>
<line x1="452.45" y1="181.80" x2="443.00" y2="158.40" stroke="#bebebe" stroke-width="0.33"/>
<line x1="452.45" y1="181.80" x2="444.30" y2="169.20" stroke="#bebebe" stroke-width="0.33"/>
<line x1="452.45" y1="181.80" x2="459.00" y2="175.20" stroke="#bebebe" stroke-width="0.33"/>
<line x1="452.45" y1="181.80" x2="467.70" y2="179.00" stroke="#bebebe" stroke-width="0.33"/>
<line x1="452.45" y1="181.80" x2="476.00" y2="188.10" stroke="#bebebe" stroke-width="0.33"/>
<line x1="419.55" y1="182.90" x2="397.00" y2="173.30" stroke="#bebebe" stroke-width="0.33"/>
<line x1="419.55" y1="182.90" x2="437.10" y2="175.40" stroke="#bebebe" stroke-width="0.33"/>
<line x1="470.15" y1="183.30" x2="482.30" y2="164.70" stroke="#bebebe" stroke-width="0.33"/>
<line x1="470.15" y1="183.30" x2="459.00" y2="175.20" stroke="#bebebe" stroke-width="0.33"/>
<line x1="470.15" y1="183.30" x2="467.70" y2="179.00" stroke="#bebebe" stroke-width="0.33"/>
<line x1="470.15" y1="183.30" x2="476.00" y2="188.10" stroke="#bebebe" stroke-width="0.33"/>
<line x1="470.15" y1="183.30" x2="475.50" y2="159.80" stroke="#bebebe" stroke-width="0.33"/>
<line x1="466.15" y1="184.80" x2="482.30" y2="164.70" stroke="#bebebe" stroke-width="0.33"/>
<line x1="466.15" y1="184.80" x2="459.00" y2="175.20" stroke="#bebebe" stroke-width="0.33"/>
<line x1="466.15" y1="184.80" x2="467.70" y2="179.00" stroke="#bebebe" stroke-width="0.33"/>
<line x1="466.15" y1="184.80" x2="476.00" y2="188.10" stroke="#bebebe" stroke-width="0.33"/>
<line x1="436.65" y1="185.70" x2="437.10" y2="175.40" stroke="#bebebe" stroke-width="0.33"/>
<line x1="436.65" y1="185.70" x2="444.30" y2="169.20" stroke="#bebebe" stroke-width="0.33"/>
<line x1="436.65" y1="185.70" x2="459.00" y2="175.20" stroke="#bebebe" stroke-width="0.33"/>
<line x1="424.95" y1="186.20" x2="437.10" y2="175.40" stroke="#bebebe" stroke-width="0.33"/>
<line x1="424.95" y1="186.20" x2="444.30" y2="169.20" stroke="#bebebe" stroke-width="0.33"/>
<line x1="432.65" y1="186.70" x2="437.10" y2="175.40" stroke="#bebebe" stroke-width="0.33"/>
<line x1="432.65" y1="186.70" x2="444.30" y2="169.20" stroke="#bebebe" stroke-width="0.33"/>
<line x1="451.15" y1="187.60" x2="437.10" y2="175.40" stroke="#bebebe" stroke-width="0.33"/>
<line x1="451.15" y1="187.60" x2="444.30" y2="169.20" stroke="#bebebe" stroke-width="0.33"/>
<line x1="451.15" y1="187.60" x2="459.00" y2="175.20" stroke="#bebebe" stroke-width="0.33"/>
<line x1="451.15" y1="187.60" x2="467.70" y2="179.00" stroke="#bebebe" stroke-width="0.33"/>
<line x1="451.15" y1="187.60" x2="476.00" y2="188.10" stroke="#bebebe" stroke-width="0.33"/>
<line x1="454.65" y1="187.30" x2="437.10" y2="175.40" stroke="#bebebe" stroke-width="0.33"/>
<line x1="454.65" y1="187.30" x2="444.30" y2="169.20" stroke="#bebebe" stroke-width="0.33"/>
<line x1="454.65" y1="187.30" x2="459.00" y2="175.20" stroke="#bebebe" stroke-width="0.33"/>
<line x1="454.65" y1="187.30" x2="467.70" y2="179.00" stroke="#bebebe" stroke-width="0.33"/>
<line x1="454.65" y1="187.30" x2="476.00" y2="188.10" stroke="#bebebe" stroke-width="0.33"/>
<line x1="440.45" y1="188.40" x2="437.10" y2="175.40" stroke="#bebebe" stroke-width="0.33"/>
<line x1="440.45" y1="188.40" x2="444.30" y2="169.20" stroke="#bebebe" stroke-width="0.33"/>
<line x1="440.45" y1="188.40" x2="459.00" y2="175.20" stroke="#bebebe" stroke-width="0.33"/>
<line x1="471.05" y1="189.50" x2="459.00" y2="175.20" stroke="#bebebe" stroke-width="0.33"/>
<line x1="471.05" y1="189.50" x2="467.70" y2="179.00" stroke="#bebebe" stroke-width="0.33"/>
<line x1="471.05" y1="189.50" x2="476.00" y2="188.10" stroke="#bebebe" stroke-width="0.33"/>
<line x1="463.15" y1="189.50" x2="459.00" y2="175.20" stroke="#bebebe" stroke-width="0.33"/>
<line x1="463.15" y1="189.50" x2="467.70" y2="179.00" stroke="#bebebe" stroke-width="0.33"/>
<line x1="463.15" y1="189.50" x2="476.00" y2="188.10" stroke="#bebebe" stroke-width="0.33"/>
<line x1="458.45" y1="191.10" x2="459.00" y2="175.20" stroke="#bebebe" stroke-width="0.33"/>
<line x1="458.45" y1="191.10" x2="467.70" y2="179.00" stroke="#bebebe" stroke-width="0.33"/>
<line x1="458.45" y1="191.10" x2="476.00" y2="188.10" stroke="#bebebe" stroke-width="0.33"/>
<line x1="475.15" y1="194.20" x2="459.00" y2="175.20" stroke="#bebebe" stroke-width="0.33"/>
<line x1="475.15" y1="194.20" x2="467.70" y2="179.00" stroke="#bebebe" stroke-width="0.33"/>
<line x1="475.15" y1="194.20" x2="476.00" y2="188.10" stroke="#bebebe" stroke-width="0.33"/>
<line x1="484.95" y1="114.30" x2="472.40" y2="106.90" stroke="#bebebe" stroke-width="0.33"/>
<line x1="484.95" y1="114.30" x2="476.00" y2="127.30" stroke="#bebebe" stroke-width="0.33"/>
<line x1="484.95" y1="114.30" x2="485.00" y2="126.70" stroke="#bebebe" stroke-width="0.33"/>
<line x1="484.95" y1="114.30" x2="464.20" y2="122.00" stroke="#bebebe" stroke-width="0.33"/>
<line x1="486.35" y1="118.40" x2="472.40" y2="106.90" stroke="#bebebe" stroke-width="0.33"/>
<line x1="486.35" y1="118.40" x2="476.00" y2="127.30" stroke="#bebebe" stroke-width="0.33"/>
<line x1="486.35" y1="118.40" x2="485.00" y2="126.70" stroke="#bebebe" stroke-width="0.33"/>
<line x1="486.35" y1="118.40" x2="464.20" y2="122.00" stroke="#bebebe" stroke-width="0.33"/>
<line x1="484.55" y1="122.50" x2="472.40" y2="106.90" stroke="#bebebe" stroke-width="0.33"/>
<line x1="484.55" y1="122.50" x2="476.00" y2="127.30" stroke="#bebebe" stroke-width="0.33"/>
<line x1="484.55" y1="122.50" x2="485.00" y2="126.70" stroke="#bebebe" stroke-width="0.33"/>
<line x1="484.55" y1="122.50" x2="464.20" y2="122.00" stroke="#bebebe" stroke-width="0.33"/>
<line x1="490.45" y1="124.90" x2="472.40" y2="106.90" stroke="#bebebe" stroke-width="0.33"/>
<line x1="490.45" y1="124.90" x2="476.00" y2="127.30" stroke="#bebebe" stroke-width="0.33"/>
<line x1="490.45" y1="124.90" x2="485.00" y2="126.70" stroke="#bebebe" stroke-width="0.33"/>
<line x1="483.25" y1="128.30" x2="472.40" y2="106.90" stroke="#bebebe" stroke-width="0.33"/>
<line x1="483.25" y1="128.30" x2="476.00" y2="127.30" stroke="#bebebe" stroke-width="0.33"/>
<line x1="483.25" y1="128.30" x2="485.00" y2="126.70" stroke="#bebebe" stroke-width="0.33"/>
<line x1="483.25" y1="128.30" x2="469.80" y2="149.40" stroke="#bebebe" stroke-width="0.33"/>
<line x1="483.25" y1="128.30" x2="464.20" y2="122.00" stroke="#bebebe" stroke-width="0.33"/>
<line x1="490.95" y1="132.60" x2="476.00" y2="127.30" stroke="#bebebe" stroke-width="0.33"/>
<line x1="490.95" y1="132.60" x2="485.00" y2="126.70" stroke="#bebebe" stroke-width="0.33"/>
<line x1="490.95" y1="132.60" x2="481.10" y2="155.80" stroke="#bebebe" stroke-width="0.33"/>
<line x1="482.15" y1="134.70" x2="476.00" y2="127.30" stroke="#bebebe" stroke-width="0.33"/>
<line x1="482.15" y1="134.70" x2="485.00" y2="126.70" stroke="#bebebe" stroke-width="0.33"/>
<line x1="482.15" y1="134.70" x2="462.20" y2="148.40" stroke="#bebebe" stroke-width="0.33"/>
<line x1="482.15" y1="134.70" x2="469.80" y2="149.40" stroke="#bebebe" stroke-width="0.33"/>
<line x1="482.15" y1="134.70" x2="481.10" y2="155.80" stroke="#bebebe" stroke-width="0.33"/>
<line x1="482.15" y1="134.70" x2="475.50" y2="159.80" stroke="#bebebe" stroke-width="0.33"/>
<line x1="482.15" y1="134.70" x2="464.20" y2="122.00" stroke="#bebebe" stroke-width="0.33"/>
<line x1="482.45" y1="141.80" x2="476.00" y2="127.30" stroke="#bebebe" stroke-width="0.33"/>
<line x1="482.45" y1="141.80" x2="485.00" y2="126.70" stroke="#bebebe" stroke-width="0.33"/>
<line x1="482.45" y1="141.80" x2="462.20" y2="148.40" stroke="#bebebe" stroke-width="0.33"/>
<line x1="482.45" y1="141.80" x2="469.80" y2="149.40" stroke="#bebebe" stroke-width="0.33"/>
<line x1="482.45" y1="141.80" x2="481.10" y2="155.80" stroke="#bebebe" stroke-width="0.33"/>
<line x1="482.45" y1="141.80" x2="482.30" y2="164.70" stroke="#bebebe" stroke-width="0.33"/>
<line x1="482.45" y1="141.80" x2="475.50" y2="159.80" stroke="#bebebe" stroke-width="0.33"/>
<line x1="486.85" y1="145.10" x2="476.00" y2="127.30" stroke="#bebebe" stroke-width="0.33"/>
<line x1="486.85" y1="145.10" x2="485.00" y2="126.70" stroke="#bebebe" stroke-width="0.33"/>
<line x1="486.85" y1="145.10" x2="462.20" y2="148.40" stroke="#bebebe" stroke-width="0.33"/>
<line x1="486.85" y1="145.10" x2="469.80" y2="149.40" stroke="#bebebe" stroke-width="0.33"/>
<line x1="486.85" y1="145.10" x2="481.10" y2="155.80" stroke="#bebebe" stroke-width="0.33"/>
<line x1="486.85" y1="145.10" x2="482.30" y2="164.70" stroke="#bebebe" stroke-width="0.33"/>
<line x1="486.85" y1="145.10" x2="475.50" y2="159.80" stroke="#bebebe" stroke-width="0.33"/>
<line x1="486.25" y1="150.10" x2="476.00" y2="127.30" stroke="#bebebe" stroke-width="0.33"/>
<line x1="486.25" y1="150.10" x2="485.00" y2="126.70" stroke="#bebebe" stroke-width="0.33"/>
<line x1="486.25" y1="150.10" x2="462.20" y2="148.40" stroke="#bebebe" stroke-width="0.33"/>
<line x1="486.25" y1="150.10" x2="469.80" y2="149.40" stroke="#bebebe" stroke-width="0.33"/>
<line x1="486.25" y1="150.10" x2="481.10" y2="155.80" stroke="#bebebe" stroke-width="0.33"/>
<line x1="486.25" y1="150.10" x2="482.30" y2="164.70" stroke="#bebebe" stroke-width="0.33"/>
<line x1="486.25" y1="150.10" x2="475.50" y2="159.80" stroke="#bebebe" stroke-width="0.33"/>
<line x1="484.15" y1="156.40" x2="462.20" y2="148.40" stroke="#bebebe" stroke-width="0.33"/>
<line x1="484.15" y1="156.40" x2="469.80" y2="149.40" stroke="#bebebe" stroke-width="0.33"/>
<line x1="484.15" y1="156.40" x2="481.10" y2="155.80" stroke="#bebebe" stroke-width="0.33"/>
<line x1="484.15" y1="156.40" x2="482.30" y2="164.70" stroke="#bebebe" stroke-width="0.33"/>
<line x1="484.15" y1="156.40" x2="475.50" y2="159.80" stroke="#bebebe" stroke-width="0.33"/>
<line x1="481.05" y1="161.00" x2="462.20" y2="148.40" stroke="#bebebe" stroke-width="0.33"/>
<line x1="481.05" y1="161.00" x2="469.80" y2="149.40" stroke="#bebebe" stroke-width="0.33"/>
<line x1="481.05" y1="161.00" x2="481.10" y2="155.80" stroke="#bebebe" stroke-width="0.33"/>
<line x1="481.05" y1="161.00" x2="482.30" y2="164.70" stroke="#bebebe" stroke-width="0.33"/>
<line x1="481.05" y1="161.00" x2="467.70" y2="179.00" stroke="#bebebe" stroke-width="0.33"/>
<line x1="481.05" y1="161.00" x2="475.50" y2="159.80" stroke="#bebebe" stroke-width="0.33"/>
<line x1="479.75" y1="168.80" x2="469.80" y2="149.40" stroke="#bebebe" stroke-width="0.33"/>
<line x1="479.75" y1="168.80" x2="481.10" y2="155.80" stroke="#bebebe" stroke-width="0.33"/>
<line x1="479.75" y1="168.80" x2="482.30" y2="164.70" stroke="#bebebe" stroke-width="0.33"/>
<line x1="479.75" y1="168.80" x2="459.00" y2="175.20" stroke="#bebebe" stroke-width="0.33"/>
<line x1="479.75" y1="168.80" x2="467.70" y2="179.00" stroke="#bebebe" stroke-width="0.33"/>
<line x1="479.75" y1="168.80" x2="476.00" y2="188.10" stroke="#bebebe" stroke-width="0.33"/>
<line x1="479.75" y1="168.80" x2="475.50" y2="159.80" stroke="#bebebe" stroke-width="0.33"/>
<line x1="478.75" y1="173.10" x2="469.80" y2="149.40" stroke="#bebebe" stroke-width="0.33"/>
<line x1="478.75" y1="173.10" x2="481.10" y2="155.80" stroke="#bebebe" stroke-width="0.33"/>
<line x1="478.75" y1="173.10" x2="482.30" y2="164.70" stroke="#bebebe" stroke-width="0.33"/>
<line x1="478.75" y1="173.10" x2="459.00" y2="175.20" stroke="#bebebe" stroke-width="0.33"/>
<line x1="478.75" y1="173.10" x2="467.70" y2="179.00" stroke="#bebebe" stroke-width="0.33"/>
<line x1="478.75" y1="173.10" x2="476.00" y2="188.10" stroke="#bebebe" stroke-width="0.33"/>
<line x1="478.75" y1="173.10" x2="475.50" y2="159.80" stroke="#bebebe" stroke-width="0.33"/>
<line x1="484.15" y1="176.60" x2="481.10" y2="155.80" stroke="#bebebe" stroke-width="0.33"/>
<line x1="484.15" y1="176.60" x2="482.30" y2="164.70" stroke="#bebebe" stroke-width="0.33"/>
<line x1="484.15" y1="176.60" x2="459.00" y2="175.20" stroke="#bebebe" stroke-width="0.33"/>
<line x1="484.15" y1="176.60" x2="467.70" y2="179.00" stroke="#bebebe" stroke-width="0.33"/>
<line x1="484.15" y1="176.60" x2="476.00" y2="188.10" stroke="#bebebe" stroke-width="0.33"/>
<line x1="484.15" y1="176.60" x2="475.50" y2="159.80" stroke="#bebebe" stroke-width="0.33"/>
<line x1="481.85" y1="183.10" x2="482.30" y2="164.70" stroke="#bebebe" stroke-width="0.33"/>
<line x1="481.85" y1="183.10" x2="459.00" y2="175.20" stroke="#bebebe" stroke-width="0.33"/>
<line x1="481.85" y1="183.10" x2="467.70" y2="179.00" stroke="#bebebe" stroke-width="0.33"/>
<line x1="481.85" y1="183.10" x2="476.00" y2="188.10" stroke="#bebebe" stroke-width="0.33"/>
<line x1="481.85" y1="183.10" x2="475.50" y2="159.80" stroke="#bebebe" stroke-width="0.33"/>
<line x1="481.45" y1="193.40" x2="467.70" y2="179.00" stroke="#bebebe" stroke-width="0.33"/>
<line x1="481.45" y1="193.40" x2="476.00" y2="188.10" stroke="#bebebe" stroke-width="0.33"/>
<line x1="394.15" y1="176.40" x2="397.00" y2="173.30" stroke="#bebebe" stroke-width="0.33"/>
<line x1="394.15" y1="176.40" x2="408.90" y2="155.50" stroke="#bebebe" stroke-width="0.33"/>
<line x1="394.15" y1="176.40" x2="400.80" y2="159.20" stroke="#bebebe" stroke-width="0.33"/>
<line x1="394.15" y1="176.40" x2="393.00" y2="163.40" stroke="#bebebe" stroke-width="0.33"/>
<line x1="397.35" y1="180.60" x2="397.00" y2="173.30" stroke="#bebebe" stroke-width="0.33"/>
<line x1="397.35" y1="180.60" x2="400.80" y2="159.20" stroke="#bebebe" stroke-width="0.33"/>
<line x1="397.35" y1="180.60" x2="393.00" y2="163.40" stroke="#bebebe" stroke-width="0.33"/>
<line x1="408.65" y1="177.10" x2="397.00" y2="173.30" stroke="#bebebe" stroke-width="0.33"/>
<line x1="408.65" y1="177.10" x2="408.90" y2="155.50" stroke="#bebebe" stroke-width="0.33"/>
<line x1="408.65" y1="177.10" x2="400.80" y2="159.20" stroke="#bebebe" stroke-width="0.33"/>
<line x1="408.65" y1="177.10" x2="393.00" y2="163.40" stroke="#bebebe" stroke-width="0.33"/>
<line x1="405.55" y1="179.30" x2="397.00" y2="173.30" stroke="#bebebe" stroke-width="0.33"/>
<line x1="405.55" y1="179.30" x2="408.90" y2="155.50" stroke="#bebebe" stroke-width="0.33"/>
<line x1="405.55" y1="179.30" x2="400.80" y2="159.20" stroke="#bebebe" stroke-width="0.33"/>
<line x1="405.55" y1="179.30" x2="393.00" y2="163.40" stroke="#bebebe" stroke-width="0.33"/>
<line x1="407.55" y1="183.00" x2="397.00" y2="173.30" stroke="#bebebe" stroke-width="0.33"/>
<line x1="407.55" y1="183.00" x2="400.80" y2="159.20" stroke="#bebebe" stroke-width="0.33"/>
<line x1="407.55" y1="183.00" x2="393.00" y2="163.40" stroke="#bebebe" stroke-width="0.33"/>
<line x1="416.45" y1="184.90" x2="397.00" y2="173.30" stroke="#bebebe" stroke-width="0.33"/>
<line x1="416.45" y1="184.90" x2="437.10" y2="175.40" stroke="#bebebe" stroke-width="0.33"/>
<circle cx="415.4" cy="65.4" r="1.6" fill="#7cc45a" stroke="#555" stroke-width="0.2"/>
<circle cx="405.1" cy="70.0" r="1.05" fill="#1f68a8" stroke="#1a5080" stroke-width="0.2"/>
<circle cx="408.2" cy="68.4" r="1.05" fill="#1f68a8" stroke="#1a5080" stroke-width="0.2"/>
<circle cx="399.9" cy="72.2" r="1.05" fill="#1f68a8" stroke="#1a5080" stroke-width="0.2"/>
<circle cx="417.6" cy="71.7" r="1.05" fill="#1f68a8" stroke="#1a5080" stroke-width="0.2"/>
<circle cx="394.6" cy="76.0" r="1.05" fill="#1f68a8" stroke="#1a5080" stroke-width="0.2"/>
<circle cx="406.1" cy="77.7" r="1.05" fill="#1f68a8" stroke="#1a5080" stroke-width="0.2"/>
<circle cx="391.1" cy="79.8" r="1.05" fill="#1f68a8" stroke="#1a5080" stroke-width="0.2"/>
<circle cx="383.9" cy="82.8" r="1.05" fill="#1f68a8" stroke="#1a5080" stroke-width="0.2"/>
<circle cx="398.8" cy="82.6" r="1.05" fill="#1f68a8" stroke="#1a5080" stroke-width="0.2"/>
<circle cx="404.4" cy="82.0" r="1.05" fill="#1f68a8" stroke="#1a5080" stroke-width="0.2"/>
<circle cx="417.6" cy="79.3" r="1.05" fill="#1f68a8" stroke="#1a5080" stroke-width="0.2"/>
<circle cx="375.9" cy="84.7" r="1.6" fill="#e8e048" stroke="#555" stroke-width="0.2"/>
<circle cx="399.9" cy="86.1" r="1.05" fill="#1f68a8" stroke="#1a5080" stroke-width="0.2"/>
<circle cx="406.9" cy="86.4" r="1.05" fill="#1f68a8" stroke="#1a5080" stroke-width="0.2"/>
<circle cx="413.1" cy="85.8" r="1.6" fill="#f0963a" stroke="#555" stroke-width="0.2"/>
<circle cx="387.2" cy="86.9" r="1.6" fill="#e8e048" stroke="#555" stroke-width="0.2"/>
<circle cx="380.8" cy="87.5" r="1.05" fill="#1f68a8" stroke="#1a5080" stroke-width="0.2"/>
<circle cx="374.8" cy="88.9" r="1.6" fill="#3aa860" stroke="#555" stroke-width="0.2"/>
<circle cx="370.4" cy="90.2" r="1.6" fill="#e8e048" stroke="#555" stroke-width="0.2"/>
<circle cx="396.2" cy="90.0" r="1.6" fill="#c8dc50" stroke="#555" stroke-width="0.2"/>
<circle cx="416.4" cy="89.7" r="1.05" fill="#1f68a8" stroke="#1a5080" stroke-width="0.2"/>
<circle cx="384.9" cy="95.4" r="1.6" fill="#e8e048" stroke="#555" stroke-width="0.2"/>
<circle cx="405.8" cy="91.8" r="1.05" fill="#1f68a8" stroke="#1a5080" stroke-width="0.2"/>
<circle cx="408.2" cy="95.7" r="1.05" fill="#1f68a8" stroke="#1a5080" stroke-width="0.2"/>
<circle cx="413.8" cy="92.9" r="1.05" fill="#1f68a8" stroke="#1a5080" stroke-width="0.2"/>
<circle cx="390.9" cy="97.8" r="1.6" fill="#c8dc50" stroke="#555" stroke-width="0.2"/>
<circle cx="402.1" cy="98.7" r="1.6" fill="#7cc45a" stroke="#555" stroke-width="0.2"/>
<circle cx="374.2" cy="97.3" r="1.05" fill="#1f68a8" stroke="#1a5080" stroke-width="0.2"/>
<circle cx="370.6" cy="100.6" r="1.6" fill="#f0963a" stroke="#555" stroke-width="0.2"/>
<circle cx="413.8" cy="100.2" r="1.6" fill="#c8dc50" stroke="#555" stroke-width="0.2"/>
<circle cx="390.2" cy="103.1" r="1.05" fill="#1f68a8" stroke="#1a5080" stroke-width="0.2"/>
<circle cx="408.9" cy="103.3" r="1.05" fill="#1f68a8" stroke="#1a5080" stroke-width="0.2"/>
<circle cx="379.9" cy="105.5" r="1.05" fill="#1f68a8" stroke="#1a5080" stroke-width="0.2"/>
<circle cx="388.1" cy="107.1" r="1.05" fill="#1f68a8" stroke="#1a5080" stroke-width="0.2"/>
<circle cx="373.9" cy="107.7" r="1.05" fill="#1f68a8" stroke="#1a5080" stroke-width="0.2"/>
<circle cx="371.6" cy="110.1" r="1.6" fill="#e8e048" stroke="#555" stroke-width="0.2"/>
<circle cx="383.8" cy="108.7" r="1.05" fill="#1f68a8" stroke="#1a5080" stroke-width="0.2"/>
<circle cx="408.2" cy="109.3" r="1.6" fill="#3aa860" stroke="#555" stroke-width="0.2"/>
<circle cx="414.2" cy="107.7" r="1.6" fill="#f0963a" stroke="#555" stroke-width="0.2"/>
<circle cx="389.4" cy="112.0" r="1.05" fill="#1f68a8" stroke="#1a5080" stroke-width="0.2"/>
<circle cx="377.4" cy="111.8" r="1.05" fill="#1f68a8" stroke="#1a5080" stroke-width="0.2"/>
<circle cx="405.6" cy="113.1" r="1.05" fill="#1f68a8" stroke="#1a5080" stroke-width="0.2"/>
<circle cx="416.4" cy="112.0" r="1.6" fill="#e8e048" stroke="#555" stroke-width="0.2"/>
<circle cx="442.1" cy="34.6" r="1.05" fill="#1f68a8" stroke="#1a5080" stroke-width="0.2"/>
<circle cx="443.9" cy="37.5" r="1.05" fill="#1f68a8" stroke="#1a5080" stroke-width="0.2"/>
<circle cx="437.8" cy="50.9" r="1.05" fill="#1f68a8" stroke="#1a5080" stroke-width="0.2"/>
<circle cx="444.9" cy="47.1" r="0.95" fill="#1f68a8" stroke="#1a5080" stroke-width="0.2"/>
<circle cx="447.2" cy="48.4" r="0.95" fill="#1f68a8" stroke="#1a5080" stroke-width="0.2"/>
<circle cx="449.8" cy="47.3" r="0.95" fill="#1f68a8" stroke="#1a5080" stroke-width="0.2"/>
<circle cx="451.4" cy="49.3" r="0.95" fill="#1f68a8" stroke="#1a5080" stroke-width="0.2"/>
<circle cx="454.1" cy="48.4" r="0.95" fill="#1f68a8" stroke="#1a5080" stroke-width="0.2"/>
<circle cx="456.9" cy="47.7" r="0.95" fill="#1f68a8" stroke="#1a5080" stroke-width="0.2"/>
<circle cx="444.2" cy="50.4" r="0.95" fill="#1f68a8" stroke="#1a5080" stroke-width="0.2"/>
<circle cx="446.8" cy="50.9" r="0.95" fill="#1f68a8" stroke="#1a5080" stroke-width="0.2"/>
<circle cx="449.4" cy="50.4" r="0.95" fill="#1f68a8" stroke="#1a5080" stroke-width="0.2"/>
<circle cx="451.9" cy="52.0" r="0.95" fill="#1f68a8" stroke="#1a5080" stroke-width="0.2"/>
<circle cx="454.6" cy="50.9" r="0.95" fill="#1f68a8" stroke="#1a5080" stroke-width="0.2"/>
<circle cx="442.1" cy="52.6" r="0.95" fill="#1f68a8" stroke="#1a5080" stroke-width="0.2"/>
<circle cx="445.9" cy="53.4" r="0.95" fill="#1f68a8" stroke="#1a5080" stroke-width="0.2"/>
<circle cx="450.2" cy="52.8" r="0.95" fill="#1f68a8" stroke="#1a5080" stroke-width="0.2"/>
<circle cx="452.6" cy="53.7" r="0.95" fill="#1f68a8" stroke="#1a5080" stroke-width="0.2"/>
<circle cx="455.8" cy="52.8" r="0.95" fill="#1f68a8" stroke="#1a5080" stroke-width="0.2"/>
<circle cx="457.4" cy="50.2" r="0.95" fill="#1f68a8" stroke="#1a5080" stroke-width="0.2"/>
<circle cx="454.1" cy="57.5" r="1.05" fill="#1f68a8" stroke="#1a5080" stroke-width="0.2"/>
<circle cx="451.4" cy="61.8" r="1.05" fill="#1f68a8" stroke="#1a5080" stroke-width="0.2"/>
<circle cx="423.6" cy="61.8" r="1.05" fill="#1f68a8" stroke="#1a5080" stroke-width="0.2"/>
<circle cx="436.9" cy="60.4" r="1.05" fill="#1f68a8" stroke="#1a5080" stroke-width="0.2"/>
<circle cx="430.6" cy="60.2" r="0.95" fill="#1f68a8" stroke="#1a5080" stroke-width="0.2"/>
<circle cx="432.9" cy="59.1" r="0.95" fill="#1f68a8" stroke="#1a5080" stroke-width="0.2"/>
<circle cx="444.2" cy="65.4" r="1.05" fill="#1f68a8" stroke="#1a5080" stroke-width="0.2"/>
<circle cx="441.6" cy="67.8" r="1.05" fill="#1f68a8" stroke="#1a5080" stroke-width="0.2"/>
<circle cx="438.2" cy="65.4" r="0.95" fill="#1f68a8" stroke="#1a5080" stroke-width="0.2"/>
<circle cx="439.4" cy="67.8" r="0.95" fill="#1f68a8" stroke="#1a5080" stroke-width="0.2"/>
<circle cx="428.4" cy="66.7" r="1.05" fill="#1f68a8" stroke="#1a5080" stroke-width="0.2"/>
<circle cx="452.4" cy="71.7" r="1.05" fill="#1f68a8" stroke="#1a5080" stroke-width="0.2"/>
<circle cx="433.1" cy="71.1" r="0.95" fill="#1f68a8" stroke="#1a5080" stroke-width="0.2"/>
<circle cx="436.6" cy="72.0" r="1.05" fill="#1f68a8" stroke="#1a5080" stroke-width="0.2"/>
<circle cx="430.6" cy="72.7" r="0.95" fill="#1f68a8" stroke="#1a5080" stroke-width="0.2"/>
<circle cx="436.1" cy="74.9" r="0.95" fill="#1f68a8" stroke="#1a5080" stroke-width="0.2"/>
<circle cx="430.1" cy="78.2" r="1.05" fill="#1f68a8" stroke="#1a5080" stroke-width="0.2"/>
<circle cx="425.8" cy="80.1" r="1.05" fill="#1f68a8" stroke="#1a5080" stroke-width="0.2"/>
<circle cx="435.2" cy="81.5" r="0.95" fill="#1f68a8" stroke="#1a5080" stroke-width="0.2"/>
<circle cx="445.9" cy="81.5" r="1.05" fill="#1f68a8" stroke="#1a5080" stroke-width="0.2"/>
<circle cx="450.2" cy="81.8" r="1.05" fill="#1f68a8" stroke="#1a5080" stroke-width="0.2"/>
<circle cx="457.4" cy="78.2" r="1.05" fill="#1f68a8" stroke="#1a5080" stroke-width="0.2"/>
<circle cx="457.4" cy="81.5" r="0.95" fill="#1f68a8" stroke="#1a5080" stroke-width="0.2"/>
<circle cx="462.2" cy="81.5" r="1.05" fill="#1f68a8" stroke="#1a5080" stroke-width="0.2"/>
<circle cx="466.1" cy="78.2" r="1.05" fill="#1f68a8" stroke="#1a5080" stroke-width="0.2"/>
<circle cx="423.9" cy="88.0" r="1.05" fill="#1f68a8" stroke="#1a5080" stroke-width="0.2"/>
<circle cx="436.1" cy="88.6" r="1.05" fill="#1f68a8" stroke="#1a5080" stroke-width="0.2"/>
<circle cx="442.1" cy="86.6" r="1.05" fill="#1f68a8" stroke="#1a5080" stroke-width="0.2"/>
<circle cx="453.8" cy="84.7" r="1.05" fill="#1f68a8" stroke="#1a5080" stroke-width="0.2"/>
<circle cx="446.8" cy="90.2" r="1.05" fill="#1f68a8" stroke="#1a5080" stroke-width="0.2"/>
<circle cx="455.9" cy="89.9" r="1.05" fill="#1f68a8" stroke="#1a5080" stroke-width="0.2"/>
<circle cx="465.8" cy="85.8" r="1.05" fill="#1f68a8" stroke="#1a5080" stroke-width="0.2"/>
<circle cx="470.8" cy="86.9" r="1.05" fill="#1f68a8" stroke="#1a5080" stroke-width="0.2"/>
<circle cx="425.8" cy="93.1" r="1.05" fill="#1f68a8" stroke="#1a5080" stroke-width="0.2"/>
<circle cx="459.9" cy="92.9" r="1.05" fill="#1f68a8" stroke="#1a5080" stroke-width="0.2"/>
<circle cx="463.6" cy="92.9" r="1.05" fill="#1f68a8" stroke="#1a5080" stroke-width="0.2"/>
<circle cx="468.6" cy="92.1" r="1.05" fill="#1f68a8" stroke="#1a5080" stroke-width="0.2"/>
<circle cx="430.1" cy="96.0" r="1.05" fill="#1f68a8" stroke="#1a5080" stroke-width="0.2"/>
<circle cx="440.4" cy="96.7" r="1.6" fill="#c8dc50" stroke="#555" stroke-width="0.2"/>
<circle cx="451.4" cy="95.3" r="1.05" fill="#1f68a8" stroke="#1a5080" stroke-width="0.2"/>
<circle cx="473.8" cy="97.5" r="1.05" fill="#1f68a8" stroke="#1a5080" stroke-width="0.2"/>
<circle cx="433.9" cy="98.4" r="1.05" fill="#1f68a8" stroke="#1a5080" stroke-width="0.2"/>
<circle cx="430.1" cy="100.8" r="1.6" fill="#f0963a" stroke="#555" stroke-width="0.2"/>
<circle cx="448.1" cy="101.7" r="1.6" fill="#e8e048" stroke="#555" stroke-width="0.2"/>
<circle cx="462.9" cy="100.0" r="1.05" fill="#1f68a8" stroke="#1a5080" stroke-width="0.2"/>
<circle cx="465.8" cy="101.1" r="1.05" fill="#1f68a8" stroke="#1a5080" stroke-width="0.2"/>
<circle cx="455.8" cy="103.3" r="1.05" fill="#1f68a8" stroke="#1a5080" stroke-width="0.2"/>
<circle cx="460.6" cy="103.8" r="1.05" fill="#1f68a8" stroke="#1a5080" stroke-width="0.2"/>
<circle cx="470.1" cy="103.6" r="1.05" fill="#1f68a8" stroke="#1a5080" stroke-width="0.2"/>
<circle cx="437.4" cy="106.6" r="1.6" fill="#7cc45a" stroke="#555" stroke-width="0.2"/>
<circle cx="451.4" cy="104.9" r="1.05" fill="#1f68a8" stroke="#1a5080" stroke-width="0.2"/>
<circle cx="476.6" cy="107.1" r="1.05" fill="#1f68a8" stroke="#1a5080" stroke-width="0.2"/>
<circle cx="424.4" cy="109.3" r="1.9" fill="#e34a33" stroke="#555" stroke-width="0.2"/>
<circle cx="433.4" cy="109.5" r="1.05" fill="#1f68a8" stroke="#1a5080" stroke-width="0.2"/>
<circle cx="456.2" cy="112.0" r="1.05" fill="#1f68a8" stroke="#1a5080" stroke-width="0.2"/>
<circle cx="468.2" cy="112.0" r="1.05" fill="#1f68a8" stroke="#1a5080" stroke-width="0.2"/>
<circle cx="470.5" cy="113.4" r="1.05" fill="#1f68a8" stroke="#1a5080" stroke-width="0.2"/>
<circle cx="472.1" cy="114.2" r="1.05" fill="#1f68a8" stroke="#1a5080" stroke-width="0.2"/>
<circle cx="476.0" cy="113.1" r="1.05" fill="#1f68a8" stroke="#1a5080" stroke-width="0.2"/>
<circle cx="459.1" cy="115.1" r="1.05" fill="#1f68a8" stroke="#1a5080" stroke-width="0.2"/>
<circle cx="442.1" cy="114.2" r="1.6" fill="#3aa860" stroke="#555" stroke-width="0.2"/>
<circle cx="432.2" cy="116.2" r="1.6" fill="#c8dc50" stroke="#555" stroke-width="0.2"/>
<circle cx="436.6" cy="117.5" r="1.05" fill="#1f68a8" stroke="#1a5080" stroke-width="0.2"/>
<circle cx="419.1" cy="116.7" r="1.6" fill="#e8e048" stroke="#555" stroke-width="0.2"/>
<circle cx="454.9" cy="119.7" r="1.6" fill="#e8e048" stroke="#555" stroke-width="0.2"/>
<circle cx="462.2" cy="121.3" r="1.6" fill="#7cc45a" stroke="#555" stroke-width="0.2"/>
<circle cx="445.9" cy="121.3" r="1.6" fill="#7cc45a" stroke="#555" stroke-width="0.2"/>
<circle cx="427.4" cy="119.1" r="1.05" fill="#1f68a8" stroke="#1a5080" stroke-width="0.2"/>
<circle cx="425.1" cy="120.7" r="1.6" fill="#e8e048" stroke="#555" stroke-width="0.2"/>
<circle cx="427.4" cy="121.8" r="1.05" fill="#1f68a8" stroke="#1a5080" stroke-width="0.2"/>
<circle cx="478.1" cy="122.6" r="1.05" fill="#1f68a8" stroke="#1a5080" stroke-width="0.2"/>
<circle cx="432.9" cy="123.3" r="1.6" fill="#f0963a" stroke="#555" stroke-width="0.2"/>
<circle cx="456.9" cy="126.2" r="1.05" fill="#1f68a8" stroke="#1a5080" stroke-width="0.2"/>
<circle cx="465.6" cy="125.9" r="1.05" fill="#1f68a8" stroke="#1a5080" stroke-width="0.2"/>
<circle cx="441.1" cy="125.1" r="1.6" fill="#7cc45a" stroke="#555" stroke-width="0.2"/>
<circle cx="442.6" cy="127.8" r="1.6" fill="#e8e048" stroke="#555" stroke-width="0.2"/>
<circle cx="449.8" cy="127.6" r="1.6" fill="#c8dc50" stroke="#555" stroke-width="0.2"/>
<circle cx="474.2" cy="127.3" r="1.05" fill="#1f68a8" stroke="#1a5080" stroke-width="0.2"/>
<circle cx="421.9" cy="127.6" r="1.6" fill="#7cc45a" stroke="#555" stroke-width="0.2"/>
<circle cx="423.6" cy="132.2" r="1.05" fill="#1f68a8" stroke="#1a5080" stroke-width="0.2"/>
<circle cx="431.8" cy="131.7" r="1.6" fill="#f0963a" stroke="#555" stroke-width="0.2"/>
<circle cx="438.6" cy="131.7" r="1.05" fill="#1f68a8" stroke="#1a5080" stroke-width="0.2"/>
<circle cx="448.6" cy="132.2" r="1.05" fill="#1f68a8" stroke="#1a5080" stroke-width="0.2"/>
<circle cx="459.6" cy="133.1" r="1.6" fill="#3a9aa0" stroke="#555" stroke-width="0.2"/>
<circle cx="476.5" cy="131.1" r="1.05" fill="#1f68a8" stroke="#1a5080" stroke-width="0.2"/>
<circle cx="467.1" cy="134.6" r="1.6" fill="#3a9aa0" stroke="#555" stroke-width="0.2"/>
<circle cx="439.4" cy="143.1" r="1.05" fill="#1f68a8" stroke="#1a5080" stroke-width="0.2"/>
<circle cx="444.9" cy="142.6" r="1.05" fill="#1f68a8" stroke="#1a5080" stroke-width="0.2"/>
<circle cx="448.1" cy="143.1" r="1.05" fill="#1f68a8" stroke="#1a5080" stroke-width="0.2"/>
<circle cx="458.4" cy="142.6" r="1.05" fill="#1f68a8" stroke="#1a5080" stroke-width="0.2"/>
<circle cx="467.6" cy="140.9" r="1.05" fill="#1f68a8" stroke="#1a5080" stroke-width="0.2"/>
<circle cx="379.4" cy="116.4" r="1.05" fill="#1f68a8" stroke="#1a5080" stroke-width="0.2"/>
<circle cx="395.1" cy="115.1" r="1.05" fill="#1f68a8" stroke="#1a5080" stroke-width="0.2"/>
<circle cx="400.1" cy="114.7" r="1.05" fill="#1f68a8" stroke="#1a5080" stroke-width="0.2"/>
<circle cx="411.1" cy="117.7" r="1.05" fill="#1f68a8" stroke="#1a5080" stroke-width="0.2"/>
<circle cx="371.8" cy="123.5" r="1.6" fill="#e8e048" stroke="#555" stroke-width="0.2"/>
<circle cx="390.2" cy="123.8" r="1.05" fill="#1f68a8" stroke="#1a5080" stroke-width="0.2"/>
<circle cx="400.4" cy="121.6" r="1.05" fill="#1f68a8" stroke="#1a5080" stroke-width="0.2"/>
<circle cx="405.1" cy="121.8" r="1.05" fill="#1f68a8" stroke="#1a5080" stroke-width="0.2"/>
<circle cx="387.9" cy="127.5" r="1.05" fill="#1f68a8" stroke="#1a5080" stroke-width="0.2"/>
<circle cx="386.8" cy="128.9" r="1.05" fill="#1f68a8" stroke="#1a5080" stroke-width="0.2"/>
<circle cx="391.6" cy="127.5" r="1.05" fill="#1f68a8" stroke="#1a5080" stroke-width="0.2"/>
<circle cx="397.9" cy="127.5" r="1.05" fill="#1f68a8" stroke="#1a5080" stroke-width="0.2"/>
<circle cx="378.2" cy="131.1" r="1.05" fill="#1f68a8" stroke="#1a5080" stroke-width="0.2"/>
<circle cx="383.8" cy="132.7" r="1.05" fill="#1f68a8" stroke="#1a5080" stroke-width="0.2"/>
<circle cx="391.4" cy="131.7" r="1.05" fill="#1f68a8" stroke="#1a5080" stroke-width="0.2"/>
<circle cx="372.6" cy="136.6" r="0.95" fill="#1f68a8" stroke="#1a5080" stroke-width="0.2"/>
<circle cx="374.1" cy="137.7" r="0.95" fill="#1f68a8" stroke="#1a5080" stroke-width="0.2"/>
<circle cx="406.4" cy="150.2" r="1.05" fill="#1f68a8" stroke="#1a5080" stroke-width="0.2"/>
<circle cx="403.8" cy="153.3" r="1.05" fill="#1f68a8" stroke="#1a5080" stroke-width="0.2"/>
<circle cx="398.1" cy="154.3" r="1.05" fill="#1f68a8" stroke="#1a5080" stroke-width="0.2"/>
<circle cx="411.1" cy="155.1" r="1.05" fill="#1f68a8" stroke="#1a5080" stroke-width="0.2"/>
<circle cx="395.8" cy="157.3" r="1.05" fill="#1f68a8" stroke="#1a5080" stroke-width="0.2"/>
<circle cx="403.4" cy="158.9" r="1.05" fill="#1f68a8" stroke="#1a5080" stroke-width="0.2"/>
<circle cx="395.1" cy="163.1" r="1.05" fill="#1f68a8" stroke="#1a5080" stroke-width="0.2"/>
<circle cx="411.1" cy="161.7" r="1.05" fill="#1f68a8" stroke="#1a5080" stroke-width="0.2"/>
<circle cx="409.4" cy="163.8" r="1.05" fill="#1f68a8" stroke="#1a5080" stroke-width="0.2"/>
<circle cx="407.8" cy="165.7" r="1.05" fill="#1f68a8" stroke="#1a5080" stroke-width="0.2"/>
<circle cx="411.2" cy="165.5" r="1.05" fill="#1f68a8" stroke="#1a5080" stroke-width="0.2"/>
<circle cx="389.8" cy="167.7" r="1.05" fill="#1f68a8" stroke="#1a5080" stroke-width="0.2"/>
<circle cx="402.9" cy="168.7" r="1.05" fill="#1f68a8" stroke="#1a5080" stroke-width="0.2"/>
<circle cx="394.6" cy="169.3" r="1.05" fill="#1f68a8" stroke="#1a5080" stroke-width="0.2"/>
<circle cx="417.6" cy="170.1" r="1.05" fill="#1f68a8" stroke="#1a5080" stroke-width="0.2"/>
<circle cx="447.6" cy="147.7" r="1.05" fill="#1f68a8" stroke="#1a5080" stroke-width="0.2"/>
<circle cx="457.1" cy="148.0" r="1.05" fill="#1f68a8" stroke="#1a5080" stroke-width="0.2"/>
<circle cx="460.6" cy="149.1" r="1.05" fill="#1f68a8" stroke="#1a5080" stroke-width="0.2"/>
<circle cx="467.6" cy="148.3" r="1.05" fill="#1f68a8" stroke="#1a5080" stroke-width="0.2"/>
<circle cx="476.5" cy="148.6" r="1.05" fill="#1f68a8" stroke="#1a5080" stroke-width="0.2"/>
<circle cx="474.2" cy="144.4" r="1.05" fill="#1f68a8" stroke="#1a5080" stroke-width="0.2"/>
<circle cx="422.4" cy="151.0" r="1.05" fill="#1f68a8" stroke="#1a5080" stroke-width="0.2"/>
<circle cx="457.4" cy="152.4" r="1.05" fill="#1f68a8" stroke="#1a5080" stroke-width="0.2"/>
<circle cx="463.4" cy="153.1" r="1.05" fill="#1f68a8" stroke="#1a5080" stroke-width="0.2"/>
<circle cx="419.6" cy="155.7" r="1.05" fill="#1f68a8" stroke="#1a5080" stroke-width="0.2"/>
<circle cx="429.6" cy="155.1" r="1.6" fill="#3a9aa0" stroke="#555" stroke-width="0.2"/>
<circle cx="438.6" cy="154.9" r="1.05" fill="#1f68a8" stroke="#1a5080" stroke-width="0.2"/>
<circle cx="459.1" cy="155.7" r="1.05" fill="#1f68a8" stroke="#1a5080" stroke-width="0.2"/>
<circle cx="465.6" cy="156.4" r="1.05" fill="#1f68a8" stroke="#1a5080" stroke-width="0.2"/>
<circle cx="473.1" cy="157.1" r="1.05" fill="#1f68a8" stroke="#1a5080" stroke-width="0.2"/>
<circle cx="433.9" cy="158.4" r="1.05" fill="#1f68a8" stroke="#1a5080" stroke-width="0.2"/>
<circle cx="437.8" cy="159.3" r="1.05" fill="#1f68a8" stroke="#1a5080" stroke-width="0.2"/>
<circle cx="449.4" cy="159.3" r="1.05" fill="#1f68a8" stroke="#1a5080" stroke-width="0.2"/>
<circle cx="455.1" cy="160.3" r="1.05" fill="#1f68a8" stroke="#1a5080" stroke-width="0.2"/>
<circle cx="423.9" cy="164.4" r="1.05" fill="#1f68a8" stroke="#1a5080" stroke-width="0.2"/>
<circle cx="474.9" cy="164.4" r="1.05" fill="#1f68a8" stroke="#1a5080" stroke-width="0.2"/>
<circle cx="430.4" cy="165.8" r="1.05" fill="#1f68a8" stroke="#1a5080" stroke-width="0.2"/>
<circle cx="443.1" cy="167.1" r="1.05" fill="#1f68a8" stroke="#1a5080" stroke-width="0.2"/>
<circle cx="447.9" cy="167.3" r="1.05" fill="#1f68a8" stroke="#1a5080" stroke-width="0.2"/>
<circle cx="471.6" cy="167.1" r="1.05" fill="#1f68a8" stroke="#1a5080" stroke-width="0.2"/>
<circle cx="427.1" cy="169.1" r="1.05" fill="#1f68a8" stroke="#1a5080" stroke-width="0.2"/>
<circle cx="458.4" cy="170.4" r="1.05" fill="#1f68a8" stroke="#1a5080" stroke-width="0.2"/>
<circle cx="465.1" cy="170.6" r="1.05" fill="#1f68a8" stroke="#1a5080" stroke-width="0.2"/>
<circle cx="431.8" cy="172.3" r="1.05" fill="#1f68a8" stroke="#1a5080" stroke-width="0.2"/>
<circle cx="438.1" cy="170.9" r="1.6" fill="#e8e048" stroke="#555" stroke-width="0.2"/>
<circle cx="447.6" cy="172.0" r="1.05" fill="#1f68a8" stroke="#1a5080" stroke-width="0.2"/>
<circle cx="453.4" cy="173.1" r="1.05" fill="#1f68a8" stroke="#1a5080" stroke-width="0.2"/>
<circle cx="478.1" cy="173.1" r="1.05" fill="#1f68a8" stroke="#1a5080" stroke-width="0.2"/>
<circle cx="421.8" cy="173.4" r="2.0" fill="#d7191c" stroke="#8a1010" stroke-width="0.3"/>
<circle cx="468.2" cy="175.3" r="1.05" fill="#1f68a8" stroke="#1a5080" stroke-width="0.2"/>
<circle cx="426.9" cy="176.7" r="1.6" fill="#f0963a" stroke="#555" stroke-width="0.2"/>
<circle cx="432.6" cy="177.5" r="1.6" fill="#e8e048" stroke="#555" stroke-width="0.2"/>
<circle cx="445.9" cy="177.5" r="1.05" fill="#1f68a8" stroke="#1a5080" stroke-width="0.2"/>
<circle cx="420.2" cy="178.2" r="2.0" fill="#d7191c" stroke="#8a1010" stroke-width="0.3"/>
<circle cx="454.6" cy="178.9" r="1.05" fill="#1f68a8" stroke="#1a5080" stroke-width="0.2"/>
<circle cx="473.0" cy="179.3" r="1.05" fill="#1f68a8" stroke="#1a5080" stroke-width="0.2"/>
<circle cx="436.4" cy="179.7" r="1.05" fill="#1f68a8" stroke="#1a5080" stroke-width="0.2"/>
<circle cx="459.6" cy="181.1" r="1.05" fill="#1f68a8" stroke="#1a5080" stroke-width="0.2"/>
<circle cx="432.6" cy="181.8" r="2.0" fill="#d7191c" stroke="#8a1010" stroke-width="0.3"/>
<circle cx="429.1" cy="182.6" r="2.0" fill="#d7191c" stroke="#8a1010" stroke-width="0.3"/>
<circle cx="443.8" cy="181.8" r="1.05" fill="#1f68a8" stroke="#1a5080" stroke-width="0.2"/>
<circle cx="452.4" cy="181.8" r="1.05" fill="#1f68a8" stroke="#1a5080" stroke-width="0.2"/>
<circle cx="419.6" cy="182.9" r="2.0" fill="#d7191c" stroke="#8a1010" stroke-width="0.3"/>
<circle cx="470.1" cy="183.3" r="1.05" fill="#1f68a8" stroke="#1a5080" stroke-width="0.2"/>
<circle cx="466.1" cy="184.8" r="1.05" fill="#1f68a8" stroke="#1a5080" stroke-width="0.2"/>
<circle cx="436.6" cy="185.7" r="2.0" fill="#d7191c" stroke="#8a1010" stroke-width="0.3"/>
<circle cx="424.9" cy="186.2" r="2.0" fill="#d7191c" stroke="#8a1010" stroke-width="0.3"/>
<circle cx="432.6" cy="186.7" r="2.0" fill="#d7191c" stroke="#8a1010" stroke-width="0.3"/>
<circle cx="451.1" cy="187.6" r="1.05" fill="#1f68a8" stroke="#1a5080" stroke-width="0.2"/>
<circle cx="454.6" cy="187.3" r="1.05" fill="#1f68a8" stroke="#1a5080" stroke-width="0.2"/>
<circle cx="440.4" cy="188.4" r="1.6" fill="#c8dc50" stroke="#555" stroke-width="0.2"/>
<circle cx="471.1" cy="189.5" r="1.05" fill="#1f68a8" stroke="#1a5080" stroke-width="0.2"/>
<circle cx="463.1" cy="189.5" r="1.05" fill="#1f68a8" stroke="#1a5080" stroke-width="0.2"/>
<circle cx="458.4" cy="191.1" r="1.05" fill="#1f68a8" stroke="#1a5080" stroke-width="0.2"/>
<circle cx="475.1" cy="194.2" r="1.05" fill="#1f68a8" stroke="#1a5080" stroke-width="0.2"/>
<circle cx="485.0" cy="114.3" r="1.05" fill="#1f68a8" stroke="#1a5080" stroke-width="0.2"/>
<circle cx="486.4" cy="118.4" r="1.05" fill="#1f68a8" stroke="#1a5080" stroke-width="0.2"/>
<circle cx="484.6" cy="122.5" r="1.05" fill="#1f68a8" stroke="#1a5080" stroke-width="0.2"/>
<circle cx="490.5" cy="124.9" r="1.6" fill="#e8e048" stroke="#555" stroke-width="0.2"/>
<circle cx="483.2" cy="128.3" r="1.6" fill="#c8dc50" stroke="#555" stroke-width="0.2"/>
<circle cx="491.0" cy="132.6" r="1.6" fill="#c8dc50" stroke="#555" stroke-width="0.2"/>
<circle cx="482.1" cy="134.7" r="1.05" fill="#1f68a8" stroke="#1a5080" stroke-width="0.2"/>
<circle cx="482.5" cy="141.8" r="1.05" fill="#1f68a8" stroke="#1a5080" stroke-width="0.2"/>
<circle cx="486.9" cy="145.1" r="1.05" fill="#1f68a8" stroke="#1a5080" stroke-width="0.2"/>
<circle cx="486.2" cy="150.1" r="1.05" fill="#1f68a8" stroke="#1a5080" stroke-width="0.2"/>
<circle cx="484.1" cy="156.4" r="1.05" fill="#1f68a8" stroke="#1a5080" stroke-width="0.2"/>
<circle cx="481.1" cy="161.0" r="1.05" fill="#1f68a8" stroke="#1a5080" stroke-width="0.2"/>
<circle cx="479.8" cy="168.8" r="1.05" fill="#1f68a8" stroke="#1a5080" stroke-width="0.2"/>
<circle cx="478.8" cy="173.1" r="1.05" fill="#1f68a8" stroke="#1a5080" stroke-width="0.2"/>
<circle cx="484.1" cy="176.6" r="1.05" fill="#1f68a8" stroke="#1a5080" stroke-width="0.2"/>
<circle cx="481.9" cy="183.1" r="1.05" fill="#1f68a8" stroke="#1a5080" stroke-width="0.2"/>
<circle cx="481.5" cy="193.4" r="1.05" fill="#1f68a8" stroke="#1a5080" stroke-width="0.2"/>
<circle cx="394.1" cy="176.4" r="1.05" fill="#1f68a8" stroke="#1a5080" stroke-width="0.2"/>
<circle cx="397.4" cy="180.6" r="1.05" fill="#1f68a8" stroke="#1a5080" stroke-width="0.2"/>
<circle cx="408.6" cy="177.1" r="1.05" fill="#1f68a8" stroke="#1a5080" stroke-width="0.2"/>
<circle cx="405.6" cy="179.3" r="2.0" fill="#d7191c" stroke="#8a1010" stroke-width="0.3"/>
<circle cx="407.6" cy="183.0" r="2.0" fill="#d7191c" stroke="#8a1010" stroke-width="0.3"/>
<circle cx="416.4" cy="184.9" r="2.0" fill="#d7191c" stroke="#8a1010" stroke-width="0.3"/>
<circle cx="437.6" cy="128.2" r="1.6" fill="#e8e048" stroke="#555" stroke-width="0.2"/>
<circle cx="421.7" cy="174.1" r="1.6" fill="#f0963a" stroke="#555" stroke-width="0.2"/>
<circle cx="436.7" cy="186.2" r="1.6" fill="#7cc45a" stroke="#555" stroke-width="0.2"/>
<rect x="425.75" y="45.55" width="2.30" height="2.30" fill="#ec74c4" stroke="#8a4070" stroke-width="0.4"/>
<rect x="430.65" y="62.45" width="2.30" height="2.30" fill="#ec74c4" stroke="#8a4070" stroke-width="0.4"/>
<rect x="453.05" y="66.15" width="2.30" height="2.30" fill="#ec74c4" stroke="#8a4070" stroke-width="0.4"/>
<rect x="437.95" y="76.65" width="2.30" height="2.30" fill="#ec74c4" stroke="#8a4070" stroke-width="0.4"/>
<rect x="460.65" y="76.15" width="2.30" height="2.30" fill="#ec74c4" stroke="#8a4070" stroke-width="0.4"/>
<rect x="464.65" y="87.05" width="2.30" height="2.30" fill="#ec74c4" stroke="#8a4070" stroke-width="0.4"/>
<rect x="442.15" y="92.15" width="2.30" height="2.30" fill="#ec74c4" stroke="#8a4070" stroke-width="0.4"/>
<rect x="445.75" y="95.75" width="2.30" height="2.30" fill="#ec74c4" stroke="#8a4070" stroke-width="0.4"/>
<rect x="432.15" y="103.05" width="2.30" height="2.30" fill="#ec74c4" stroke="#8a4070" stroke-width="0.4"/>
<rect x="471.25" y="105.75" width="2.30" height="2.30" fill="#ec74c4" stroke="#8a4070" stroke-width="0.4"/>
<rect x="399.05" y="89.95" width="2.30" height="2.30" fill="#ec74c4" stroke="#8a4070" stroke-width="0.4"/>
<rect x="407.05" y="80.25" width="2.30" height="2.30" fill="#ec74c4" stroke="#8a4070" stroke-width="0.4"/>
<rect x="412.55" y="101.85" width="2.30" height="2.30" fill="#ec74c4" stroke="#8a4070" stroke-width="0.4"/>
<rect x="375.75" y="92.85" width="2.30" height="2.30" fill="#ec74c4" stroke="#8a4070" stroke-width="0.4"/>
<rect x="391.35" y="118.55" width="2.30" height="2.30" fill="#ec74c4" stroke="#8a4070" stroke-width="0.4"/>
<rect x="395.15" y="122.35" width="2.30" height="2.30" fill="#ec74c4" stroke="#8a4070" stroke-width="0.4"/>
<rect x="382.05" y="124.15" width="2.30" height="2.30" fill="#ec74c4" stroke="#8a4070" stroke-width="0.4"/>
<rect x="401.55" y="136.05" width="2.30" height="2.30" fill="#ec74c4" stroke="#8a4070" stroke-width="0.4"/>
<rect x="455.75" y="118.25" width="2.30" height="2.30" fill="#ec74c4" stroke="#8a4070" stroke-width="0.4"/>
<rect x="474.85" y="126.15" width="2.30" height="2.30" fill="#ec74c4" stroke="#8a4070" stroke-width="0.4"/>
<rect x="483.85" y="125.55" width="2.30" height="2.30" fill="#ec74c4" stroke="#8a4070" stroke-width="0.4"/>
<rect x="375.95" y="102.75" width="2.30" height="2.30" fill="#ec74c4" stroke="#8a4070" stroke-width="0.4"/>
<rect x="395.85" y="172.15" width="2.30" height="2.30" fill="#ec74c4" stroke="#8a4070" stroke-width="0.4"/>
<rect x="435.95" y="174.25" width="2.30" height="2.30" fill="#ec74c4" stroke="#8a4070" stroke-width="0.4"/>
<rect x="441.25" y="129.65" width="2.30" height="2.30" fill="#ec74c4" stroke="#8a4070" stroke-width="0.4"/>
<rect x="428.95" y="149.35" width="2.30" height="2.30" fill="#ec74c4" stroke="#8a4070" stroke-width="0.4"/>
<rect x="461.05" y="147.25" width="2.30" height="2.30" fill="#ec74c4" stroke="#8a4070" stroke-width="0.4"/>
<rect x="468.65" y="148.25" width="2.30" height="2.30" fill="#ec74c4" stroke="#8a4070" stroke-width="0.4"/>
<rect x="479.95" y="154.65" width="2.30" height="2.30" fill="#ec74c4" stroke="#8a4070" stroke-width="0.4"/>
<rect x="441.85" y="157.25" width="2.30" height="2.30" fill="#ec74c4" stroke="#8a4070" stroke-width="0.4"/>
<rect x="481.15" y="163.55" width="2.30" height="2.30" fill="#ec74c4" stroke="#8a4070" stroke-width="0.4"/>
<rect x="443.15" y="168.05" width="2.30" height="2.30" fill="#ec74c4" stroke="#8a4070" stroke-width="0.4"/>
<rect x="457.85" y="174.05" width="2.30" height="2.30" fill="#ec74c4" stroke="#8a4070" stroke-width="0.4"/>
<rect x="466.55" y="177.85" width="2.30" height="2.30" fill="#ec74c4" stroke="#8a4070" stroke-width="0.4"/>
<rect x="474.85" y="186.95" width="2.30" height="2.30" fill="#ec74c4" stroke="#8a4070" stroke-width="0.4"/>
<rect x="474.35" y="158.65" width="2.30" height="2.30" fill="#ec74c4" stroke="#8a4070" stroke-width="0.4"/>
<rect x="407.75" y="154.35" width="2.30" height="2.30" fill="#ec74c4" stroke="#8a4070" stroke-width="0.4"/>
<rect x="399.65" y="158.05" width="2.30" height="2.30" fill="#ec74c4" stroke="#8a4070" stroke-width="0.4"/>
<rect x="391.85" y="162.25" width="2.30" height="2.30" fill="#ec74c4" stroke="#8a4070" stroke-width="0.4"/>
<rect x="463.05" y="120.85" width="2.30" height="2.30" fill="#ec74c4" stroke="#8a4070" stroke-width="0.4"/>
<rect x="443.05" y="143.25" width="2.30" height="2.30" fill="#ec74c4" stroke="#8a4070" stroke-width="0.4"/>
<defs><linearGradient id="cb" x1="0" y1="0" x2="0" y2="1"><stop offset="0" stop-color="#d73027"/><stop offset="0.15" stop-color="#f06a3f"/><stop offset="0.3" stop-color="#fba35c"/><stop offset="0.45" stop-color="#fed88a"/><stop offset="0.55" stop-color="#fdf3b0"/><stop offset="0.65" stop-color="#e4f1a5"/><stop offset="0.75" stop-color="#a8d7a0"/><stop offset="0.86" stop-color="#5fa9a6"/><stop offset="1" stop-color="#2c7bb6"/></linearGradient></defs>
<rect x="517.00" y="54.20" width="6.50" height="145.20" fill="url(#cb)"/>
<text x="516.6" y="44.5" font-size="11" font-style="italic" fill="#222">p<tspan font-size="9.5">i</tspan></text>
<text x="525.6" y="59.7" font-size="7.5" fill="#333" stroke="#333" stroke-width="0.18" font-style="italic">0</text>
<text x="525.6" y="84.2" font-size="7.5" fill="#333" stroke="#333" stroke-width="0.18" font-style="italic">0.2</text>
<text x="525.6" y="115.6" font-size="7.5" fill="#333" stroke="#333" stroke-width="0.18" font-style="italic">0.4</text>
<text x="525.6" y="142.0" font-size="7.5" fill="#333" stroke="#333" stroke-width="0.18" font-style="italic">0.6</text>
<text x="525.6" y="173.5" font-size="7.5" fill="#333" stroke="#333" stroke-width="0.18" font-style="italic">0.8</text>
<text x="525.6" y="199.5" font-size="7.5" fill="#333" stroke="#333" stroke-width="0.18" font-style="italic">1.0</text>
<path d="M28.8,288.4 L36.1,280.9" fill="none" stroke="#ededed" stroke-width="0.6" stroke-linejoin="round"/>
<path d="M63.3,244.2 L65.5,248.8" fill="none" stroke="#ededed" stroke-width="0.6" stroke-linejoin="round"/>
<path d="M62.5,242.7 L53.4,253.2 L45.8,264.7 L42.2,272.9" fill="none" stroke="#ededed" stroke-width="0.6" stroke-linejoin="round"/>
<path d="M58.7,258.6 L56.2,262.9 L52.3,274.6 L50.6,287.4" fill="none" stroke="#ededed" stroke-width="0.6" stroke-linejoin="round"/>
<path d="M56.1,261.0 L54.4,249.7" fill="none" stroke="#ededed" stroke-width="0.6" stroke-linejoin="round"/>
<path d="M24.9,345.6 L38.6,339.5 L43.5,333.3" fill="none" stroke="#ededed" stroke-width="0.6" stroke-linejoin="round"/>
<path d="M176.5,360.7 L171.2,362.8 L157.4,366.5 L150.7,369.9" fill="none" stroke="#ededed" stroke-width="0.6" stroke-linejoin="round"/>
<path d="M149.9,403.6 L144.3,396.1 L140.0,392.8" fill="none" stroke="#ededed" stroke-width="0.6" stroke-linejoin="round"/>
<path d="M129.0,239.7 L136.8,242.5 L150.3,240.8" fill="none" stroke="#ededed" stroke-width="0.6" stroke-linejoin="round"/>
<path d="M164.1,271.6 L175.7,280.2 L185.0,289.6 L190.2,298.3" fill="none" stroke="#ededed" stroke-width="0.6" stroke-linejoin="round"/>
<path d="M161.3,384.7 L169.0,378.6 L176.8,376.3" fill="none" stroke="#ededed" stroke-width="0.6" stroke-linejoin="round"/>
<path d="M160.7,343.8 L146.0,343.4 L141.3,344.7" fill="none" stroke="#ededed" stroke-width="0.6" stroke-linejoin="round"/>
<path d="M162.0,317.2 L167.1,307.2" fill="none" stroke="#ededed" stroke-width="0.6" stroke-linejoin="round"/>
<path d="M90.0,226.1 L85.2,212.9" fill="none" stroke="#ededed" stroke-width="0.6" stroke-linejoin="round"/>
<path d="M103.7,212.9 L105.2,202.4" fill="none" stroke="#ededed" stroke-width="0.6" stroke-linejoin="round"/>
<path d="M68.9,256.0 L63.6,258.8 L50.3,264.0" fill="none" stroke="#ededed" stroke-width="0.6" stroke-linejoin="round"/>
<path d="M50.0,269.3 L51.7,258.6 L51.9,252.1" fill="none" stroke="#ededed" stroke-width="0.6" stroke-linejoin="round"/>
<path d="M159.0,260.8 L163.9,261.0" fill="none" stroke="#ededed" stroke-width="0.6" stroke-linejoin="round"/>
<path d="M97.4,225.5 L99.6,238.2 L96.0,249.2" fill="none" stroke="#ededed" stroke-width="0.6" stroke-linejoin="round"/>
<path d="M69.3,387.3 L56.4,392.7 L45.1,394.0 L38.9,395.1" fill="none" stroke="#ededed" stroke-width="0.6" stroke-linejoin="round"/>
<path d="M126.6,236.6 L135.3,243.9" fill="none" stroke="#ededed" stroke-width="0.6" stroke-linejoin="round"/>
<path d="M64.7,392.4 L66.9,406.5 L73.3,416.3" fill="none" stroke="#ededed" stroke-width="0.6" stroke-linejoin="round"/>
<path d="M166.3,274.5 L163.6,278.8" fill="none" stroke="#ededed" stroke-width="0.6" stroke-linejoin="round"/>
<path d="M150.4,395.1 L151.4,406.9 L149.2,412.1 L137.9,422.4" fill="none" stroke="#ededed" stroke-width="0.6" stroke-linejoin="round"/>
<path d="M163.4,253.8 L163.9,239.1 L163.2,227.9 L167.3,216.3" fill="none" stroke="#ededed" stroke-width="0.6" stroke-linejoin="round"/>
<path d="M68.7,255.4 L64.0,263.8 L56.6,270.8 L48.7,273.1" fill="none" stroke="#ededed" stroke-width="0.6" stroke-linejoin="round"/>
<path d="M59.1,384.3 L50.5,385.5 L39.6,382.1 L34.0,382.3" fill="none" stroke="#ededed" stroke-width="0.6" stroke-linejoin="round"/>
<path d="M168.9,327.5 L162.9,335.5" fill="none" stroke="#ededed" stroke-width="0.6" stroke-linejoin="round"/>
<path d="M117.0,223.6 L128.6,214.3" fill="none" stroke="#ededed" stroke-width="0.6" stroke-linejoin="round"/>
<path d="M44.7,363.6 L42.3,353.3 L37.5,347.6 L34.5,341.3" fill="none" stroke="#ededed" stroke-width="0.6" stroke-linejoin="round"/>
<path d="M39.2,347.9 L48.7,356.0 L56.1,363.0" fill="none" stroke="#ededed" stroke-width="0.6" stroke-linejoin="round"/>
<path d="M43.2,374.0 L36.8,375.5" fill="none" stroke="#ededed" stroke-width="0.6" stroke-linejoin="round"/>
<path d="M163.9,310.3 L157.0,305.7 L148.8,301.3" fill="none" stroke="#ededed" stroke-width="0.6" stroke-linejoin="round"/>
<path d="M48.2,370.4 L59.6,374.5 L66.8,378.8 L77.0,381.1" fill="none" stroke="#ededed" stroke-width="0.6" stroke-linejoin="round"/>
<path d="M166.1,279.8 L171.1,278.1 L178.4,276.5" fill="none" stroke="#ededed" stroke-width="0.6" stroke-linejoin="round"/>
<path d="M68.3,383.9 L65.7,378.9 L60.2,372.8" fill="none" stroke="#ededed" stroke-width="0.6" stroke-linejoin="round"/>
<path d="M24.1,273.1 L17.7,271.3 L7.5,273.1" fill="none" stroke="#ededed" stroke-width="0.6" stroke-linejoin="round"/>
<path d="M24.2,341.5 L14.3,348.6 L6.1,361.4 L-1.9,367.8" fill="none" stroke="#ededed" stroke-width="0.6" stroke-linejoin="round"/>
<path d="M20.8,352.5 L27.3,355.4 L39.8,357.4" fill="none" stroke="#ededed" stroke-width="0.6" stroke-linejoin="round"/>
<path d="M98.9,223.2 L86.8,224.8 L74.7,222.9 L68.0,222.3" fill="none" stroke="#ededed" stroke-width="0.6" stroke-linejoin="round"/>
<path d="M22.8,261.8 L24.5,274.5 L32.5,287.6 L37.0,291.3" fill="none" stroke="#ededed" stroke-width="0.6" stroke-linejoin="round"/>
<path d="M52.6,391.2 L49.6,385.9 L43.6,378.3 L42.4,371.8" fill="none" stroke="#ededed" stroke-width="0.6" stroke-linejoin="round"/>
<path d="M126.3,386.1 L134.5,395.9" fill="none" stroke="#ededed" stroke-width="0.6" stroke-linejoin="round"/>
<path d="M156.4,401.5 L160.9,404.4" fill="none" stroke="#ededed" stroke-width="0.6" stroke-linejoin="round"/>
<path d="M170.4,340.9 L167.9,350.7 L160.5,361.8 L155.3,371.7" fill="none" stroke="#ededed" stroke-width="0.6" stroke-linejoin="round"/>
<path d="M159.9,392.3 L153.0,382.1 L152.0,375.3" fill="none" stroke="#ededed" stroke-width="0.6" stroke-linejoin="round"/>
<path d="M49.2,370.4 L48.6,365.1 L44.7,353.3 L42.2,347.5" fill="none" stroke="#ededed" stroke-width="0.6" stroke-linejoin="round"/>
<path d="M86.5,233.0 L87.4,238.6 L93.2,249.2 L104.2,257.3" fill="none" stroke="#ededed" stroke-width="0.6" stroke-linejoin="round"/>
<path d="M21.1,338.6 L15.3,341.2" fill="none" stroke="#ededed" stroke-width="0.6" stroke-linejoin="round"/>
<path d="M175.3,391.8 L172.7,396.3 L170.9,407.0" fill="none" stroke="#ededed" stroke-width="0.6" stroke-linejoin="round"/>
<path d="M40.8,372.8 L36.2,369.5 L29.7,358.0" fill="none" stroke="#ededed" stroke-width="0.6" stroke-linejoin="round"/>
<path d="M175.4,382.5 L177.3,390.8 L178.9,405.3" fill="none" stroke="#ededed" stroke-width="0.6" stroke-linejoin="round"/>
<path d="M77.0,249.5 L76.1,244.4 L70.7,233.7" fill="none" stroke="#ededed" stroke-width="0.6" stroke-linejoin="round"/>
<path d="M163.7,395.6 L157.9,395.3 L146.2,393.1 L136.4,389.8" fill="none" stroke="#ededed" stroke-width="0.6" stroke-linejoin="round"/>
<path d="M28.4,295.1 L31.0,305.1" fill="none" stroke="#ededed" stroke-width="0.6" stroke-linejoin="round"/>
<path d="M116.7,211.8 L125.5,214.7 L134.1,215.8" fill="none" stroke="#ededed" stroke-width="0.6" stroke-linejoin="round"/>
<path d="M175.1,343.0 L173.4,334.8 L170.2,327.2 L165.6,320.5" fill="none" stroke="#ededed" stroke-width="0.6" stroke-linejoin="round"/>
<path d="M58.2,397.8 L45.3,405.4" fill="none" stroke="#ededed" stroke-width="0.6" stroke-linejoin="round"/>
<path d="M130.1,219.4 L132.9,227.5 L133.6,232.3" fill="none" stroke="#ededed" stroke-width="0.6" stroke-linejoin="round"/>
<path d="M171.7,294.5 L167.4,285.9 L162.0,274.3" fill="none" stroke="#ededed" stroke-width="0.6" stroke-linejoin="round"/>
<path d="M75.2,385.1 L62.2,390.8 L49.5,398.0" fill="none" stroke="#ededed" stroke-width="0.6" stroke-linejoin="round"/>
<path d="M162.5,400.2 L169.8,386.8 L172.4,380.0 L176.7,375.0" fill="none" stroke="#ededed" stroke-width="0.6" stroke-linejoin="round"/>
<path d="M39.9,355.3 L18.8,366.4" fill="none" stroke="#dadada" stroke-width="0.9" stroke-linejoin="round"/>
<path d="M162.7,330.7 L174.3,330.7" fill="none" stroke="#dadada" stroke-width="0.9" stroke-linejoin="round"/>
<path d="M55.0,264.9 L42.4,241.0" fill="none" stroke="#dadada" stroke-width="0.9" stroke-linejoin="round"/>
<path d="M83.5,375.1 L82.6,389.6" fill="none" stroke="#dadada" stroke-width="0.9" stroke-linejoin="round"/>
<path d="M109.9,221.3 L112.1,223.0 L116.5,236.2 L119.5,236.9 L126.8,242.8 L134.1,250.2 L139.9,255.3 L146.6,259.7 L147.3,265.5 L150.3,270.0 L153.5,274.6 L154.0,281.4 L155.5,293.0 L157.4,302.6 L160.5,310.6 L162.2,320.0 L162.8,331.4 L161.3,337.8 L159.6,345.6 L163.6,353.6 L162.8,364.7 L159.6,369.4 L158.1,385.3 L154.9,390.8 L147.0,391.5 L139.2,388.4 L128.9,384.3 L124.2,385.0 L117.9,386.5 L111.5,385.0 L102.1,381.8 L94.1,377.8 L85.5,374.6 L81.6,376.6 L71.0,379.0 L62.6,381.0 L54.6,374.6 L48.3,366.8 L40.2,359.2 L39.6,352.9 L40.9,345.8 L45.2,337.4 L36.7,330.1 L36.0,323.0 L35.3,317.4 L37.4,311.8 L35.3,306.1 L34.6,300.5 L33.2,292.1 L33.9,286.5 L32.5,278.0 L43.7,271.9 L54.3,269.1 L55.0,264.8 L69.0,263.5 L80.2,260.6 L79.6,250.8 L78.2,242.3 L78.9,239.3 Z" fill="#fff" stroke="#9c9c9c" stroke-width="0.9" stroke-linejoin="round"/>
<path d="M55.0,264.9 L70.0,293.0 L89.3,329.7" fill="none" stroke="#cfcfcf" stroke-width="1.0" stroke-linejoin="round"/>
<path d="M89.3,329.7 L162.7,330.7" fill="none" stroke="#cfcfcf" stroke-width="1.0" stroke-linejoin="round"/>
<path d="M89.3,329.7 L39.9,355.3" fill="none" stroke="#cfcfcf" stroke-width="1.0" stroke-linejoin="round"/>
<path d="M89.3,329.7 L85.5,351.0 L83.5,375.1" fill="none" stroke="#cfcfcf" stroke-width="1.0" stroke-linejoin="round"/>
<path d="M42.7,281.0 L50.0,279.5 L57.3,281.8 L62.0,285.0 L64.5,290.0 L63.0,294.5 L61.0,297.3 L53.0,302.0 L46.4,305.5 L40.0,302.7 L38.8,296.0 L39.0,290.0 L40.0,284.0 Z" fill="#d89a9a" stroke="#d89a9a" stroke-width="1.0" stroke-linejoin="round" fill-opacity="0.85" stroke-opacity="0.85"/>
<path d="M82.7,301.0 L86.4,298.2 L91.0,297.3 L96.0,299.0 L99.0,302.5 L104.0,303.0 L110.0,304.5 L116.0,306.5 L119.5,310.0 L121.0,317.3 L119.0,322.0 L115.5,324.5 L110.0,327.5 L104.5,328.2 L97.0,327.8 L91.8,326.4 L87.0,324.0 L84.5,321.0 L82.0,314.0 L81.8,308.2 Z" fill="#d89a9a" stroke="#d89a9a" stroke-width="1.0" stroke-linejoin="round" fill-opacity="0.85" stroke-opacity="0.85"/>
<path d="M75.4,365.5 L81.2,364.7 L85.5,366.9 L89.2,363.3 L92.8,362.1 L98.6,364.0 L104.5,368.4 L107.4,373.5 L105.2,378.5 L98.6,379.3 L91.4,378.5 L84.1,377.1 L76.8,374.9 L73.2,371.3 L72.5,367.6 Z" fill="#d89a9a" stroke="#d89a9a" stroke-width="1.0" stroke-linejoin="round" fill-opacity="0.85" stroke-opacity="0.85"/>
<circle cx="85.8" cy="259.5" r="1.60" fill="#2d2d2d"/>
<circle cx="75.8" cy="264.0" r="0.92" fill="#2d2d2d"/>
<circle cx="78.9" cy="262.4" r="0.92" fill="#2d2d2d"/>
<circle cx="70.8" cy="266.1" r="1.26" fill="#2d2d2d"/>
<circle cx="87.9" cy="265.6" r="0.92" fill="#2d2d2d"/>
<circle cx="65.8" cy="269.8" r="1.26" fill="#2d2d2d"/>
<circle cx="76.9" cy="271.4" r="1.26" fill="#2d2d2d"/>
<circle cx="62.4" cy="273.4" r="1.26" fill="#2d2d2d"/>
<circle cx="55.5" cy="276.3" r="0.92" fill="#2d2d2d"/>
<circle cx="69.8" cy="276.2" r="0.92" fill="#2d2d2d"/>
<circle cx="75.3" cy="275.6" r="1.26" fill="#2d2d2d"/>
<circle cx="87.9" cy="273.0" r="0.92" fill="#2d2d2d"/>
<circle cx="47.6" cy="278.2" r="1.26" fill="#2d2d2d"/>
<circle cx="70.8" cy="279.5" r="0.92" fill="#2d2d2d"/>
<circle cx="77.6" cy="279.8" r="1.26" fill="#2d2d2d"/>
<circle cx="83.7" cy="279.2" r="1.60" fill="#2d2d2d"/>
<circle cx="58.6" cy="280.3" r="1.26" fill="#2d2d2d"/>
<circle cx="52.4" cy="280.9" r="0.92" fill="#2d2d2d"/>
<circle cx="46.6" cy="282.2" r="0.92" fill="#2d2d2d"/>
<circle cx="42.4" cy="283.5" r="1.60" fill="#2d2d2d"/>
<circle cx="67.3" cy="283.3" r="1.60" fill="#2d2d2d"/>
<circle cx="86.9" cy="283.0" r="0.92" fill="#2d2d2d"/>
<circle cx="56.3" cy="288.5" r="1.60" fill="#2d2d2d"/>
<circle cx="76.5" cy="285.0" r="0.92" fill="#2d2d2d"/>
<circle cx="78.9" cy="288.8" r="1.26" fill="#2d2d2d"/>
<circle cx="84.2" cy="286.1" r="0.92" fill="#2d2d2d"/>
<circle cx="62.1" cy="290.8" r="1.60" fill="#2d2d2d"/>
<circle cx="72.9" cy="291.7" r="1.60" fill="#2d2d2d"/>
<circle cx="46.1" cy="290.4" r="0.92" fill="#2d2d2d"/>
<circle cx="42.6" cy="293.5" r="1.60" fill="#2d2d2d"/>
<circle cx="84.2" cy="293.2" r="1.26" fill="#2d2d2d"/>
<circle cx="61.5" cy="296.0" r="1.26" fill="#2d2d2d"/>
<circle cx="79.5" cy="296.2" r="1.60" fill="#2d2d2d"/>
<circle cx="51.6" cy="298.3" r="0.92" fill="#2d2d2d"/>
<circle cx="59.5" cy="299.8" r="0.92" fill="#2d2d2d"/>
<circle cx="45.8" cy="300.4" r="0.92" fill="#2d2d2d"/>
<circle cx="43.5" cy="302.7" r="1.60" fill="#2d2d2d"/>
<circle cx="55.3" cy="301.4" r="0.92" fill="#2d2d2d"/>
<circle cx="78.9" cy="302.0" r="1.26" fill="#2d2d2d"/>
<circle cx="84.7" cy="300.4" r="0.92" fill="#2d2d2d"/>
<circle cx="60.8" cy="304.6" r="1.26" fill="#2d2d2d"/>
<circle cx="49.2" cy="304.4" r="0.92" fill="#2d2d2d"/>
<circle cx="76.3" cy="305.6" r="0.92" fill="#2d2d2d"/>
<circle cx="86.9" cy="304.6" r="1.26" fill="#2d2d2d"/>
<circle cx="111.7" cy="229.8" r="0.92" fill="#2d2d2d"/>
<circle cx="113.4" cy="232.6" r="0.92" fill="#2d2d2d"/>
<circle cx="107.4" cy="245.5" r="1.26" fill="#2d2d2d"/>
<circle cx="114.3" cy="241.8" r="0.58" fill="#2d2d2d"/>
<circle cx="116.6" cy="243.1" r="0.58" fill="#2d2d2d"/>
<circle cx="119.0" cy="242.0" r="0.58" fill="#2d2d2d"/>
<circle cx="120.6" cy="244.0" r="0.58" fill="#2d2d2d"/>
<circle cx="123.3" cy="243.1" r="0.58" fill="#2d2d2d"/>
<circle cx="125.9" cy="242.4" r="0.58" fill="#2d2d2d"/>
<circle cx="113.7" cy="245.0" r="0.58" fill="#2d2d2d"/>
<circle cx="116.1" cy="245.5" r="0.58" fill="#2d2d2d"/>
<circle cx="118.7" cy="245.0" r="0.58" fill="#2d2d2d"/>
<circle cx="121.1" cy="246.6" r="0.58" fill="#2d2d2d"/>
<circle cx="123.8" cy="245.5" r="0.58" fill="#2d2d2d"/>
<circle cx="111.7" cy="247.2" r="0.58" fill="#2d2d2d"/>
<circle cx="115.3" cy="247.9" r="0.58" fill="#2d2d2d"/>
<circle cx="119.5" cy="247.4" r="0.58" fill="#2d2d2d"/>
<circle cx="121.8" cy="248.2" r="0.58" fill="#2d2d2d"/>
<circle cx="124.8" cy="247.4" r="0.58" fill="#2d2d2d"/>
<circle cx="126.4" cy="244.8" r="0.58" fill="#2d2d2d"/>
<circle cx="123.3" cy="251.9" r="1.60" fill="#2d2d2d"/>
<circle cx="120.6" cy="256.1" r="1.26" fill="#2d2d2d"/>
<circle cx="93.7" cy="256.1" r="1.60" fill="#2d2d2d"/>
<circle cx="106.7" cy="254.7" r="1.26" fill="#2d2d2d"/>
<circle cx="100.6" cy="254.5" r="0.58" fill="#2d2d2d"/>
<circle cx="102.7" cy="253.4" r="0.58" fill="#2d2d2d"/>
<circle cx="113.7" cy="259.5" r="1.26" fill="#2d2d2d"/>
<circle cx="111.1" cy="261.9" r="1.26" fill="#2d2d2d"/>
<circle cx="107.9" cy="259.5" r="0.58" fill="#2d2d2d"/>
<circle cx="109.0" cy="261.9" r="0.58" fill="#2d2d2d"/>
<circle cx="98.4" cy="260.8" r="1.26" fill="#2d2d2d"/>
<circle cx="121.6" cy="265.6" r="1.26" fill="#2d2d2d"/>
<circle cx="102.9" cy="265.0" r="0.58" fill="#2d2d2d"/>
<circle cx="106.4" cy="265.9" r="0.92" fill="#2d2d2d"/>
<circle cx="100.6" cy="266.6" r="0.58" fill="#2d2d2d"/>
<circle cx="105.9" cy="268.7" r="0.58" fill="#2d2d2d"/>
<circle cx="100.1" cy="271.9" r="1.60" fill="#2d2d2d"/>
<circle cx="95.8" cy="273.7" r="1.26" fill="#2d2d2d"/>
<circle cx="105.0" cy="275.1" r="0.58" fill="#2d2d2d"/>
<circle cx="115.3" cy="275.1" r="0.92" fill="#2d2d2d"/>
<circle cx="119.5" cy="275.4" r="1.26" fill="#2d2d2d"/>
<circle cx="126.4" cy="271.9" r="0.92" fill="#2d2d2d"/>
<circle cx="126.4" cy="275.1" r="0.58" fill="#2d2d2d"/>
<circle cx="131.1" cy="275.1" r="1.26" fill="#2d2d2d"/>
<circle cx="134.9" cy="271.9" r="1.26" fill="#2d2d2d"/>
<circle cx="94.0" cy="281.4" r="1.26" fill="#2d2d2d"/>
<circle cx="105.9" cy="282.0" r="1.26" fill="#2d2d2d"/>
<circle cx="111.7" cy="280.0" r="1.60" fill="#2d2d2d"/>
<circle cx="122.9" cy="278.2" r="0.92" fill="#2d2d2d"/>
<circle cx="116.1" cy="283.5" r="1.26" fill="#2d2d2d"/>
<circle cx="125.0" cy="283.2" r="0.92" fill="#2d2d2d"/>
<circle cx="134.5" cy="279.2" r="0.92" fill="#2d2d2d"/>
<circle cx="139.3" cy="280.3" r="1.26" fill="#2d2d2d"/>
<circle cx="95.8" cy="286.3" r="1.26" fill="#2d2d2d"/>
<circle cx="128.8" cy="286.1" r="1.26" fill="#2d2d2d"/>
<circle cx="132.3" cy="286.1" r="0.92" fill="#2d2d2d"/>
<circle cx="137.3" cy="285.3" r="0.92" fill="#2d2d2d"/>
<circle cx="100.1" cy="289.1" r="1.26" fill="#2d2d2d"/>
<circle cx="110.0" cy="289.8" r="1.60" fill="#2d2d2d"/>
<circle cx="120.6" cy="288.4" r="1.26" fill="#2d2d2d"/>
<circle cx="142.2" cy="290.6" r="1.60" fill="#2d2d2d"/>
<circle cx="103.8" cy="291.4" r="1.26" fill="#2d2d2d"/>
<circle cx="100.1" cy="293.7" r="1.60" fill="#2d2d2d"/>
<circle cx="117.5" cy="294.6" r="1.60" fill="#2d2d2d"/>
<circle cx="131.7" cy="293.0" r="0.92" fill="#2d2d2d"/>
<circle cx="134.5" cy="294.0" r="0.92" fill="#2d2d2d"/>
<circle cx="124.8" cy="296.2" r="1.26" fill="#2d2d2d"/>
<circle cx="129.5" cy="296.6" r="1.26" fill="#2d2d2d"/>
<circle cx="138.7" cy="296.4" r="0.92" fill="#2d2d2d"/>
<circle cx="107.1" cy="299.3" r="1.60" fill="#2d2d2d"/>
<circle cx="120.6" cy="297.7" r="0.92" fill="#2d2d2d"/>
<circle cx="145.0" cy="299.8" r="1.60" fill="#2d2d2d"/>
<circle cx="94.5" cy="302.0" r="1.60" fill="#2d2d2d"/>
<circle cx="103.2" cy="302.2" r="1.26" fill="#2d2d2d"/>
<circle cx="125.3" cy="304.6" r="1.26" fill="#2d2d2d"/>
<circle cx="136.9" cy="304.6" r="0.92" fill="#2d2d2d"/>
<circle cx="139.0" cy="305.9" r="0.92" fill="#2d2d2d"/>
<circle cx="140.7" cy="306.7" r="0.92" fill="#2d2d2d"/>
<circle cx="144.3" cy="305.6" r="0.92" fill="#2d2d2d"/>
<circle cx="128.0" cy="307.6" r="1.60" fill="#2d2d2d"/>
<circle cx="111.7" cy="306.7" r="1.26" fill="#2d2d2d"/>
<circle cx="102.1" cy="308.6" r="1.26" fill="#2d2d2d"/>
<circle cx="106.4" cy="309.9" r="1.26" fill="#2d2d2d"/>
<circle cx="89.5" cy="309.1" r="1.26" fill="#2d2d2d"/>
<circle cx="123.9" cy="312.0" r="1.60" fill="#2d2d2d"/>
<circle cx="131.1" cy="313.6" r="1.26" fill="#2d2d2d"/>
<circle cx="115.3" cy="313.6" r="0.92" fill="#2d2d2d"/>
<circle cx="97.4" cy="311.4" r="0.92" fill="#2d2d2d"/>
<circle cx="95.3" cy="313.0" r="0.92" fill="#2d2d2d"/>
<circle cx="97.4" cy="314.0" r="0.92" fill="#2d2d2d"/>
<circle cx="146.5" cy="314.8" r="1.26" fill="#2d2d2d"/>
<circle cx="102.7" cy="315.5" r="1.60" fill="#2d2d2d"/>
<circle cx="125.9" cy="318.3" r="1.60" fill="#2d2d2d"/>
<circle cx="134.3" cy="318.0" r="0.92" fill="#2d2d2d"/>
<circle cx="110.6" cy="317.2" r="1.26" fill="#2d2d2d"/>
<circle cx="112.2" cy="319.8" r="1.26" fill="#2d2d2d"/>
<circle cx="119.0" cy="319.6" r="1.26" fill="#2d2d2d"/>
<circle cx="142.7" cy="319.4" r="0.92" fill="#2d2d2d"/>
<circle cx="92.2" cy="319.6" r="1.60" fill="#2d2d2d"/>
<circle cx="93.7" cy="324.1" r="1.60" fill="#2d2d2d"/>
<circle cx="101.6" cy="323.6" r="1.60" fill="#2d2d2d"/>
<circle cx="108.2" cy="323.6" r="0.92" fill="#2d2d2d"/>
<circle cx="118.0" cy="324.1" r="1.26" fill="#2d2d2d"/>
<circle cx="128.5" cy="325.0" r="1.60" fill="#2d2d2d"/>
<circle cx="144.8" cy="323.0" r="1.26" fill="#2d2d2d"/>
<circle cx="135.8" cy="326.4" r="1.26" fill="#2d2d2d"/>
<circle cx="109.0" cy="334.6" r="1.26" fill="#2d2d2d"/>
<circle cx="114.3" cy="334.1" r="1.26" fill="#2d2d2d"/>
<circle cx="117.5" cy="334.6" r="0.92" fill="#2d2d2d"/>
<circle cx="127.4" cy="334.1" r="1.26" fill="#2d2d2d"/>
<circle cx="136.2" cy="332.5" r="1.26" fill="#2d2d2d"/>
<circle cx="51.0" cy="308.8" r="0.92" fill="#2d2d2d"/>
<circle cx="66.3" cy="307.6" r="1.26" fill="#2d2d2d"/>
<circle cx="71.1" cy="307.2" r="1.26" fill="#2d2d2d"/>
<circle cx="81.6" cy="310.1" r="1.60" fill="#2d2d2d"/>
<circle cx="43.7" cy="315.7" r="1.60" fill="#2d2d2d"/>
<circle cx="61.5" cy="316.0" r="1.60" fill="#2d2d2d"/>
<circle cx="71.4" cy="313.8" r="1.26" fill="#2d2d2d"/>
<circle cx="75.8" cy="314.0" r="1.60" fill="#2d2d2d"/>
<circle cx="59.2" cy="319.5" r="0.92" fill="#2d2d2d"/>
<circle cx="58.2" cy="320.9" r="0.92" fill="#2d2d2d"/>
<circle cx="62.8" cy="319.5" r="0.92" fill="#2d2d2d"/>
<circle cx="69.0" cy="319.5" r="1.60" fill="#2d2d2d"/>
<circle cx="50.0" cy="323.0" r="1.26" fill="#2d2d2d"/>
<circle cx="55.3" cy="324.6" r="1.60" fill="#2d2d2d"/>
<circle cx="62.6" cy="323.6" r="1.26" fill="#2d2d2d"/>
<circle cx="44.5" cy="328.3" r="0.58" fill="#2d2d2d"/>
<circle cx="46.0" cy="329.4" r="0.58" fill="#2d2d2d"/>
<circle cx="77.2" cy="341.5" r="1.26" fill="#2d2d2d"/>
<circle cx="74.6" cy="344.5" r="1.26" fill="#2d2d2d"/>
<circle cx="69.2" cy="345.4" r="1.26" fill="#2d2d2d"/>
<circle cx="81.6" cy="346.2" r="1.26" fill="#2d2d2d"/>
<circle cx="66.9" cy="348.3" r="1.26" fill="#2d2d2d"/>
<circle cx="74.2" cy="349.9" r="1.26" fill="#2d2d2d"/>
<circle cx="66.3" cy="353.9" r="1.26" fill="#2d2d2d"/>
<circle cx="81.6" cy="352.6" r="0.92" fill="#2d2d2d"/>
<circle cx="80.0" cy="354.6" r="0.92" fill="#2d2d2d"/>
<circle cx="78.5" cy="356.5" r="0.92" fill="#2d2d2d"/>
<circle cx="81.8" cy="356.3" r="0.92" fill="#2d2d2d"/>
<circle cx="61.1" cy="358.4" r="1.60" fill="#2d2d2d"/>
<circle cx="73.7" cy="359.4" r="1.60" fill="#2d2d2d"/>
<circle cx="65.8" cy="359.9" r="0.92" fill="#2d2d2d"/>
<circle cx="87.9" cy="360.7" r="0.92" fill="#2d2d2d"/>
<circle cx="116.9" cy="339.1" r="1.26" fill="#2d2d2d"/>
<circle cx="126.1" cy="339.4" r="1.26" fill="#2d2d2d"/>
<circle cx="129.5" cy="340.4" r="1.26" fill="#2d2d2d"/>
<circle cx="136.2" cy="339.6" r="1.26" fill="#2d2d2d"/>
<circle cx="144.8" cy="339.9" r="1.60" fill="#2d2d2d"/>
<circle cx="142.7" cy="335.9" r="0.92" fill="#2d2d2d"/>
<circle cx="92.6" cy="342.3" r="0.92" fill="#2d2d2d"/>
<circle cx="126.4" cy="343.6" r="0.92" fill="#2d2d2d"/>
<circle cx="132.2" cy="344.3" r="0.92" fill="#2d2d2d"/>
<circle cx="89.8" cy="346.8" r="1.26" fill="#2d2d2d"/>
<circle cx="99.5" cy="346.2" r="1.60" fill="#2d2d2d"/>
<circle cx="108.2" cy="346.0" r="0.92" fill="#2d2d2d"/>
<circle cx="128.0" cy="346.8" r="0.92" fill="#2d2d2d"/>
<circle cx="134.3" cy="347.5" r="1.26" fill="#2d2d2d"/>
<circle cx="141.6" cy="348.2" r="1.26" fill="#2d2d2d"/>
<circle cx="103.8" cy="349.4" r="0.92" fill="#2d2d2d"/>
<circle cx="107.4" cy="350.3" r="0.92" fill="#2d2d2d"/>
<circle cx="118.7" cy="350.3" r="1.26" fill="#2d2d2d"/>
<circle cx="124.2" cy="351.2" r="1.60" fill="#2d2d2d"/>
<circle cx="94.0" cy="355.2" r="1.26" fill="#2d2d2d"/>
<circle cx="143.3" cy="355.2" r="1.26" fill="#2d2d2d"/>
<circle cx="100.4" cy="356.6" r="0.92" fill="#2d2d2d"/>
<circle cx="112.6" cy="357.8" r="1.26" fill="#2d2d2d"/>
<circle cx="117.2" cy="358.0" r="0.92" fill="#2d2d2d"/>
<circle cx="140.1" cy="357.8" r="0.92" fill="#2d2d2d"/>
<circle cx="97.2" cy="359.7" r="0.92" fill="#2d2d2d"/>
<circle cx="127.4" cy="361.0" r="0.92" fill="#2d2d2d"/>
<circle cx="133.8" cy="361.2" r="0.92" fill="#2d2d2d"/>
<circle cx="101.6" cy="362.8" r="1.26" fill="#2d2d2d"/>
<circle cx="107.7" cy="361.5" r="1.26" fill="#2d2d2d"/>
<circle cx="116.9" cy="362.6" r="1.26" fill="#2d2d2d"/>
<circle cx="122.5" cy="363.6" r="1.26" fill="#2d2d2d"/>
<circle cx="146.5" cy="363.6" r="0.92" fill="#2d2d2d"/>
<circle cx="92.0" cy="363.9" r="0.92" fill="#2d2d2d"/>
<circle cx="136.9" cy="365.7" r="1.26" fill="#2d2d2d"/>
<circle cx="96.9" cy="367.1" r="1.60" fill="#2d2d2d"/>
<circle cx="102.5" cy="367.9" r="1.26" fill="#2d2d2d"/>
<circle cx="115.3" cy="367.9" r="0.92" fill="#2d2d2d"/>
<circle cx="90.5" cy="368.5" r="1.26" fill="#2d2d2d"/>
<circle cx="123.8" cy="369.2" r="0.92" fill="#2d2d2d"/>
<circle cx="141.4" cy="369.6" r="1.26" fill="#2d2d2d"/>
<circle cx="106.1" cy="370.0" r="0.92" fill="#2d2d2d"/>
<circle cx="128.5" cy="371.3" r="1.26" fill="#2d2d2d"/>
<circle cx="102.5" cy="372.0" r="1.26" fill="#2d2d2d"/>
<circle cx="99.0" cy="372.8" r="0.92" fill="#2d2d2d"/>
<circle cx="113.2" cy="372.0" r="0.92" fill="#2d2d2d"/>
<circle cx="121.6" cy="372.0" r="0.92" fill="#2d2d2d"/>
<circle cx="89.8" cy="373.1" r="1.26" fill="#2d2d2d"/>
<circle cx="138.7" cy="373.5" r="1.26" fill="#2d2d2d"/>
<circle cx="134.9" cy="374.9" r="0.92" fill="#2d2d2d"/>
<circle cx="106.4" cy="375.8" r="0.92" fill="#2d2d2d"/>
<circle cx="95.1" cy="376.3" r="1.60" fill="#2d2d2d"/>
<circle cx="102.5" cy="376.8" r="1.26" fill="#2d2d2d"/>
<circle cx="120.4" cy="377.6" r="1.26" fill="#2d2d2d"/>
<circle cx="123.8" cy="377.3" r="1.26" fill="#2d2d2d"/>
<circle cx="110.0" cy="378.4" r="1.26" fill="#2d2d2d"/>
<circle cx="139.6" cy="379.5" r="1.60" fill="#2d2d2d"/>
<circle cx="132.0" cy="379.5" r="0.92" fill="#2d2d2d"/>
<circle cx="127.4" cy="381.0" r="1.26" fill="#2d2d2d"/>
<circle cx="143.6" cy="384.0" r="1.26" fill="#2d2d2d"/>
<circle cx="153.0" cy="306.8" r="1.26" fill="#2d2d2d"/>
<circle cx="154.4" cy="310.8" r="0.92" fill="#2d2d2d"/>
<circle cx="152.6" cy="314.7" r="0.92" fill="#2d2d2d"/>
<circle cx="158.3" cy="317.0" r="1.26" fill="#2d2d2d"/>
<circle cx="151.4" cy="320.3" r="1.26" fill="#2d2d2d"/>
<circle cx="158.8" cy="324.5" r="1.26" fill="#2d2d2d"/>
<circle cx="150.3" cy="326.5" r="1.26" fill="#2d2d2d"/>
<circle cx="150.6" cy="333.4" r="1.26" fill="#2d2d2d"/>
<circle cx="154.9" cy="336.6" r="1.26" fill="#2d2d2d"/>
<circle cx="154.3" cy="341.4" r="1.26" fill="#2d2d2d"/>
<circle cx="152.2" cy="347.5" r="1.60" fill="#2d2d2d"/>
<circle cx="149.3" cy="351.9" r="1.60" fill="#2d2d2d"/>
<circle cx="148.0" cy="359.5" r="1.26" fill="#2d2d2d"/>
<circle cx="147.0" cy="363.6" r="1.26" fill="#2d2d2d"/>
<circle cx="152.2" cy="367.0" r="1.26" fill="#2d2d2d"/>
<circle cx="150.0" cy="373.3" r="1.26" fill="#2d2d2d"/>
<circle cx="149.6" cy="383.2" r="0.92" fill="#2d2d2d"/>
<circle cx="65.3" cy="366.8" r="1.60" fill="#2d2d2d"/>
<circle cx="68.4" cy="370.9" r="0.92" fill="#2d2d2d"/>
<circle cx="79.3" cy="367.5" r="1.60" fill="#2d2d2d"/>
<circle cx="76.3" cy="369.6" r="0.92" fill="#2d2d2d"/>
<circle cx="78.3" cy="373.2" r="1.60" fill="#2d2d2d"/>
<circle cx="86.9" cy="375.0" r="1.26" fill="#2d2d2d"/>
<rect x="95.50" y="240.01" width="2.90" height="2.90" fill="#ec74c4" stroke="#704060" stroke-width="0.4"/>
<rect x="100.23" y="256.34" width="2.90" height="2.90" fill="#ec74c4" stroke="#704060" stroke-width="0.4"/>
<rect x="121.87" y="259.92" width="2.90" height="2.90" fill="#ec74c4" stroke="#704060" stroke-width="0.4"/>
<rect x="107.28" y="270.07" width="2.90" height="2.90" fill="#ec74c4" stroke="#704060" stroke-width="0.4"/>
<rect x="129.21" y="269.58" width="2.90" height="2.90" fill="#ec74c4" stroke="#704060" stroke-width="0.4"/>
<rect x="133.07" y="280.12" width="2.90" height="2.90" fill="#ec74c4" stroke="#704060" stroke-width="0.4"/>
<rect x="111.34" y="285.05" width="2.90" height="2.90" fill="#ec74c4" stroke="#704060" stroke-width="0.4"/>
<rect x="114.82" y="288.52" width="2.90" height="2.90" fill="#ec74c4" stroke="#704060" stroke-width="0.4"/>
<rect x="101.68" y="295.58" width="2.90" height="2.90" fill="#ec74c4" stroke="#704060" stroke-width="0.4"/>
<rect x="139.45" y="298.19" width="2.90" height="2.90" fill="#ec74c4" stroke="#704060" stroke-width="0.4"/>
<rect x="69.71" y="282.92" width="2.90" height="2.90" fill="#ec74c4" stroke="#704060" stroke-width="0.4"/>
<rect x="77.44" y="273.54" width="2.90" height="2.90" fill="#ec74c4" stroke="#704060" stroke-width="0.4"/>
<rect x="82.75" y="294.42" width="2.90" height="2.90" fill="#ec74c4" stroke="#704060" stroke-width="0.4"/>
<rect x="47.20" y="285.72" width="2.90" height="2.90" fill="#ec74c4" stroke="#704060" stroke-width="0.4"/>
<rect x="62.27" y="310.56" width="2.90" height="2.90" fill="#ec74c4" stroke="#704060" stroke-width="0.4"/>
<rect x="65.94" y="314.23" width="2.90" height="2.90" fill="#ec74c4" stroke="#704060" stroke-width="0.4"/>
<rect x="53.29" y="315.97" width="2.90" height="2.90" fill="#ec74c4" stroke="#704060" stroke-width="0.4"/>
<rect x="72.12" y="327.47" width="2.90" height="2.90" fill="#ec74c4" stroke="#704060" stroke-width="0.4"/>
<rect x="124.47" y="310.27" width="2.90" height="2.90" fill="#ec74c4" stroke="#704060" stroke-width="0.4"/>
<rect x="142.92" y="317.90" width="2.90" height="2.90" fill="#ec74c4" stroke="#704060" stroke-width="0.4"/>
<rect x="151.62" y="317.32" width="2.90" height="2.90" fill="#ec74c4" stroke="#704060" stroke-width="0.4"/>
<rect x="47.40" y="295.29" width="2.90" height="2.90" fill="#ec74c4" stroke="#704060" stroke-width="0.4"/>
<rect x="66.62" y="362.36" width="2.90" height="2.90" fill="#ec74c4" stroke="#704060" stroke-width="0.4"/>
<rect x="105.35" y="364.39" width="2.90" height="2.90" fill="#ec74c4" stroke="#704060" stroke-width="0.4"/>
<rect x="110.47" y="321.29" width="2.90" height="2.90" fill="#ec74c4" stroke="#704060" stroke-width="0.4"/>
<rect x="98.59" y="340.32" width="2.90" height="2.90" fill="#ec74c4" stroke="#704060" stroke-width="0.4"/>
<rect x="129.59" y="338.29" width="2.90" height="2.90" fill="#ec74c4" stroke="#704060" stroke-width="0.4"/>
<rect x="136.93" y="339.26" width="2.90" height="2.90" fill="#ec74c4" stroke="#704060" stroke-width="0.4"/>
<rect x="147.85" y="345.45" width="2.90" height="2.90" fill="#ec74c4" stroke="#704060" stroke-width="0.4"/>
<rect x="111.05" y="347.96" width="2.90" height="2.90" fill="#ec74c4" stroke="#704060" stroke-width="0.4"/>
<rect x="149.01" y="354.05" width="2.90" height="2.90" fill="#ec74c4" stroke="#704060" stroke-width="0.4"/>
<rect x="112.30" y="358.39" width="2.90" height="2.90" fill="#ec74c4" stroke="#704060" stroke-width="0.4"/>
<rect x="126.50" y="364.19" width="2.90" height="2.90" fill="#ec74c4" stroke="#704060" stroke-width="0.4"/>
<rect x="134.91" y="367.87" width="2.90" height="2.90" fill="#ec74c4" stroke="#704060" stroke-width="0.4"/>
<rect x="142.92" y="376.66" width="2.90" height="2.90" fill="#ec74c4" stroke="#704060" stroke-width="0.4"/>
<rect x="142.44" y="349.31" width="2.90" height="2.90" fill="#ec74c4" stroke="#704060" stroke-width="0.4"/>
<rect x="78.11" y="345.16" width="2.90" height="2.90" fill="#ec74c4" stroke="#704060" stroke-width="0.4"/>
<rect x="70.29" y="348.73" width="2.90" height="2.90" fill="#ec74c4" stroke="#704060" stroke-width="0.4"/>
<rect x="62.75" y="352.79" width="2.90" height="2.90" fill="#ec74c4" stroke="#704060" stroke-width="0.4"/>
<rect x="131.53" y="312.78" width="2.90" height="2.90" fill="#ec74c4" stroke="#704060" stroke-width="0.4"/>
<rect x="112.21" y="334.43" width="2.90" height="2.90" fill="#ec74c4" stroke="#704060" stroke-width="0.4"/>
<text x="142.2" y="240.4" font-size="8.8" fill="#222" stroke="#222" stroke-width="0.18" textLength="56.9" lengthAdjust="spacingAndGlyphs">problem areas</text>
<line x1="143.60" y1="243.60" x2="196.40" y2="243.60" stroke="#888" stroke-width="1.4"/>
<line x1="142.60" y1="244.20" x2="60.50" y2="287.00" stroke="#555" stroke-width="0.65"/>
<line x1="142.60" y1="244.20" x2="100.50" y2="304.50" stroke="#555" stroke-width="0.65"/>
<line x1="142.60" y1="244.20" x2="97.00" y2="372.00" stroke="#555" stroke-width="0.65"/>
<rect x="223.30" y="253.60" width="134.90" height="127.70" fill="#fff" stroke="#d8d8d8" stroke-width="0.8"/>
<line x1="223.30" y1="362.68" x2="358.20" y2="362.68" stroke="#dcdcdc" stroke-width="0.8"/>
<line x1="223.30" y1="344.06" x2="358.20" y2="344.06" stroke="#dcdcdc" stroke-width="0.8"/>
<line x1="223.30" y1="325.44" x2="358.20" y2="325.44" stroke="#dcdcdc" stroke-width="0.8"/>
<line x1="223.30" y1="306.82" x2="358.20" y2="306.82" stroke="#dcdcdc" stroke-width="0.8"/>
<line x1="223.30" y1="288.20" x2="358.20" y2="288.20" stroke="#dcdcdc" stroke-width="0.8"/>
<line x1="223.30" y1="269.58" x2="358.20" y2="269.58" stroke="#dcdcdc" stroke-width="0.8"/>
<line x1="229.10" y1="253.60" x2="229.10" y2="381.30" stroke="#dcdcdc" stroke-width="0.8"/>
<line x1="253.58" y1="253.60" x2="253.58" y2="381.30" stroke="#dcdcdc" stroke-width="0.8"/>
<line x1="278.06" y1="253.60" x2="278.06" y2="381.30" stroke="#dcdcdc" stroke-width="0.8"/>
<line x1="302.54" y1="253.60" x2="302.54" y2="381.30" stroke="#dcdcdc" stroke-width="0.8"/>
<line x1="327.02" y1="253.60" x2="327.02" y2="381.30" stroke="#dcdcdc" stroke-width="0.8"/>
<line x1="351.50" y1="253.60" x2="351.50" y2="381.30" stroke="#dcdcdc" stroke-width="0.8"/>
<rect x="229.10" y="310.00" width="12.24" height="71.30" fill="#c03c5e" stroke="#555" stroke-width="0.5"/>
<rect x="241.34" y="379.10" width="12.24" height="2.20" fill="#e0645a" stroke="#555" stroke-width="0.5"/>
<rect x="253.58" y="377.70" width="12.24" height="3.60" fill="#f4976a" stroke="#555" stroke-width="0.5"/>
<rect x="265.82" y="378.70" width="12.24" height="2.60" fill="#f8c488" stroke="#555" stroke-width="0.5"/>
<rect x="278.06" y="378.70" width="12.24" height="2.60" fill="#fbe7a7" stroke="#555" stroke-width="0.5"/>
<rect x="290.30" y="378.80" width="12.24" height="2.50" fill="#eef4dd" stroke="#555" stroke-width="0.5"/>
<rect x="302.54" y="378.90" width="12.24" height="2.40" fill="#cfe6f0" stroke="#555" stroke-width="0.5"/>
<rect x="314.78" y="378.20" width="12.24" height="3.10" fill="#a6c9e3" stroke="#555" stroke-width="0.5"/>
<rect x="327.02" y="377.90" width="12.24" height="3.40" fill="#6f98cc" stroke="#555" stroke-width="0.5"/>
<rect x="339.26" y="260.00" width="12.24" height="121.30" fill="#5f5fae" stroke="#555" stroke-width="0.5"/>
<line x1="223.30" y1="362.68" x2="358.20" y2="362.68" stroke="#000" stroke-opacity="0.07" stroke-width="0.8"/>
<line x1="223.30" y1="344.06" x2="358.20" y2="344.06" stroke="#000" stroke-opacity="0.07" stroke-width="0.8"/>
<line x1="223.30" y1="325.44" x2="358.20" y2="325.44" stroke="#000" stroke-opacity="0.07" stroke-width="0.8"/>
<line x1="223.30" y1="306.82" x2="358.20" y2="306.82" stroke="#000" stroke-opacity="0.07" stroke-width="0.8"/>
<line x1="223.30" y1="288.20" x2="358.20" y2="288.20" stroke="#000" stroke-opacity="0.07" stroke-width="0.8"/>
<line x1="223.30" y1="269.58" x2="358.20" y2="269.58" stroke="#000" stroke-opacity="0.07" stroke-width="0.8"/>
<text x="220.2" y="383.8" font-size="7.3" fill="#333" stroke="#333" stroke-width="0.18" text-anchor="end">0</text>
<text x="220.2" y="365.2" font-size="7.3" fill="#333" stroke="#333" stroke-width="0.18" text-anchor="end">10,000</text>
<text x="220.2" y="346.6" font-size="7.3" fill="#333" stroke="#333" stroke-width="0.18" text-anchor="end">20,000</text>
<text x="220.2" y="327.9" font-size="7.3" fill="#333" stroke="#333" stroke-width="0.18" text-anchor="end">30,000</text>
<text x="220.2" y="309.3" font-size="7.3" fill="#333" stroke="#333" stroke-width="0.18" text-anchor="end">40,000</text>
<text x="220.2" y="290.7" font-size="7.3" fill="#333" stroke="#333" stroke-width="0.18" text-anchor="end">50,000</text>
<text x="220.2" y="272.1" font-size="7.3" fill="#333" stroke="#333" stroke-width="0.18" text-anchor="end">60,000</text>
<text x="229.1" y="390.6" font-size="7.3" fill="#333" stroke="#333" stroke-width="0.18" text-anchor="middle">0.0</text>
<text x="253.6" y="390.6" font-size="7.3" fill="#333" stroke="#333" stroke-width="0.18" text-anchor="middle">0.2</text>
<text x="278.1" y="390.6" font-size="7.3" fill="#333" stroke="#333" stroke-width="0.18" text-anchor="middle">0.4</text>
<text x="302.5" y="390.6" font-size="7.3" fill="#333" stroke="#333" stroke-width="0.18" text-anchor="middle">0.6</text>
<text x="327.0" y="390.6" font-size="7.3" fill="#333" stroke="#333" stroke-width="0.18" text-anchor="middle">0.8</text>
<text x="351.5" y="390.6" font-size="7.3" fill="#333" stroke="#333" stroke-width="0.18" text-anchor="middle">1.0</text>
<rect x="406.40" y="254.20" width="133.20" height="126.30" fill="#fff" stroke="#d8d8d8" stroke-width="0.8"/>
<line x1="406.40" y1="355.24" x2="539.60" y2="355.24" stroke="#dcdcdc" stroke-width="0.8"/>
<line x1="406.40" y1="329.98" x2="539.60" y2="329.98" stroke="#dcdcdc" stroke-width="0.8"/>
<line x1="406.40" y1="304.72" x2="539.60" y2="304.72" stroke="#dcdcdc" stroke-width="0.8"/>
<line x1="406.40" y1="279.46" x2="539.60" y2="279.46" stroke="#dcdcdc" stroke-width="0.8"/>
<line x1="406.40" y1="254.20" x2="539.60" y2="254.20" stroke="#dcdcdc" stroke-width="0.8"/>
<line x1="412.50" y1="254.20" x2="412.50" y2="380.50" stroke="#dcdcdc" stroke-width="0.8"/>
<line x1="436.72" y1="254.20" x2="436.72" y2="380.50" stroke="#dcdcdc" stroke-width="0.8"/>
<line x1="460.94" y1="254.20" x2="460.94" y2="380.50" stroke="#dcdcdc" stroke-width="0.8"/>
<line x1="485.16" y1="254.20" x2="485.16" y2="380.50" stroke="#dcdcdc" stroke-width="0.8"/>
<line x1="509.38" y1="254.20" x2="509.38" y2="380.50" stroke="#dcdcdc" stroke-width="0.8"/>
<line x1="533.60" y1="254.20" x2="533.60" y2="380.50" stroke="#dcdcdc" stroke-width="0.8"/>
<rect x="412.50" y="364.40" width="12.11" height="16.10" fill="#c03c5e" stroke="#555" stroke-width="0.5"/>
<rect x="424.61" y="356.30" width="12.11" height="24.20" fill="#e0645a" stroke="#555" stroke-width="0.5"/>
<rect x="436.72" y="348.20" width="12.11" height="32.30" fill="#f4976a" stroke="#555" stroke-width="0.5"/>
<rect x="448.83" y="351.40" width="12.11" height="29.10" fill="#f8c488" stroke="#555" stroke-width="0.5"/>
<rect x="460.94" y="352.80" width="12.11" height="27.70" fill="#fbe7a7" stroke="#555" stroke-width="0.5"/>
<rect x="473.05" y="348.20" width="12.11" height="32.30" fill="#eef4dd" stroke="#555" stroke-width="0.5"/>
<rect x="485.16" y="353.60" width="12.11" height="26.90" fill="#cfe6f0" stroke="#555" stroke-width="0.5"/>
<rect x="497.27" y="353.60" width="12.11" height="26.90" fill="#a6c9e3" stroke="#555" stroke-width="0.5"/>
<rect x="509.38" y="351.10" width="12.11" height="29.40" fill="#6f98cc" stroke="#555" stroke-width="0.5"/>
<rect x="521.49" y="336.20" width="12.11" height="44.30" fill="#5f5fae" stroke="#555" stroke-width="0.5"/>
<line x1="406.40" y1="355.24" x2="539.60" y2="355.24" stroke="#000" stroke-opacity="0.07" stroke-width="0.8"/>
<line x1="406.40" y1="329.98" x2="539.60" y2="329.98" stroke="#000" stroke-opacity="0.07" stroke-width="0.8"/>
<line x1="406.40" y1="304.72" x2="539.60" y2="304.72" stroke="#000" stroke-opacity="0.07" stroke-width="0.8"/>
<line x1="406.40" y1="279.46" x2="539.60" y2="279.46" stroke="#000" stroke-opacity="0.07" stroke-width="0.8"/>
<line x1="406.40" y1="254.20" x2="539.60" y2="254.20" stroke="#000" stroke-opacity="0.07" stroke-width="0.8"/>
<text x="402.5" y="383.0" font-size="7.3" fill="#333" stroke="#333" stroke-width="0.18" text-anchor="end">0</text>
<text x="402.5" y="357.7" font-size="7.3" fill="#333" stroke="#333" stroke-width="0.18" text-anchor="end">10,000</text>
<text x="402.5" y="332.5" font-size="7.3" fill="#333" stroke="#333" stroke-width="0.18" text-anchor="end">20,000</text>
<text x="402.5" y="307.2" font-size="7.3" fill="#333" stroke="#333" stroke-width="0.18" text-anchor="end">30,000</text>
<text x="402.5" y="282.0" font-size="7.3" fill="#333" stroke="#333" stroke-width="0.18" text-anchor="end">40,000</text>
<text x="402.5" y="256.7" font-size="7.3" fill="#333" stroke="#333" stroke-width="0.18" text-anchor="end">50,000</text>
<text x="412.5" y="390.0" font-size="7.3" fill="#333" stroke="#333" stroke-width="0.18" text-anchor="middle">0.0</text>
<text x="436.7" y="390.0" font-size="7.3" fill="#333" stroke="#333" stroke-width="0.18" text-anchor="middle">0.2</text>
<text x="460.9" y="390.0" font-size="7.3" fill="#333" stroke="#333" stroke-width="0.18" text-anchor="middle">0.4</text>
<text x="485.2" y="390.0" font-size="7.3" fill="#333" stroke="#333" stroke-width="0.18" text-anchor="middle">0.6</text>
<text x="509.4" y="390.0" font-size="7.3" fill="#333" stroke="#333" stroke-width="0.18" text-anchor="middle">0.8</text>
<text x="533.6" y="390.0" font-size="7.3" fill="#333" stroke="#333" stroke-width="0.18" text-anchor="middle">1.0</text>
<rect x="45.20" y="439.70" width="134.30" height="123.40" fill="#fff" stroke="#d8d8d8" stroke-width="0.8"/>
<line x1="45.20" y1="548.41" x2="179.50" y2="548.41" stroke="#dcdcdc" stroke-width="0.8"/>
<line x1="45.20" y1="533.72" x2="179.50" y2="533.72" stroke="#dcdcdc" stroke-width="0.8"/>
<line x1="45.20" y1="519.03" x2="179.50" y2="519.03" stroke="#dcdcdc" stroke-width="0.8"/>
<line x1="45.20" y1="504.34" x2="179.50" y2="504.34" stroke="#dcdcdc" stroke-width="0.8"/>
<line x1="45.20" y1="489.65" x2="179.50" y2="489.65" stroke="#dcdcdc" stroke-width="0.8"/>
<line x1="45.20" y1="474.96" x2="179.50" y2="474.96" stroke="#dcdcdc" stroke-width="0.8"/>
<line x1="45.20" y1="460.27" x2="179.50" y2="460.27" stroke="#dcdcdc" stroke-width="0.8"/>
<line x1="45.20" y1="445.58" x2="179.50" y2="445.58" stroke="#dcdcdc" stroke-width="0.8"/>
<line x1="51.30" y1="439.70" x2="51.30" y2="563.10" stroke="#dcdcdc" stroke-width="0.8"/>
<line x1="71.73" y1="439.70" x2="71.73" y2="563.10" stroke="#dcdcdc" stroke-width="0.8"/>
<line x1="92.17" y1="439.70" x2="92.17" y2="563.10" stroke="#dcdcdc" stroke-width="0.8"/>
<line x1="112.60" y1="439.70" x2="112.60" y2="563.10" stroke="#dcdcdc" stroke-width="0.8"/>
<line x1="133.03" y1="439.70" x2="133.03" y2="563.10" stroke="#dcdcdc" stroke-width="0.8"/>
<line x1="153.47" y1="439.70" x2="153.47" y2="563.10" stroke="#dcdcdc" stroke-width="0.8"/>
<line x1="173.90" y1="439.70" x2="173.90" y2="563.10" stroke="#dcdcdc" stroke-width="0.8"/>
<rect x="51.80" y="526.60" width="3.90" height="36.50" fill="#b9b9b9"/>
<rect x="56.70" y="536.00" width="3.90" height="27.10" fill="#b9b9b9"/>
<rect x="61.61" y="523.50" width="3.90" height="39.60" fill="#b9b9b9"/>
<rect x="66.51" y="509.30" width="3.90" height="53.80" fill="#b9b9b9"/>
<rect x="71.42" y="499.20" width="3.90" height="63.90" fill="#b9b9b9"/>
<rect x="76.32" y="481.70" width="3.90" height="81.40" fill="#b9b9b9"/>
<rect x="81.22" y="475.10" width="3.90" height="88.00" fill="#b9b9b9"/>
<rect x="86.13" y="456.20" width="3.90" height="106.90" fill="#b9b9b9"/>
<rect x="91.03" y="448.70" width="3.90" height="114.40" fill="#b9b9b9"/>
<rect x="95.94" y="450.60" width="3.90" height="112.50" fill="#b9b9b9"/>
<rect x="100.84" y="446.30" width="3.90" height="116.80" fill="#b9b9b9"/>
<rect x="105.74" y="454.80" width="3.90" height="108.30" fill="#b9b9b9"/>
<rect x="110.65" y="446.80" width="3.90" height="116.30" fill="#b9b9b9"/>
<rect x="115.55" y="462.90" width="3.90" height="100.20" fill="#b9b9b9"/>
<rect x="120.46" y="466.40" width="3.90" height="96.70" fill="#b9b9b9"/>
<rect x="125.36" y="477.50" width="3.90" height="85.60" fill="#b9b9b9"/>
<rect x="130.26" y="493.40" width="3.90" height="69.70" fill="#b9b9b9"/>
<rect x="135.17" y="496.40" width="3.90" height="66.70" fill="#b9b9b9"/>
<rect x="140.07" y="510.10" width="3.90" height="53.00" fill="#b9b9b9"/>
<rect x="144.98" y="514.80" width="3.90" height="48.30" fill="#b9b9b9"/>
<rect x="149.88" y="516.00" width="3.90" height="47.10" fill="#b9b9b9"/>
<rect x="154.78" y="524.30" width="3.90" height="38.80" fill="#b9b9b9"/>
<rect x="159.69" y="536.10" width="3.90" height="27.00" fill="#b9b9b9"/>
<rect x="164.59" y="535.40" width="3.90" height="27.70" fill="#b9b9b9"/>
<rect x="169.50" y="537.00" width="3.90" height="26.10" fill="#b9b9b9"/>
<line x1="45.20" y1="548.41" x2="179.50" y2="548.41" stroke="#000" stroke-opacity="0.07" stroke-width="0.8"/>
<line x1="45.20" y1="533.72" x2="179.50" y2="533.72" stroke="#000" stroke-opacity="0.07" stroke-width="0.8"/>
<line x1="45.20" y1="519.03" x2="179.50" y2="519.03" stroke="#000" stroke-opacity="0.07" stroke-width="0.8"/>
<line x1="45.20" y1="504.34" x2="179.50" y2="504.34" stroke="#000" stroke-opacity="0.07" stroke-width="0.8"/>
<line x1="45.20" y1="489.65" x2="179.50" y2="489.65" stroke="#000" stroke-opacity="0.07" stroke-width="0.8"/>
<line x1="45.20" y1="474.96" x2="179.50" y2="474.96" stroke="#000" stroke-opacity="0.07" stroke-width="0.8"/>
<line x1="45.20" y1="460.27" x2="179.50" y2="460.27" stroke="#000" stroke-opacity="0.07" stroke-width="0.8"/>
<line x1="45.20" y1="445.58" x2="179.50" y2="445.58" stroke="#000" stroke-opacity="0.07" stroke-width="0.8"/>
<text x="31.3" y="565.6" font-size="7.3" fill="#333" stroke="#333" stroke-width="0.18" text-anchor="middle">0</text>
<text x="31.3" y="550.9" font-size="7.3" fill="#333" stroke="#333" stroke-width="0.18" text-anchor="middle">2500</text>
<text x="31.3" y="536.2" font-size="7.3" fill="#333" stroke="#333" stroke-width="0.18" text-anchor="middle">5000</text>
<text x="31.3" y="521.5" font-size="7.3" fill="#333" stroke="#333" stroke-width="0.18" text-anchor="middle">7500</text>
<text x="31.3" y="506.8" font-size="7.3" fill="#333" stroke="#333" stroke-width="0.18" text-anchor="middle">10,000</text>
<text x="31.3" y="492.2" font-size="7.3" fill="#333" stroke="#333" stroke-width="0.18" text-anchor="middle">12,500</text>
<text x="31.3" y="477.5" font-size="7.3" fill="#333" stroke="#333" stroke-width="0.18" text-anchor="middle">15,000</text>
<text x="31.3" y="462.8" font-size="7.3" fill="#333" stroke="#333" stroke-width="0.18" text-anchor="middle">17,500</text>
<text x="31.3" y="448.1" font-size="7.3" fill="#333" stroke="#333" stroke-width="0.18" text-anchor="middle">20,000</text>
<text x="51.3" y="572.6" font-size="7.3" fill="#333" stroke="#333" stroke-width="0.18" text-anchor="middle">0</text>
<text x="71.7" y="572.6" font-size="7.3" fill="#333" stroke="#333" stroke-width="0.18" text-anchor="middle">100</text>
<text x="92.2" y="572.6" font-size="7.3" fill="#333" stroke="#333" stroke-width="0.18" text-anchor="middle">200</text>
<text x="112.6" y="572.6" font-size="7.3" fill="#333" stroke="#333" stroke-width="0.18" text-anchor="middle">300</text>
<text x="133.0" y="572.6" font-size="7.3" fill="#333" stroke="#333" stroke-width="0.18" text-anchor="middle">400</text>
<text x="153.5" y="572.6" font-size="7.3" fill="#333" stroke="#333" stroke-width="0.18" text-anchor="middle">500</text>
<text x="173.9" y="572.6" font-size="7.3" fill="#333" stroke="#333" stroke-width="0.18" text-anchor="middle">600</text>
<rect x="223.50" y="440.40" width="136.10" height="124.20" fill="#fff" stroke="#d8d8d8" stroke-width="0.8"/>
<line x1="223.50" y1="549.00" x2="359.60" y2="549.00" stroke="#dcdcdc" stroke-width="0.8"/>
<line x1="223.50" y1="533.40" x2="359.60" y2="533.40" stroke="#dcdcdc" stroke-width="0.8"/>
<line x1="223.50" y1="517.80" x2="359.60" y2="517.80" stroke="#dcdcdc" stroke-width="0.8"/>
<line x1="223.50" y1="502.20" x2="359.60" y2="502.20" stroke="#dcdcdc" stroke-width="0.8"/>
<line x1="223.50" y1="486.60" x2="359.60" y2="486.60" stroke="#dcdcdc" stroke-width="0.8"/>
<line x1="223.50" y1="471.00" x2="359.60" y2="471.00" stroke="#dcdcdc" stroke-width="0.8"/>
<line x1="223.50" y1="455.40" x2="359.60" y2="455.40" stroke="#dcdcdc" stroke-width="0.8"/>
<line x1="230.50" y1="440.40" x2="230.50" y2="564.60" stroke="#dcdcdc" stroke-width="0.8"/>
<line x1="251.02" y1="440.40" x2="251.02" y2="564.60" stroke="#dcdcdc" stroke-width="0.8"/>
<line x1="271.53" y1="440.40" x2="271.53" y2="564.60" stroke="#dcdcdc" stroke-width="0.8"/>
<line x1="292.05" y1="440.40" x2="292.05" y2="564.60" stroke="#dcdcdc" stroke-width="0.8"/>
<line x1="312.57" y1="440.40" x2="312.57" y2="564.60" stroke="#dcdcdc" stroke-width="0.8"/>
<line x1="333.08" y1="440.40" x2="333.08" y2="564.60" stroke="#dcdcdc" stroke-width="0.8"/>
<line x1="353.60" y1="440.40" x2="353.60" y2="564.60" stroke="#dcdcdc" stroke-width="0.8"/>
<rect x="231.00" y="533.10" width="3.92" height="31.50" fill="#7fb1dd"/>
<rect x="235.92" y="530.40" width="3.92" height="34.20" fill="#7fb1dd"/>
<rect x="240.85" y="518.60" width="3.92" height="46.00" fill="#7fb1dd"/>
<rect x="245.77" y="501.70" width="3.92" height="62.90" fill="#7fb1dd"/>
<rect x="250.70" y="486.50" width="3.92" height="78.10" fill="#7fb1dd"/>
<rect x="255.62" y="474.20" width="3.92" height="90.40" fill="#7fb1dd"/>
<rect x="260.54" y="457.30" width="3.92" height="107.30" fill="#7fb1dd"/>
<rect x="265.47" y="454.50" width="3.92" height="110.10" fill="#7fb1dd"/>
<rect x="270.39" y="447.20" width="3.92" height="117.40" fill="#7fb1dd"/>
<rect x="275.32" y="446.90" width="3.92" height="117.70" fill="#7fb1dd"/>
<rect x="280.24" y="451.00" width="3.92" height="113.60" fill="#7fb1dd"/>
<rect x="285.16" y="457.30" width="3.92" height="107.30" fill="#7fb1dd"/>
<rect x="290.09" y="457.80" width="3.92" height="106.80" fill="#7fb1dd"/>
<rect x="295.01" y="476.90" width="3.92" height="87.70" fill="#7fb1dd"/>
<rect x="299.94" y="470.90" width="3.92" height="93.70" fill="#7fb1dd"/>
<rect x="304.86" y="481.00" width="3.92" height="83.60" fill="#7fb1dd"/>
<rect x="309.78" y="483.70" width="3.92" height="80.90" fill="#7fb1dd"/>
<rect x="314.71" y="489.50" width="3.92" height="75.10" fill="#7fb1dd"/>
<rect x="319.63" y="498.20" width="3.92" height="66.40" fill="#7fb1dd"/>
<rect x="324.56" y="496.30" width="3.92" height="68.30" fill="#7fb1dd"/>
<rect x="329.48" y="509.10" width="3.92" height="55.50" fill="#7fb1dd"/>
<rect x="334.40" y="505.00" width="3.92" height="59.60" fill="#7fb1dd"/>
<rect x="339.33" y="515.40" width="3.92" height="49.20" fill="#7fb1dd"/>
<rect x="344.25" y="517.30" width="3.92" height="47.30" fill="#7fb1dd"/>
<rect x="349.18" y="517.30" width="3.92" height="47.30" fill="#7fb1dd"/>
<line x1="223.50" y1="549.00" x2="359.60" y2="549.00" stroke="#000" stroke-opacity="0.07" stroke-width="0.8"/>
<line x1="223.50" y1="533.40" x2="359.60" y2="533.40" stroke="#000" stroke-opacity="0.07" stroke-width="0.8"/>
<line x1="223.50" y1="517.80" x2="359.60" y2="517.80" stroke="#000" stroke-opacity="0.07" stroke-width="0.8"/>
<line x1="223.50" y1="502.20" x2="359.60" y2="502.20" stroke="#000" stroke-opacity="0.07" stroke-width="0.8"/>
<line x1="223.50" y1="486.60" x2="359.60" y2="486.60" stroke="#000" stroke-opacity="0.07" stroke-width="0.8"/>
<line x1="223.50" y1="471.00" x2="359.60" y2="471.00" stroke="#000" stroke-opacity="0.07" stroke-width="0.8"/>
<line x1="223.50" y1="455.40" x2="359.60" y2="455.40" stroke="#000" stroke-opacity="0.07" stroke-width="0.8"/>
<text x="209.6" y="567.1" font-size="7.3" fill="#333" stroke="#333" stroke-width="0.18" text-anchor="middle">0</text>
<text x="209.6" y="551.5" font-size="7.3" fill="#333" stroke="#333" stroke-width="0.18" text-anchor="middle">2000</text>
<text x="209.6" y="535.9" font-size="7.3" fill="#333" stroke="#333" stroke-width="0.18" text-anchor="middle">4000</text>
<text x="209.6" y="520.3" font-size="7.3" fill="#333" stroke="#333" stroke-width="0.18" text-anchor="middle">6000</text>
<text x="209.6" y="504.7" font-size="7.3" fill="#333" stroke="#333" stroke-width="0.18" text-anchor="middle">8000</text>
<text x="209.6" y="489.1" font-size="7.3" fill="#333" stroke="#333" stroke-width="0.18" text-anchor="middle">10,000</text>
<text x="209.6" y="473.5" font-size="7.3" fill="#333" stroke="#333" stroke-width="0.18" text-anchor="middle">12,000</text>
<text x="209.6" y="457.9" font-size="7.3" fill="#333" stroke="#333" stroke-width="0.18" text-anchor="middle">14,000</text>
<text x="230.5" y="574.3" font-size="7.3" fill="#333" stroke="#333" stroke-width="0.18" text-anchor="middle">0</text>
<text x="251.0" y="574.3" font-size="7.3" fill="#333" stroke="#333" stroke-width="0.18" text-anchor="middle">100</text>
<text x="271.5" y="574.3" font-size="7.3" fill="#333" stroke="#333" stroke-width="0.18" text-anchor="middle">200</text>
<text x="292.1" y="574.3" font-size="7.3" fill="#333" stroke="#333" stroke-width="0.18" text-anchor="middle">300</text>
<text x="312.6" y="574.3" font-size="7.3" fill="#333" stroke="#333" stroke-width="0.18" text-anchor="middle">400</text>
<text x="333.1" y="574.3" font-size="7.3" fill="#333" stroke="#333" stroke-width="0.18" text-anchor="middle">500</text>
<text x="353.6" y="574.3" font-size="7.3" fill="#333" stroke="#333" stroke-width="0.18" text-anchor="middle">600</text>
<rect x="405.20" y="441.30" width="135.20" height="123.10" fill="#fff" stroke="#d8d8d8" stroke-width="0.8"/>
<line x1="405.20" y1="548.50" x2="540.40" y2="548.50" stroke="#dcdcdc" stroke-width="0.8"/>
<line x1="405.20" y1="532.60" x2="540.40" y2="532.60" stroke="#dcdcdc" stroke-width="0.8"/>
<line x1="405.20" y1="516.70" x2="540.40" y2="516.70" stroke="#dcdcdc" stroke-width="0.8"/>
<line x1="405.20" y1="500.80" x2="540.40" y2="500.80" stroke="#dcdcdc" stroke-width="0.8"/>
<line x1="405.20" y1="484.90" x2="540.40" y2="484.90" stroke="#dcdcdc" stroke-width="0.8"/>
<line x1="405.20" y1="469.00" x2="540.40" y2="469.00" stroke="#dcdcdc" stroke-width="0.8"/>
<line x1="405.20" y1="453.10" x2="540.40" y2="453.10" stroke="#dcdcdc" stroke-width="0.8"/>
<line x1="411.50" y1="441.30" x2="411.50" y2="564.40" stroke="#dcdcdc" stroke-width="0.8"/>
<line x1="431.85" y1="441.30" x2="431.85" y2="564.40" stroke="#dcdcdc" stroke-width="0.8"/>
<line x1="452.20" y1="441.30" x2="452.20" y2="564.40" stroke="#dcdcdc" stroke-width="0.8"/>
<line x1="472.55" y1="441.30" x2="472.55" y2="564.40" stroke="#dcdcdc" stroke-width="0.8"/>
<line x1="492.90" y1="441.30" x2="492.90" y2="564.40" stroke="#dcdcdc" stroke-width="0.8"/>
<line x1="513.25" y1="441.30" x2="513.25" y2="564.40" stroke="#dcdcdc" stroke-width="0.8"/>
<line x1="533.60" y1="441.30" x2="533.60" y2="564.40" stroke="#dcdcdc" stroke-width="0.8"/>
<rect x="412.00" y="552.70" width="3.88" height="11.70" fill="#7fb1dd"/>
<rect x="416.88" y="554.90" width="3.88" height="9.50" fill="#7fb1dd"/>
<rect x="421.77" y="550.80" width="3.88" height="13.60" fill="#7fb1dd"/>
<rect x="426.65" y="544.00" width="3.88" height="20.40" fill="#7fb1dd"/>
<rect x="431.54" y="540.40" width="3.88" height="24.00" fill="#7fb1dd"/>
<rect x="436.42" y="535.80" width="3.88" height="28.60" fill="#7fb1dd"/>
<rect x="441.30" y="531.40" width="3.88" height="33.00" fill="#7fb1dd"/>
<rect x="446.19" y="522.20" width="3.88" height="42.20" fill="#7fb1dd"/>
<rect x="451.07" y="515.40" width="3.88" height="49.00" fill="#7fb1dd"/>
<rect x="455.96" y="515.10" width="3.88" height="49.30" fill="#7fb1dd"/>
<rect x="460.84" y="509.10" width="3.88" height="55.30" fill="#7fb1dd"/>
<rect x="465.72" y="503.90" width="3.88" height="60.50" fill="#7fb1dd"/>
<rect x="470.61" y="498.20" width="3.88" height="66.20" fill="#7fb1dd"/>
<rect x="475.49" y="494.10" width="3.88" height="70.30" fill="#7fb1dd"/>
<rect x="480.38" y="490.50" width="3.88" height="73.90" fill="#7fb1dd"/>
<rect x="485.26" y="488.10" width="3.88" height="76.30" fill="#7fb1dd"/>
<rect x="490.14" y="485.10" width="3.88" height="79.30" fill="#7fb1dd"/>
<rect x="495.03" y="484.00" width="3.88" height="80.40" fill="#7fb1dd"/>
<rect x="499.91" y="480.70" width="3.88" height="83.70" fill="#7fb1dd"/>
<rect x="504.80" y="476.40" width="3.88" height="88.00" fill="#7fb1dd"/>
<rect x="509.68" y="464.10" width="3.88" height="100.30" fill="#7fb1dd"/>
<rect x="514.56" y="461.90" width="3.88" height="102.50" fill="#7fb1dd"/>
<rect x="519.45" y="460.30" width="3.88" height="104.10" fill="#7fb1dd"/>
<rect x="524.33" y="457.00" width="3.88" height="107.40" fill="#7fb1dd"/>
<rect x="529.22" y="447.70" width="3.88" height="116.70" fill="#7fb1dd"/>
<line x1="405.20" y1="548.50" x2="540.40" y2="548.50" stroke="#000" stroke-opacity="0.07" stroke-width="0.8"/>
<line x1="405.20" y1="532.60" x2="540.40" y2="532.60" stroke="#000" stroke-opacity="0.07" stroke-width="0.8"/>
<line x1="405.20" y1="516.70" x2="540.40" y2="516.70" stroke="#000" stroke-opacity="0.07" stroke-width="0.8"/>
<line x1="405.20" y1="500.80" x2="540.40" y2="500.80" stroke="#000" stroke-opacity="0.07" stroke-width="0.8"/>
<line x1="405.20" y1="484.90" x2="540.40" y2="484.90" stroke="#000" stroke-opacity="0.07" stroke-width="0.8"/>
<line x1="405.20" y1="469.00" x2="540.40" y2="469.00" stroke="#000" stroke-opacity="0.07" stroke-width="0.8"/>
<line x1="405.20" y1="453.10" x2="540.40" y2="453.10" stroke="#000" stroke-opacity="0.07" stroke-width="0.8"/>
<text x="392.6" y="566.9" font-size="7.3" fill="#333" stroke="#333" stroke-width="0.18" text-anchor="middle">0</text>
<text x="392.6" y="551.0" font-size="7.3" fill="#333" stroke="#333" stroke-width="0.18" text-anchor="middle">2500</text>
<text x="392.6" y="535.1" font-size="7.3" fill="#333" stroke="#333" stroke-width="0.18" text-anchor="middle">5000</text>
<text x="392.6" y="519.2" font-size="7.3" fill="#333" stroke="#333" stroke-width="0.18" text-anchor="middle">7500</text>
<text x="392.6" y="503.3" font-size="7.3" fill="#333" stroke="#333" stroke-width="0.18" text-anchor="middle">10,000</text>
<text x="392.6" y="487.4" font-size="7.3" fill="#333" stroke="#333" stroke-width="0.18" text-anchor="middle">12,500</text>
<text x="392.6" y="471.5" font-size="7.3" fill="#333" stroke="#333" stroke-width="0.18" text-anchor="middle">15,000</text>
<text x="392.6" y="455.6" font-size="7.3" fill="#333" stroke="#333" stroke-width="0.18" text-anchor="middle">17,500</text>
<text x="411.5" y="574.3" font-size="7.3" fill="#333" stroke="#333" stroke-width="0.18" text-anchor="middle">0</text>
<text x="431.9" y="574.3" font-size="7.3" fill="#333" stroke="#333" stroke-width="0.18" text-anchor="middle">100</text>
<text x="452.2" y="574.3" font-size="7.3" fill="#333" stroke="#333" stroke-width="0.18" text-anchor="middle">200</text>
<text x="472.6" y="574.3" font-size="7.3" fill="#333" stroke="#333" stroke-width="0.18" text-anchor="middle">300</text>
<text x="492.9" y="574.3" font-size="7.3" fill="#333" stroke="#333" stroke-width="0.18" text-anchor="middle">400</text>
<text x="513.2" y="574.3" font-size="7.3" fill="#333" stroke="#333" stroke-width="0.18" text-anchor="middle">500</text>
<text x="533.6" y="574.3" font-size="7.3" fill="#333" stroke="#333" stroke-width="0.18" text-anchor="middle">600</text>
<text x="190.1" y="322.2" font-size="9.2" fill="#333" stroke="#333" stroke-width="0.18" text-anchor="middle" textLength="73.6" lengthAdjust="spacingAndGlyphs" transform="rotate(-90 190.1 322.2)">Number of people</text>
<text x="375.6" y="325.4" font-size="9.2" fill="#333" stroke="#333" stroke-width="0.18" text-anchor="middle" textLength="72.1" lengthAdjust="spacingAndGlyphs" transform="rotate(-90 375.6 325.4)">Number of people</text>
<text x="14.3" y="502.1" font-size="9.2" fill="#333" stroke="#333" stroke-width="0.18" text-anchor="middle" textLength="72.3" lengthAdjust="spacingAndGlyphs" transform="rotate(-90 14.3 502.1)">Number of people</text>
<text x="194.3" y="501.8" font-size="9.2" fill="#333" stroke="#333" stroke-width="0.18" text-anchor="middle" textLength="71.7" lengthAdjust="spacingAndGlyphs" transform="rotate(-90 194.3 501.8)">Number of people</text>
<text x="374.8" y="501.0" font-size="9.2" fill="#333" stroke="#333" stroke-width="0.18" text-anchor="middle" textLength="72.5" lengthAdjust="spacingAndGlyphs" transform="rotate(-90 374.8 501.0)">Number of people</text>
<text x="244.5" y="399.6" font-size="8.8" fill="#333" stroke="#333" stroke-width="0.18" textLength="87.3" lengthAdjust="spacingAndGlyphs">Provision assessments</text>
<text x="435.5" y="401.8" font-size="8.8" fill="#333" stroke="#333" stroke-width="0.18" textLength="87.8" lengthAdjust="spacingAndGlyphs">Provision assessments</text>
<text x="91.1" y="585.5" font-size="8.8" fill="#333" stroke="#333" stroke-width="0.18" textLength="33.4" lengthAdjust="spacingAndGlyphs">Distance</text>
<text x="269.6" y="585.4" font-size="8.8" fill="#333" stroke="#333" stroke-width="0.18" textLength="33.6" lengthAdjust="spacingAndGlyphs">Distance</text>
<text x="449.1" y="587.3" font-size="8.8" fill="#333" stroke="#333" stroke-width="0.18" textLength="33.5" lengthAdjust="spacingAndGlyphs">Distance</text>
<text x="216.0" y="16.9" font-size="9.5" fill="#1a1a1a" stroke="#1a1a1a" stroke-width="0.18" textLength="115.5" lengthAdjust="spacingAndGlyphs">Provision assessments (ALM)</text>
<text x="382.0" y="17.3" font-size="9.5" fill="#1a1a1a" stroke="#1a1a1a" stroke-width="0.18" textLength="123.2" lengthAdjust="spacingAndGlyphs">Provision assessments (DCGM)</text>
<text x="240.5" y="233.9" font-size="9.5" fill="#1a1a1a" stroke="#1a1a1a" stroke-width="0.18" textLength="89.4" lengthAdjust="spacingAndGlyphs">Provision assessments</text>
<text x="247.8" y="244.9" font-size="9.5" fill="#1a1a1a" stroke="#1a1a1a" stroke-width="0.18" textLength="75.7" lengthAdjust="spacingAndGlyphs">obtained with ALM</text>
<text x="428.5" y="233.8" font-size="9.5" fill="#1a1a1a" stroke="#1a1a1a" stroke-width="0.18" textLength="89.1" lengthAdjust="spacingAndGlyphs">Provision assessments</text>
<text x="420.2" y="245.3" font-size="9.5" fill="#1a1a1a" stroke="#1a1a1a" stroke-width="0.18" textLength="109.1" lengthAdjust="spacingAndGlyphs">obtained with DCGM (β=0)</text>
<text x="47.3" y="429.8" font-size="9.6" fill="#111" textLength="121.3" lengthAdjust="spacingAndGlyphs" stroke="#111" stroke-width="0.35">Distance to the nearest facility</text>
<text x="249.1" y="422.4" font-size="9.6" fill="#111" textLength="79.6" lengthAdjust="spacingAndGlyphs" stroke="#111" stroke-width="0.35">Distance distibution</text>
<text x="251.8" y="433.6" font-size="9.6" fill="#111" textLength="76.4" lengthAdjust="spacingAndGlyphs" stroke="#111" stroke-width="0.35">obtained with ALM</text>
<text x="433.6" y="421.4" font-size="9.6" fill="#111" textLength="80.1" lengthAdjust="spacingAndGlyphs" stroke="#111" stroke-width="0.35">Distance distibution</text>
<text x="421.5" y="433.9" font-size="9.6" fill="#111" textLength="107.1" lengthAdjust="spacingAndGlyphs" stroke="#111" stroke-width="0.35">obtained with DCGM (β=0)</text>
<text x="11.3" y="17.4" font-size="10.2" fill="#222" stroke="#222" stroke-width="0.18" textLength="14.7" lengthAdjust="spacingAndGlyphs">(a)</text>
<text x="184.2" y="17.7" font-size="10.6" fill="#222" stroke="#222" stroke-width="0.18" textLength="14.3" lengthAdjust="spacingAndGlyphs">(b)</text>
<text x="356.7" y="18.1" font-size="10.5" fill="#222" stroke="#222" stroke-width="0.18" textLength="11.6" lengthAdjust="spacingAndGlyphs">(c)</text>
<text x="11.3" y="224.0" font-size="11.0" fill="#222" stroke="#222" stroke-width="0.18" textLength="14.7" lengthAdjust="spacingAndGlyphs">(d)</text>
<text x="216.4" y="227.3" font-size="11.8" fill="#222" stroke="#222" stroke-width="0.18" textLength="14.6" lengthAdjust="spacingAndGlyphs">(e)</text>
<text x="370.4" y="228.5" font-size="12.2" fill="#222" stroke="#222" stroke-width="0.18" textLength="12.0" lengthAdjust="spacingAndGlyphs">(f)</text>
<text x="13.6" y="418.7" font-size="10.2" fill="#222" stroke="#222" stroke-width="0.18" textLength="10.0" lengthAdjust="spacingAndGlyphs">g)</text>
<text x="196.0" y="418.4" font-size="9.7" fill="#222" stroke="#222" stroke-width="0.18" textLength="10.4" lengthAdjust="spacingAndGlyphs">h)</text>
<text x="373.8" y="419.3" font-size="10.0" fill="#222" stroke="#222" stroke-width="0.18" textLength="6.2" lengthAdjust="spacingAndGlyphs">i)</text>
</svg></body></html>
